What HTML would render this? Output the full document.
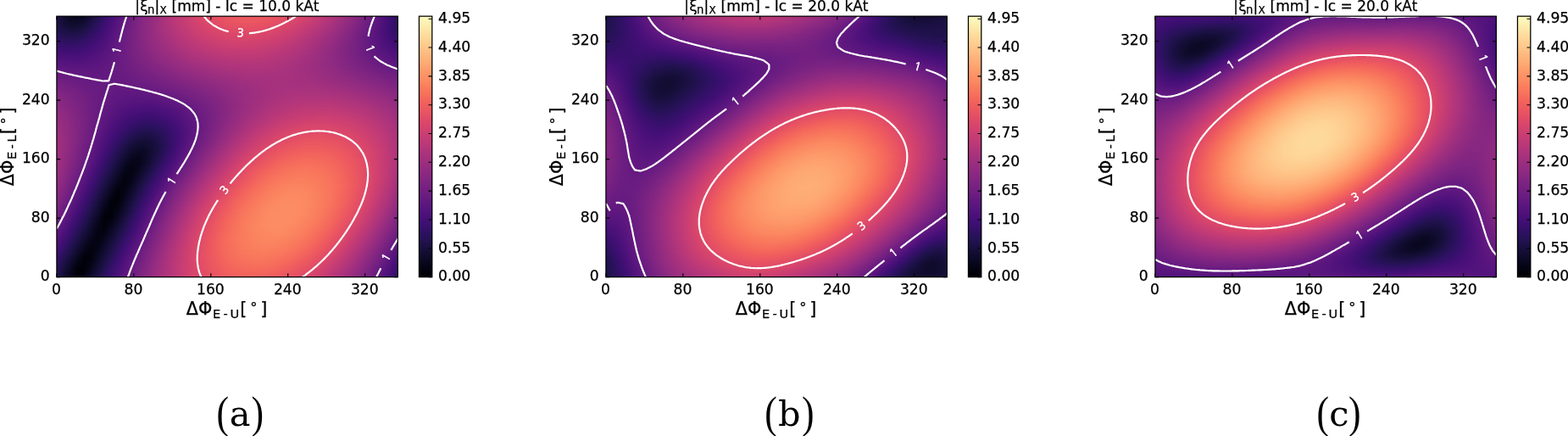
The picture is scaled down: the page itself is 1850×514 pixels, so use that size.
<!DOCTYPE html>
<html lang="en"><head><meta charset="utf-8"><title>figure</title><style>
html,body{margin:0;padding:0;background:#fff}
body{width:1850px;height:514px;overflow:hidden;position:relative}
.panel{position:absolute;top:0;width:560px;height:514px}
.heat{position:absolute;overflow:hidden}
.heat i{display:block;height:2px}
.cb{position:absolute}
.ov{position:absolute;left:0;top:0;overflow:visible}
text{font-family:"DejaVu Sans","Liberation Sans",sans-serif;fill:#000}
.cl{font-family:NanumGothic,"Liberation Sans","DejaVu Sans",sans-serif;font-size:13.2px;fill:#fff;stroke:#fff;stroke-width:0.6px;text-anchor:middle}
.tk text{font-size:17.2px;stroke:#000;stroke-width:0.25px}
.tt{font-size:17.0px;stroke:#000;stroke-width:0.25px;white-space:pre}
.tt .sb{font-size:12.0px}
.tt .sn{font-size:13.2px}
.lb{font-size:20.8px;stroke:#000;stroke-width:0.25px}
.lb .sb{font-size:14.6px}
.lb .dg{font-size:16.5px}
.caps{position:absolute;left:0;top:0;overflow:visible}
.cp{font-family:"Liberation Serif","DejaVu Serif",serif;font-size:52px}
.cq{font-family:"DejaVu Serif","Liberation Serif",serif;font-size:41.5px}
</style></head><body>
<div class="panel" style="left:0.00px">
<div class="heat" style="left:67px;top:19px;width:402px;height:308px"><i style="background:linear-gradient(90deg,#20114b,#130d34,#0a0822,#07061c,#0b0924,#150e38,#221150,#331067,#440f76,#52137c,#621980,#701f81,#7c2382,#892881,#962c80,#a1307e,#ad347c,#b83779,#c23b75,#ca3e72,#d3436e,#d9466b,#df4a68,#e44f64,#e85362,#eb5760,#ec5860,#ed5a5f,#ee5b5e,#ee5b5e,#ed5a5f,#eb5760,#e95462,#e75263,#e34e65,#de4968,#d8456c,#d0416f,#c83e73,#bf3a77,#b5367a,#ab337c,#a02f7f,#942c80,#882781,#792282,#6d1d81,#5d177f,#4f127b,#3f0f72,#2d1161)"></i><i style="background:linear-gradient(90deg,#20114b,#130d34,#0b0924,#090720,#0d0a29,#180f3d,#241253,#341069,#451077,#54137d,#621980,#701f81,#7e2482,#8b2981,#962c80,#a1307e,#ad347c,#b83779,#c03a76,#ca3e72,#d2426f,#d9466b,#df4a68,#e34e65,#e75263,#e95462,#eb5760,#ec5860,#ed5a5f,#ec5860,#eb5760,#ea5661,#e85362,#e44f64,#e04c67,#db476a,#d5446d,#cf4070,#c53c74,#bd3977,#b3367a,#aa337d,#9e2f7f,#912b81,#862781,#782281,#6b1d81,#5d177f,#4e117b,#3d0f71,#2c115f)"></i><i style="background:linear-gradient(90deg,#20114b,#140e36,#0c0926,#0b0924,#100b2d,#1a1042,#271258,#36106b,#471078,#56147d,#641a80,#721f81,#7e2482,#8b2981,#962c80,#a1307e,#ad347c,#b73779,#c03a76,#c83e73,#d0416f,#d8456c,#de4968,#e24d66,#e55064,#e85362,#ea5661,#eb5760,#eb5760,#eb5760,#ea5661,#e85362,#e55064,#e34e65,#de4968,#d9466b,#d3436e,#cc3f71,#c43c75,#ba3878,#b2357b,#a6317d,#9b2e7f,#902a81,#832681,#762181,#6a1c81,#5c167f,#4c117a,#3d0f71,#2c115f)"></i><i style="background:linear-gradient(90deg,#20114b,#140e36,#0e0b2b,#0d0a29,#120d31,#1c1044,#29115a,#38106c,#491078,#57157e,#651a80,#721f81,#7e2482,#8b2981,#962c80,#a1307e,#ad347c,#b73779,#c03a76,#c83e73,#d0416f,#d6456c,#dc4869,#e04c67,#e44f64,#e75263,#e95462,#ea5661,#ea5661,#ea5661,#e95462,#e75263,#e44f64,#e04c67,#dc4869,#d6456c,#d0416f,#c83e73,#c03a76,#b83779,#ae347b,#a5317e,#992d80,#8e2a81,#812581,#752181,#681c81,#5a167e,#4c117a,#3b0f70,#2c115f)"></i><i style="background:linear-gradient(90deg,#20114b,#150e38,#100b2d,#100b2d,#140e36,#1e1149,#2c115f,#3b0f70,#4a1079,#59157e,#651a80,#732081,#802582,#8b2981,#962c80,#a1307e,#ad347c,#b73779,#bf3a77,#c73d73,#cf4070,#d5446d,#db476a,#df4a68,#e34e65,#e55064,#e75263,#e85362,#e85362,#e85362,#e75263,#e44f64,#e24d66,#df4a68,#d9466b,#d5446d,#cd4071,#c73d73,#bf3a77,#b73779,#ad347c,#a1307e,#982d80,#8c2981,#802582,#732081,#671b80,#59157e,#4a1079,#3b0f70,#2c115f)"></i><i style="background:linear-gradient(90deg,#21114e,#160f3b,#120d31,#120d31,#160f3b,#21114e,#2d1161,#3d0f71,#4c117a,#59157e,#671b80,#732081,#802582,#8b2981,#962c80,#a1307e,#ab337c,#b5367a,#bf3a77,#c73d73,#cd4071,#d3436e,#d9466b,#de4968,#e24d66,#e44f64,#e55064,#e75263,#e75263,#e75263,#e55064,#e34e65,#e04c67,#dc4869,#d8456c,#d2426f,#cc3f71,#c43c75,#bc3978,#b3367a,#aa337d,#a02f7f,#962c80,#8b2981,#7e2482,#721f81,#651a80,#59157e,#4a1079,#3b0f70,#2c115f)"></i><i style="background:linear-gradient(90deg,#21114e,#19103f,#140e36,#140e36,#19103f,#221150,#2f1163,#3f0f72,#4e117b,#5a167e,#671b80,#732081,#802582,#8b2981,#962c80,#a1307e,#ab337c,#b5367a,#bd3977,#c53c74,#cc3f71,#d2426f,#d8456c,#dc4869,#df4a68,#e24d66,#e44f64,#e44f64,#e55064,#e44f64,#e34e65,#e04c67,#de4968,#d9466b,#d5446d,#d0416f,#c83e73,#c23b75,#ba3878,#b2357b,#a8327d,#9e2f7f,#932b80,#892881,#7c2382,#721f81,#651a80,#57157e,#4a1079,#3b0f70,#2c115f)"></i><i style="background:linear-gradient(90deg,#221150,#1a1042,#160f3b,#160f3b,#1c1044,#251255,#331067,#400f74,#4e117b,#5c167f,#681c81,#752181,#802582,#8b2981,#962c80,#a1307e,#ab337c,#b3367a,#bc3978,#c43c75,#ca3e72,#d0416f,#d6456c,#db476a,#de4968,#e04c67,#e24d66,#e34e65,#e34e65,#e34e65,#e24d66,#df4a68,#dc4869,#d8456c,#d3436e,#cd4071,#c73d73,#bf3a77,#b83779,#ae347b,#a6317d,#9c2e7f,#912b81,#882781,#7b2382,#701f81,#641a80,#57157e,#491078,#3b0f70,#2d1161)"></i><i style="background:linear-gradient(90deg,#241253,#1d1147,#19103f,#19103f,#1e1149,#29115a,#341069,#420f75,#4f127b,#5c167f,#681c81,#752181,#802582,#8b2981,#962c80,#a02f7f,#aa337d,#b3367a,#bc3978,#c23b75,#ca3e72,#cf4070,#d5446d,#d9466b,#dc4869,#df4a68,#e04c67,#e24d66,#e24d66,#e04c67,#df4a68,#dc4869,#d9466b,#d5446d,#d0416f,#cc3f71,#c43c75,#bd3977,#b5367a,#ad347c,#a5317e,#9b2e7f,#902a81,#862781,#7b2382,#6e1e81,#621980,#56147d,#491078,#3b0f70,#2d1161)"></i><i style="background:linear-gradient(90deg,#251255,#1e1149,#1c1044,#1c1044,#21114e,#2a115c,#36106b,#440f76,#51127c,#5d177f,#6a1c81,#752181,#812581,#8b2981,#962c80,#a02f7f,#aa337d,#b2357b,#ba3878,#c03a76,#c83e73,#cd4071,#d3436e,#d6456c,#db476a,#dc4869,#df4a68,#df4a68,#df4a68,#df4a68,#dc4869,#db476a,#d8456c,#d3436e,#cf4070,#c83e73,#c23b75,#bc3978,#b3367a,#ab337c,#a1307e,#982d80,#8e2a81,#842681,#792282,#6e1e81,#621980,#56147d,#491078,#3d0f71,#2f1163)"></i><i style="background:linear-gradient(90deg,#271258,#21114e,#1e1149,#20114b,#241253,#2d1161,#390f6e,#451077,#52137c,#5f187f,#6a1c81,#762181,#812581,#8b2981,#962c80,#a02f7f,#a8327d,#b0357b,#b83779,#c03a76,#c73d73,#cc3f71,#d0416f,#d5446d,#d8456c,#db476a,#dc4869,#de4968,#de4968,#dc4869,#db476a,#d8456c,#d5446d,#d0416f,#cc3f71,#c73d73,#c03a76,#b83779,#b2357b,#aa337d,#a02f7f,#962c80,#8c2981,#832681,#782281,#6d1d81,#621980,#56147d,#4a1079,#3d0f71,#311165)"></i><i style="background:linear-gradient(90deg,#2a115c,#241253,#21114e,#221150,#271258,#311165,#3b0f70,#471078,#54137d,#5f187f,#6b1d81,#762181,#812581,#8b2981,#942c80,#9e2f7f,#a8327d,#b0357b,#b73779,#bf3a77,#c53c74,#ca3e72,#cf4070,#d3436e,#d6456c,#d9466b,#db476a,#db476a,#db476a,#db476a,#d8456c,#d6456c,#d2426f,#cf4070,#ca3e72,#c43c75,#bd3977,#b73779,#ae347b,#a6317d,#9e2f7f,#942c80,#8b2981,#812581,#782281,#6d1d81,#601880,#56147d,#4a1079,#3f0f72,#331067)"></i><i style="background:linear-gradient(90deg,#2c115f,#251255,#241253,#251255,#2a115c,#331067,#3d0f71,#491078,#56147d,#601880,#6b1d81,#762181,#812581,#8b2981,#942c80,#9e2f7f,#a6317d,#ae347b,#b5367a,#bd3977,#c43c75,#c83e73,#cd4071,#d2426f,#d5446d,#d6456c,#d8456c,#d9466b,#d9466b,#d8456c,#d6456c,#d3436e,#d0416f,#cc3f71,#c73d73,#c23b75,#bc3978,#b5367a,#ad347c,#a5317e,#9c2e7f,#932b80,#8b2981,#802582,#762181,#6b1d81,#601880,#56147d,#4a1079,#3f0f72,#341069)"></i><i style="background:linear-gradient(90deg,#2f1163,#29115a,#271258,#29115a,#2d1161,#36106b,#400f74,#4a1079,#56147d,#601880,#6b1d81,#762181,#812581,#8b2981,#942c80,#9c2e7f,#a5317e,#ad347c,#b5367a,#bc3978,#c03a76,#c73d73,#cc3f71,#cf4070,#d2426f,#d5446d,#d6456c,#d6456c,#d6456c,#d5446d,#d3436e,#d2426f,#cd4071,#ca3e72,#c53c74,#bf3a77,#ba3878,#b2357b,#ab337c,#a3307e,#9b2e7f,#932b80,#892881,#802582,#762181,#6b1d81,#601880,#56147d,#4c117a,#400f74,#36106b)"></i><i style="background:linear-gradient(90deg,#311165,#2c115f,#2a115c,#2c115f,#311165,#38106c,#420f75,#4c117a,#57157e,#621980,#6d1d81,#762181,#802582,#892881,#932b80,#9b2e7f,#a5317e,#ab337c,#b3367a,#ba3878,#bf3a77,#c53c74,#c83e73,#cd4071,#d0416f,#d2426f,#d3436e,#d5446d,#d5446d,#d3436e,#d2426f,#cf4070,#cc3f71,#c73d73,#c23b75,#bd3977,#b73779,#b0357b,#aa337d,#a1307e,#992d80,#912b81,#882781,#7e2482,#752181,#6b1d81,#601880,#57157e,#4c117a,#420f75,#38106c)"></i><i style="background:linear-gradient(90deg,#341069,#2f1163,#2d1161,#2f1163,#341069,#3b0f70,#440f76,#4e117b,#59157e,#621980,#6d1d81,#762181,#802582,#892881,#932b80,#9b2e7f,#a3307e,#aa337d,#b2357b,#b83779,#bd3977,#c23b75,#c73d73,#ca3e72,#cd4071,#d0416f,#d2426f,#d2426f,#d2426f,#d0416f,#cf4070,#cd4071,#ca3e72,#c53c74,#c03a76,#bc3978,#b5367a,#ae347b,#a8327d,#a02f7f,#982d80,#902a81,#882781,#7e2482,#752181,#6b1d81,#601880,#57157e,#4e117b,#440f76,#3b0f70)"></i><i style="background:linear-gradient(90deg,#36106b,#331067,#311165,#331067,#36106b,#3f0f72,#471078,#4f127b,#59157e,#641a80,#6d1d81,#762181,#802582,#892881,#912b81,#992d80,#a1307e,#a8327d,#b0357b,#b5367a,#bc3978,#c03a76,#c53c74,#c83e73,#cc3f71,#cd4071,#cf4070,#d0416f,#cf4070,#cf4070,#cd4071,#ca3e72,#c73d73,#c43c75,#bf3a77,#b83779,#b3367a,#ad347c,#a6317d,#9e2f7f,#962c80,#8e2a81,#862781,#7e2482,#752181,#6b1d81,#621980,#59157e,#4f127b,#451077,#3d0f71)"></i><i style="background:linear-gradient(90deg,#390f6e,#36106b,#341069,#36106b,#390f6e,#400f74,#491078,#51127c,#5a167e,#641a80,#6d1d81,#762181,#802582,#882781,#912b81,#992d80,#a02f7f,#a8327d,#ae347b,#b3367a,#ba3878,#bf3a77,#c23b75,#c73d73,#c83e73,#cc3f71,#cd4071,#cd4071,#cd4071,#cc3f71,#ca3e72,#c83e73,#c53c74,#c03a76,#bc3978,#b73779,#b2357b,#ab337c,#a5317e,#9c2e7f,#962c80,#8e2a81,#862781,#7c2382,#752181,#6b1d81,#621980,#59157e,#4f127b,#471078,#400f74)"></i><i style="background:linear-gradient(90deg,#3d0f71,#390f6e,#38106c,#390f6e,#3d0f71,#440f76,#4a1079,#52137c,#5c167f,#641a80,#6d1d81,#762181,#802582,#882781,#902a81,#982d80,#9e2f7f,#a6317d,#ad347c,#b2357b,#b73779,#bc3978,#c03a76,#c43c75,#c73d73,#c83e73,#ca3e72,#ca3e72,#ca3e72,#ca3e72,#c83e73,#c53c74,#c23b75,#bf3a77,#ba3878,#b5367a,#b0357b,#aa337d,#a3307e,#9c2e7f,#942c80,#8c2981,#842681,#7c2382,#752181,#6b1d81,#621980,#5a167e,#51127c,#491078,#420f75)"></i><i style="background:linear-gradient(90deg,#400f74,#3d0f71,#3b0f70,#3d0f71,#400f74,#451077,#4c117a,#54137d,#5c167f,#651a80,#6d1d81,#762181,#7e2482,#862781,#8e2a81,#962c80,#9c2e7f,#a5317e,#aa337d,#b0357b,#b5367a,#ba3878,#bf3a77,#c23b75,#c43c75,#c73d73,#c73d73,#c83e73,#c83e73,#c73d73,#c53c74,#c43c75,#c03a76,#bd3977,#b83779,#b3367a,#ae347b,#a8327d,#a1307e,#9b2e7f,#942c80,#8c2981,#842681,#7c2382,#752181,#6b1d81,#641a80,#5c167f,#52137c,#4c117a,#451077)"></i><i style="background:linear-gradient(90deg,#440f76,#400f74,#3f0f72,#3f0f72,#420f75,#471078,#4e117b,#56147d,#5d177f,#651a80,#6d1d81,#762181,#7e2482,#862781,#8e2a81,#942c80,#9b2e7f,#a3307e,#a8327d,#ae347b,#b3367a,#b83779,#bc3978,#bf3a77,#c23b75,#c43c75,#c53c74,#c53c74,#c53c74,#c53c74,#c43c75,#c03a76,#bf3a77,#ba3878,#b73779,#b2357b,#ad347c,#a6317d,#a02f7f,#992d80,#932b80,#8c2981,#842681,#7c2382,#752181,#6d1d81,#651a80,#5c167f,#56147d,#4e117b,#471078)"></i><i style="background:linear-gradient(90deg,#451077,#420f75,#420f75,#420f75,#451077,#4a1079,#4f127b,#57157e,#5d177f,#651a80,#6d1d81,#762181,#7c2382,#842681,#8c2981,#932b80,#9b2e7f,#a02f7f,#a6317d,#ab337c,#b2357b,#b5367a,#ba3878,#bd3977,#bf3a77,#c23b75,#c23b75,#c43c75,#c43c75,#c23b75,#c03a76,#bf3a77,#bc3978,#b83779,#b5367a,#b0357b,#ab337c,#a5317e,#a02f7f,#992d80,#932b80,#8b2981,#842681,#7c2382,#752181,#6d1d81,#651a80,#5d177f,#57157e,#51127c,#4a1079)"></i><i style="background:linear-gradient(90deg,#491078,#451077,#451077,#451077,#491078,#4c117a,#52137c,#59157e,#5f187f,#671b80,#6d1d81,#752181,#7c2382,#842681,#8b2981,#912b81,#992d80,#9e2f7f,#a5317e,#aa337d,#ae347b,#b3367a,#b73779,#ba3878,#bd3977,#bf3a77,#c03a76,#c03a76,#c03a76,#c03a76,#bf3a77,#bd3977,#ba3878,#b73779,#b3367a,#ae347b,#aa337d,#a5317e,#9e2f7f,#982d80,#912b81,#8b2981,#842681,#7c2382,#752181,#6e1e81,#671b80,#5f187f,#59157e,#52137c,#4e117b)"></i><i style="background:linear-gradient(90deg,#4c117a,#491078,#471078,#491078,#4a1079,#4f127b,#54137d,#59157e,#5f187f,#671b80,#6d1d81,#752181,#7c2382,#832681,#892881,#912b81,#962c80,#9c2e7f,#a3307e,#a8327d,#ad347c,#b0357b,#b5367a,#b83779,#ba3878,#bc3978,#bd3977,#bf3a77,#bf3a77,#bd3977,#bd3977,#ba3878,#b83779,#b5367a,#b2357b,#ad347c,#a8327d,#a3307e,#9e2f7f,#982d80,#912b81,#8b2981,#842681,#7c2382,#762181,#6e1e81,#681c81,#601880,#5a167e,#54137d,#4f127b)"></i><i style="background:linear-gradient(90deg,#4f127b,#4c117a,#4a1079,#4c117a,#4e117b,#51127c,#56147d,#5a167e,#601880,#671b80,#6d1d81,#752181,#7b2382,#812581,#892881,#902a81,#942c80,#9b2e7f,#a02f7f,#a6317d,#aa337d,#ae347b,#b2357b,#b5367a,#b83779,#ba3878,#bc3978,#bc3978,#bc3978,#bc3978,#ba3878,#b83779,#b73779,#b3367a,#b0357b,#ab337c,#a6317d,#a1307e,#9c2e7f,#982d80,#912b81,#8b2981,#842681,#7e2482,#762181,#701f81,#6a1c81,#641a80,#5d177f,#57157e,#52137c)"></i><i style="background:linear-gradient(90deg,#52137c,#4f127b,#4e117b,#4e117b,#4f127b,#52137c,#57157e,#5c167f,#601880,#671b80,#6d1d81,#732081,#7b2382,#812581,#882781,#8e2a81,#932b80,#992d80,#9e2f7f,#a3307e,#a8327d,#ab337c,#b0357b,#b3367a,#b5367a,#b73779,#b83779,#ba3878,#ba3878,#ba3878,#b83779,#b73779,#b5367a,#b2357b,#ae347b,#aa337d,#a6317d,#a1307e,#9c2e7f,#962c80,#912b81,#8b2981,#842681,#7e2482,#782281,#721f81,#6b1d81,#651a80,#5f187f,#5a167e,#56147d)"></i><i style="background:linear-gradient(90deg,#54137d,#52137c,#51127c,#51127c,#52137c,#54137d,#59157e,#5c167f,#621980,#671b80,#6d1d81,#732081,#792282,#802582,#862781,#8c2981,#912b81,#982d80,#9c2e7f,#a1307e,#a6317d,#aa337d,#ad347c,#b0357b,#b3367a,#b5367a,#b73779,#b73779,#b73779,#b73779,#b73779,#b5367a,#b2357b,#b0357b,#ad347c,#aa337d,#a5317e,#a02f7f,#9b2e7f,#962c80,#912b81,#8b2981,#842681,#802582,#792282,#732081,#6d1d81,#671b80,#601880,#5c167f,#57157e)"></i><i style="background:linear-gradient(90deg,#57157e,#56147d,#54137d,#52137c,#54137d,#56147d,#59157e,#5d177f,#621980,#671b80,#6d1d81,#732081,#782281,#7e2482,#842681,#8b2981,#902a81,#942c80,#992d80,#9e2f7f,#a3307e,#a8327d,#ab337c,#ae347b,#b0357b,#b2357b,#b3367a,#b5367a,#b5367a,#b5367a,#b3367a,#b3367a,#b0357b,#ae347b,#ab337c,#a8327d,#a5317e,#a02f7f,#9b2e7f,#962c80,#912b81,#8b2981,#862781,#802582,#792282,#752181,#6e1e81,#681c81,#641a80,#5f187f,#5a167e)"></i><i style="background:linear-gradient(90deg,#5a167e,#57157e,#56147d,#56147d,#56147d,#59157e,#5a167e,#5f187f,#621980,#671b80,#6d1d81,#721f81,#782281,#7c2382,#832681,#882781,#8e2a81,#932b80,#982d80,#9c2e7f,#a1307e,#a5317e,#a8327d,#ab337c,#ae347b,#b0357b,#b2357b,#b2357b,#b3367a,#b3367a,#b2357b,#b2357b,#ae347b,#ad347c,#aa337d,#a8327d,#a3307e,#a02f7f,#9b2e7f,#962c80,#912b81,#8c2981,#862781,#812581,#7b2382,#762181,#701f81,#6b1d81,#651a80,#601880,#5d177f)"></i><i style="background:linear-gradient(90deg,#5d177f,#5a167e,#59157e,#59157e,#59157e,#5a167e,#5c167f,#5f187f,#641a80,#671b80,#6d1d81,#721f81,#762181,#7c2382,#812581,#862781,#8c2981,#912b81,#962c80,#9b2e7f,#9e2f7f,#a3307e,#a6317d,#aa337d,#ab337c,#ad347c,#ae347b,#b0357b,#b0357b,#b0357b,#b0357b,#b0357b,#ae347b,#ab337c,#aa337d,#a6317d,#a3307e,#a02f7f,#9b2e7f,#962c80,#912b81,#8c2981,#882781,#832681,#7c2382,#782281,#721f81,#6d1d81,#681c81,#641a80,#601880)"></i><i style="background:linear-gradient(90deg,#5f187f,#5d177f,#5c167f,#5a167e,#5a167e,#5c167f,#5d177f,#601880,#641a80,#671b80,#6b1d81,#701f81,#752181,#7b2382,#802582,#842681,#892881,#8e2a81,#932b80,#982d80,#9c2e7f,#a02f7f,#a3307e,#a6317d,#aa337d,#ab337c,#ad347c,#ae347b,#ae347b,#ae347b,#ae347b,#ae347b,#ad347c,#ab337c,#a8327d,#a6317d,#a3307e,#9e2f7f,#9b2e7f,#962c80,#932b80,#8e2a81,#892881,#832681,#7e2482,#792282,#752181,#701f81,#6a1c81,#671b80,#621980)"></i><i style="background:linear-gradient(90deg,#621980,#5f187f,#5d177f,#5c167f,#5c167f,#5d177f,#5f187f,#601880,#641a80,#671b80,#6b1d81,#701f81,#752181,#792282,#7e2482,#832681,#882781,#8c2981,#912b81,#962c80,#992d80,#9e2f7f,#a1307e,#a5317e,#a6317d,#aa337d,#ab337c,#ab337c,#ad347c,#ad347c,#ad347c,#ad347c,#ab337c,#aa337d,#a8327d,#a5317e,#a1307e,#9e2f7f,#9b2e7f,#982d80,#932b80,#8e2a81,#892881,#842681,#802582,#7b2382,#762181,#721f81,#6d1d81,#681c81,#651a80)"></i><i style="background:linear-gradient(90deg,#651a80,#621980,#601880,#5f187f,#5d177f,#5f187f,#5f187f,#621980,#641a80,#671b80,#6b1d81,#6e1e81,#732081,#782281,#7c2382,#812581,#862781,#8b2981,#902a81,#932b80,#982d80,#9b2e7f,#9e2f7f,#a1307e,#a5317e,#a6317d,#a8327d,#aa337d,#ab337c,#ab337c,#ab337c,#ab337c,#aa337d,#a8327d,#a6317d,#a5317e,#a1307e,#a02f7f,#9b2e7f,#982d80,#942c80,#902a81,#8b2981,#862781,#812581,#7c2382,#782281,#732081,#701f81,#6b1d81,#681c81)"></i><i style="background:linear-gradient(90deg,#671b80,#651a80,#621980,#601880,#601880,#601880,#601880,#621980,#641a80,#671b80,#6a1c81,#6e1e81,#721f81,#762181,#7b2382,#802582,#842681,#882781,#8c2981,#912b81,#942c80,#992d80,#9c2e7f,#a02f7f,#a1307e,#a5317e,#a6317d,#a8327d,#aa337d,#aa337d,#aa337d,#aa337d,#aa337d,#a8327d,#a6317d,#a5317e,#a1307e,#a02f7f,#9c2e7f,#992d80,#942c80,#912b81,#8c2981,#882781,#842681,#802582,#7b2382,#762181,#721f81,#6e1e81,#6a1c81)"></i><i style="background:linear-gradient(90deg,#6a1c81,#671b80,#651a80,#621980,#621980,#601880,#621980,#621980,#641a80,#671b80,#6a1c81,#6d1d81,#701f81,#752181,#792282,#7c2382,#812581,#862781,#8b2981,#8e2a81,#932b80,#962c80,#992d80,#9c2e7f,#a02f7f,#a1307e,#a5317e,#a6317d,#a8327d,#a8327d,#a8327d,#a8327d,#a8327d,#a8327d,#a6317d,#a5317e,#a1307e,#a02f7f,#9c2e7f,#992d80,#962c80,#932b80,#8e2a81,#892881,#862781,#812581,#7c2382,#782281,#752181,#701f81,#6d1d81)"></i><i style="background:linear-gradient(90deg,#6d1d81,#6a1c81,#671b80,#651a80,#641a80,#621980,#621980,#641a80,#651a80,#671b80,#681c81,#6b1d81,#701f81,#732081,#762181,#7b2382,#802582,#842681,#882781,#8c2981,#902a81,#942c80,#982d80,#9b2e7f,#9e2f7f,#a02f7f,#a1307e,#a5317e,#a6317d,#a6317d,#a8327d,#a8327d,#a8327d,#a6317d,#a6317d,#a5317e,#a3307e,#a02f7f,#9e2f7f,#9b2e7f,#982d80,#932b80,#902a81,#8c2981,#882781,#832681,#802582,#7b2382,#762181,#732081,#701f81)"></i><i style="background:linear-gradient(90deg,#6e1e81,#6b1d81,#681c81,#671b80,#651a80,#641a80,#641a80,#641a80,#651a80,#671b80,#681c81,#6b1d81,#6e1e81,#721f81,#752181,#792282,#7c2382,#812581,#862781,#892881,#8e2a81,#912b81,#942c80,#982d80,#9b2e7f,#9e2f7f,#a02f7f,#a3307e,#a5317e,#a5317e,#a6317d,#a6317d,#a6317d,#a6317d,#a6317d,#a5317e,#a3307e,#a1307e,#9e2f7f,#9b2e7f,#982d80,#942c80,#912b81,#8e2a81,#892881,#862781,#812581,#7e2482,#792282,#762181,#721f81)"></i><i style="background:linear-gradient(90deg,#721f81,#6e1e81,#6b1d81,#681c81,#671b80,#651a80,#641a80,#641a80,#651a80,#651a80,#671b80,#6a1c81,#6d1d81,#701f81,#732081,#782281,#7b2382,#802582,#832681,#882781,#8b2981,#902a81,#932b80,#962c80,#992d80,#9c2e7f,#9e2f7f,#a1307e,#a3307e,#a5317e,#a5317e,#a6317d,#a6317d,#a6317d,#a5317e,#a5317e,#a3307e,#a1307e,#a02f7f,#9c2e7f,#992d80,#962c80,#932b80,#902a81,#8c2981,#882781,#842681,#802582,#7c2382,#782281,#752181)"></i><i style="background:linear-gradient(90deg,#732081,#701f81,#6d1d81,#6a1c81,#681c81,#671b80,#651a80,#641a80,#651a80,#651a80,#671b80,#681c81,#6b1d81,#6e1e81,#721f81,#752181,#792282,#7c2382,#812581,#842681,#892881,#8c2981,#902a81,#942c80,#982d80,#992d80,#9c2e7f,#a02f7f,#a1307e,#a3307e,#a5317e,#a5317e,#a6317d,#a6317d,#a6317d,#a5317e,#a3307e,#a3307e,#a02f7f,#9e2f7f,#9b2e7f,#982d80,#942c80,#912b81,#8e2a81,#8b2981,#862781,#832681,#7e2482,#7b2382,#762181)"></i><i style="background:linear-gradient(90deg,#762181,#721f81,#6e1e81,#6b1d81,#6a1c81,#671b80,#651a80,#651a80,#641a80,#651a80,#651a80,#671b80,#6a1c81,#6d1d81,#701f81,#732081,#762181,#7b2382,#7e2482,#832681,#862781,#8b2981,#8e2a81,#912b81,#942c80,#982d80,#9b2e7f,#9e2f7f,#a02f7f,#a1307e,#a3307e,#a5317e,#a5317e,#a6317d,#a6317d,#a5317e,#a5317e,#a3307e,#a1307e,#a02f7f,#9c2e7f,#9b2e7f,#982d80,#942c80,#902a81,#8c2981,#892881,#842681,#812581,#7c2382,#792282)"></i><i style="background:linear-gradient(90deg,#782281,#752181,#701f81,#6d1d81,#6a1c81,#681c81,#671b80,#651a80,#641a80,#641a80,#651a80,#671b80,#681c81,#6a1c81,#6d1d81,#701f81,#752181,#782281,#7c2382,#802582,#842681,#882781,#8c2981,#902a81,#932b80,#962c80,#992d80,#9c2e7f,#9e2f7f,#a1307e,#a3307e,#a5317e,#a5317e,#a6317d,#a6317d,#a6317d,#a5317e,#a5317e,#a3307e,#a1307e,#9e2f7f,#9c2e7f,#992d80,#962c80,#932b80,#902a81,#8b2981,#882781,#832681,#802582,#7b2382)"></i><i style="background:linear-gradient(90deg,#792282,#762181,#721f81,#6e1e81,#6b1d81,#681c81,#671b80,#651a80,#641a80,#641a80,#641a80,#651a80,#671b80,#681c81,#6b1d81,#6e1e81,#721f81,#762181,#792282,#7e2482,#812581,#862781,#892881,#8e2a81,#912b81,#942c80,#982d80,#9b2e7f,#9e2f7f,#a02f7f,#a3307e,#a5317e,#a5317e,#a6317d,#a6317d,#a6317d,#a6317d,#a6317d,#a5317e,#a3307e,#a1307e,#9e2f7f,#9b2e7f,#982d80,#942c80,#912b81,#8e2a81,#892881,#862781,#812581,#7e2482)"></i><i style="background:linear-gradient(90deg,#7c2382,#782281,#752181,#701f81,#6d1d81,#6a1c81,#671b80,#651a80,#641a80,#621980,#621980,#641a80,#651a80,#671b80,#6a1c81,#6b1d81,#701f81,#732081,#782281,#7b2382,#802582,#832681,#882781,#8b2981,#902a81,#932b80,#962c80,#992d80,#9c2e7f,#a02f7f,#a1307e,#a5317e,#a5317e,#a6317d,#a8327d,#a8327d,#a8327d,#a6317d,#a6317d,#a5317e,#a3307e,#a02f7f,#9e2f7f,#9b2e7f,#982d80,#942c80,#902a81,#8c2981,#882781,#842681,#802582)"></i><i style="background:linear-gradient(90deg,#7e2482,#792282,#762181,#721f81,#6e1e81,#6a1c81,#681c81,#651a80,#641a80,#621980,#621980,#621980,#641a80,#651a80,#671b80,#6a1c81,#6d1d81,#701f81,#752181,#792282,#7c2382,#812581,#862781,#892881,#8e2a81,#912b81,#962c80,#992d80,#9c2e7f,#a02f7f,#a1307e,#a5317e,#a6317d,#a6317d,#a8327d,#a8327d,#a8327d,#a8327d,#a8327d,#a6317d,#a5317e,#a3307e,#a02f7f,#9c2e7f,#992d80,#962c80,#932b80,#8e2a81,#8b2981,#862781,#832681)"></i><i style="background:linear-gradient(90deg,#802582,#7b2382,#782281,#732081,#6e1e81,#6b1d81,#681c81,#651a80,#621980,#601880,#601880,#601880,#601880,#621980,#651a80,#671b80,#6b1d81,#6e1e81,#721f81,#762181,#7b2382,#802582,#832681,#882781,#8c2981,#902a81,#942c80,#982d80,#9b2e7f,#9e2f7f,#a1307e,#a5317e,#a6317d,#a8327d,#aa337d,#aa337d,#aa337d,#aa337d,#aa337d,#a8327d,#a6317d,#a5317e,#a3307e,#a02f7f,#9c2e7f,#992d80,#942c80,#912b81,#8c2981,#892881,#842681)"></i><i style="background:linear-gradient(90deg,#832681,#7e2482,#792282,#752181,#701f81,#6b1d81,#681c81,#651a80,#621980,#601880,#5f187f,#5f187f,#5f187f,#601880,#621980,#651a80,#681c81,#6b1d81,#701f81,#752181,#782281,#7c2382,#812581,#862781,#8b2981,#902a81,#932b80,#982d80,#9b2e7f,#9e2f7f,#a1307e,#a5317e,#a6317d,#a8327d,#aa337d,#ab337c,#ab337c,#ab337c,#ab337c,#aa337d,#aa337d,#a6317d,#a5317e,#a1307e,#9e2f7f,#9b2e7f,#982d80,#932b80,#902a81,#8b2981,#862781)"></i><i style="background:linear-gradient(90deg,#842681,#802582,#7b2382,#752181,#721f81,#6d1d81,#681c81,#651a80,#621980,#5f187f,#5d177f,#5d177f,#5d177f,#5f187f,#601880,#621980,#651a80,#6a1c81,#6d1d81,#721f81,#762181,#7b2382,#802582,#842681,#892881,#8e2a81,#932b80,#962c80,#9b2e7f,#9e2f7f,#a1307e,#a5317e,#a8327d,#aa337d,#ab337c,#ad347c,#ad347c,#ad347c,#ad347c,#ad347c,#ab337c,#aa337d,#a6317d,#a5317e,#a1307e,#9e2f7f,#992d80,#962c80,#912b81,#8c2981,#882781)"></i><i style="background:linear-gradient(90deg,#862781,#812581,#7b2382,#762181,#721f81,#6d1d81,#681c81,#651a80,#601880,#5f187f,#5c167f,#5c167f,#5c167f,#5c167f,#5d177f,#601880,#641a80,#671b80,#6b1d81,#701f81,#752181,#792282,#7e2482,#832681,#882781,#8c2981,#912b81,#962c80,#9b2e7f,#9e2f7f,#a1307e,#a5317e,#a8327d,#ab337c,#ad347c,#ae347b,#ae347b,#ae347b,#ae347b,#ae347b,#ad347c,#ab337c,#aa337d,#a6317d,#a3307e,#a02f7f,#9c2e7f,#982d80,#942c80,#902a81,#8b2981)"></i><i style="background:linear-gradient(90deg,#882781,#832681,#7c2382,#782281,#732081,#6d1d81,#681c81,#641a80,#601880,#5d177f,#5c167f,#5a167e,#59157e,#5a167e,#5c167f,#5d177f,#601880,#651a80,#681c81,#6d1d81,#721f81,#782281,#7c2382,#812581,#882781,#8c2981,#912b81,#962c80,#9b2e7f,#9e2f7f,#a3307e,#a6317d,#aa337d,#ab337c,#ae347b,#b0357b,#b0357b,#b2357b,#b2357b,#b0357b,#b0357b,#ae347b,#ab337c,#aa337d,#a6317d,#a3307e,#9e2f7f,#9b2e7f,#962c80,#912b81,#8c2981)"></i><i style="background:linear-gradient(90deg,#892881,#842681,#7e2482,#792282,#732081,#6e1e81,#681c81,#641a80,#601880,#5c167f,#5a167e,#59157e,#57157e,#57157e,#59157e,#5c167f,#5d177f,#621980,#671b80,#6b1d81,#701f81,#762181,#7b2382,#802582,#862781,#8b2981,#912b81,#962c80,#9b2e7f,#9e2f7f,#a3307e,#a6317d,#aa337d,#ad347c,#ae347b,#b2357b,#b2357b,#b3367a,#b3367a,#b3367a,#b2357b,#b0357b,#ae347b,#ab337c,#aa337d,#a5317e,#a1307e,#9c2e7f,#982d80,#932b80,#8e2a81)"></i><i style="background:linear-gradient(90deg,#8b2981,#862781,#802582,#792282,#732081,#6e1e81,#681c81,#641a80,#5f187f,#5c167f,#59157e,#56147d,#56147d,#56147d,#56147d,#59157e,#5c167f,#5f187f,#641a80,#681c81,#6e1e81,#732081,#792282,#802582,#842681,#8b2981,#902a81,#962c80,#9b2e7f,#a02f7f,#a3307e,#a8327d,#ab337c,#ae347b,#b0357b,#b3367a,#b5367a,#b5367a,#b5367a,#b5367a,#b5367a,#b3367a,#b0357b,#ae347b,#ab337c,#a8327d,#a3307e,#a02f7f,#9b2e7f,#962c80,#902a81)"></i><i style="background:linear-gradient(90deg,#8c2981,#862781,#812581,#7b2382,#752181,#6e1e81,#681c81,#641a80,#5f187f,#5a167e,#57157e,#54137d,#52137c,#52137c,#54137d,#56147d,#59157e,#5d177f,#621980,#671b80,#6d1d81,#721f81,#782281,#7e2482,#842681,#8b2981,#902a81,#962c80,#9b2e7f,#a02f7f,#a5317e,#a8327d,#ad347c,#b0357b,#b2357b,#b5367a,#b73779,#b73779,#b83779,#b83779,#b73779,#b5367a,#b3367a,#b0357b,#ae347b,#aa337d,#a6317d,#a1307e,#9c2e7f,#982d80,#912b81)"></i><i style="background:linear-gradient(90deg,#8e2a81,#882781,#812581,#7b2382,#752181,#6e1e81,#681c81,#621980,#5d177f,#59157e,#56147d,#52137c,#51127c,#51127c,#51127c,#52137c,#57157e,#5a167e,#5f187f,#651a80,#6a1c81,#701f81,#762181,#7c2382,#832681,#892881,#902a81,#962c80,#9b2e7f,#a02f7f,#a5317e,#aa337d,#ae347b,#b2357b,#b5367a,#b73779,#b83779,#ba3878,#ba3878,#ba3878,#ba3878,#b83779,#b73779,#b3367a,#b0357b,#ad347c,#a8327d,#a3307e,#9e2f7f,#992d80,#942c80)"></i><i style="background:linear-gradient(90deg,#902a81,#892881,#832681,#7c2382,#752181,#6e1e81,#681c81,#621980,#5c167f,#57157e,#54137d,#51127c,#4e117b,#4e117b,#4e117b,#51127c,#54137d,#59157e,#5d177f,#621980,#681c81,#6e1e81,#762181,#7c2382,#832681,#892881,#902a81,#962c80,#9c2e7f,#a1307e,#a6317d,#ab337c,#b0357b,#b3367a,#b73779,#b83779,#ba3878,#bc3978,#bc3978,#bc3978,#bc3978,#ba3878,#b83779,#b5367a,#b3367a,#ae347b,#ab337c,#a6317d,#a1307e,#9b2e7f,#962c80)"></i><i style="background:linear-gradient(90deg,#912b81,#8b2981,#842681,#7c2382,#762181,#6e1e81,#681c81,#621980,#5c167f,#56147d,#51127c,#4e117b,#4c117a,#4a1079,#4c117a,#4e117b,#51127c,#56147d,#5a167e,#601880,#671b80,#6e1e81,#752181,#7b2382,#832681,#892881,#902a81,#962c80,#9c2e7f,#a3307e,#a8327d,#ad347c,#b0357b,#b5367a,#b83779,#ba3878,#bd3977,#bf3a77,#bf3a77,#bf3a77,#bf3a77,#bd3977,#bc3978,#b83779,#b5367a,#b2357b,#ad347c,#a8327d,#a3307e,#9c2e7f,#982d80)"></i><i style="background:linear-gradient(90deg,#932b80,#8c2981,#842681,#7e2482,#762181,#6e1e81,#681c81,#601880,#5a167e,#54137d,#4f127b,#4c117a,#491078,#491078,#491078,#4a1079,#4e117b,#52137c,#59157e,#5f187f,#651a80,#6d1d81,#732081,#7b2382,#832681,#892881,#902a81,#982d80,#9c2e7f,#a3307e,#aa337d,#ae347b,#b3367a,#b73779,#ba3878,#bd3977,#bf3a77,#c03a76,#c03a76,#c03a76,#c03a76,#bf3a77,#bd3977,#ba3878,#b83779,#b3367a,#ae347b,#aa337d,#a5317e,#a02f7f,#992d80)"></i><i style="background:linear-gradient(90deg,#942c80,#8c2981,#862781,#7e2482,#762181,#6e1e81,#681c81,#601880,#5a167e,#54137d,#4e117b,#491078,#471078,#451077,#451077,#491078,#4c117a,#51127c,#57157e,#5d177f,#641a80,#6b1d81,#732081,#7b2382,#812581,#892881,#912b81,#982d80,#9e2f7f,#a5317e,#aa337d,#b0357b,#b5367a,#b83779,#bc3978,#bf3a77,#c23b75,#c23b75,#c43c75,#c43c75,#c43c75,#c23b75,#c03a76,#bd3977,#ba3878,#b73779,#b2357b,#ad347c,#a6317d,#a1307e,#9b2e7f)"></i><i style="background:linear-gradient(90deg,#962c80,#8e2a81,#862781,#7e2482,#762181,#6e1e81,#671b80,#5f187f,#59157e,#52137c,#4c117a,#471078,#440f76,#420f75,#420f75,#451077,#491078,#4e117b,#54137d,#5c167f,#621980,#6a1c81,#721f81,#792282,#812581,#892881,#912b81,#982d80,#a02f7f,#a6317d,#ab337c,#b2357b,#b73779,#ba3878,#bf3a77,#c23b75,#c43c75,#c53c74,#c53c74,#c73d73,#c53c74,#c43c75,#c23b75,#bf3a77,#bc3978,#b83779,#b3367a,#ae347b,#a8327d,#a3307e,#9c2e7f)"></i><i style="background:linear-gradient(90deg,#962c80,#902a81,#882781,#802582,#782281,#6e1e81,#671b80,#5f187f,#57157e,#51127c,#4a1079,#451077,#400f74,#3f0f72,#400f74,#420f75,#471078,#4c117a,#52137c,#5a167e,#621980,#6a1c81,#721f81,#792282,#812581,#892881,#912b81,#992d80,#a02f7f,#a8327d,#ad347c,#b3367a,#b83779,#bd3977,#c03a76,#c43c75,#c53c74,#c73d73,#c83e73,#c83e73,#c83e73,#c73d73,#c53c74,#c23b75,#bf3a77,#ba3878,#b5367a,#b0357b,#ab337c,#a5317e,#9c2e7f)"></i><i style="background:linear-gradient(90deg,#982d80,#902a81,#882781,#802582,#782281,#6e1e81,#671b80,#5d177f,#56147d,#4f127b,#471078,#420f75,#3f0f72,#3d0f71,#3d0f71,#3f0f72,#440f76,#4a1079,#51127c,#59157e,#601880,#681c81,#721f81,#792282,#832681,#8b2981,#932b80,#9b2e7f,#a1307e,#a8327d,#ae347b,#b5367a,#ba3878,#bf3a77,#c23b75,#c53c74,#c83e73,#ca3e72,#cc3f71,#cc3f71,#ca3e72,#c83e73,#c73d73,#c43c75,#c03a76,#bd3977,#b83779,#b2357b,#ad347c,#a6317d,#9e2f7f)"></i><i style="background:linear-gradient(90deg,#992d80,#912b81,#892881,#802582,#782281,#6e1e81,#651a80,#5d177f,#56147d,#4e117b,#451077,#400f74,#3b0f70,#390f6e,#390f6e,#3d0f71,#400f74,#471078,#4f127b,#57157e,#5f187f,#681c81,#721f81,#792282,#832681,#8b2981,#932b80,#9b2e7f,#a3307e,#aa337d,#b2357b,#b73779,#bd3977,#c03a76,#c53c74,#c83e73,#ca3e72,#cc3f71,#cd4071,#cd4071,#cd4071,#cc3f71,#ca3e72,#c73d73,#c43c75,#bf3a77,#ba3878,#b3367a,#ae347b,#a8327d,#a02f7f)"></i><i style="background:linear-gradient(90deg,#9b2e7f,#912b81,#892881,#812581,#782281,#6e1e81,#651a80,#5c167f,#54137d,#4a1079,#440f76,#3d0f71,#38106c,#36106b,#36106b,#390f6e,#3f0f72,#451077,#4e117b,#56147d,#5f187f,#681c81,#701f81,#792282,#832681,#8c2981,#942c80,#9c2e7f,#a5317e,#ad347c,#b3367a,#b83779,#bf3a77,#c43c75,#c73d73,#ca3e72,#cd4071,#cf4070,#d0416f,#d0416f,#cf4070,#cd4071,#cc3f71,#c83e73,#c53c74,#c03a76,#bc3978,#b73779,#b0357b,#a8327d,#a1307e)"></i><i style="background:linear-gradient(90deg,#9b2e7f,#932b80,#892881,#812581,#782281,#6e1e81,#651a80,#5c167f,#52137c,#491078,#400f74,#390f6e,#36106b,#331067,#331067,#36106b,#3b0f70,#440f76,#4c117a,#54137d,#5d177f,#671b80,#701f81,#7b2382,#832681,#8c2981,#962c80,#9e2f7f,#a6317d,#ae347b,#b5367a,#bc3978,#c03a76,#c53c74,#ca3e72,#cd4071,#cf4070,#d2426f,#d2426f,#d2426f,#d2426f,#d0416f,#cd4071,#cc3f71,#c73d73,#c23b75,#bd3977,#b83779,#b2357b,#aa337d,#a3307e)"></i><i style="background:linear-gradient(90deg,#9c2e7f,#932b80,#8b2981,#812581,#782281,#6e1e81,#641a80,#5a167e,#51127c,#471078,#3f0f72,#38106c,#331067,#2f1163,#2f1163,#331067,#390f6e,#400f74,#4a1079,#54137d,#5d177f,#671b80,#721f81,#7b2382,#842681,#8e2a81,#982d80,#a02f7f,#a8327d,#b0357b,#b73779,#bd3977,#c43c75,#c83e73,#cc3f71,#cf4070,#d2426f,#d3436e,#d5446d,#d5446d,#d3436e,#d2426f,#d0416f,#cd4071,#ca3e72,#c53c74,#bf3a77,#ba3878,#b3367a,#ab337c,#a3307e)"></i><i style="background:linear-gradient(90deg,#9c2e7f,#942c80,#8b2981,#812581,#782281,#6d1d81,#641a80,#59157e,#4f127b,#451077,#3d0f71,#341069,#2f1163,#2c115f,#2d1161,#311165,#36106b,#3f0f72,#491078,#52137c,#5d177f,#671b80,#721f81,#7b2382,#862781,#902a81,#982d80,#a1307e,#aa337d,#b2357b,#b83779,#bf3a77,#c53c74,#ca3e72,#cf4070,#d2426f,#d5446d,#d6456c,#d6456c,#d6456c,#d6456c,#d5446d,#d2426f,#cf4070,#cc3f71,#c73d73,#c03a76,#bc3978,#b3367a,#ad347c,#a5317e)"></i><i style="background:linear-gradient(90deg,#9e2f7f,#942c80,#8b2981,#812581,#782281,#6d1d81,#621980,#59157e,#4e117b,#440f76,#390f6e,#311165,#2c115f,#2a115c,#2a115c,#2d1161,#341069,#3d0f71,#471078,#52137c,#5c167f,#671b80,#721f81,#7c2382,#862781,#902a81,#992d80,#a3307e,#ab337c,#b3367a,#bc3978,#c23b75,#c73d73,#cd4071,#d0416f,#d5446d,#d6456c,#d8456c,#d9466b,#d9466b,#d8456c,#d6456c,#d5446d,#d2426f,#cd4071,#c83e73,#c43c75,#bd3977,#b5367a,#ae347b,#a6317d)"></i><i style="background:linear-gradient(90deg,#9e2f7f,#962c80,#8b2981,#812581,#782281,#6d1d81,#621980,#57157e,#4c117a,#420f75,#38106c,#2f1163,#29115a,#271258,#271258,#2c115f,#331067,#3b0f70,#471078,#51127c,#5c167f,#671b80,#721f81,#7c2382,#882781,#912b81,#9b2e7f,#a5317e,#ad347c,#b73779,#bd3977,#c43c75,#ca3e72,#cf4070,#d3436e,#d6456c,#d9466b,#db476a,#db476a,#db476a,#db476a,#d9466b,#d6456c,#d3436e,#cf4070,#ca3e72,#c53c74,#bf3a77,#b73779,#ae347b,#a6317d)"></i><i style="background:linear-gradient(90deg,#a02f7f,#962c80,#8c2981,#812581,#762181,#6b1d81,#601880,#56147d,#4a1079,#3f0f72,#341069,#2c115f,#251255,#241253,#241253,#29115a,#311165,#3b0f70,#451077,#51127c,#5c167f,#681c81,#732081,#7e2482,#892881,#932b80,#9c2e7f,#a6317d,#b0357b,#b83779,#c03a76,#c73d73,#cc3f71,#d2426f,#d5446d,#d9466b,#db476a,#dc4869,#de4968,#de4968,#dc4869,#db476a,#d8456c,#d5446d,#d0416f,#cc3f71,#c73d73,#c03a76,#b83779,#b0357b,#a8327d)"></i><i style="background:linear-gradient(90deg,#a02f7f,#962c80,#8c2981,#812581,#762181,#6b1d81,#601880,#54137d,#491078,#3d0f71,#331067,#29115a,#241253,#21114e,#221150,#271258,#2f1163,#390f6e,#451077,#51127c,#5d177f,#681c81,#732081,#802582,#892881,#942c80,#9e2f7f,#a8327d,#b2357b,#ba3878,#c23b75,#c83e73,#cf4070,#d3436e,#d8456c,#db476a,#de4968,#df4a68,#df4a68,#df4a68,#df4a68,#dc4869,#db476a,#d6456c,#d3436e,#cd4071,#c83e73,#c03a76,#ba3878,#b2357b,#a8327d)"></i><i style="background:linear-gradient(90deg,#a1307e,#962c80,#8c2981,#812581,#762181,#6b1d81,#5f187f,#54137d,#471078,#3b0f70,#2f1163,#271258,#21114e,#1e1149,#20114b,#251255,#2d1161,#38106c,#451077,#51127c,#5d177f,#681c81,#752181,#802582,#8b2981,#962c80,#a1307e,#ab337c,#b3367a,#bd3977,#c43c75,#cc3f71,#d2426f,#d6456c,#db476a,#de4968,#df4a68,#e04c67,#e24d66,#e24d66,#e04c67,#df4a68,#dc4869,#d9466b,#d5446d,#cf4070,#ca3e72,#c23b75,#bc3978,#b2357b,#aa337d)"></i><i style="background:linear-gradient(90deg,#a1307e,#982d80,#8c2981,#812581,#762181,#6a1c81,#5f187f,#52137c,#451077,#390f6e,#2d1161,#241253,#1e1149,#1c1044,#1e1149,#221150,#2c115f,#38106c,#440f76,#51127c,#5d177f,#6a1c81,#762181,#812581,#8c2981,#982d80,#a3307e,#ad347c,#b73779,#bf3a77,#c73d73,#cd4071,#d3436e,#d8456c,#dc4869,#df4a68,#e24d66,#e34e65,#e34e65,#e34e65,#e24d66,#e04c67,#de4968,#db476a,#d6456c,#d0416f,#ca3e72,#c43c75,#bc3978,#b3367a,#aa337d)"></i><i style="background:linear-gradient(90deg,#a1307e,#982d80,#8c2981,#812581,#752181,#6a1c81,#5d177f,#51127c,#440f76,#36106b,#2a115c,#21114e,#1c1044,#19103f,#1c1044,#21114e,#2c115f,#38106c,#451077,#52137c,#5f187f,#6b1d81,#762181,#832681,#8e2a81,#992d80,#a5317e,#ae347b,#b83779,#c03a76,#c83e73,#d0416f,#d6456c,#db476a,#df4a68,#e24d66,#e34e65,#e44f64,#e55064,#e55064,#e44f64,#e24d66,#df4a68,#dc4869,#d8456c,#d2426f,#cc3f71,#c53c74,#bd3977,#b5367a,#ab337c)"></i><i style="background:linear-gradient(90deg,#a3307e,#982d80,#8c2981,#812581,#752181,#681c81,#5c167f,#4f127b,#420f75,#341069,#29115a,#1e1149,#19103f,#180f3d,#1a1042,#20114b,#2a115c,#38106c,#451077,#52137c,#5f187f,#6b1d81,#782281,#842681,#912b81,#9c2e7f,#a6317d,#b2357b,#bc3978,#c43c75,#cc3f71,#d2426f,#d8456c,#dc4869,#e04c67,#e34e65,#e55064,#e75263,#e75263,#e75263,#e55064,#e44f64,#e24d66,#de4968,#d9466b,#d3436e,#cd4071,#c73d73,#bf3a77,#b5367a,#ab337c)"></i><i style="background:linear-gradient(90deg,#a3307e,#982d80,#8c2981,#802582,#752181,#681c81,#5a167e,#4e117b,#400f74,#331067,#251255,#1d1147,#160f3b,#150e38,#180f3d,#20114b,#2a115c,#38106c,#451077,#52137c,#601880,#6d1d81,#792282,#862781,#932b80,#9e2f7f,#aa337d,#b3367a,#bd3977,#c53c74,#cd4071,#d5446d,#db476a,#df4a68,#e34e65,#e55064,#e75263,#e85362,#e95462,#e85362,#e75263,#e55064,#e34e65,#df4a68,#db476a,#d5446d,#cf4070,#c73d73,#bf3a77,#b73779,#ad347c)"></i><i style="background:linear-gradient(90deg,#a3307e,#982d80,#8c2981,#802582,#732081,#671b80,#5a167e,#4c117a,#3f0f72,#2f1163,#241253,#1a1042,#140e36,#130d34,#160f3b,#1e1149,#2a115c,#38106c,#451077,#54137d,#621980,#6e1e81,#7b2382,#882781,#942c80,#a02f7f,#ab337c,#b5367a,#bf3a77,#c83e73,#d0416f,#d6456c,#dc4869,#e24d66,#e44f64,#e75263,#e95462,#ea5661,#ea5661,#ea5661,#e95462,#e75263,#e44f64,#e04c67,#dc4869,#d6456c,#d0416f,#c83e73,#c03a76,#b73779,#ad347c)"></i><i style="background:linear-gradient(90deg,#a3307e,#982d80,#8c2981,#802582,#732081,#671b80,#59157e,#4a1079,#3d0f71,#2d1161,#21114e,#180f3d,#130d34,#120d31,#150e38,#1e1149,#2a115c,#38106c,#471078,#56147d,#621980,#701f81,#7c2382,#892881,#962c80,#a1307e,#ad347c,#b83779,#c23b75,#ca3e72,#d2426f,#d9466b,#df4a68,#e34e65,#e75263,#e95462,#ea5661,#eb5760,#eb5760,#eb5760,#ea5661,#e85362,#e55064,#e24d66,#de4968,#d8456c,#d2426f,#ca3e72,#c03a76,#b73779,#ad347c)"></i><i style="background:linear-gradient(90deg,#a3307e,#982d80,#8c2981,#802582,#721f81,#651a80,#57157e,#491078,#390f6e,#2c115f,#20114b,#150e38,#110c2f,#110c2f,#150e38,#1d1147,#2a115c,#38106c,#471078,#56147d,#641a80,#721f81,#7e2482,#8c2981,#982d80,#a5317e,#b0357b,#ba3878,#c43c75,#cd4071,#d5446d,#db476a,#e04c67,#e55064,#e85362,#ea5661,#ec5860,#ed5a5f,#ed5a5f,#ec5860,#eb5760,#e95462,#e75263,#e34e65,#df4a68,#d9466b,#d2426f,#ca3e72,#c23b75,#b83779,#ad347c)"></i><i style="background:linear-gradient(90deg,#a3307e,#982d80,#8b2981,#7e2482,#721f81,#641a80,#56147d,#471078,#38106c,#29115a,#1d1147,#140e36,#0e0b2b,#0e0b2b,#140e36,#1d1147,#2a115c,#390f6e,#491078,#57157e,#651a80,#732081,#812581,#8e2a81,#9b2e7f,#a6317d,#b2357b,#bd3977,#c73d73,#d0416f,#d8456c,#de4968,#e34e65,#e75263,#ea5661,#ec5860,#ed5a5f,#ee5b5e,#ee5b5e,#ed5a5f,#ec5860,#ea5661,#e85362,#e44f64,#e04c67,#db476a,#d3436e,#cc3f71,#c23b75,#b83779,#ae347b)"></i><i style="background:linear-gradient(90deg,#a3307e,#982d80,#8b2981,#7e2482,#701f81,#641a80,#56147d,#451077,#36106b,#271258,#1a1042,#120d31,#0d0a29,#0d0a29,#140e36,#1e1149,#2a115c,#3b0f70,#4a1079,#59157e,#671b80,#752181,#832681,#902a81,#9c2e7f,#aa337d,#b5367a,#bf3a77,#c83e73,#d2426f,#d9466b,#e04c67,#e44f64,#e95462,#eb5760,#ed5a5f,#ef5d5e,#ef5d5e,#ef5d5e,#ef5d5e,#ed5a5f,#ec5860,#e95462,#e55064,#e04c67,#db476a,#d5446d,#cc3f71,#c43c75,#b83779,#ae347b)"></i><i style="background:linear-gradient(90deg,#a3307e,#982d80,#8b2981,#7c2382,#701f81,#621980,#54137d,#440f76,#341069,#251255,#19103f,#100b2d,#0b0924,#0c0926,#140e36,#1e1149,#2c115f,#3b0f70,#4c117a,#5a167e,#6a1c81,#782281,#842681,#932b80,#a02f7f,#ab337c,#b73779,#c23b75,#cc3f71,#d5446d,#dc4869,#e24d66,#e75263,#ea5661,#ed5a5f,#ef5d5e,#f05f5e,#f05f5e,#f05f5e,#f05f5e,#ee5b5e,#ed5a5f,#ea5661,#e75263,#e24d66,#dc4869,#d5446d,#cd4071,#c43c75,#ba3878,#ae347b)"></i><i style="background:linear-gradient(90deg,#a3307e,#982d80,#892881,#7c2382,#6e1e81,#601880,#52137c,#420f75,#331067,#221150,#160f3b,#0e0b2b,#0a0822,#0c0926,#140e36,#1e1149,#2d1161,#3d0f71,#4e117b,#5d177f,#6b1d81,#792282,#882781,#942c80,#a1307e,#ae347b,#ba3878,#c43c75,#cf4070,#d6456c,#de4968,#e44f64,#e85362,#ec5860,#ee5b5e,#f05f5e,#f1605d,#f2625d,#f2625d,#f1605d,#f05f5e,#ee5b5e,#eb5760,#e85362,#e34e65,#de4968,#d6456c,#cd4071,#c43c75,#ba3878,#ae347b)"></i><i style="background:linear-gradient(90deg,#a3307e,#962c80,#892881,#7b2382,#6e1e81,#5f187f,#51127c,#400f74,#2f1163,#21114e,#150e38,#0c0926,#08071e,#0c0926,#140e36,#20114b,#2f1163,#3f0f72,#4f127b,#5f187f,#6d1d81,#7b2382,#892881,#962c80,#a3307e,#b0357b,#bc3978,#c73d73,#d0416f,#d9466b,#e04c67,#e55064,#ea5661,#ed5a5f,#ef5d5e,#f1605d,#f2625d,#f2645c,#f2645c,#f2625d,#f1605d,#ef5d5e,#ec5860,#e95462,#e44f64,#de4968,#d6456c,#cf4070,#c53c74,#ba3878,#ae347b)"></i><i style="background:linear-gradient(90deg,#a3307e,#962c80,#892881,#7b2382,#6d1d81,#5d177f,#4f127b,#3f0f72,#2d1161,#1e1149,#130d34,#0a0822,#07061c,#0b0924,#150e38,#21114e,#311165,#420f75,#51127c,#601880,#6e1e81,#7e2482,#8b2981,#992d80,#a6317d,#b3367a,#bf3a77,#c83e73,#d3436e,#db476a,#e24d66,#e85362,#eb5760,#ee5b5e,#f1605d,#f2645c,#f3655c,#f3655c,#f3655c,#f2645c,#f2625d,#ef5d5e,#ed5a5f,#e95462,#e44f64,#df4a68,#d8456c,#cf4070,#c53c74,#ba3878,#ae347b)"></i><i style="background:linear-gradient(90deg,#a3307e,#962c80,#882781,#792282,#6b1d81,#5d177f,#4e117b,#3d0f71,#2c115f,#1d1147,#120d31,#090720,#06051a,#0c0926,#150e38,#221150,#331067,#440f76,#54137d,#621980,#721f81,#802582,#8e2a81,#9b2e7f,#aa337d,#b5367a,#c03a76,#cc3f71,#d5446d,#de4968,#e44f64,#e95462,#ed5a5f,#f05f5e,#f2625d,#f3655c,#f4675c,#f4675c,#f4675c,#f3655c,#f2645c,#f05f5e,#ed5a5f,#ea5661,#e55064,#df4a68,#d8456c,#cf4070,#c53c74,#ba3878,#ae347b)"></i><i style="background:linear-gradient(90deg,#a3307e,#942c80,#882781,#792282,#6a1c81,#5c167f,#4c117a,#3b0f70,#2a115c,#1c1044,#100b2d,#07061c,#06051a,#0c0926,#160f3b,#241253,#341069,#451077,#56147d,#651a80,#732081,#832681,#902a81,#9e2f7f,#ab337c,#b83779,#c43c75,#cf4070,#d8456c,#df4a68,#e55064,#ea5661,#ee5b5e,#f1605d,#f3655c,#f4675c,#f4695c,#f56b5c,#f4695c,#f4675c,#f3655c,#f1605d,#ee5b5e,#eb5760,#e75263,#e04c67,#d8456c,#d0416f,#c53c74,#ba3878,#ae347b)"></i><i style="background:linear-gradient(90deg,#a3307e,#942c80,#862781,#782281,#6a1c81,#5a167e,#4a1079,#390f6e,#271258,#19103f,#0e0b2b,#06051a,#06051a,#0d0a29,#180f3d,#251255,#36106b,#471078,#57157e,#671b80,#762181,#842681,#932b80,#a02f7f,#ae347b,#ba3878,#c53c74,#d0416f,#d9466b,#e24d66,#e85362,#ec5860,#f05f5e,#f2645c,#f4675c,#f4695c,#f56b5c,#f66c5c,#f56b5c,#f4695c,#f3655c,#f2625d,#ef5d5e,#eb5760,#e75263,#e04c67,#d9466b,#d0416f,#c53c74,#ba3878,#ae347b)"></i><i style="background:linear-gradient(90deg,#a1307e,#942c80,#862781,#762181,#681c81,#59157e,#491078,#36106b,#251255,#180f3d,#0c0926,#060518,#06051a,#0d0a29,#19103f,#271258,#390f6e,#4a1079,#5a167e,#6a1c81,#782281,#882781,#942c80,#a3307e,#b0357b,#bd3977,#c83e73,#d3436e,#dc4869,#e34e65,#e95462,#ed5a5f,#f1605d,#f3655c,#f4695c,#f66c5c,#f66c5c,#f66e5c,#f66c5c,#f56b5c,#f4675c,#f2645c,#f05f5e,#ec5860,#e85362,#e24d66,#d9466b,#d0416f,#c53c74,#ba3878,#ae347b)"></i><i style="background:linear-gradient(90deg,#a1307e,#932b80,#842681,#762181,#671b80,#57157e,#471078,#341069,#241253,#160f3b,#0b0924,#050416,#06051a,#0e0b2b,#1a1042,#2a115c,#3b0f70,#4c117a,#5c167f,#6b1d81,#7b2382,#892881,#982d80,#a6317d,#b3367a,#bf3a77,#cc3f71,#d5446d,#de4968,#e55064,#eb5760,#ef5d5e,#f2625d,#f4675c,#f56b5c,#f66e5c,#f7705c,#f7705c,#f66e5c,#f66c5c,#f4695c,#f3655c,#f05f5e,#ed5a5f,#e85362,#e24d66,#d9466b,#d0416f,#c53c74,#ba3878,#ad347c)"></i><i style="background:linear-gradient(90deg,#a1307e,#932b80,#842681,#752181,#651a80,#56147d,#451077,#331067,#221150,#140e36,#090720,#040414,#07061c,#110c2f,#1d1147,#2c115f,#3f0f72,#4f127b,#5f187f,#6e1e81,#7c2382,#8c2981,#9b2e7f,#a8327d,#b5367a,#c23b75,#cd4071,#d8456c,#e04c67,#e75263,#ec5860,#f05f5e,#f3655c,#f4695c,#f66c5c,#f7705c,#f7725c,#f7725c,#f7705c,#f66e5c,#f56b5c,#f3655c,#f1605d,#ed5a5f,#e95462,#e24d66,#db476a,#d0416f,#c53c74,#ba3878,#ad347c)"></i><i style="background:linear-gradient(90deg,#a02f7f,#912b81,#832681,#732081,#641a80,#54137d,#420f75,#311165,#20114b,#130d34,#08071e,#030312,#07061c,#120d31,#1e1149,#2f1163,#400f74,#51127c,#621980,#701f81,#802582,#8e2a81,#9c2e7f,#ab337c,#b83779,#c43c75,#d0416f,#d9466b,#e24d66,#e95462,#ed5a5f,#f1605d,#f4675c,#f66c5c,#f7705c,#f7725c,#f8745c,#f8745c,#f7725c,#f7705c,#f66c5c,#f4675c,#f1605d,#ee5b5e,#e95462,#e34e65,#db476a,#d0416f,#c53c74,#ba3878,#ad347c)"></i><i style="background:linear-gradient(90deg,#a02f7f,#912b81,#812581,#721f81,#621980,#52137c,#400f74,#2f1163,#1e1149,#110c2f,#07061c,#030312,#08071e,#130d34,#21114e,#311165,#440f76,#54137d,#641a80,#732081,#832681,#912b81,#a02f7f,#ad347c,#ba3878,#c73d73,#d2426f,#dc4869,#e44f64,#ea5661,#ef5d5e,#f2645c,#f4695c,#f66e5c,#f7725c,#f8745c,#f8765c,#f8765c,#f8745c,#f7705c,#f66c5c,#f4675c,#f2625d,#ee5b5e,#e95462,#e34e65,#db476a,#d0416f,#c53c74,#ba3878,#ab337c)"></i><i style="background:linear-gradient(90deg,#9e2f7f,#902a81,#802582,#701f81,#601880,#51127c,#3f0f72,#2c115f,#1d1147,#100b2d,#060518,#030312,#090720,#150e38,#221150,#341069,#451077,#57157e,#671b80,#762181,#842681,#932b80,#a1307e,#b0357b,#bd3977,#ca3e72,#d5446d,#de4968,#e55064,#eb5760,#f05f5e,#f3655c,#f56b5c,#f7705c,#f8745c,#f8765c,#f9785d,#f8765c,#f8765c,#f7725c,#f66e5c,#f4695c,#f2625d,#ee5b5e,#e95462,#e34e65,#db476a,#d0416f,#c53c74,#b83779,#ab337c)"></i><i style="background:linear-gradient(90deg,#9e2f7f,#8e2a81,#802582,#701f81,#5f187f,#4f127b,#3d0f71,#2a115c,#1a1042,#0e0b2b,#050416,#030312,#0b0924,#160f3b,#251255,#36106b,#491078,#59157e,#681c81,#782281,#882781,#962c80,#a5317e,#b2357b,#c03a76,#cc3f71,#d6456c,#e04c67,#e75263,#ed5a5f,#f1605d,#f4675c,#f66c5c,#f7725c,#f8765c,#f9785d,#f9795d,#f9785d,#f8765c,#f8745c,#f66e5c,#f56b5c,#f2645c,#ef5d5e,#ea5661,#e34e65,#db476a,#d0416f,#c53c74,#b83779,#ab337c)"></i><i style="background:linear-gradient(90deg,#9c2e7f,#8e2a81,#7e2482,#6e1e81,#5d177f,#4e117b,#3b0f70,#29115a,#19103f,#0c0926,#040414,#040414,#0c0926,#19103f,#271258,#390f6e,#4a1079,#5c167f,#6b1d81,#7b2382,#892881,#992d80,#a8327d,#b5367a,#c23b75,#cf4070,#d9466b,#e24d66,#e95462,#ee5b5e,#f2645c,#f4695c,#f7705c,#f8745c,#f9785d,#f9795d,#f9795d,#f9795d,#f9785d,#f8745c,#f7705c,#f56b5c,#f2645c,#ef5d5e,#ea5661,#e34e65,#db476a,#d0416f,#c53c74,#b83779,#aa337d)"></i><i style="background:linear-gradient(90deg,#9b2e7f,#8c2981,#7c2382,#6d1d81,#5c167f,#4a1079,#38106c,#251255,#160f3b,#0b0924,#030312,#050416,#0d0a29,#1a1042,#2a115c,#3b0f70,#4e117b,#5d177f,#6e1e81,#7e2482,#8c2981,#9b2e7f,#aa337d,#b83779,#c53c74,#d0416f,#db476a,#e34e65,#ea5661,#ef5d5e,#f3655c,#f66c5c,#f7725c,#f8765c,#f9795d,#f97b5d,#f97b5d,#f97b5d,#f9795d,#f8765c,#f7725c,#f56b5c,#f3655c,#ef5d5e,#ea5661,#e34e65,#db476a,#d0416f,#c43c75,#b73779,#aa337d)"></i><i style="background:linear-gradient(90deg,#9b2e7f,#8b2981,#7b2382,#6b1d81,#5a167e,#491078,#36106b,#241253,#150e38,#090720,#03030f,#060518,#100b2d,#1d1147,#2c115f,#3f0f72,#51127c,#601880,#701f81,#802582,#902a81,#9e2f7f,#ad347c,#ba3878,#c73d73,#d3436e,#dc4869,#e55064,#eb5760,#f1605d,#f4675c,#f66e5c,#f8745c,#f9785d,#f97b5d,#fa7d5e,#fa7d5e,#fa7d5e,#f9795d,#f9785d,#f7725c,#f66c5c,#f3655c,#ef5d5e,#ea5661,#e34e65,#db476a,#d0416f,#c43c75,#b73779,#a8327d)"></i><i style="background:linear-gradient(90deg,#992d80,#892881,#792282,#6a1c81,#59157e,#471078,#341069,#221150,#140e36,#08071e,#03030f,#06051a,#110c2f,#1e1149,#2f1163,#420f75,#52137c,#641a80,#732081,#832681,#912b81,#a1307e,#ae347b,#bd3977,#ca3e72,#d5446d,#df4a68,#e75263,#ed5a5f,#f2625d,#f4695c,#f7705c,#f8765c,#f9795d,#fa7d5e,#fa7f5e,#fa7f5e,#fa7d5e,#f97b5d,#f9785d,#f7725c,#f66c5c,#f3655c,#ef5d5e,#ea5661,#e34e65,#db476a,#cf4070,#c43c75,#b5367a,#a6317d)"></i><i style="background:linear-gradient(90deg,#982d80,#882781,#782281,#681c81,#57157e,#451077,#331067,#20114b,#120d31,#07061c,#02020d,#07061c,#130d34,#21114e,#311165,#440f76,#56147d,#651a80,#762181,#842681,#942c80,#a3307e,#b2357b,#bf3a77,#cc3f71,#d6456c,#e04c67,#e85362,#ee5b5e,#f2645c,#f56b5c,#f7725c,#f9785d,#f97b5d,#fa7f5e,#fa7f5e,#fa7f5e,#fa7f5e,#f97b5d,#f9785d,#f8745c,#f66c5c,#f3655c,#f05f5e,#ea5661,#e34e65,#d9466b,#cf4070,#c23b75,#b5367a,#a6317d)"></i><i style="background:linear-gradient(90deg,#962c80,#882781,#762181,#671b80,#56147d,#440f76,#2f1163,#1e1149,#110c2f,#060518,#02020d,#08071e,#140e36,#221150,#341069,#471078,#59157e,#681c81,#782281,#882781,#982d80,#a6317d,#b3367a,#c23b75,#cf4070,#d9466b,#e34e65,#ea5661,#ef5d5e,#f3655c,#f66c5c,#f8745c,#f9795d,#fa7d5e,#fa7f5e,#fa815f,#fa815f,#fa7f5e,#fa7d5e,#f9795d,#f8745c,#f66e5c,#f3655c,#f05f5e,#ea5661,#e34e65,#d9466b,#cf4070,#c23b75,#b3367a,#a5317e)"></i><i style="background:linear-gradient(90deg,#962c80,#862781,#752181,#641a80,#52137c,#400f74,#2d1161,#1d1147,#0e0b2b,#050416,#03030f,#0a0822,#160f3b,#251255,#38106c,#491078,#5a167e,#6b1d81,#7b2382,#8b2981,#992d80,#a8327d,#b73779,#c43c75,#d0416f,#db476a,#e44f64,#eb5760,#f05f5e,#f4675c,#f66e5c,#f8765c,#f97b5d,#fa7f5e,#fa815f,#fb835f,#fb835f,#fa815f,#fa7d5e,#f9795d,#f8745c,#f66e5c,#f4675c,#f05f5e,#ea5661,#e34e65,#d9466b,#cd4071,#c03a76,#b3367a,#a3307e)"></i><i style="background:linear-gradient(90deg,#942c80,#842681,#732081,#621980,#51127c,#3f0f72,#2c115f,#1a1042,#0d0a29,#030312,#03030f,#0b0924,#180f3d,#271258,#390f6e,#4c117a,#5d177f,#6d1d81,#7c2382,#8c2981,#9c2e7f,#ab337c,#ba3878,#c73d73,#d2426f,#de4968,#e55064,#ec5860,#f2625d,#f4695c,#f7705c,#f9785d,#fa7d5e,#fa815f,#fb835f,#fb835f,#fb835f,#fa815f,#fa7f5e,#f97b5d,#f8765c,#f66e5c,#f4675c,#f05f5e,#ea5661,#e24d66,#d8456c,#cd4071,#c03a76,#b2357b,#a3307e)"></i><i style="background:linear-gradient(90deg,#932b80,#832681,#721f81,#601880,#4f127b,#3d0f71,#29115a,#19103f,#0b0924,#03030f,#030312,#0c0926,#19103f,#2a115c,#3d0f71,#4f127b,#5f187f,#701f81,#802582,#902a81,#9e2f7f,#ad347c,#bc3978,#c83e73,#d5446d,#df4a68,#e85362,#ed5a5f,#f2645c,#f56b5c,#f7725c,#f9795d,#fa7d5e,#fa815f,#fb8560,#fb8560,#fb8560,#fb835f,#fa7f5e,#f97b5d,#f8765c,#f66e5c,#f4675c,#ef5d5e,#ea5661,#e24d66,#d8456c,#cc3f71,#bf3a77,#b0357b,#a1307e)"></i><i style="background:linear-gradient(90deg,#912b81,#812581,#701f81,#5f187f,#4e117b,#390f6e,#271258,#160f3b,#0a0822,#02020d,#040414,#0d0a29,#1c1044,#2c115f,#3f0f72,#51127c,#621980,#721f81,#832681,#912b81,#a1307e,#b0357b,#bd3977,#cc3f71,#d6456c,#e04c67,#e95462,#ef5d5e,#f3655c,#f66e5c,#f8745c,#f97b5d,#fa7f5e,#fb835f,#fb8560,#fb8761,#fb8560,#fb835f,#fa7f5e,#f97b5d,#f8765c,#f66e5c,#f3655c,#ef5d5e,#e95462,#e24d66,#d8456c,#cc3f71,#bd3977,#ae347b,#a02f7f)"></i><i style="background:linear-gradient(90deg,#902a81,#802582,#6e1e81,#5d177f,#4c117a,#38106c,#251255,#150e38,#08071e,#020109,#050416,#100b2d,#1d1147,#2f1163,#420f75,#54137d,#641a80,#752181,#842681,#942c80,#a3307e,#b2357b,#c03a76,#cd4071,#d9466b,#e34e65,#ea5661,#f05f5e,#f4675c,#f7705c,#f8765c,#fa7d5e,#fa815f,#fb8560,#fb8761,#fb8761,#fb8761,#fb8560,#fa815f,#f97b5d,#f8765c,#f66e5c,#f3655c,#ef5d5e,#e95462,#e04c67,#d6456c,#ca3e72,#bd3977,#ae347b,#9e2f7f)"></i><i style="background:linear-gradient(90deg,#8e2a81,#7e2482,#6d1d81,#5c167f,#491078,#36106b,#221150,#140e36,#07061c,#020109,#060518,#110c2f,#20114b,#311165,#440f76,#56147d,#671b80,#762181,#882781,#962c80,#a6317d,#b5367a,#c23b75,#cf4070,#db476a,#e44f64,#eb5760,#f1605d,#f4695c,#f7705c,#f9785d,#fa7d5e,#fb835f,#fb8560,#fb8761,#fc8961,#fb8761,#fb8560,#fa815f,#f97b5d,#f8765c,#f66e5c,#f3655c,#ef5d5e,#e95462,#e04c67,#d5446d,#c83e73,#bc3978,#ad347c,#9c2e7f)"></i><i style="background:linear-gradient(90deg,#8c2981,#7b2382,#6b1d81,#5a167e,#471078,#341069,#21114e,#120d31,#060518,#020109,#06051a,#120d31,#21114e,#331067,#471078,#59157e,#681c81,#792282,#892881,#992d80,#a8327d,#b73779,#c53c74,#d2426f,#dc4869,#e55064,#ec5860,#f2625d,#f56b5c,#f7725c,#f9795d,#fa7f5e,#fb835f,#fb8761,#fc8961,#fc8961,#fb8761,#fb8560,#fa815f,#f97b5d,#f8765c,#f66e5c,#f3655c,#ee5b5e,#e85362,#df4a68,#d5446d,#c83e73,#ba3878,#ab337c,#9b2e7f)"></i><i style="background:linear-gradient(90deg,#8b2981,#792282,#681c81,#57157e,#451077,#311165,#20114b,#110c2f,#050416,#020109,#07061c,#140e36,#221150,#36106b,#491078,#5a167e,#6b1d81,#7b2382,#8c2981,#9b2e7f,#ab337c,#ba3878,#c73d73,#d3436e,#de4968,#e75263,#ed5a5f,#f2645c,#f66c5c,#f8745c,#f97b5d,#fa815f,#fb8560,#fb8761,#fc8961,#fc8961,#fc8961,#fb8560,#fa815f,#f97b5d,#f8765c,#f66e5c,#f3655c,#ee5b5e,#e85362,#df4a68,#d3436e,#c73d73,#b83779,#aa337d,#992d80)"></i><i style="background:linear-gradient(90deg,#892881,#782281,#671b80,#56147d,#440f76,#2f1163,#1d1147,#0e0b2b,#030312,#020109,#08071e,#150e38,#251255,#38106c,#4a1079,#5d177f,#6d1d81,#7e2482,#8e2a81,#9e2f7f,#ad347c,#bc3978,#c83e73,#d5446d,#e04c67,#e85362,#ef5d5e,#f3655c,#f66e5c,#f8765c,#fa7d5e,#fa815f,#fb8761,#fc8961,#fc8a62,#fc8a62,#fc8961,#fb8560,#fa815f,#f97b5d,#f8765c,#f66c5c,#f2645c,#ee5b5e,#e75263,#de4968,#d2426f,#c53c74,#b73779,#a8327d,#982d80)"></i><i style="background:linear-gradient(90deg,#882781,#762181,#651a80,#54137d,#400f74,#2d1161,#1c1044,#0d0a29,#03030f,#020109,#090720,#160f3b,#271258,#3b0f70,#4e117b,#5f187f,#701f81,#802582,#902a81,#a02f7f,#ae347b,#bd3977,#cc3f71,#d8456c,#e24d66,#e95462,#f05f5e,#f4675c,#f7705c,#f9785d,#fa7d5e,#fb835f,#fb8761,#fc8961,#fc8a62,#fc8a62,#fc8961,#fb8761,#fa815f,#f97b5d,#f8765c,#f66c5c,#f2645c,#ed5a5f,#e75263,#dc4869,#d2426f,#c43c75,#b5367a,#a6317d,#962c80)"></i><i style="background:linear-gradient(90deg,#862781,#752181,#641a80,#52137c,#3f0f72,#2a115c,#19103f,#0b0924,#02020b,#020109,#0b0924,#19103f,#29115a,#3d0f71,#4f127b,#601880,#721f81,#832681,#932b80,#a1307e,#b2357b,#c03a76,#cd4071,#d9466b,#e34e65,#eb5760,#f1605d,#f4695c,#f7725c,#f9795d,#fa7f5e,#fb8560,#fc8961,#fc8a62,#fc8a62,#fc8a62,#fc8961,#fb8761,#fa815f,#f97b5d,#f8745c,#f66c5c,#f2645c,#ed5a5f,#e55064,#dc4869,#d0416f,#c23b75,#b3367a,#a5317e,#942c80)"></i><i style="background:linear-gradient(90deg,#832681,#732081,#621980,#4f127b,#3d0f71,#29115a,#180f3d,#0a0822,#020109,#02020b,#0c0926,#1a1042,#2c115f,#3f0f72,#52137c,#641a80,#732081,#842681,#942c80,#a5317e,#b3367a,#c23b75,#cf4070,#db476a,#e44f64,#ec5860,#f2625d,#f56b5c,#f7725c,#f9795d,#fa815f,#fb8560,#fc8961,#fc8a62,#fc8c63,#fc8a62,#fc8961,#fb8761,#fa815f,#f97b5d,#f8745c,#f56b5c,#f2625d,#ec5860,#e44f64,#db476a,#cf4070,#c03a76,#b2357b,#a3307e,#932b80)"></i><i style="background:linear-gradient(90deg,#812581,#701f81,#5f187f,#4e117b,#390f6e,#271258,#160f3b,#090720,#020109,#03030f,#0d0a29,#1c1044,#2d1161,#420f75,#54137d,#651a80,#762181,#862781,#962c80,#a6317d,#b5367a,#c43c75,#d0416f,#dc4869,#e55064,#ed5a5f,#f2625d,#f66c5c,#f8745c,#f97b5d,#fa815f,#fb8761,#fc8961,#fc8c63,#fc8c63,#fc8c63,#fc8961,#fb8761,#fa815f,#f97b5d,#f8745c,#f56b5c,#f2625d,#eb5760,#e44f64,#d9466b,#cd4071,#c03a76,#b0357b,#a1307e,#912b81)"></i><i style="background:linear-gradient(90deg,#802582,#6e1e81,#5d177f,#4c117a,#38106c,#241253,#140e36,#07061c,#020109,#030312,#100b2d,#1d1147,#2f1163,#440f76,#56147d,#671b80,#782281,#892881,#992d80,#a8327d,#b83779,#c53c74,#d3436e,#de4968,#e75263,#ee5b5e,#f2645c,#f66c5c,#f8765c,#fa7d5e,#fb835f,#fb8761,#fc8a62,#fc8c63,#fc8c63,#fc8c63,#fc8961,#fb8761,#fa815f,#f97b5d,#f7725c,#f56b5c,#f1605d,#eb5760,#e34e65,#d8456c,#cc3f71,#bf3a77,#ae347b,#a02f7f,#8e2a81)"></i><i style="background:linear-gradient(90deg,#7e2482,#6d1d81,#5c167f,#491078,#36106b,#221150,#130d34,#06051a,#020109,#040414,#110c2f,#20114b,#331067,#451077,#59157e,#6a1c81,#792282,#8b2981,#9b2e7f,#ab337c,#ba3878,#c83e73,#d5446d,#df4a68,#e85362,#ee5b5e,#f3655c,#f66e5c,#f9785d,#fa7d5e,#fb835f,#fc8961,#fc8a62,#fc8c63,#fc8c63,#fc8c63,#fc8961,#fb8560,#fa815f,#f9795d,#f7725c,#f4695c,#f05f5e,#ea5661,#e24d66,#d6456c,#ca3e72,#bc3978,#ad347c,#9c2e7f,#8c2981)"></i><i style="background:linear-gradient(90deg,#7b2382,#6b1d81,#59157e,#471078,#331067,#21114e,#120d31,#050416,#020109,#060518,#120d31,#21114e,#341069,#471078,#5a167e,#6b1d81,#7c2382,#8c2981,#9c2e7f,#ad347c,#bc3978,#ca3e72,#d6456c,#e04c67,#e95462,#ef5d5e,#f4675c,#f7705c,#f9785d,#fa7f5e,#fb8560,#fc8961,#fc8a62,#fc8c63,#fc8c63,#fc8c63,#fc8961,#fb8560,#fa7f5e,#f9795d,#f7705c,#f4675c,#f05f5e,#e95462,#e04c67,#d5446d,#c83e73,#ba3878,#ab337c,#9b2e7f,#8b2981)"></i><i style="background:linear-gradient(90deg,#792282,#681c81,#57157e,#451077,#311165,#1e1149,#100b2d,#040414,#020109,#06051a,#130d34,#221150,#36106b,#4a1079,#5c167f,#6d1d81,#7e2482,#8e2a81,#9e2f7f,#ae347b,#bd3977,#cc3f71,#d8456c,#e24d66,#ea5661,#f05f5e,#f4695c,#f7725c,#f9795d,#fa7f5e,#fb8560,#fc8961,#fc8c63,#fc8c63,#fc8c63,#fc8c63,#fc8961,#fb8560,#fa7f5e,#f9785d,#f7705c,#f4675c,#ef5d5e,#e85362,#df4a68,#d5446d,#c73d73,#b83779,#aa337d,#992d80,#892881)"></i><i style="background:linear-gradient(90deg,#782281,#671b80,#56147d,#420f75,#2f1163,#1d1147,#0e0b2b,#030312,#020109,#08071e,#150e38,#251255,#38106c,#4c117a,#5d177f,#6e1e81,#802582,#912b81,#a1307e,#b0357b,#bf3a77,#cd4071,#d9466b,#e34e65,#eb5760,#f1605d,#f4695c,#f7725c,#f9795d,#fa815f,#fb8560,#fc8961,#fc8c63,#fc8c63,#fc8c63,#fc8c63,#fc8961,#fb8560,#fa7f5e,#f9785d,#f66e5c,#f3655c,#ee5b5e,#e85362,#de4968,#d2426f,#c53c74,#b73779,#a8327d,#982d80,#862781)"></i><i style="background:linear-gradient(90deg,#752181,#651a80,#52137c,#400f74,#2c115f,#1c1044,#0d0a29,#02020d,#020109,#090720,#160f3b,#271258,#3b0f70,#4e117b,#601880,#721f81,#812581,#932b80,#a3307e,#b2357b,#c03a76,#cf4070,#db476a,#e44f64,#ec5860,#f2625d,#f56b5c,#f8745c,#f97b5d,#fa815f,#fb8761,#fc8a62,#fc8c63,#fc8c63,#fc8c63,#fc8a62,#fc8961,#fb835f,#fa7d5e,#f8765c,#f66e5c,#f2645c,#ed5a5f,#e75263,#dc4869,#d0416f,#c43c75,#b5367a,#a5317e,#942c80,#842681)"></i><i style="background:linear-gradient(90deg,#732081,#621980,#51127c,#3f0f72,#2a115c,#19103f,#0c0926,#02020b,#020109,#0b0924,#180f3d,#29115a,#3d0f71,#4f127b,#621980,#732081,#842681,#942c80,#a5317e,#b3367a,#c23b75,#d0416f,#dc4869,#e55064,#ec5860,#f2625d,#f66c5c,#f8745c,#f97b5d,#fa815f,#fb8761,#fc8a62,#fc8c63,#fc8c63,#fc8c63,#fc8a62,#fb8761,#fb835f,#fa7d5e,#f8765c,#f66c5c,#f2645c,#ed5a5f,#e55064,#db476a,#cf4070,#c23b75,#b3367a,#a3307e,#932b80,#832681)"></i><i style="background:linear-gradient(90deg,#721f81,#601880,#4f127b,#3b0f70,#29115a,#180f3d,#0a0822,#020109,#02020d,#0c0926,#1a1042,#2c115f,#3f0f72,#52137c,#641a80,#752181,#862781,#962c80,#a6317d,#b5367a,#c43c75,#d2426f,#de4968,#e75263,#ed5a5f,#f2645c,#f66c5c,#f8765c,#fa7d5e,#fb835f,#fb8761,#fc8a62,#fc8c63,#fc8c63,#fc8c63,#fc8a62,#fb8761,#fb835f,#f97b5d,#f8745c,#f56b5c,#f2625d,#ec5860,#e44f64,#d9466b,#cd4071,#c03a76,#b0357b,#a1307e,#912b81,#802582)"></i><i style="background:linear-gradient(90deg,#6e1e81,#5d177f,#4c117a,#390f6e,#251255,#160f3b,#090720,#020109,#030312,#0d0a29,#1c1044,#2d1161,#420f75,#54137d,#651a80,#762181,#882781,#982d80,#a8327d,#b83779,#c53c74,#d3436e,#de4968,#e85362,#ee5b5e,#f3655c,#f66e5c,#f8765c,#fa7d5e,#fb835f,#fb8761,#fc8a62,#fc8c63,#fc8c63,#fc8c63,#fc8a62,#fb8761,#fa815f,#f97b5d,#f7725c,#f56b5c,#f1605d,#eb5760,#e34e65,#d8456c,#cc3f71,#bd3977,#ae347b,#9e2f7f,#8e2a81,#7e2482)"></i><i style="background:linear-gradient(90deg,#6d1d81,#5c167f,#4a1079,#36106b,#241253,#140e36,#08071e,#020109,#040414,#100b2d,#1e1149,#2f1163,#440f76,#56147d,#671b80,#782281,#892881,#992d80,#aa337d,#b83779,#c73d73,#d5446d,#df4a68,#e85362,#ef5d5e,#f3655c,#f66e5c,#f9785d,#fa7d5e,#fb835f,#fb8761,#fc8a62,#fc8c63,#fc8c63,#fc8c63,#fc8961,#fb8560,#fa7f5e,#f9795d,#f7725c,#f4695c,#f05f5e,#ea5661,#e24d66,#d6456c,#ca3e72,#bc3978,#ad347c,#9c2e7f,#8c2981,#7c2382)"></i><i style="background:linear-gradient(90deg,#6a1c81,#59157e,#471078,#341069,#221150,#130d34,#07061c,#020109,#060518,#110c2f,#20114b,#331067,#451077,#57157e,#6a1c81,#7b2382,#8b2981,#9b2e7f,#ab337c,#ba3878,#c83e73,#d5446d,#e04c67,#e95462,#ef5d5e,#f4675c,#f7705c,#f9785d,#fa7f5e,#fb835f,#fc8961,#fc8a62,#fc8c63,#fc8c63,#fc8a62,#fc8961,#fb8560,#fa7f5e,#f9785d,#f7705c,#f4675c,#ef5d5e,#e95462,#e04c67,#d5446d,#c83e73,#ba3878,#aa337d,#9b2e7f,#8b2981,#792282)"></i><i style="background:linear-gradient(90deg,#681c81,#57157e,#451077,#331067,#20114b,#120d31,#06051a,#020109,#06051a,#130d34,#21114e,#341069,#471078,#5a167e,#6b1d81,#7c2382,#8c2981,#9c2e7f,#ad347c,#bc3978,#ca3e72,#d6456c,#e24d66,#ea5661,#f05f5e,#f4675c,#f7705c,#f9785d,#fa7f5e,#fb8560,#fc8961,#fc8a62,#fc8c63,#fc8c63,#fc8a62,#fb8761,#fb835f,#fa7d5e,#f9785d,#f66e5c,#f3655c,#ee5b5e,#e85362,#de4968,#d3436e,#c53c74,#b73779,#a8327d,#982d80,#882781,#782281)"></i><i style="background:linear-gradient(90deg,#651a80,#56147d,#420f75,#2f1163,#1e1149,#110c2f,#060518,#02020b,#08071e,#140e36,#241253,#36106b,#4a1079,#5c167f,#6d1d81,#7e2482,#8e2a81,#9e2f7f,#ae347b,#bd3977,#cc3f71,#d8456c,#e24d66,#ea5661,#f05f5e,#f4695c,#f7725c,#f9795d,#fa7f5e,#fb8560,#fc8961,#fc8a62,#fc8a62,#fc8a62,#fc8961,#fb8761,#fb835f,#fa7d5e,#f8765c,#f66c5c,#f2645c,#ed5a5f,#e75263,#dc4869,#d0416f,#c43c75,#b5367a,#a6317d,#962c80,#862781,#752181)"></i><i style="background:linear-gradient(90deg,#641a80,#52137c,#400f74,#2d1161,#1d1147,#0e0b2b,#050416,#02020d,#0a0822,#160f3b,#251255,#38106c,#4c117a,#5d177f,#6e1e81,#802582,#902a81,#a02f7f,#b0357b,#bf3a77,#cd4071,#d9466b,#e34e65,#eb5760,#f1605d,#f4695c,#f7725c,#f9795d,#fa7f5e,#fb8560,#fb8761,#fc8a62,#fc8a62,#fc8a62,#fc8961,#fb8560,#fa815f,#f97b5d,#f8745c,#f56b5c,#f2625d,#ec5860,#e44f64,#db476a,#cf4070,#c23b75,#b3367a,#a3307e,#932b80,#832681,#732081)"></i><i style="background:linear-gradient(90deg,#601880,#51127c,#3d0f71,#2a115c,#1a1042,#0d0a29,#040414,#030312,#0b0924,#180f3d,#271258,#3b0f70,#4e117b,#5f187f,#701f81,#812581,#912b81,#a1307e,#b2357b,#c03a76,#cd4071,#d9466b,#e44f64,#eb5760,#f1605d,#f4695c,#f7725c,#f9795d,#fa7f5e,#fb8560,#fb8761,#fc8961,#fc8a62,#fc8a62,#fb8761,#fb8560,#fa7f5e,#f9795d,#f7725c,#f4695c,#f1605d,#eb5760,#e34e65,#d9466b,#cd4071,#bf3a77,#b0357b,#a1307e,#912b81,#812581,#701f81)"></i><i style="background:linear-gradient(90deg,#5f187f,#4e117b,#3b0f70,#29115a,#19103f,#0c0926,#030312,#040414,#0c0926,#1a1042,#2a115c,#3d0f71,#4f127b,#601880,#721f81,#832681,#932b80,#a3307e,#b3367a,#c23b75,#cf4070,#db476a,#e44f64,#ec5860,#f2625d,#f56b5c,#f7725c,#f9795d,#fa7f5e,#fb8560,#fb8761,#fc8961,#fc8961,#fc8961,#fb8761,#fb835f,#fa7f5e,#f9785d,#f7705c,#f4675c,#f05f5e,#ea5661,#e24d66,#d8456c,#cc3f71,#bd3977,#ae347b,#9e2f7f,#8e2a81,#7e2482,#6e1e81)"></i><i style="background:linear-gradient(90deg,#5c167f,#4a1079,#38106c,#251255,#160f3b,#0b0924,#030312,#050416,#0e0b2b,#1c1044,#2c115f,#3f0f72,#52137c,#641a80,#752181,#842681,#942c80,#a5317e,#b5367a,#c43c75,#d0416f,#dc4869,#e55064,#ec5860,#f2625d,#f56b5c,#f7725c,#f9795d,#fa7f5e,#fb835f,#fb8761,#fc8961,#fc8961,#fc8961,#fb8560,#fa815f,#fa7d5e,#f8765c,#f66e5c,#f3655c,#ef5d5e,#e95462,#e04c67,#d5446d,#c83e73,#bc3978,#ab337c,#9c2e7f,#8c2981,#7c2382,#6b1d81)"></i><i style="background:linear-gradient(90deg,#5a167e,#491078,#36106b,#241253,#150e38,#090720,#030312,#060518,#100b2d,#1d1147,#2f1163,#420f75,#54137d,#651a80,#762181,#862781,#962c80,#a6317d,#b5367a,#c43c75,#d2426f,#dc4869,#e55064,#ed5a5f,#f2625d,#f56b5c,#f8745c,#f9795d,#fa7f5e,#fb835f,#fb8761,#fb8761,#fc8961,#fb8761,#fb8560,#fa815f,#f97b5d,#f8745c,#f66c5c,#f2645c,#ee5b5e,#e85362,#df4a68,#d3436e,#c73d73,#b83779,#aa337d,#992d80,#892881,#792282,#6a1c81)"></i><i style="background:linear-gradient(90deg,#57157e,#451077,#331067,#21114e,#130d34,#08071e,#03030f,#07061c,#120d31,#20114b,#311165,#440f76,#56147d,#671b80,#782281,#882781,#982d80,#a8327d,#b73779,#c53c74,#d2426f,#de4968,#e75263,#ed5a5f,#f2645c,#f56b5c,#f8745c,#f9795d,#fa7f5e,#fb835f,#fb8560,#fb8761,#fb8761,#fb8560,#fb835f,#fa7f5e,#f9795d,#f7725c,#f56b5c,#f2625d,#ed5a5f,#e55064,#dc4869,#d2426f,#c43c75,#b73779,#a8327d,#982d80,#882781,#782281,#671b80)"></i><i style="background:linear-gradient(90deg,#56147d,#440f76,#311165,#20114b,#120d31,#07061c,#03030f,#08071e,#130d34,#21114e,#331067,#451077,#57157e,#681c81,#792282,#892881,#992d80,#aa337d,#b83779,#c73d73,#d3436e,#de4968,#e75263,#ed5a5f,#f2645c,#f66c5c,#f8745c,#f9795d,#fa7f5e,#fb835f,#fb8560,#fb8761,#fb8560,#fb8560,#fa815f,#fa7d5e,#f9785d,#f7705c,#f4695c,#f1605d,#eb5760,#e44f64,#db476a,#cf4070,#c23b75,#b3367a,#a5317e,#942c80,#842681,#752181,#641a80)"></i><i style="background:linear-gradient(90deg,#52137c,#400f74,#2d1161,#1d1147,#100b2d,#06051a,#030312,#090720,#150e38,#241253,#36106b,#491078,#5a167e,#6a1c81,#7b2382,#8b2981,#9b2e7f,#ab337c,#ba3878,#c73d73,#d3436e,#df4a68,#e75263,#ed5a5f,#f2645c,#f66c5c,#f8745c,#f9795d,#fa7d5e,#fa815f,#fb8560,#fb8560,#fb8560,#fb835f,#fa7f5e,#f97b5d,#f8765c,#f66e5c,#f4675c,#f05f5e,#ea5661,#e34e65,#d9466b,#cd4071,#c03a76,#b2357b,#a3307e,#932b80,#832681,#721f81,#621980)"></i><i style="background:linear-gradient(90deg,#4f127b,#3f0f72,#2c115f,#1c1044,#0e0b2b,#050416,#030312,#0b0924,#160f3b,#251255,#38106c,#4a1079,#5c167f,#6b1d81,#7c2382,#8c2981,#9c2e7f,#ab337c,#ba3878,#c83e73,#d5446d,#df4a68,#e85362,#ee5b5e,#f2645c,#f66c5c,#f8745c,#f9795d,#fa7d5e,#fa815f,#fb835f,#fb8560,#fb835f,#fa815f,#fa7f5e,#f9795d,#f8745c,#f66c5c,#f3655c,#ef5d5e,#e95462,#e04c67,#d6456c,#ca3e72,#bd3977,#ae347b,#a02f7f,#902a81,#802582,#701f81,#5f187f)"></i><i style="background:linear-gradient(90deg,#4e117b,#3b0f70,#29115a,#19103f,#0c0926,#040414,#040414,#0c0926,#180f3d,#271258,#390f6e,#4c117a,#5d177f,#6e1e81,#7e2482,#8e2a81,#9e2f7f,#ad347c,#bc3978,#c83e73,#d5446d,#df4a68,#e85362,#ee5b5e,#f2645c,#f66c5c,#f7725c,#f9795d,#fa7d5e,#fa815f,#fb835f,#fb835f,#fb835f,#fa7f5e,#fa7d5e,#f9785d,#f7725c,#f56b5c,#f2645c,#ed5a5f,#e85362,#df4a68,#d5446d,#c83e73,#bc3978,#ad347c,#9e2f7f,#8e2a81,#7e2482,#6d1d81,#5d177f)"></i><i style="background:linear-gradient(90deg,#4a1079,#38106c,#251255,#160f3b,#0b0924,#030312,#050416,#0d0a29,#1a1042,#2a115c,#3d0f71,#4f127b,#5f187f,#701f81,#802582,#902a81,#a02f7f,#ae347b,#bd3977,#ca3e72,#d6456c,#e04c67,#e85362,#ee5b5e,#f2645c,#f66c5c,#f7725c,#f9785d,#fa7d5e,#fa7f5e,#fa815f,#fa815f,#fa815f,#fa7f5e,#f97b5d,#f8765c,#f7705c,#f4695c,#f1605d,#ec5860,#e55064,#de4968,#d2426f,#c73d73,#b83779,#aa337d,#9b2e7f,#8b2981,#7b2382,#6b1d81,#5a167e)"></i><i style="background:linear-gradient(90deg,#491078,#36106b,#241253,#150e38,#090720,#03030f,#060518,#0e0b2b,#1c1044,#2c115f,#3f0f72,#51127c,#601880,#721f81,#812581,#912b81,#a02f7f,#ae347b,#bd3977,#ca3e72,#d6456c,#e04c67,#e85362,#ee5b5e,#f2645c,#f56b5c,#f7725c,#f9785d,#f97b5d,#fa7f5e,#fa7f5e,#fa815f,#fa7f5e,#fa7d5e,#f9795d,#f8745c,#f66e5c,#f4675c,#f05f5e,#eb5760,#e44f64,#db476a,#d0416f,#c43c75,#b73779,#a8327d,#992d80,#892881,#792282,#681c81,#57157e)"></i><i style="background:linear-gradient(90deg,#451077,#331067,#21114e,#130d34,#07061c,#02020d,#06051a,#110c2f,#1e1149,#2d1161,#400f74,#52137c,#641a80,#732081,#832681,#932b80,#a1307e,#b0357b,#bf3a77,#cc3f71,#d6456c,#e04c67,#e85362,#ee5b5e,#f2645c,#f56b5c,#f7725c,#f9785d,#f97b5d,#fa7d5e,#fa7f5e,#fa7f5e,#fa7d5e,#f97b5d,#f9785d,#f7725c,#f66c5c,#f3655c,#ef5d5e,#ea5661,#e34e65,#d9466b,#cf4070,#c23b75,#b3367a,#a5317e,#962c80,#862781,#762181,#671b80,#56147d)"></i><i style="background:linear-gradient(90deg,#420f75,#2f1163,#1e1149,#110c2f,#06051a,#02020b,#07061c,#120d31,#20114b,#311165,#440f76,#54137d,#651a80,#752181,#842681,#942c80,#a3307e,#b2357b,#bf3a77,#cc3f71,#d8456c,#e04c67,#e85362,#ee5b5e,#f2645c,#f56b5c,#f7705c,#f8765c,#f9795d,#f97b5d,#fa7d5e,#fa7d5e,#f97b5d,#f9795d,#f8765c,#f7705c,#f4695c,#f2625d,#ee5b5e,#e85362,#e04c67,#d6456c,#cc3f71,#bf3a77,#b2357b,#a3307e,#932b80,#842681,#732081,#641a80,#52137c)"></i><i style="background:linear-gradient(90deg,#400f74,#2d1161,#1d1147,#100b2d,#050416,#02020b,#08071e,#130d34,#21114e,#331067,#451077,#56147d,#671b80,#762181,#862781,#942c80,#a5317e,#b2357b,#c03a76,#cc3f71,#d8456c,#e04c67,#e95462,#ee5b5e,#f2645c,#f56b5c,#f7705c,#f8765c,#f9795d,#f97b5d,#f97b5d,#f97b5d,#f9795d,#f9785d,#f8745c,#f66e5c,#f4675c,#f1605d,#ec5860,#e75263,#df4a68,#d5446d,#ca3e72,#bd3977,#ae347b,#a02f7f,#912b81,#812581,#721f81,#601880,#51127c)"></i><i style="background:linear-gradient(90deg,#3d0f71,#2a115c,#1a1042,#0d0a29,#030312,#02020b,#090720,#150e38,#241253,#341069,#471078,#59157e,#681c81,#782281,#882781,#962c80,#a5317e,#b3367a,#c03a76,#cd4071,#d8456c,#e24d66,#e85362,#ee5b5e,#f2625d,#f4695c,#f7705c,#f8745c,#f9785d,#f9795d,#f97b5d,#f9795d,#f9785d,#f8765c,#f7705c,#f56b5c,#f3655c,#f05f5e,#eb5760,#e44f64,#dc4869,#d2426f,#c73d73,#ba3878,#ad347c,#9e2f7f,#8e2a81,#802582,#6e1e81,#5f187f,#4e117b)"></i><i style="background:linear-gradient(90deg,#3b0f70,#29115a,#180f3d,#0b0924,#02020d,#02020b,#0a0822,#160f3b,#251255,#38106c,#491078,#5a167e,#6a1c81,#792282,#892881,#982d80,#a6317d,#b3367a,#c03a76,#cd4071,#d8456c,#e24d66,#e85362,#ee5b5e,#f2625d,#f4695c,#f66e5c,#f8745c,#f8765c,#f9785d,#f9795d,#f9785d,#f8765c,#f8745c,#f66e5c,#f4695c,#f2645c,#ee5b5e,#e95462,#e34e65,#db476a,#d0416f,#c53c74,#b83779,#aa337d,#9b2e7f,#8c2981,#7c2382,#6d1d81,#5c167f,#4c117a)"></i><i style="background:linear-gradient(90deg,#38106c,#251255,#160f3b,#090720,#020109,#02020d,#0b0924,#180f3d,#271258,#390f6e,#4c117a,#5c167f,#6b1d81,#7b2382,#892881,#992d80,#a6317d,#b5367a,#c23b75,#cd4071,#d8456c,#e24d66,#e85362,#ed5a5f,#f2625d,#f4695c,#f66e5c,#f7725c,#f8765c,#f9785d,#f9785d,#f8765c,#f8745c,#f7705c,#f66c5c,#f4675c,#f1605d,#ed5a5f,#e85362,#e04c67,#d8456c,#cd4071,#c23b75,#b5367a,#a8327d,#992d80,#892881,#7b2382,#6a1c81,#5a167e,#491078)"></i><i style="background:linear-gradient(90deg,#36106b,#221150,#140e36,#08071e,#020109,#02020d,#0c0926,#19103f,#29115a,#3b0f70,#4e117b,#5d177f,#6d1d81,#7c2382,#8b2981,#992d80,#a8327d,#b5367a,#c23b75,#cd4071,#d8456c,#e24d66,#e85362,#ed5a5f,#f1605d,#f4675c,#f66c5c,#f7705c,#f8745c,#f8765c,#f8765c,#f8745c,#f7725c,#f66e5c,#f56b5c,#f3655c,#f05f5e,#eb5760,#e75263,#df4a68,#d6456c,#cc3f71,#c03a76,#b3367a,#a5317e,#962c80,#882781,#782281,#681c81,#57157e,#471078)"></i><i style="background:linear-gradient(90deg,#331067,#21114e,#120d31,#06051a,#020109,#030312,#0d0a29,#1c1044,#2c115f,#3d0f71,#4f127b,#5f187f,#6e1e81,#7e2482,#8c2981,#9b2e7f,#a8327d,#b73779,#c23b75,#cf4070,#d8456c,#e04c67,#e85362,#ed5a5f,#f1605d,#f4675c,#f56b5c,#f7705c,#f7725c,#f8745c,#f8745c,#f7725c,#f7705c,#f66c5c,#f4675c,#f2625d,#ee5b5e,#ea5661,#e44f64,#dc4869,#d3436e,#c83e73,#bd3977,#b0357b,#a3307e,#942c80,#862781,#762181,#651a80,#56147d,#440f76)"></i><i style="background:linear-gradient(90deg,#311165,#1e1149,#110c2f,#050416,#020109,#040414,#100b2d,#1d1147,#2d1161,#400f74,#51127c,#601880,#701f81,#7e2482,#8e2a81,#9c2e7f,#aa337d,#b73779,#c43c75,#cf4070,#d8456c,#e04c67,#e85362,#ec5860,#f1605d,#f3655c,#f56b5c,#f66e5c,#f7705c,#f7725c,#f7725c,#f7705c,#f66e5c,#f56b5c,#f3655c,#f1605d,#ed5a5f,#e95462,#e34e65,#db476a,#d2426f,#c73d73,#bc3978,#ae347b,#a02f7f,#912b81,#832681,#732081,#641a80,#52137c,#420f75)"></i><i style="background:linear-gradient(90deg,#2d1161,#1d1147,#0e0b2b,#030312,#020109,#050416,#110c2f,#1e1149,#2f1163,#420f75,#52137c,#621980,#721f81,#802582,#8e2a81,#9c2e7f,#aa337d,#b73779,#c43c75,#cf4070,#d8456c,#e04c67,#e75263,#ec5860,#f05f5e,#f2645c,#f4695c,#f66c5c,#f66e5c,#f7705c,#f7705c,#f66e5c,#f66c5c,#f4695c,#f2645c,#ef5d5e,#ec5860,#e75263,#e04c67,#d8456c,#cf4070,#c43c75,#b83779,#ab337c,#9e2f7f,#902a81,#812581,#721f81,#621980,#51127c,#3f0f72)"></i><i style="background:linear-gradient(90deg,#2c115f,#1c1044,#0d0a29,#02020d,#020109,#06051a,#120d31,#20114b,#311165,#440f76,#54137d,#641a80,#732081,#812581,#902a81,#9e2f7f,#ab337c,#b83779,#c43c75,#cf4070,#d8456c,#e04c67,#e75263,#ec5860,#f05f5e,#f2645c,#f4675c,#f56b5c,#f66c5c,#f66e5c,#f66e5c,#f66c5c,#f4695c,#f3655c,#f1605d,#ee5b5e,#ea5661,#e55064,#de4968,#d6456c,#cd4071,#c23b75,#b73779,#aa337d,#9b2e7f,#8e2a81,#7e2482,#6e1e81,#5f187f,#4f127b,#3d0f71)"></i><i style="background:linear-gradient(90deg,#2a115c,#19103f,#0c0926,#020109,#020109,#07061c,#140e36,#221150,#341069,#451077,#56147d,#651a80,#752181,#832681,#912b81,#9e2f7f,#ab337c,#b83779,#c43c75,#cf4070,#d8456c,#e04c67,#e75263,#eb5760,#ef5d5e,#f2625d,#f4675c,#f4695c,#f56b5c,#f66c5c,#f66c5c,#f56b5c,#f4675c,#f2645c,#f05f5e,#ed5a5f,#e95462,#e34e65,#dc4869,#d3436e,#ca3e72,#bf3a77,#b3367a,#a6317d,#992d80,#8b2981,#7c2382,#6d1d81,#5d177f,#4c117a,#3b0f70)"></i><i style="background:linear-gradient(90deg,#271258,#180f3d,#0a0822,#020109,#020109,#08071e,#150e38,#241253,#36106b,#471078,#57157e,#671b80,#752181,#842681,#912b81,#a02f7f,#ab337c,#b83779,#c43c75,#cf4070,#d8456c,#df4a68,#e55064,#eb5760,#ee5b5e,#f1605d,#f3655c,#f4675c,#f4695c,#f56b5c,#f4695c,#f4675c,#f3655c,#f1605d,#ef5d5e,#eb5760,#e75263,#e24d66,#d9466b,#d2426f,#c83e73,#bd3977,#b2357b,#a5317e,#982d80,#892881,#792282,#6b1d81,#5c167f,#4a1079,#38106c)"></i><i style="background:linear-gradient(90deg,#251255,#160f3b,#090720,#020109,#020109,#0a0822,#160f3b,#251255,#38106c,#491078,#59157e,#681c81,#762181,#842681,#932b80,#a02f7f,#ad347c,#b83779,#c43c75,#cd4071,#d6456c,#df4a68,#e55064,#ea5661,#ee5b5e,#f1605d,#f2645c,#f3655c,#f4675c,#f4695c,#f4675c,#f3655c,#f2625d,#f05f5e,#ed5a5f,#ea5661,#e55064,#df4a68,#d8456c,#cf4070,#c53c74,#ba3878,#ae347b,#a1307e,#942c80,#862781,#782281,#681c81,#59157e,#491078,#36106b)"></i><i style="background:linear-gradient(90deg,#241253,#150e38,#090720,#020109,#02020d,#0c0926,#19103f,#271258,#390f6e,#4a1079,#5a167e,#6a1c81,#782281,#862781,#932b80,#a02f7f,#ad347c,#b83779,#c43c75,#cd4071,#d6456c,#de4968,#e44f64,#e95462,#ed5a5f,#f05f5e,#f2625d,#f2645c,#f3655c,#f3655c,#f3655c,#f2645c,#f1605d,#ef5d5e,#ec5860,#e85362,#e34e65,#dc4869,#d5446d,#cd4071,#c23b75,#b83779,#ad347c,#a02f7f,#932b80,#842681,#762181,#671b80,#57157e,#471078,#341069)"></i><i style="background:linear-gradient(90deg,#221150,#140e36,#08071e,#020109,#030312,#0d0a29,#1a1042,#2a115c,#3b0f70,#4c117a,#5c167f,#6b1d81,#792282,#862781,#942c80,#a1307e,#ad347c,#b83779,#c43c75,#cd4071,#d6456c,#de4968,#e44f64,#e95462,#ec5860,#ef5d5e,#f1605d,#f2625d,#f2645c,#f2645c,#f2645c,#f1605d,#f05f5e,#ed5a5f,#ea5661,#e75263,#e04c67,#db476a,#d3436e,#ca3e72,#c03a76,#b5367a,#aa337d,#9c2e7f,#902a81,#832681,#752181,#651a80,#56147d,#451077,#331067)"></i><i style="background:linear-gradient(90deg,#21114e,#140e36,#08071e,#02020d,#060518,#100b2d,#1c1044,#2c115f,#3d0f71,#4e117b,#5d177f,#6b1d81,#792282,#882781,#942c80,#a1307e,#ad347c,#b83779,#c43c75,#cd4071,#d5446d,#dc4869,#e34e65,#e85362,#eb5760,#ee5b5e,#f05f5e,#f1605d,#f2625d,#f2625d,#f1605d,#f05f5e,#ee5b5e,#ec5860,#e95462,#e44f64,#df4a68,#d8456c,#d0416f,#c83e73,#bd3977,#b3367a,#a8327d,#9b2e7f,#8e2a81,#802582,#721f81,#641a80,#54137d,#440f76,#311165)"></i></div>
<div class="cb" style="left:494.4px;top:19.1px;width:15.4px;height:307.5px;background:linear-gradient(180deg,#fcfdbf,#fcf6b8,#fceeb0,#fde7a9,#fddea0,#fed799,#fecf92,#fec88c,#febf84,#feb77e,#feb078,#fea973,#fe9f6d,#fd9869,#fc9065,#fc8961,#fa7f5e,#f9785d,#f7705c,#f4675c,#f1605d,#ed5a5f,#e95462,#e34e65,#de4968,#d8456c,#d2426f,#ca3e72,#c43c75,#bd3977,#b73779,#ae347b,#a8327d,#a1307e,#992d80,#932b80,#8c2981,#862781,#7e2482,#782281,#721f81,#6b1d81,#641a80,#5d177f,#57157e,#51127c,#491078,#420f75,#3b0f70,#331067,#2c115f,#251255,#20114b,#19103f,#140e36,#100b2d,#0b0924,#06051a,#030312,#020109,#000004)"></div>
<svg class="ov" width="560" height="514" viewBox="0 0 560 514"><clipPath id="c0"><rect x="66.90" y="19.15" width="402.45" height="307.45"/></clipPath><g clip-path="url(#c0)" fill="none" stroke="#fff" stroke-width="2.20" stroke-linecap="butt" stroke-linejoin="round"><path d="M444.2 326.6L444.8 325.3L445.4 324.0L446.1 322.7L446.7 321.4L447.4 320.1L448.0 318.8L448.7 317.5L449.3 316.2"/><path d="M461.3 294.9L462.1 293.7L462.8 292.5L463.5 291.3L464.2 290.1L464.9 288.9L465.7 287.7L466.4 286.5L467.1 285.3L467.8 284.1L468.5 283.0L469.1 281.8L469.4 281.4"/><path d="M66.9 269.6L67.6 268.4L68.3 267.1L69.0 265.8L69.8 264.5L70.4 263.2L71.1 261.9L71.8 260.6L72.5 259.3L73.1 258.0L73.7 256.8L74.3 255.6L75.0 254.4L75.6 253.2L76.2 251.9L76.9 250.6L77.5 249.3L78.1 248.0L78.7 246.7L79.3 245.4L79.9 244.1L80.4 242.9L80.9 241.8L81.5 240.5L82.1 239.3L82.7 238.0L83.3 236.7L83.9 235.4L84.5 234.1L85.0 232.8L85.6 231.5L86.1 230.2L86.7 228.9L87.2 227.6L87.7 226.3L88.3 225.0L88.9 223.7L89.5 222.4L90.0 221.1L90.5 219.8L91.1 218.5L91.6 217.2L92.1 215.9L92.6 214.6L93.1 213.3L93.6 212.0L94.0 210.9L94.5 209.7L95.0 208.4L95.5 207.2L96.0 205.9L96.5 204.6L97.0 203.3L97.6 202.0L98.0 200.7L98.5 199.4L99.0 198.1L99.5 196.8L99.9 195.4L100.4 194.1L100.9 192.7L101.3 191.5L101.7 190.2L102.2 188.9L102.7 187.6L103.1 186.3L103.6 185.0L104.1 183.5L104.5 182.1L105.0 180.7L105.4 179.3L105.9 177.8L106.3 176.4L106.8 175.0L107.2 173.7L107.6 172.3L108.0 171.0L108.3 169.8L108.8 168.4L109.2 167.0L109.6 165.5L110.1 164.1L110.5 162.7L110.9 161.3L111.3 159.8L111.7 158.4L112.1 157.0L112.5 155.6L112.9 154.2L113.2 152.7L113.6 151.3L114.0 149.9L114.3 148.6L114.6 147.4L115.1 146.1L115.5 144.7L115.9 143.3L116.3 141.8L116.7 140.4L117.1 139.0L117.5 137.6L117.8 136.2L118.2 134.7L118.6 133.3L119.0 131.9L119.4 130.5L119.8 129.1L120.2 127.6L120.6 126.2L121.0 124.8L121.4 123.4L121.7 122.1L122.1 120.8L122.5 119.5L123.0 118.2L123.4 116.7L123.8 115.3L124.3 113.9L124.7 112.5L125.1 111.1L125.6 109.6L126.0 108.2L126.5 106.8L127.0 105.4L127.4 103.9L127.9 102.5L128.1 101.2L128.7 100.2L130.1 99.9L131.5 99.5L132.8 99.2L134.2 98.9L135.6 98.8L137.1 99.0L138.5 99.3L140.0 99.5L141.4 99.8L142.9 100.1L144.4 100.4L145.8 100.7L147.3 101.0L148.8 101.3L150.2 101.6L151.5 101.9L152.9 102.2L154.3 102.5L155.6 102.7L157.0 103.0L158.5 103.4L160.0 103.7L161.4 104.0L162.9 104.3L164.2 104.6L165.6 104.9L166.9 105.3L168.3 105.6L169.7 105.9L171.0 106.2L172.4 106.6L173.8 106.9L175.1 107.3L176.5 107.6L177.9 108.0L179.2 108.3L180.6 108.7L181.9 109.1L183.3 109.4L184.7 109.8L186.0 110.2L187.4 110.6L188.8 111.0L190.1 111.4L191.5 111.9L192.9 112.3L194.3 112.8L195.7 113.2L197.0 113.7L198.3 114.2L199.7 114.7L201.1 115.2L202.4 115.7L203.8 116.2L205.1 116.8L206.5 117.4L207.9 118.0L209.1 118.5L210.1 119.0L211.4 119.7L212.7 120.4L214.0 121.1L215.3 121.7L216.5 122.4L217.7 123.1L218.8 123.9L220.0 124.8L221.1 125.7L222.3 126.5L223.4 127.4L224.5 128.3L225.4 129.3L226.4 130.4L227.3 131.6L228.3 132.7L229.2 133.8L229.9 135.0L230.6 136.3L231.2 137.4L231.7 138.6L232.2 140.0L232.5 141.4L232.9 142.8L233.3 144.2L233.4 145.6L233.5 147.1L233.6 148.5L233.6 149.9L233.5 151.3L233.3 152.7L233.2 154.2L233.0 155.6L232.7 157.0L232.4 158.4L232.1 159.8L231.7 161.3L231.3 162.7L230.9 164.1L230.6 165.1L230.1 166.4L229.6 167.7L229.1 169.0L228.6 170.3L228.0 171.6L227.4 172.9L226.8 174.2L226.2 175.5L225.5 176.8L224.9 178.1L224.2 179.4L223.6 180.7L222.8 182.0L222.1 183.3L221.4 184.6L220.6 185.9L219.9 187.1L219.2 188.3L218.5 189.5L217.8 190.7L217.2 191.8L216.5 192.8L215.7 194.0L215.0 195.2L214.3 196.3L213.5 197.5L212.7 198.7L212.0 199.9L211.2 201.1L210.4 202.4L209.6 203.6L208.8 204.8L208.6 205.2"/><path d="M195.6 226.0L194.9 227.2L194.2 228.5L193.5 229.8L192.7 231.1L192.0 232.4L191.4 233.6L190.7 234.9L190.1 236.1L189.5 237.3L188.9 238.4L188.2 239.7L187.6 241.1L186.9 242.4L186.3 243.7L185.7 245.0L185.1 246.3L184.5 247.6L183.9 248.9L183.3 250.3L182.7 251.6L182.1 252.8L181.5 254.1L180.9 255.4L180.3 256.7L179.8 258.0L179.2 259.3L178.6 260.6L178.1 261.9L177.5 263.2L177.0 264.5L176.4 265.9L175.9 267.2L175.3 268.4L174.7 269.7L174.2 271.0L173.6 272.3L173.0 273.6L172.4 274.9L171.9 276.2L171.3 277.5L170.8 278.8L170.2 280.1L169.7 281.3L169.2 282.5L168.7 283.7L168.1 284.9L167.5 286.2L167.0 287.5L166.4 288.8L165.8 290.1L165.2 291.4L164.7 292.7L164.1 294.0L163.5 295.3L163.0 296.7L162.4 298.0L161.8 299.3L161.2 300.5L160.7 301.8L160.1 303.2L159.5 304.5L159.0 305.8L158.4 307.1L157.9 308.4L157.4 309.7L156.8 311.0L156.4 312.2L155.9 313.4L155.4 314.6L154.9 315.8L154.4 317.0L153.9 318.3L153.4 319.7L152.9 321.0L152.5 322.3L152.0 323.6L151.5 324.9L151.1 326.2L150.9 326.6"/><path d="M469.4 81.5L468.0 81.0L466.6 80.5L465.3 80.0L463.9 79.5L462.5 79.0L461.2 78.4L459.8 77.8L458.4 77.3L457.0 76.7L455.7 76.1L454.4 75.3L453.1 74.6L451.9 73.9L450.6 73.2L449.3 72.5L448.1 71.7L447.0 70.9L445.9 70.0L444.7 69.0L443.6 68.1L442.4 67.1L441.6 66.3"/><path d="M434.7 42.8L434.8 41.4L435.0 40.0L435.2 39.0L435.6 37.6L435.9 36.2L436.2 34.8L436.6 33.4L437.1 31.9L437.5 30.5L438.0 29.1L438.4 27.8L438.9 26.5L439.4 25.2L439.9 23.9L440.4 22.6L440.9 21.3L441.5 20.0L441.8 19.1"/><path d="M149.2 19.1L148.9 20.3L148.5 21.6L148.0 23.0L147.6 24.4L147.1 25.8L146.7 27.2L146.3 28.6L145.9 30.0L145.5 31.5L145.1 32.9L144.7 34.3L144.3 35.7L143.9 37.2L143.6 38.6L143.2 40.0L142.9 41.4L142.5 42.8L142.2 44.2L141.9 45.2L141.5 46.6L141.2 48.0L140.8 49.5"/><path d="M135.0 73.2L134.6 74.6L134.2 76.0L133.8 77.4L133.4 78.8L133.0 80.3L132.6 81.7L132.1 83.1L131.7 84.5L131.3 85.9L130.8 87.3L130.4 88.6L130.0 89.9L129.5 91.2L129.1 92.6L128.7 93.9L128.3 95.3L126.8 95.3L125.4 95.4L123.9 95.4L122.4 95.5L121.0 95.4L119.5 95.2L118.1 94.9L116.6 94.6L115.1 94.4L113.7 94.1L112.2 93.8L110.8 93.5L109.3 93.3L107.8 93.0L106.4 92.6L105.0 92.3L103.6 92.0L102.3 91.8L101.0 91.6L99.5 91.3L98.1 91.0L96.6 90.7L95.2 90.4L93.7 90.1L92.2 89.8L90.8 89.5L89.3 89.2L87.9 88.9L86.5 88.6L85.1 88.2L83.7 87.9L82.4 87.6L81.0 87.3L79.8 87.0L78.5 86.7L77.1 86.3L75.6 86.0L74.2 85.6L72.8 85.2L71.4 84.9L70.1 84.5L68.7 84.1L67.4 83.7L66.9 83.6"/><path d="M356.9 326.6L358.0 325.8L359.1 325.1L360.2 324.3L361.3 323.4L362.5 322.5L363.6 321.7L364.7 320.8L365.9 319.9L367.0 319.0L368.2 318.1L369.3 317.1L370.4 316.2L371.6 315.2L372.7 314.2L373.9 313.3L374.9 312.3L376.0 311.3L377.1 310.3L378.2 309.3L379.2 308.3L380.3 307.3L381.3 306.3L382.2 305.4L383.2 304.4L384.2 303.3L385.2 302.3L386.2 301.2L387.2 300.2L388.1 299.2L389.1 298.1L390.0 297.1L390.9 296.0L391.9 295.0L392.8 293.9L393.7 292.8L394.6 291.8L395.4 290.8L396.2 289.8L397.1 288.6L398.0 287.5L398.9 286.4L399.8 285.3L400.6 284.2L401.4 283.1L402.2 282.0L403.1 280.8L403.9 279.7L404.7 278.5L405.6 277.3L406.4 276.1L407.3 274.9L408.0 273.9L408.7 272.7L409.5 271.6L410.2 270.4L411.0 269.3L411.7 268.1L412.5 266.9L413.2 265.7L414.0 264.5L414.6 263.5L415.3 262.3L416.0 261.0L416.8 259.7L417.5 258.4L418.2 257.1L418.9 255.8L419.6 254.5L420.3 253.2L421.0 252.0L421.6 250.7L422.2 249.6L422.7 248.4L423.3 247.1L423.9 245.8L424.5 244.5L425.1 243.2L425.7 241.9L426.2 240.6L426.8 239.3L427.3 238.0L427.8 236.7L428.3 235.4L428.7 234.1L429.2 232.8L429.6 231.4L430.1 230.0L430.5 228.5L430.9 227.1L431.3 225.7L431.6 224.3L432.0 222.9L432.3 221.4L432.6 220.0L432.9 218.6L433.1 217.2L433.3 215.7L433.5 214.3L433.7 212.9L433.8 211.5L433.9 210.1L434.0 208.6L434.1 207.2L434.1 205.8L434.1 204.4L434.0 203.0L434.0 201.5L433.8 200.1L433.7 198.7L433.5 197.3L433.3 195.9L433.0 194.4L432.7 193.0L432.4 191.6L432.0 190.2L431.5 188.7L431.1 187.3L430.6 185.9L430.0 184.6L429.4 183.3L428.8 182.0L428.2 180.7L427.4 179.5L426.6 178.3L425.8 177.1L425.0 175.9L424.1 174.7L423.2 173.6L422.2 172.4L421.3 171.3L420.2 170.3L419.1 169.3L418.1 168.4L417.0 167.5L415.9 166.6L414.8 165.7L413.9 165.1L412.6 164.3L411.3 163.5L410.1 162.8L408.8 162.0L407.5 161.3L406.3 160.8L405.1 160.2L403.8 159.7L402.5 159.1L401.1 158.6L399.8 158.2L398.4 157.8L397.0 157.3L395.7 156.9L394.3 156.5L392.9 156.2L391.4 156.0L389.9 155.7L388.5 155.4L387.0 155.1L385.5 155.0L384.0 154.8L382.5 154.7L381.1 154.5L379.7 154.5L378.2 154.5L376.8 154.4L375.3 154.4L373.9 154.4L372.5 154.5L371.1 154.6L369.7 154.6L368.3 154.7L367.0 154.8L365.6 155.0L364.1 155.2L362.6 155.4L361.2 155.6L359.7 155.8L358.3 156.1L356.8 156.4L355.3 156.8L353.9 157.1L352.5 157.4L351.1 157.8L349.8 158.2L348.4 158.6L347.0 159.0L345.8 159.4L344.6 159.8L343.3 160.3L342.0 160.8L340.6 161.3L339.3 161.8L337.9 162.4L336.6 163.0L335.2 163.6L333.8 164.2L332.5 164.8L331.2 165.5L329.9 166.2L328.7 166.8L327.4 167.5L326.1 168.1L324.9 168.8L323.7 169.6L322.5 170.3L321.3 171.0L320.1 171.7L318.9 172.5L317.7 173.3L316.5 174.1L315.2 174.9L314.0 175.7L312.9 176.6L311.7 177.4L310.5 178.3L309.3 179.2L308.1 180.1L307.0 181.0L306.0 181.7L304.9 182.6L303.9 183.5L302.8 184.4L301.7 185.3L300.6 186.2L299.5 187.1L298.5 188.1L297.4 189.1L296.2 190.1L295.1 191.1L294.1 192.1L293.0 193.1L292.0 194.0L291.0 195.0L290.0 196.0L289.0 197.0L288.0 198.1L286.9 199.1L285.9 200.2L284.9 201.2L284.0 202.2L283.0 203.3L282.0 204.3L281.1 205.4L280.1 206.4L279.2 207.4L278.4 208.3L277.4 209.4L276.5 210.5L275.5 211.6L274.6 212.7L273.7 213.8L272.8 214.9L271.8 216.0L271.5 216.4"/><path d="M257.2 235.8L256.4 236.9L255.7 238.0L254.9 239.2L254.2 240.4L253.4 241.6L252.7 242.8L252.0 244.0L251.3 245.2L250.6 246.4L249.9 247.6L249.2 248.9L248.5 250.2L247.8 251.5L247.1 252.8L246.5 254.1L245.9 255.3L245.3 256.5L244.7 257.8L244.1 258.9L243.6 260.2L243.0 261.5L242.4 262.8L241.9 264.1L241.3 265.4L240.8 266.7L240.3 268.0L239.8 269.3L239.4 270.6L238.9 271.9L238.5 273.2L238.0 274.5L237.6 275.9L237.1 277.3L236.7 278.7L236.3 280.2L236.0 281.6L235.6 283.0L235.3 284.4L234.9 285.9L234.7 287.3L234.4 288.7L234.1 290.1L233.9 291.5L233.7 293.0L233.5 294.4L233.3 295.8L233.1 297.2L233.0 298.7L232.9 300.1L232.8 301.5L232.8 302.9L232.8 304.3L232.7 305.8L232.8 307.2L232.9 308.6L233.0 310.0L233.1 311.4L233.4 312.9L233.6 314.3L233.8 315.7L234.1 317.1L234.5 318.5L234.9 320.0L235.3 321.4L235.8 322.7L236.4 324.0L236.9 325.3L237.4 326.6"/><path d="M240.6 19.1L241.5 20.2L242.4 21.3L243.3 22.4L244.3 23.5L245.1 24.4L246.2 25.3L247.3 26.2L248.5 27.1L249.6 28.0L250.7 28.9L251.6 29.6L252.8 30.3L254.1 31.0L255.4 31.7L256.6 32.4L257.9 33.1L259.2 33.7L260.5 34.2L261.9 34.8L263.1 35.2L264.3 35.7L265.6 36.1L267.0 36.5L268.4 36.9L269.7 37.2"/><path d="M293.9 39.2L295.4 39.1L296.9 38.9L298.3 38.8L299.8 38.6L301.3 38.4L302.7 38.1L304.2 37.9L305.6 37.7L307.0 37.3L308.4 37.0L309.7 36.7L311.1 36.4L312.5 36.0L313.8 35.6L315.2 35.2L316.5 34.8L317.9 34.4L319.3 33.9L320.6 33.4L322.0 32.9L323.4 32.4L324.7 31.8L326.1 31.3L327.4 30.7L328.7 30.2L330.0 29.6L331.2 29.0L332.5 28.4L333.8 27.8L335.1 27.1L336.3 26.5L337.6 25.8L338.9 25.2L340.1 24.5L341.2 23.9L342.4 23.2L343.7 22.5L344.9 21.7L346.2 21.0L347.3 20.3L348.4 19.6L349.1 19.1"/></g><g clip-path="url(#c0)"><text x="138.3" y="63.3" transform="rotate(-76.2 138.3 59.4)" class="cl">1</text><text x="203.1" y="217.6" transform="rotate(-57.6 203.1 213.7)" class="cl">1</text><text x="436.0" y="61.3" transform="rotate(69.0 436.0 57.4)" class="cl">1</text><text x="456.2" y="307.7" transform="rotate(-60.2 456.2 303.8)" class="cl">1</text><text x="265.3" y="228.2" transform="rotate(-52.9 265.3 224.3)" class="cl">3</text><text x="283.7" y="43.2" transform="rotate(2.9 283.7 39.3)" class="cl">3</text></g><path d="M66.90 326.60v-4.3M66.90 19.15v4.3M66.90 326.60h4.3M469.35 326.60h-4.3M157.85 326.60v-4.3M157.85 19.15v4.3M66.90 257.12h4.3M469.35 257.12h-4.3M248.80 326.60v-4.3M248.80 19.15v4.3M66.90 187.64h4.3M469.35 187.64h-4.3M339.75 326.60v-4.3M339.75 19.15v4.3M66.90 118.16h4.3M469.35 118.16h-4.3M430.70 326.60v-4.3M430.70 19.15v4.3M66.90 48.68h4.3M469.35 48.68h-4.3M509.80 326.60h-4.3M509.80 292.78h-4.3M509.80 258.96h-4.3M509.80 225.14h-4.3M509.80 191.32h-4.3M509.80 157.50h-4.3M509.80 123.68h-4.3M509.80 89.86h-4.3M509.80 56.04h-4.3M509.80 22.22h-4.3" stroke="#000" stroke-width="1.10" fill="none"/><rect x="66.90" y="19.15" width="402.45" height="307.45" fill="none" stroke="#000" stroke-width="1.25"/><rect x="494.45" y="19.15" width="15.35" height="307.45" fill="none" stroke="#000" stroke-width="1.25"/><g class="tk"><text x="66.50" y="346.95" text-anchor="middle">0</text><text x="58.70" y="331.25" text-anchor="end">0</text><text x="157.45" y="346.95" text-anchor="middle">80</text><text x="58.70" y="261.77" text-anchor="end">80</text><text x="248.40" y="346.95" text-anchor="middle">160</text><text x="58.70" y="192.29" text-anchor="end">160</text><text x="339.35" y="346.95" text-anchor="middle">240</text><text x="58.70" y="122.81" text-anchor="end">240</text><text x="430.30" y="346.95" text-anchor="middle">320</text><text x="58.70" y="53.33" text-anchor="end">320</text><text x="517.00" y="331.35">0.00</text><text x="517.00" y="297.53">0.55</text><text x="517.00" y="263.71">1.10</text><text x="517.00" y="229.89">1.65</text><text x="517.00" y="196.07">2.20</text><text x="517.00" y="162.25">2.75</text><text x="517.00" y="128.43">3.30</text><text x="517.00" y="94.61">3.85</text><text x="517.00" y="60.79">4.40</text><text x="517.00" y="26.97">4.95</text></g><text class="tt"><tspan x="159.30" y="12.80">|</tspan><tspan x="165.20" y="12.80">ξ</tspan><tspan class="sn" x="173.90" y="15.80">n</tspan><tspan x="182.60" y="12.80">|</tspan><tspan class="sb" x="188.40" y="15.80">X</tspan><tspan x="197.10" y="12.80"> [mm] - Ic = 10.0 kAt</tspan></text><text class="lb" transform="translate(219.70 371.10)"><tspan x="0.00" y="0">Δ</tspan><tspan x="14.40" y="0">Φ</tspan><tspan class="sb" x="31.25" y="3.50">E</tspan><tspan class="sb" x="43.70" y="3.50">-</tspan><tspan class="sb" x="51.90" y="3.50">U</tspan><tspan x="63.60" y="0">[</tspan><tspan class="dg" x="75.50" y="-3.10">°</tspan><tspan x="87.50" y="0">]</tspan></text><text class="lb" transform="translate(15.90 219.30) rotate(-90)"><tspan x="0.00" y="0">Δ</tspan><tspan x="14.40" y="0">Φ</tspan><tspan class="sb" x="31.25" y="3.50">E</tspan><tspan class="sb" x="43.70" y="3.50">-</tspan><tspan class="sb" x="51.90" y="3.50">L</tspan><tspan x="61.00" y="0">[</tspan><tspan class="dg" x="72.90" y="-3.10">°</tspan><tspan x="84.90" y="0">]</tspan></text></svg>
</div>
<div class="panel" style="left:648.10px">
<div class="heat" style="left:67px;top:19px;width:402px;height:308px"><i style="background:linear-gradient(90deg,#1e1149,#251255,#2f1163,#3b0f70,#471078,#56147d,#621980,#6d1d81,#792282,#832681,#8c2981,#942c80,#9b2e7f,#a1307e,#a6317d,#ab337c,#b0357b,#b5367a,#b83779,#bc3978,#bd3977,#bf3a77,#bf3a77,#bf3a77,#bc3978,#ba3878,#b5367a,#b0357b,#ab337c,#a6317d,#a1307e,#9b2e7f,#942c80,#8c2981,#842681,#7b2382,#701f81,#651a80,#59157e,#4c117a,#3d0f71,#311165,#251255,#1d1147,#180f3d,#150e38,#140e36,#140e36,#150e38,#180f3d,#1a1042)"></i><i style="background:linear-gradient(90deg,#1e1149,#251255,#2d1161,#390f6e,#471078,#54137d,#601880,#6b1d81,#762181,#812581,#892881,#912b81,#982d80,#9e2f7f,#a3307e,#a8327d,#ad347c,#b0357b,#b5367a,#b83779,#ba3878,#bc3978,#bc3978,#ba3878,#b83779,#b5367a,#b2357b,#ad347c,#a8327d,#a3307e,#9c2e7f,#962c80,#902a81,#892881,#802582,#762181,#6d1d81,#621980,#56147d,#491078,#3b0f70,#2f1163,#241253,#1d1147,#180f3d,#160f3b,#150e38,#150e38,#160f3b,#180f3d,#1a1042)"></i><i style="background:linear-gradient(90deg,#1e1149,#251255,#2d1161,#390f6e,#451077,#52137c,#5f187f,#6a1c81,#752181,#7e2482,#862781,#8e2a81,#942c80,#9b2e7f,#a02f7f,#a5317e,#aa337d,#ad347c,#b0357b,#b3367a,#b5367a,#b73779,#b73779,#b73779,#b3367a,#b0357b,#ad347c,#a8327d,#a5317e,#9e2f7f,#992d80,#932b80,#8c2981,#842681,#7c2382,#732081,#6a1c81,#5f187f,#52137c,#451077,#390f6e,#2d1161,#241253,#1d1147,#19103f,#160f3b,#160f3b,#160f3b,#180f3d,#19103f,#1c1044)"></i><i style="background:linear-gradient(90deg,#20114b,#251255,#2d1161,#38106c,#451077,#51127c,#5d177f,#681c81,#721f81,#7b2382,#842681,#8b2981,#912b81,#982d80,#9c2e7f,#a1307e,#a6317d,#aa337d,#ad347c,#b0357b,#b2357b,#b2357b,#b3367a,#b2357b,#b0357b,#ad347c,#aa337d,#a5317e,#a02f7f,#9b2e7f,#962c80,#902a81,#892881,#812581,#792282,#701f81,#671b80,#5c167f,#51127c,#440f76,#38106c,#2c115f,#241253,#1d1147,#1a1042,#180f3d,#180f3d,#180f3d,#19103f,#1a1042,#1c1044)"></i><i style="background:linear-gradient(90deg,#20114b,#251255,#2d1161,#38106c,#440f76,#4f127b,#5a167e,#651a80,#701f81,#792282,#812581,#882781,#8e2a81,#942c80,#992d80,#9e2f7f,#a1307e,#a6317d,#a8327d,#ab337c,#ad347c,#ae347b,#ae347b,#ad347c,#ab337c,#a8327d,#a5317e,#a1307e,#9c2e7f,#982d80,#912b81,#8c2981,#862781,#7e2482,#762181,#6d1d81,#641a80,#59157e,#4e117b,#420f75,#36106b,#2c115f,#241253,#1e1149,#1c1044,#19103f,#19103f,#19103f,#19103f,#1a1042,#1d1147)"></i><i style="background:linear-gradient(90deg,#20114b,#251255,#2d1161,#38106c,#420f75,#4e117b,#59157e,#641a80,#6d1d81,#762181,#7e2482,#862781,#8b2981,#912b81,#962c80,#992d80,#9e2f7f,#a1307e,#a5317e,#a8327d,#aa337d,#aa337d,#aa337d,#aa337d,#a8327d,#a5317e,#a1307e,#9c2e7f,#992d80,#942c80,#8e2a81,#892881,#832681,#7b2382,#732081,#6a1c81,#601880,#57157e,#4c117a,#400f74,#36106b,#2c115f,#241253,#20114b,#1d1147,#1a1042,#1a1042,#1a1042,#1a1042,#1c1044,#1d1147)"></i><i style="background:linear-gradient(90deg,#21114e,#251255,#2d1161,#38106c,#420f75,#4e117b,#57157e,#621980,#6b1d81,#732081,#7b2382,#812581,#882781,#8e2a81,#912b81,#962c80,#9b2e7f,#9e2f7f,#a02f7f,#a3307e,#a5317e,#a6317d,#a6317d,#a5317e,#a3307e,#a02f7f,#9c2e7f,#992d80,#942c80,#902a81,#8b2981,#862781,#802582,#782281,#701f81,#681c81,#5f187f,#56147d,#4a1079,#400f74,#36106b,#2c115f,#251255,#21114e,#1e1149,#1c1044,#1c1044,#1c1044,#1c1044,#1c1044,#1e1149)"></i><i style="background:linear-gradient(90deg,#21114e,#271258,#2d1161,#36106b,#400f74,#4c117a,#56147d,#5f187f,#681c81,#701f81,#782281,#7e2482,#842681,#892881,#8e2a81,#932b80,#962c80,#992d80,#9c2e7f,#9e2f7f,#a02f7f,#a1307e,#a1307e,#a02f7f,#9e2f7f,#9c2e7f,#992d80,#962c80,#912b81,#8c2981,#882781,#832681,#7c2382,#752181,#6e1e81,#651a80,#5d177f,#54137d,#491078,#3f0f72,#36106b,#2d1161,#271258,#221150,#20114b,#1e1149,#1d1147,#1d1147,#1d1147,#1d1147,#1e1149)"></i><i style="background:linear-gradient(90deg,#221150,#271258,#2d1161,#36106b,#400f74,#4a1079,#54137d,#5d177f,#671b80,#6e1e81,#752181,#7b2382,#812581,#862781,#8b2981,#8e2a81,#932b80,#962c80,#982d80,#9b2e7f,#9c2e7f,#9c2e7f,#9c2e7f,#9c2e7f,#9b2e7f,#992d80,#962c80,#932b80,#8e2a81,#892881,#842681,#802582,#792282,#732081,#6b1d81,#641a80,#5a167e,#52137c,#491078,#3f0f72,#36106b,#2f1163,#29115a,#241253,#21114e,#20114b,#1e1149,#1e1149,#1d1147,#1e1149,#20114b)"></i><i style="background:linear-gradient(90deg,#221150,#271258,#2d1161,#36106b,#400f74,#491078,#52137c,#5c167f,#641a80,#6b1d81,#721f81,#782281,#7c2382,#832681,#862781,#8b2981,#8e2a81,#912b81,#942c80,#962c80,#982d80,#992d80,#992d80,#982d80,#962c80,#942c80,#932b80,#902a81,#8b2981,#882781,#832681,#7c2382,#762181,#701f81,#6a1c81,#621980,#5a167e,#51127c,#491078,#400f74,#38106c,#311165,#2a115c,#271258,#241253,#21114e,#20114b,#20114b,#1e1149,#20114b,#21114e)"></i><i style="background:linear-gradient(90deg,#241253,#29115a,#2f1163,#36106b,#3f0f72,#491078,#51127c,#59157e,#601880,#681c81,#6e1e81,#752181,#792282,#7e2482,#832681,#862781,#8b2981,#8e2a81,#902a81,#932b80,#932b80,#942c80,#942c80,#942c80,#932b80,#912b81,#8e2a81,#8b2981,#882781,#842681,#802582,#7b2382,#752181,#6e1e81,#681c81,#601880,#59157e,#51127c,#491078,#400f74,#390f6e,#331067,#2d1161,#29115a,#251255,#241253,#21114e,#21114e,#20114b,#20114b,#21114e)"></i><i style="background:linear-gradient(90deg,#251255,#29115a,#2f1163,#36106b,#3f0f72,#471078,#4f127b,#57157e,#5d177f,#651a80,#6b1d81,#701f81,#762181,#7b2382,#7e2482,#832681,#862781,#892881,#8c2981,#8e2a81,#902a81,#902a81,#902a81,#902a81,#902a81,#8e2a81,#8b2981,#882781,#842681,#812581,#7c2382,#782281,#732081,#6d1d81,#671b80,#5f187f,#57157e,#51127c,#491078,#420f75,#3b0f70,#341069,#2f1163,#2c115f,#29115a,#251255,#241253,#221150,#21114e,#21114e,#221150)"></i><i style="background:linear-gradient(90deg,#251255,#2a115c,#2f1163,#36106b,#3f0f72,#451077,#4e117b,#54137d,#5c167f,#621980,#671b80,#6d1d81,#721f81,#762181,#7b2382,#7e2482,#812581,#842681,#882781,#892881,#8b2981,#8c2981,#8c2981,#8c2981,#8b2981,#892881,#882781,#862781,#832681,#802582,#7b2382,#762181,#721f81,#6b1d81,#651a80,#5f187f,#57157e,#51127c,#4a1079,#440f76,#3d0f71,#38106c,#331067,#2f1163,#2c115f,#29115a,#251255,#241253,#221150,#221150,#241253)"></i><i style="background:linear-gradient(90deg,#271258,#2c115f,#311165,#36106b,#3d0f71,#451077,#4c117a,#52137c,#59157e,#5d177f,#641a80,#681c81,#6d1d81,#721f81,#762181,#7b2382,#7e2482,#812581,#832681,#862781,#882781,#882781,#882781,#882781,#882781,#862781,#842681,#832681,#802582,#7c2382,#792282,#752181,#701f81,#6a1c81,#641a80,#5d177f,#57157e,#51127c,#4a1079,#451077,#400f74,#3b0f70,#36106b,#331067,#2d1161,#2a115c,#29115a,#251255,#241253,#241253,#251255)"></i><i style="background:linear-gradient(90deg,#29115a,#2c115f,#311165,#38106c,#3d0f71,#440f76,#4a1079,#4f127b,#56147d,#5a167e,#5f187f,#651a80,#6a1c81,#6e1e81,#721f81,#762181,#792282,#7c2382,#802582,#812581,#832681,#842681,#842681,#842681,#842681,#832681,#812581,#802582,#7e2482,#7b2382,#762181,#732081,#6e1e81,#6a1c81,#641a80,#5d177f,#57157e,#52137c,#4c117a,#471078,#420f75,#3d0f71,#390f6e,#341069,#311165,#2d1161,#2a115c,#29115a,#271258,#251255,#271258)"></i><i style="background:linear-gradient(90deg,#2a115c,#2d1161,#331067,#38106c,#3d0f71,#420f75,#491078,#4e117b,#52137c,#57157e,#5c167f,#601880,#651a80,#6a1c81,#6e1e81,#721f81,#762181,#792282,#7b2382,#7e2482,#802582,#802582,#802582,#812581,#802582,#802582,#7e2482,#7c2382,#7b2382,#782281,#752181,#721f81,#6d1d81,#681c81,#641a80,#5d177f,#59157e,#54137d,#4e117b,#491078,#451077,#400f74,#3d0f71,#38106c,#341069,#311165,#2d1161,#2a115c,#29115a,#271258,#29115a)"></i><i style="background:linear-gradient(90deg,#2c115f,#2f1163,#331067,#38106c,#3d0f71,#420f75,#451077,#4a1079,#4f127b,#54137d,#59157e,#5c167f,#601880,#651a80,#6a1c81,#6e1e81,#721f81,#752181,#782281,#792282,#7b2382,#7c2382,#7c2382,#7c2382,#7c2382,#7c2382,#7c2382,#7b2382,#792282,#762181,#752181,#701f81,#6d1d81,#681c81,#641a80,#5f187f,#5a167e,#56147d,#51127c,#4c117a,#471078,#440f76,#400f74,#3b0f70,#38106c,#341069,#2f1163,#2d1161,#2a115c,#2a115c,#2a115c)"></i><i style="background:linear-gradient(90deg,#2d1161,#311165,#341069,#38106c,#3d0f71,#400f74,#440f76,#491078,#4c117a,#4f127b,#54137d,#59157e,#5d177f,#601880,#651a80,#6a1c81,#6d1d81,#701f81,#732081,#762181,#782281,#782281,#792282,#792282,#792282,#792282,#792282,#782281,#782281,#752181,#732081,#701f81,#6d1d81,#681c81,#641a80,#5f187f,#5a167e,#57157e,#52137c,#4f127b,#4a1079,#471078,#440f76,#3f0f72,#3b0f70,#38106c,#331067,#2f1163,#2d1161,#2c115f,#2c115f)"></i><i style="background:linear-gradient(90deg,#2f1163,#311165,#341069,#38106c,#3b0f70,#3f0f72,#420f75,#451077,#491078,#4c117a,#4f127b,#54137d,#59157e,#5d177f,#601880,#651a80,#6a1c81,#6d1d81,#701f81,#721f81,#732081,#752181,#762181,#762181,#762181,#762181,#762181,#762181,#752181,#752181,#721f81,#701f81,#6d1d81,#681c81,#651a80,#601880,#5c167f,#59157e,#56147d,#51127c,#4e117b,#4a1079,#471078,#440f76,#3f0f72,#3b0f70,#36106b,#331067,#311165,#2f1163,#2f1163)"></i><i style="background:linear-gradient(90deg,#311165,#331067,#36106b,#38106c,#3b0f70,#3f0f72,#400f74,#440f76,#451077,#491078,#4c117a,#4f127b,#54137d,#59157e,#5d177f,#601880,#651a80,#681c81,#6b1d81,#6e1e81,#701f81,#721f81,#721f81,#732081,#732081,#752181,#752181,#752181,#752181,#732081,#721f81,#6e1e81,#6d1d81,#6a1c81,#651a80,#621980,#5f187f,#5a167e,#57157e,#54137d,#51127c,#4e117b,#4a1079,#471078,#420f75,#3f0f72,#390f6e,#36106b,#331067,#311165,#311165)"></i><i style="background:linear-gradient(90deg,#341069,#341069,#36106b,#390f6e,#3b0f70,#3d0f71,#3f0f72,#400f74,#420f75,#451077,#471078,#4c117a,#4f127b,#54137d,#59157e,#5d177f,#601880,#651a80,#681c81,#6a1c81,#6d1d81,#6e1e81,#6e1e81,#701f81,#721f81,#721f81,#732081,#732081,#732081,#721f81,#721f81,#701f81,#6d1d81,#6a1c81,#671b80,#641a80,#601880,#5d177f,#5a167e,#57157e,#54137d,#51127c,#4e117b,#4a1079,#471078,#420f75,#3d0f71,#390f6e,#36106b,#341069,#341069)"></i><i style="background:linear-gradient(90deg,#36106b,#36106b,#38106c,#390f6e,#3b0f70,#3b0f70,#3d0f71,#3d0f71,#3f0f72,#400f74,#440f76,#471078,#4a1079,#4f127b,#54137d,#59157e,#5d177f,#601880,#641a80,#671b80,#6a1c81,#6b1d81,#6d1d81,#6d1d81,#6e1e81,#701f81,#721f81,#721f81,#721f81,#721f81,#721f81,#701f81,#6e1e81,#6b1d81,#681c81,#651a80,#641a80,#601880,#5d177f,#5a167e,#59157e,#56147d,#52137c,#4e117b,#4a1079,#451077,#420f75,#3d0f71,#390f6e,#38106c,#36106b)"></i><i style="background:linear-gradient(90deg,#38106c,#38106c,#390f6e,#390f6e,#390f6e,#3b0f70,#3b0f70,#3b0f70,#3b0f70,#3d0f71,#3f0f72,#420f75,#451077,#4a1079,#4f127b,#54137d,#59157e,#5d177f,#601880,#641a80,#651a80,#681c81,#6a1c81,#6b1d81,#6d1d81,#6e1e81,#701f81,#701f81,#721f81,#721f81,#721f81,#701f81,#6e1e81,#6d1d81,#6a1c81,#681c81,#651a80,#641a80,#601880,#5d177f,#5c167f,#59157e,#56147d,#52137c,#4e117b,#4a1079,#451077,#400f74,#3d0f71,#3b0f70,#390f6e)"></i><i style="background:linear-gradient(90deg,#3b0f70,#390f6e,#390f6e,#390f6e,#390f6e,#390f6e,#38106c,#38106c,#38106c,#390f6e,#3b0f70,#3d0f71,#420f75,#471078,#4c117a,#51127c,#56147d,#5a167e,#5d177f,#601880,#641a80,#651a80,#671b80,#681c81,#6a1c81,#6d1d81,#6e1e81,#701f81,#701f81,#721f81,#721f81,#721f81,#701f81,#6e1e81,#6d1d81,#6a1c81,#681c81,#651a80,#641a80,#621980,#5f187f,#5c167f,#59157e,#56147d,#52137c,#4e117b,#491078,#451077,#400f74,#3f0f72,#3b0f70)"></i><i style="background:linear-gradient(90deg,#3d0f71,#3b0f70,#3b0f70,#390f6e,#390f6e,#38106c,#36106b,#36106b,#341069,#341069,#36106b,#390f6e,#3d0f71,#420f75,#471078,#4c117a,#52137c,#56147d,#5a167e,#5d177f,#601880,#621980,#651a80,#671b80,#681c81,#6b1d81,#6d1d81,#6e1e81,#701f81,#721f81,#721f81,#721f81,#721f81,#701f81,#6e1e81,#6d1d81,#6b1d81,#681c81,#671b80,#651a80,#621980,#601880,#5d177f,#59157e,#56147d,#51127c,#4e117b,#491078,#451077,#420f75,#3f0f72)"></i><i style="background:linear-gradient(90deg,#400f74,#3d0f71,#3b0f70,#390f6e,#38106c,#36106b,#341069,#331067,#311165,#311165,#331067,#341069,#38106c,#3d0f71,#440f76,#491078,#4e117b,#52137c,#57157e,#5a167e,#5d177f,#601880,#621980,#651a80,#671b80,#6a1c81,#6d1d81,#6e1e81,#701f81,#721f81,#732081,#732081,#732081,#732081,#721f81,#701f81,#6e1e81,#6d1d81,#6a1c81,#681c81,#671b80,#641a80,#601880,#5d177f,#59157e,#56147d,#51127c,#4c117a,#491078,#451077,#420f75)"></i><i style="background:linear-gradient(90deg,#420f75,#400f74,#3d0f71,#3b0f70,#38106c,#36106b,#331067,#2f1163,#2d1161,#2d1161,#2d1161,#2f1163,#341069,#390f6e,#3f0f72,#451077,#4a1079,#4f127b,#54137d,#57157e,#5a167e,#5d177f,#601880,#641a80,#671b80,#681c81,#6b1d81,#6e1e81,#721f81,#732081,#752181,#752181,#752181,#752181,#752181,#732081,#721f81,#701f81,#6e1e81,#6b1d81,#6a1c81,#671b80,#641a80,#601880,#5d177f,#59157e,#56147d,#51127c,#4c117a,#491078,#451077)"></i><i style="background:linear-gradient(90deg,#451077,#420f75,#3f0f72,#3b0f70,#38106c,#341069,#311165,#2d1161,#2a115c,#29115a,#2a115c,#2c115f,#2f1163,#341069,#3b0f70,#420f75,#471078,#4c117a,#51127c,#56147d,#59157e,#5c167f,#5f187f,#621980,#651a80,#681c81,#6b1d81,#6e1e81,#721f81,#752181,#762181,#782281,#782281,#782281,#762181,#762181,#752181,#732081,#721f81,#701f81,#6d1d81,#6b1d81,#681c81,#651a80,#601880,#5d177f,#59157e,#54137d,#51127c,#4c117a,#491078)"></i><i style="background:linear-gradient(90deg,#471078,#440f76,#3f0f72,#3b0f70,#36106b,#331067,#2d1161,#2a115c,#271258,#251255,#251255,#29115a,#2c115f,#311165,#38106c,#3f0f72,#440f76,#4a1079,#4f127b,#52137c,#57157e,#5a167e,#5d177f,#601880,#651a80,#681c81,#6b1d81,#701f81,#732081,#752181,#782281,#792282,#792282,#7b2382,#792282,#792282,#782281,#762181,#752181,#732081,#721f81,#6e1e81,#6b1d81,#681c81,#651a80,#601880,#5d177f,#59157e,#54137d,#4f127b,#4c117a)"></i><i style="background:linear-gradient(90deg,#4a1079,#451077,#400f74,#3b0f70,#36106b,#311165,#2c115f,#29115a,#241253,#221150,#221150,#241253,#29115a,#2d1161,#341069,#3b0f70,#400f74,#471078,#4c117a,#51127c,#56147d,#59157e,#5c167f,#601880,#641a80,#681c81,#6d1d81,#701f81,#732081,#762181,#792282,#7b2382,#7c2382,#7c2382,#7c2382,#7c2382,#7b2382,#7b2382,#792282,#782281,#752181,#732081,#701f81,#6d1d81,#6a1c81,#651a80,#601880,#5c167f,#57157e,#52137c,#4e117b)"></i><i style="background:linear-gradient(90deg,#4c117a,#471078,#420f75,#3b0f70,#36106b,#2f1163,#2a115c,#251255,#221150,#20114b,#20114b,#21114e,#251255,#2a115c,#311165,#38106c,#3f0f72,#440f76,#4a1079,#4f127b,#54137d,#57157e,#5c167f,#601880,#641a80,#681c81,#6d1d81,#721f81,#752181,#792282,#7b2382,#7e2482,#802582,#802582,#812581,#802582,#802582,#7e2482,#7c2382,#7b2382,#792282,#762181,#732081,#701f81,#6d1d81,#6a1c81,#651a80,#601880,#5c167f,#56147d,#51127c)"></i><i style="background:linear-gradient(90deg,#4f127b,#491078,#420f75,#3b0f70,#36106b,#2f1163,#29115a,#221150,#20114b,#1d1147,#1d1147,#1e1149,#221150,#271258,#2d1161,#341069,#3b0f70,#420f75,#491078,#4e117b,#52137c,#57157e,#5c167f,#601880,#651a80,#6a1c81,#6e1e81,#732081,#762181,#7b2382,#7e2482,#812581,#832681,#832681,#842681,#842681,#832681,#812581,#812581,#7e2482,#7c2382,#7b2382,#782281,#752181,#721f81,#6d1d81,#681c81,#641a80,#5f187f,#5a167e,#54137d)"></i><i style="background:linear-gradient(90deg,#51127c,#4a1079,#440f76,#3d0f71,#341069,#2d1161,#271258,#21114e,#1d1147,#1a1042,#1a1042,#1d1147,#20114b,#251255,#2c115f,#331067,#390f6e,#400f74,#471078,#4c117a,#51127c,#56147d,#5c167f,#601880,#651a80,#6a1c81,#701f81,#752181,#792282,#7c2382,#812581,#832681,#862781,#862781,#882781,#882781,#882781,#862781,#842681,#832681,#812581,#7e2482,#7b2382,#782281,#752181,#721f81,#6d1d81,#681c81,#621980,#5d177f,#57157e)"></i><i style="background:linear-gradient(90deg,#54137d,#4c117a,#451077,#3d0f71,#341069,#2c115f,#251255,#20114b,#1c1044,#19103f,#19103f,#1a1042,#1e1149,#241253,#2a115c,#311165,#38106c,#3f0f72,#451077,#4a1079,#51127c,#56147d,#5c167f,#601880,#671b80,#6b1d81,#721f81,#762181,#7b2382,#802582,#832681,#862781,#892881,#8b2981,#8b2981,#8b2981,#8b2981,#892881,#892881,#882781,#842681,#832681,#802582,#7c2382,#792282,#752181,#701f81,#6b1d81,#671b80,#601880,#5a167e)"></i><i style="background:linear-gradient(90deg,#56147d,#4f127b,#451077,#3d0f71,#341069,#2c115f,#241253,#1d1147,#19103f,#160f3b,#160f3b,#19103f,#1d1147,#221150,#29115a,#2f1163,#36106b,#3d0f71,#440f76,#4a1079,#51127c,#56147d,#5c167f,#621980,#681c81,#6d1d81,#732081,#782281,#7e2482,#832681,#862781,#892881,#8c2981,#8e2a81,#902a81,#902a81,#902a81,#8e2a81,#8c2981,#8b2981,#892881,#862781,#832681,#802582,#7c2382,#792282,#752181,#6e1e81,#6a1c81,#641a80,#5d177f)"></i><i style="background:linear-gradient(90deg,#59157e,#51127c,#471078,#3d0f71,#341069,#2a115c,#221150,#1c1044,#180f3d,#150e38,#150e38,#180f3d,#1c1044,#21114e,#271258,#2d1161,#36106b,#3d0f71,#440f76,#4a1079,#51127c,#56147d,#5c167f,#621980,#6a1c81,#6e1e81,#752181,#7b2382,#802582,#842681,#892881,#8c2981,#902a81,#912b81,#932b80,#932b80,#932b80,#932b80,#912b81,#902a81,#8c2981,#8b2981,#882781,#842681,#812581,#7c2382,#782281,#732081,#6d1d81,#671b80,#5f187f)"></i><i style="background:linear-gradient(90deg,#5a167e,#52137c,#491078,#3f0f72,#331067,#29115a,#21114e,#1a1042,#150e38,#140e36,#140e36,#160f3b,#1c1044,#21114e,#271258,#2d1161,#341069,#3b0f70,#420f75,#4a1079,#51127c,#57157e,#5d177f,#641a80,#6b1d81,#721f81,#782281,#7e2482,#832681,#882781,#8c2981,#902a81,#932b80,#942c80,#962c80,#982d80,#982d80,#962c80,#942c80,#932b80,#912b81,#8e2a81,#8b2981,#882781,#842681,#802582,#7b2382,#762181,#701f81,#6a1c81,#621980)"></i><i style="background:linear-gradient(90deg,#5d177f,#54137d,#4a1079,#3f0f72,#331067,#29115a,#20114b,#19103f,#140e36,#130d34,#140e36,#160f3b,#1c1044,#20114b,#271258,#2d1161,#341069,#3b0f70,#420f75,#4a1079,#51127c,#57157e,#5f187f,#671b80,#6d1d81,#732081,#7b2382,#802582,#862781,#8b2981,#902a81,#942c80,#962c80,#992d80,#9b2e7f,#9b2e7f,#9b2e7f,#9b2e7f,#992d80,#982d80,#942c80,#932b80,#902a81,#8c2981,#882781,#842681,#802582,#792282,#732081,#6d1d81,#651a80)"></i><i style="background:linear-gradient(90deg,#5f187f,#56147d,#4a1079,#3f0f72,#331067,#29115a,#1e1149,#180f3d,#140e36,#120d31,#130d34,#160f3b,#1c1044,#21114e,#271258,#2d1161,#341069,#3b0f70,#420f75,#4a1079,#52137c,#59157e,#601880,#681c81,#6e1e81,#762181,#7c2382,#832681,#892881,#8e2a81,#932b80,#982d80,#9b2e7f,#9c2e7f,#9e2f7f,#a02f7f,#a02f7f,#9e2f7f,#9e2f7f,#9b2e7f,#992d80,#962c80,#932b80,#902a81,#8c2981,#882781,#832681,#7c2382,#762181,#6e1e81,#671b80)"></i><i style="background:linear-gradient(90deg,#601880,#57157e,#4c117a,#400f74,#331067,#271258,#1e1149,#160f3b,#130d34,#120d31,#130d34,#160f3b,#1c1044,#21114e,#271258,#2d1161,#341069,#3b0f70,#440f76,#4a1079,#52137c,#5a167e,#621980,#6a1c81,#721f81,#792282,#802582,#862781,#8c2981,#932b80,#982d80,#9b2e7f,#9e2f7f,#a1307e,#a3307e,#a3307e,#a3307e,#a3307e,#a1307e,#a02f7f,#9e2f7f,#9b2e7f,#982d80,#932b80,#902a81,#8b2981,#862781,#802582,#792282,#721f81,#6a1c81)"></i><i style="background:linear-gradient(90deg,#641a80,#59157e,#4e117b,#400f74,#341069,#271258,#1d1147,#160f3b,#130d34,#120d31,#140e36,#180f3d,#1c1044,#21114e,#271258,#2d1161,#341069,#3d0f71,#440f76,#4c117a,#54137d,#5c167f,#651a80,#6d1d81,#752181,#7c2382,#832681,#8b2981,#902a81,#962c80,#9b2e7f,#9e2f7f,#a3307e,#a5317e,#a6317d,#a8327d,#a8327d,#a8327d,#a6317d,#a5317e,#a1307e,#9e2f7f,#9b2e7f,#982d80,#932b80,#8e2a81,#892881,#832681,#7c2382,#752181,#6b1d81)"></i><i style="background:linear-gradient(90deg,#651a80,#5a167e,#4f127b,#420f75,#341069,#271258,#1d1147,#160f3b,#130d34,#120d31,#140e36,#180f3d,#1d1147,#221150,#29115a,#2f1163,#36106b,#3d0f71,#451077,#4e117b,#56147d,#5f187f,#671b80,#6e1e81,#782281,#802582,#882781,#8e2a81,#942c80,#992d80,#9e2f7f,#a3307e,#a6317d,#aa337d,#ab337c,#ab337c,#ad347c,#ab337c,#aa337d,#a8327d,#a6317d,#a3307e,#9e2f7f,#9b2e7f,#962c80,#912b81,#8c2981,#862781,#802582,#762181,#6e1e81)"></i><i style="background:linear-gradient(90deg,#671b80,#5c167f,#4f127b,#420f75,#341069,#271258,#1d1147,#160f3b,#130d34,#120d31,#150e38,#19103f,#1e1149,#241253,#2a115c,#311165,#38106c,#3f0f72,#471078,#4f127b,#57157e,#601880,#6a1c81,#721f81,#7b2382,#832681,#8b2981,#912b81,#982d80,#9e2f7f,#a3307e,#a6317d,#aa337d,#ad347c,#ae347b,#b0357b,#b0357b,#b0357b,#ae347b,#ad347c,#aa337d,#a6317d,#a3307e,#9e2f7f,#992d80,#942c80,#902a81,#892881,#812581,#792282,#701f81)"></i><i style="background:linear-gradient(90deg,#681c81,#5d177f,#51127c,#440f76,#341069,#271258,#1d1147,#160f3b,#130d34,#130d34,#150e38,#1a1042,#20114b,#251255,#2c115f,#331067,#390f6e,#400f74,#491078,#51127c,#5a167e,#641a80,#6b1d81,#752181,#7e2482,#862781,#8e2a81,#942c80,#9b2e7f,#a1307e,#a6317d,#ab337c,#ae347b,#b2357b,#b3367a,#b5367a,#b5367a,#b3367a,#b3367a,#b0357b,#ad347c,#aa337d,#a6317d,#a1307e,#9c2e7f,#982d80,#932b80,#8b2981,#842681,#7c2382,#721f81)"></i><i style="background:linear-gradient(90deg,#6b1d81,#5f187f,#52137c,#440f76,#36106b,#29115a,#1e1149,#160f3b,#140e36,#140e36,#160f3b,#1c1044,#21114e,#271258,#2d1161,#341069,#3b0f70,#420f75,#4a1079,#52137c,#5c167f,#651a80,#6e1e81,#782281,#812581,#892881,#912b81,#992d80,#a02f7f,#a5317e,#ab337c,#ae347b,#b2357b,#b5367a,#b73779,#b83779,#b83779,#b83779,#b73779,#b5367a,#b2357b,#ae347b,#aa337d,#a5317e,#a02f7f,#9b2e7f,#942c80,#8e2a81,#862781,#7e2482,#752181)"></i><i style="background:linear-gradient(90deg,#6d1d81,#601880,#54137d,#451077,#36106b,#29115a,#1e1149,#180f3d,#140e36,#150e38,#180f3d,#1d1147,#221150,#29115a,#2f1163,#36106b,#3d0f71,#440f76,#4c117a,#56147d,#5f187f,#681c81,#721f81,#7b2382,#842681,#8e2a81,#962c80,#9c2e7f,#a3307e,#aa337d,#ae347b,#b3367a,#b73779,#ba3878,#bc3978,#bd3977,#bd3977,#bd3977,#bc3978,#b83779,#b5367a,#b2357b,#ad347c,#a8327d,#a3307e,#9e2f7f,#982d80,#912b81,#892881,#802582,#762181)"></i><i style="background:linear-gradient(90deg,#6e1e81,#621980,#56147d,#471078,#38106c,#2a115c,#20114b,#180f3d,#150e38,#160f3b,#1a1042,#1e1149,#241253,#2a115c,#311165,#38106c,#3f0f72,#471078,#4f127b,#57157e,#621980,#6b1d81,#752181,#802582,#892881,#912b81,#992d80,#a1307e,#a8327d,#ad347c,#b3367a,#b73779,#bc3978,#bd3977,#c03a76,#c03a76,#c03a76,#c03a76,#bf3a77,#bd3977,#ba3878,#b5367a,#b0357b,#ab337c,#a6317d,#a1307e,#9b2e7f,#932b80,#8b2981,#832681,#782281)"></i><i style="background:linear-gradient(90deg,#701f81,#641a80,#56147d,#491078,#390f6e,#2a115c,#20114b,#19103f,#160f3b,#180f3d,#1c1044,#20114b,#251255,#2c115f,#331067,#390f6e,#400f74,#491078,#51127c,#5a167e,#641a80,#6e1e81,#792282,#832681,#8c2981,#962c80,#9e2f7f,#a5317e,#ab337c,#b2357b,#b73779,#bc3978,#bf3a77,#c23b75,#c43c75,#c53c74,#c53c74,#c53c74,#c43c75,#c03a76,#bd3977,#b83779,#b3367a,#ae347b,#aa337d,#a3307e,#9c2e7f,#962c80,#8e2a81,#842681,#792282)"></i><i style="background:linear-gradient(90deg,#721f81,#651a80,#57157e,#491078,#3b0f70,#2c115f,#21114e,#1a1042,#180f3d,#19103f,#1d1147,#221150,#29115a,#2f1163,#341069,#3b0f70,#440f76,#4c117a,#54137d,#5d177f,#671b80,#721f81,#7c2382,#862781,#902a81,#992d80,#a1307e,#aa337d,#b0357b,#b73779,#bc3978,#bf3a77,#c43c75,#c53c74,#c83e73,#c83e73,#ca3e72,#c83e73,#c73d73,#c43c75,#c03a76,#bc3978,#b73779,#b2357b,#ad347c,#a6317d,#a02f7f,#982d80,#902a81,#862781,#7b2382)"></i><i style="background:linear-gradient(90deg,#732081,#671b80,#59157e,#4a1079,#3b0f70,#2d1161,#221150,#1c1044,#1a1042,#1a1042,#1e1149,#241253,#2a115c,#311165,#38106c,#3f0f72,#451077,#4e117b,#57157e,#601880,#6a1c81,#752181,#802582,#8b2981,#942c80,#9e2f7f,#a6317d,#ae347b,#b5367a,#ba3878,#bf3a77,#c43c75,#c73d73,#ca3e72,#cc3f71,#cd4071,#cd4071,#cc3f71,#ca3e72,#c83e73,#c43c75,#bf3a77,#ba3878,#b5367a,#ae347b,#a8327d,#a1307e,#992d80,#912b81,#882781,#7c2382)"></i><i style="background:linear-gradient(90deg,#752181,#671b80,#5a167e,#4c117a,#3d0f71,#2f1163,#241253,#1e1149,#1c1044,#1d1147,#21114e,#251255,#2c115f,#331067,#390f6e,#400f74,#491078,#51127c,#5a167e,#641a80,#6e1e81,#792282,#832681,#8e2a81,#982d80,#a1307e,#aa337d,#b2357b,#b83779,#bf3a77,#c43c75,#c73d73,#cc3f71,#cd4071,#d0416f,#d0416f,#d0416f,#d0416f,#cf4070,#cc3f71,#c73d73,#c43c75,#bd3977,#b83779,#b2357b,#ab337c,#a3307e,#9c2e7f,#932b80,#892881,#7e2482)"></i><i style="background:linear-gradient(90deg,#752181,#681c81,#5c167f,#4e117b,#3f0f72,#311165,#251255,#20114b,#1d1147,#1e1149,#221150,#29115a,#2f1163,#36106b,#3d0f71,#440f76,#4c117a,#54137d,#5d177f,#671b80,#721f81,#7c2382,#882781,#932b80,#9c2e7f,#a6317d,#ae347b,#b73779,#bd3977,#c23b75,#c73d73,#cc3f71,#cf4070,#d2426f,#d3436e,#d5446d,#d5446d,#d3436e,#d2426f,#cf4070,#ca3e72,#c53c74,#c03a76,#ba3878,#b3367a,#ad347c,#a6317d,#9e2f7f,#942c80,#8b2981,#802582)"></i><i style="background:linear-gradient(90deg,#762181,#6a1c81,#5c167f,#4f127b,#400f74,#331067,#29115a,#21114e,#20114b,#21114e,#241253,#2a115c,#311165,#38106c,#3f0f72,#471078,#4e117b,#57157e,#601880,#6a1c81,#752181,#802582,#8b2981,#962c80,#a1307e,#aa337d,#b3367a,#ba3878,#c03a76,#c73d73,#cc3f71,#d0416f,#d3436e,#d5446d,#d8456c,#d8456c,#d8456c,#d6456c,#d5446d,#d2426f,#cd4071,#c83e73,#c43c75,#bd3977,#b73779,#b0357b,#a8327d,#a02f7f,#962c80,#8c2981,#812581)"></i><i style="background:linear-gradient(90deg,#782281,#6b1d81,#5d177f,#4f127b,#420f75,#341069,#2a115c,#241253,#21114e,#221150,#271258,#2c115f,#331067,#390f6e,#420f75,#491078,#51127c,#5a167e,#641a80,#6e1e81,#792282,#842681,#902a81,#9b2e7f,#a5317e,#ae347b,#b73779,#bf3a77,#c53c74,#ca3e72,#d0416f,#d3436e,#d6456c,#d9466b,#db476a,#dc4869,#dc4869,#db476a,#d8456c,#d5446d,#d0416f,#cc3f71,#c73d73,#c03a76,#b83779,#b2357b,#aa337d,#a1307e,#982d80,#8e2a81,#832681)"></i><i style="background:linear-gradient(90deg,#792282,#6d1d81,#5f187f,#51127c,#440f76,#36106b,#2c115f,#251255,#221150,#241253,#29115a,#2f1163,#36106b,#3d0f71,#440f76,#4c117a,#54137d,#5d177f,#671b80,#721f81,#7c2382,#882781,#932b80,#9e2f7f,#aa337d,#b3367a,#bc3978,#c23b75,#c83e73,#cf4070,#d3436e,#d8456c,#db476a,#dc4869,#df4a68,#df4a68,#df4a68,#de4968,#db476a,#d8456c,#d3436e,#cf4070,#c83e73,#c23b75,#bc3978,#b3367a,#ab337c,#a3307e,#992d80,#902a81,#842681)"></i><i style="background:linear-gradient(90deg,#7b2382,#6d1d81,#601880,#52137c,#451077,#38106c,#2d1161,#271258,#251255,#271258,#2a115c,#311165,#38106c,#3f0f72,#471078,#4f127b,#57157e,#601880,#6a1c81,#752181,#802582,#8c2981,#982d80,#a3307e,#ad347c,#b73779,#bf3a77,#c73d73,#cd4071,#d3436e,#d8456c,#db476a,#de4968,#e04c67,#e24d66,#e24d66,#e24d66,#e04c67,#de4968,#db476a,#d6456c,#d2426f,#cc3f71,#c53c74,#bd3977,#b73779,#ae347b,#a5317e,#9b2e7f,#912b81,#862781)"></i><i style="background:linear-gradient(90deg,#7b2382,#6e1e81,#621980,#54137d,#471078,#390f6e,#311165,#2a115c,#271258,#29115a,#2d1161,#331067,#390f6e,#420f75,#491078,#51127c,#5a167e,#641a80,#6e1e81,#792282,#842681,#902a81,#9c2e7f,#a6317d,#b2357b,#bc3978,#c43c75,#ca3e72,#d2426f,#d6456c,#db476a,#df4a68,#e24d66,#e34e65,#e44f64,#e55064,#e44f64,#e34e65,#e04c67,#de4968,#d9466b,#d5446d,#cf4070,#c73d73,#c03a76,#b83779,#b0357b,#a6317d,#9c2e7f,#912b81,#862781)"></i><i style="background:linear-gradient(90deg,#7c2382,#701f81,#621980,#56147d,#491078,#3b0f70,#331067,#2c115f,#2a115c,#2c115f,#2f1163,#36106b,#3d0f71,#440f76,#4c117a,#54137d,#5d177f,#671b80,#721f81,#7c2382,#892881,#942c80,#a02f7f,#ab337c,#b5367a,#bf3a77,#c73d73,#cf4070,#d5446d,#db476a,#df4a68,#e24d66,#e44f64,#e75263,#e85362,#e85362,#e75263,#e55064,#e34e65,#e04c67,#dc4869,#d6456c,#d0416f,#ca3e72,#c23b75,#ba3878,#b2357b,#a8327d,#9e2f7f,#932b80,#882781)"></i><i style="background:linear-gradient(90deg,#7e2482,#701f81,#641a80,#57157e,#4a1079,#3f0f72,#341069,#2d1161,#2c115f,#2d1161,#311165,#38106c,#3f0f72,#471078,#4f127b,#57157e,#601880,#6a1c81,#752181,#812581,#8c2981,#982d80,#a5317e,#b0357b,#ba3878,#c43c75,#cc3f71,#d2426f,#d9466b,#de4968,#e24d66,#e44f64,#e75263,#e95462,#ea5661,#ea5661,#ea5661,#e85362,#e55064,#e34e65,#df4a68,#d9466b,#d3436e,#cc3f71,#c43c75,#bc3978,#b3367a,#aa337d,#a02f7f,#942c80,#892881)"></i><i style="background:linear-gradient(90deg,#7e2482,#721f81,#651a80,#57157e,#4c117a,#400f74,#36106b,#311165,#2f1163,#2f1163,#341069,#390f6e,#400f74,#491078,#51127c,#5a167e,#641a80,#6e1e81,#792282,#842681,#912b81,#9c2e7f,#a8327d,#b3367a,#bd3977,#c73d73,#cf4070,#d6456c,#dc4869,#e04c67,#e44f64,#e85362,#ea5661,#eb5760,#ec5860,#ec5860,#ec5860,#ea5661,#e85362,#e44f64,#e04c67,#db476a,#d5446d,#cd4071,#c73d73,#bd3977,#b5367a,#ab337c,#a1307e,#962c80,#892881)"></i><i style="background:linear-gradient(90deg,#802582,#732081,#651a80,#59157e,#4c117a,#420f75,#38106c,#331067,#311165,#331067,#36106b,#3d0f71,#440f76,#4c117a,#54137d,#5d177f,#671b80,#721f81,#7c2382,#892881,#942c80,#a1307e,#ad347c,#b83779,#c23b75,#cc3f71,#d3436e,#d9466b,#df4a68,#e44f64,#e85362,#ea5661,#ec5860,#ed5a5f,#ee5b5e,#ee5b5e,#ee5b5e,#ec5860,#ea5661,#e75263,#e34e65,#de4968,#d6456c,#d0416f,#c83e73,#bf3a77,#b73779,#ad347c,#a1307e,#962c80,#8b2981)"></i><i style="background:linear-gradient(90deg,#802582,#732081,#671b80,#5a167e,#4e117b,#440f76,#3b0f70,#341069,#331067,#341069,#38106c,#3f0f72,#451077,#4e117b,#57157e,#601880,#6a1c81,#752181,#812581,#8c2981,#992d80,#a5317e,#b0357b,#bc3978,#c73d73,#cf4070,#d6456c,#de4968,#e34e65,#e75263,#ea5661,#ed5a5f,#ee5b5e,#f05f5e,#f05f5e,#f05f5e,#ef5d5e,#ee5b5e,#ec5860,#e95462,#e44f64,#df4a68,#d9466b,#d2426f,#ca3e72,#c03a76,#b83779,#ae347b,#a3307e,#982d80,#8c2981)"></i><i style="background:linear-gradient(90deg,#812581,#752181,#681c81,#5c167f,#4f127b,#451077,#3d0f71,#38106c,#36106b,#36106b,#3b0f70,#400f74,#491078,#51127c,#5a167e,#641a80,#6e1e81,#792282,#842681,#912b81,#9c2e7f,#aa337d,#b5367a,#c03a76,#ca3e72,#d3436e,#db476a,#e04c67,#e55064,#ea5661,#ec5860,#ef5d5e,#f1605d,#f2625d,#f2625d,#f2625d,#f1605d,#f05f5e,#ed5a5f,#ea5661,#e75263,#e24d66,#db476a,#d3436e,#cc3f71,#c43c75,#ba3878,#ae347b,#a5317e,#992d80,#8c2981)"></i><i style="background:linear-gradient(90deg,#832681,#752181,#681c81,#5c167f,#51127c,#471078,#3f0f72,#390f6e,#38106c,#390f6e,#3d0f71,#440f76,#4c117a,#54137d,#5d177f,#671b80,#721f81,#7c2382,#892881,#942c80,#a1307e,#ad347c,#ba3878,#c43c75,#cd4071,#d6456c,#de4968,#e44f64,#e85362,#ec5860,#ef5d5e,#f1605d,#f2645c,#f3655c,#f3655c,#f3655c,#f2645c,#f1605d,#ef5d5e,#ec5860,#e85362,#e34e65,#dc4869,#d5446d,#cd4071,#c53c74,#bc3978,#b0357b,#a6317d,#992d80,#8e2a81)"></i><i style="background:linear-gradient(90deg,#832681,#762181,#6a1c81,#5d177f,#52137c,#491078,#400f74,#3b0f70,#390f6e,#3b0f70,#400f74,#451077,#4e117b,#57157e,#601880,#6a1c81,#752181,#812581,#8c2981,#992d80,#a6317d,#b2357b,#bd3977,#c83e73,#d2426f,#d9466b,#e04c67,#e75263,#eb5760,#ee5b5e,#f1605d,#f2645c,#f4675c,#f4695c,#f4695c,#f4695c,#f4675c,#f2645c,#f1605d,#ed5a5f,#ea5661,#e44f64,#df4a68,#d8456c,#cf4070,#c73d73,#bc3978,#b2357b,#a6317d,#9b2e7f,#8e2a81)"></i><i style="background:linear-gradient(90deg,#842681,#762181,#6a1c81,#5f187f,#52137c,#491078,#420f75,#3d0f71,#3b0f70,#3d0f71,#420f75,#491078,#51127c,#59157e,#641a80,#6d1d81,#782281,#842681,#912b81,#9c2e7f,#aa337d,#b73779,#c23b75,#cc3f71,#d5446d,#de4968,#e44f64,#e95462,#ed5a5f,#f05f5e,#f2645c,#f4675c,#f56b5c,#f66c5c,#f66c5c,#f66c5c,#f56b5c,#f4675c,#f2625d,#ef5d5e,#eb5760,#e75263,#e04c67,#d9466b,#d0416f,#c83e73,#bd3977,#b3367a,#a8327d,#9c2e7f,#902a81)"></i><i style="background:linear-gradient(90deg,#842681,#782281,#6b1d81,#5f187f,#54137d,#4a1079,#440f76,#3f0f72,#3f0f72,#400f74,#451077,#4c117a,#54137d,#5c167f,#671b80,#701f81,#7c2382,#882781,#942c80,#a1307e,#ae347b,#ba3878,#c53c74,#d0416f,#d9466b,#e04c67,#e75263,#eb5760,#ef5d5e,#f2645c,#f4675c,#f56b5c,#f66e5c,#f7705c,#f7705c,#f66e5c,#f66c5c,#f4695c,#f3655c,#f05f5e,#ec5860,#e85362,#e24d66,#db476a,#d2426f,#c83e73,#bf3a77,#b5367a,#a8327d,#9c2e7f,#902a81)"></i><i style="background:linear-gradient(90deg,#842681,#782281,#6b1d81,#601880,#56147d,#4c117a,#451077,#400f74,#400f74,#420f75,#471078,#4e117b,#56147d,#5f187f,#6a1c81,#752181,#802582,#8c2981,#992d80,#a5317e,#b2357b,#bd3977,#c83e73,#d3436e,#dc4869,#e34e65,#e95462,#ee5b5e,#f1605d,#f4675c,#f56b5c,#f66e5c,#f7725c,#f8745c,#f8745c,#f7725c,#f7705c,#f66c5c,#f4675c,#f2625d,#ee5b5e,#e95462,#e34e65,#dc4869,#d3436e,#ca3e72,#c03a76,#b5367a,#aa337d,#9e2f7f,#912b81)"></i><i style="background:linear-gradient(90deg,#862781,#792282,#6d1d81,#601880,#56147d,#4e117b,#471078,#420f75,#420f75,#440f76,#4a1079,#51127c,#59157e,#621980,#6d1d81,#782281,#832681,#902a81,#9c2e7f,#aa337d,#b73779,#c23b75,#cd4071,#d6456c,#df4a68,#e75263,#ec5860,#f05f5e,#f3655c,#f56b5c,#f66e5c,#f7725c,#f8765c,#f9785d,#f9785d,#f8765c,#f7725c,#f66e5c,#f4695c,#f2645c,#ef5d5e,#ea5661,#e44f64,#de4968,#d5446d,#cc3f71,#c23b75,#b73779,#ab337c,#9e2f7f,#912b81)"></i><i style="background:linear-gradient(90deg,#862781,#792282,#6d1d81,#621980,#57157e,#4e117b,#491078,#440f76,#440f76,#471078,#4c117a,#52137c,#5c167f,#651a80,#701f81,#7b2382,#882781,#942c80,#a1307e,#ad347c,#ba3878,#c53c74,#d0416f,#db476a,#e34e65,#e95462,#ee5b5e,#f2625d,#f4695c,#f66e5c,#f7725c,#f8765c,#f9795d,#f9795d,#f9795d,#f9785d,#f8765c,#f7725c,#f66c5c,#f3655c,#f05f5e,#eb5760,#e55064,#df4a68,#d6456c,#cd4071,#c23b75,#b83779,#ab337c,#a02f7f,#932b80)"></i><i style="background:linear-gradient(90deg,#862781,#792282,#6d1d81,#621980,#57157e,#4f127b,#491078,#451077,#451077,#491078,#4f127b,#56147d,#5f187f,#681c81,#732081,#7e2482,#8b2981,#982d80,#a5317e,#b2357b,#bd3977,#ca3e72,#d5446d,#de4968,#e55064,#eb5760,#f05f5e,#f3655c,#f66c5c,#f7725c,#f8765c,#f9795d,#f97b5d,#fa7d5e,#fa7d5e,#f97b5d,#f9785d,#f8745c,#f66e5c,#f4675c,#f1605d,#ec5860,#e75263,#e04c67,#d8456c,#cf4070,#c43c75,#b83779,#ad347c,#a02f7f,#932b80)"></i><i style="background:linear-gradient(90deg,#882781,#7b2382,#6e1e81,#621980,#59157e,#51127c,#4a1079,#471078,#491078,#4c117a,#51127c,#59157e,#621980,#6b1d81,#762181,#832681,#902a81,#9b2e7f,#a8327d,#b5367a,#c23b75,#cd4071,#d8456c,#e04c67,#e85362,#ed5a5f,#f2625d,#f4695c,#f7705c,#f8765c,#f9795d,#fa7d5e,#fa7f5e,#fa815f,#fa7f5e,#fa7d5e,#f97b5d,#f8765c,#f7705c,#f4695c,#f2625d,#ed5a5f,#e85362,#e24d66,#d9466b,#cf4070,#c53c74,#ba3878,#ad347c,#a02f7f,#932b80)"></i><i style="background:linear-gradient(90deg,#882781,#7b2382,#6e1e81,#641a80,#59157e,#51127c,#4c117a,#4a1079,#4a1079,#4e117b,#54137d,#5c167f,#651a80,#6e1e81,#792282,#862781,#932b80,#a02f7f,#ad347c,#ba3878,#c53c74,#d0416f,#db476a,#e34e65,#ea5661,#ef5d5e,#f3655c,#f66c5c,#f8745c,#f9795d,#fa7d5e,#fa815f,#fb835f,#fb835f,#fb835f,#fa815f,#fa7d5e,#f9785d,#f7725c,#f56b5c,#f2645c,#ee5b5e,#e95462,#e34e65,#db476a,#d0416f,#c53c74,#ba3878,#ae347b,#a1307e,#932b80)"></i><i style="background:linear-gradient(90deg,#882781,#7b2382,#6e1e81,#641a80,#5a167e,#52137c,#4e117b,#4c117a,#4c117a,#51127c,#56147d,#5f187f,#681c81,#721f81,#7e2482,#892881,#962c80,#a3307e,#b0357b,#bd3977,#c83e73,#d5446d,#de4968,#e75263,#ec5860,#f1605d,#f4695c,#f7705c,#f9785d,#fa7d5e,#fa815f,#fb835f,#fb8560,#fb8761,#fb8560,#fb835f,#fa7f5e,#f9795d,#f8745c,#f66c5c,#f3655c,#ef5d5e,#ea5661,#e34e65,#db476a,#d2426f,#c73d73,#bc3978,#ae347b,#a1307e,#942c80)"></i><i style="background:linear-gradient(90deg,#882781,#7b2382,#701f81,#641a80,#5a167e,#54137d,#4f127b,#4e117b,#4e117b,#52137c,#59157e,#601880,#6b1d81,#762181,#812581,#8e2a81,#9b2e7f,#a8327d,#b5367a,#c03a76,#cd4071,#d8456c,#e04c67,#e95462,#ee5b5e,#f2645c,#f66c5c,#f8745c,#f9795d,#fa7f5e,#fb835f,#fb8761,#fc8961,#fc8961,#fc8961,#fb8560,#fa815f,#fa7d5e,#f8765c,#f66e5c,#f4675c,#f05f5e,#eb5760,#e44f64,#dc4869,#d2426f,#c73d73,#bc3978,#ae347b,#a1307e,#942c80)"></i><i style="background:linear-gradient(90deg,#892881,#7b2382,#701f81,#651a80,#5c167f,#54137d,#4f127b,#4f127b,#51127c,#54137d,#5c167f,#641a80,#6e1e81,#792282,#842681,#912b81,#9e2f7f,#ab337c,#b83779,#c53c74,#d0416f,#db476a,#e44f64,#eb5760,#f05f5e,#f4675c,#f7705c,#f9785d,#fa7d5e,#fb835f,#fb8761,#fc8a62,#fc8a62,#fc8a62,#fc8a62,#fb8761,#fb835f,#fa7f5e,#f9785d,#f7705c,#f4695c,#f1605d,#ec5860,#e55064,#dc4869,#d3436e,#c83e73,#bc3978,#ae347b,#a1307e,#942c80)"></i><i style="background:linear-gradient(90deg,#892881,#7c2382,#701f81,#651a80,#5c167f,#56147d,#51127c,#51127c,#52137c,#57157e,#5d177f,#671b80,#721f81,#7c2382,#882781,#942c80,#a1307e,#ae347b,#bc3978,#c83e73,#d3436e,#de4968,#e75263,#ed5a5f,#f2625d,#f56b5c,#f8745c,#f97b5d,#fa815f,#fb8761,#fc8a62,#fc8c63,#fc8e64,#fc8e64,#fc8c63,#fc8a62,#fb8560,#fa815f,#f9795d,#f7725c,#f56b5c,#f2625d,#ec5860,#e55064,#de4968,#d3436e,#c83e73,#bc3978,#b0357b,#a1307e,#942c80)"></i><i style="background:linear-gradient(90deg,#892881,#7c2382,#701f81,#651a80,#5d177f,#56147d,#52137c,#52137c,#54137d,#59157e,#601880,#6a1c81,#752181,#802582,#8c2981,#992d80,#a6317d,#b3367a,#bf3a77,#cc3f71,#d6456c,#e04c67,#e95462,#ef5d5e,#f3655c,#f66e5c,#f9785d,#fa7d5e,#fb8560,#fc8961,#fc8c63,#fc9065,#fc9065,#fc9065,#fc8e64,#fc8c63,#fb8761,#fb835f,#f97b5d,#f8745c,#f66c5c,#f2625d,#ed5a5f,#e75263,#de4968,#d5446d,#c83e73,#bd3977,#b0357b,#a1307e,#942c80)"></i><i style="background:linear-gradient(90deg,#892881,#7c2382,#701f81,#651a80,#5d177f,#57157e,#54137d,#54137d,#56147d,#5c167f,#641a80,#6d1d81,#782281,#832681,#902a81,#9c2e7f,#aa337d,#b73779,#c43c75,#cf4070,#d9466b,#e34e65,#eb5760,#f1605d,#f4695c,#f7725c,#f9795d,#fa815f,#fb8761,#fc8c63,#fc9065,#fd9266,#fd9266,#fd9266,#fc9065,#fc8e64,#fc8961,#fb835f,#fa7d5e,#f8765c,#f66c5c,#f2645c,#ed5a5f,#e75263,#df4a68,#d5446d,#c83e73,#bd3977,#b0357b,#a3307e,#942c80)"></i><i style="background:linear-gradient(90deg,#892881,#7c2382,#701f81,#671b80,#5d177f,#59157e,#56147d,#56147d,#59157e,#5f187f,#671b80,#701f81,#7b2382,#862781,#932b80,#a02f7f,#ad347c,#ba3878,#c73d73,#d2426f,#dc4869,#e55064,#ed5a5f,#f2645c,#f66c5c,#f8765c,#fa7d5e,#fb8560,#fc8a62,#fc8e64,#fd9266,#fd9467,#fd9668,#fd9467,#fd9266,#fc9065,#fc8a62,#fb8560,#fa7f5e,#f9785d,#f66e5c,#f3655c,#ee5b5e,#e85362,#df4a68,#d5446d,#ca3e72,#bd3977,#b0357b,#a1307e,#942c80)"></i><i style="background:linear-gradient(90deg,#892881,#7c2382,#701f81,#671b80,#5f187f,#59157e,#56147d,#57157e,#5a167e,#601880,#681c81,#732081,#7e2482,#892881,#962c80,#a3307e,#b0357b,#bd3977,#ca3e72,#d5446d,#df4a68,#e85362,#ee5b5e,#f3655c,#f7705c,#f9795d,#fa815f,#fb8761,#fc8c63,#fd9266,#fd9467,#fd9668,#fd9869,#fd9668,#fd9467,#fd9266,#fc8c63,#fb8761,#fa7f5e,#f9785d,#f66e5c,#f3655c,#ee5b5e,#e85362,#df4a68,#d5446d,#ca3e72,#bd3977,#b0357b,#a1307e,#942c80)"></i><i style="background:linear-gradient(90deg,#882781,#7c2382,#701f81,#671b80,#5f187f,#5a167e,#57157e,#59157e,#5c167f,#641a80,#6b1d81,#762181,#812581,#8e2a81,#992d80,#a6317d,#b3367a,#c03a76,#cd4071,#d8456c,#e24d66,#ea5661,#f05f5e,#f4695c,#f7725c,#f97b5d,#fb835f,#fc8a62,#fc9065,#fd9467,#fd9869,#fd9a6a,#fd9a6a,#fd9869,#fd9668,#fd9266,#fc8e64,#fc8961,#fa815f,#f9795d,#f7705c,#f4675c,#ef5d5e,#e85362,#e04c67,#d5446d,#ca3e72,#bd3977,#ae347b,#a1307e,#942c80)"></i><i style="background:linear-gradient(90deg,#882781,#7c2382,#701f81,#671b80,#5f187f,#5a167e,#59157e,#5a167e,#5f187f,#651a80,#6e1e81,#792282,#842681,#912b81,#9e2f7f,#ab337c,#b83779,#c43c75,#d0416f,#db476a,#e44f64,#ec5860,#f2625d,#f66c5c,#f8765c,#fa7f5e,#fb8761,#fc8c63,#fd9266,#fd9869,#fd9a6a,#fd9b6b,#fd9b6b,#fd9a6a,#fd9869,#fd9467,#fc9065,#fc8961,#fb835f,#f9795d,#f7705c,#f4675c,#ef5d5e,#e95462,#e04c67,#d5446d,#ca3e72,#bd3977,#ae347b,#a1307e,#942c80)"></i><i style="background:linear-gradient(90deg,#882781,#7b2382,#701f81,#671b80,#601880,#5c167f,#5a167e,#5c167f,#601880,#681c81,#721f81,#7c2382,#882781,#942c80,#a1307e,#ae347b,#bc3978,#c73d73,#d3436e,#de4968,#e75263,#ee5b5e,#f3655c,#f7705c,#f9795d,#fa815f,#fc8961,#fc9065,#fd9668,#fd9a6a,#fd9b6b,#fe9d6c,#fe9d6c,#fd9b6b,#fd9a6a,#fd9668,#fc9065,#fc8a62,#fb835f,#f97b5d,#f7725c,#f4675c,#ef5d5e,#e95462,#e04c67,#d5446d,#c83e73,#bc3978,#ae347b,#a1307e,#932b80)"></i><i style="background:linear-gradient(90deg,#882781,#7b2382,#701f81,#681c81,#601880,#5d177f,#5c167f,#5d177f,#641a80,#6a1c81,#752181,#7e2482,#8b2981,#982d80,#a5317e,#b2357b,#bf3a77,#ca3e72,#d6456c,#e04c67,#e95462,#ef5d5e,#f4695c,#f7725c,#f97b5d,#fb8560,#fc8c63,#fd9266,#fd9869,#fd9b6b,#fe9d6c,#fe9f6d,#fe9f6d,#fe9d6c,#fd9b6b,#fd9869,#fd9266,#fc8c63,#fb8560,#f97b5d,#f7725c,#f4675c,#ef5d5e,#e95462,#e04c67,#d5446d,#c83e73,#bc3978,#ae347b,#a02f7f,#932b80)"></i><i style="background:linear-gradient(90deg,#862781,#7b2382,#701f81,#681c81,#621980,#5d177f,#5d177f,#601880,#651a80,#6d1d81,#762181,#812581,#8e2a81,#9b2e7f,#a8327d,#b5367a,#c23b75,#cd4071,#d9466b,#e34e65,#eb5760,#f1605d,#f56b5c,#f8765c,#fa7f5e,#fb8761,#fc8e64,#fd9668,#fd9a6a,#fe9d6c,#fe9f6d,#fea16e,#fea16e,#fe9f6d,#fd9b6b,#fd9869,#fd9266,#fc8c63,#fb8560,#f97b5d,#f7725c,#f4695c,#ef5d5e,#e95462,#df4a68,#d5446d,#c83e73,#bc3978,#ad347c,#a02f7f,#932b80)"></i><i style="background:linear-gradient(90deg,#862781,#7b2382,#701f81,#681c81,#621980,#5f187f,#5f187f,#621980,#681c81,#701f81,#792282,#842681,#912b81,#9e2f7f,#ab337c,#b83779,#c53c74,#d0416f,#dc4869,#e55064,#ec5860,#f2645c,#f66e5c,#f9785d,#fa815f,#fc8a62,#fd9266,#fd9869,#fd9b6b,#fe9f6d,#fea16e,#fea36f,#fea16e,#fea16e,#fe9d6c,#fd9a6a,#fd9467,#fc8c63,#fb8560,#fa7d5e,#f7725c,#f4695c,#ef5d5e,#e85362,#df4a68,#d3436e,#c73d73,#ba3878,#ad347c,#9e2f7f,#912b81)"></i><i style="background:linear-gradient(90deg,#862781,#7b2382,#701f81,#681c81,#621980,#601880,#601880,#641a80,#6a1c81,#721f81,#7c2382,#882781,#942c80,#a1307e,#ae347b,#bc3978,#c73d73,#d3436e,#de4968,#e75263,#ee5b5e,#f3655c,#f7705c,#f97b5d,#fb8560,#fc8c63,#fd9467,#fd9a6a,#fe9d6c,#fea16e,#fea36f,#fea36f,#fea36f,#fea16e,#fe9f6d,#fd9a6a,#fd9467,#fc8e64,#fb8761,#fa7d5e,#f7725c,#f4695c,#ef5d5e,#e85362,#df4a68,#d3436e,#c73d73,#ba3878,#ab337c,#9e2f7f,#912b81)"></i><i style="background:linear-gradient(90deg,#842681,#792282,#701f81,#681c81,#641a80,#601880,#621980,#651a80,#6b1d81,#752181,#7e2482,#8b2981,#982d80,#a5317e,#b2357b,#bf3a77,#ca3e72,#d6456c,#e04c67,#e95462,#f05f5e,#f4695c,#f8745c,#fa7d5e,#fb8761,#fc8e64,#fd9668,#fd9b6b,#fe9f6d,#fea36f,#fea571,#fea571,#fea571,#fea36f,#fe9f6d,#fd9b6b,#fd9668,#fc8e64,#fb8761,#fa7d5e,#f7725c,#f4675c,#ef5d5e,#e85362,#de4968,#d3436e,#c53c74,#b83779,#ab337c,#9c2e7f,#902a81)"></i><i style="background:linear-gradient(90deg,#842681,#792282,#701f81,#681c81,#641a80,#621980,#641a80,#681c81,#6e1e81,#782281,#812581,#8e2a81,#992d80,#a6317d,#b3367a,#c03a76,#cd4071,#d9466b,#e34e65,#eb5760,#f1605d,#f66c5c,#f8765c,#fa815f,#fc8961,#fc9065,#fd9869,#fe9d6c,#fea16e,#fea571,#fea772,#fea772,#fea571,#fea36f,#fe9f6d,#fd9b6b,#fd9668,#fc8e64,#fb8761,#fa7d5e,#f7725c,#f4675c,#ef5d5e,#e85362,#de4968,#d2426f,#c53c74,#b73779,#aa337d,#9c2e7f,#902a81)"></i><i style="background:linear-gradient(90deg,#832681,#792282,#701f81,#681c81,#651a80,#641a80,#651a80,#6a1c81,#701f81,#792282,#842681,#902a81,#9c2e7f,#aa337d,#b73779,#c43c75,#d0416f,#db476a,#e55064,#ec5860,#f2645c,#f66e5c,#f9795d,#fb835f,#fc8a62,#fd9467,#fd9a6a,#fe9f6d,#fea36f,#fea772,#fea772,#fea973,#fea772,#fea571,#fea16e,#fd9b6b,#fd9668,#fc8e64,#fb8761,#fa7d5e,#f7725c,#f4675c,#ee5b5e,#e75263,#dc4869,#d2426f,#c43c75,#b73779,#a8327d,#9b2e7f,#8e2a81)"></i><i style="background:linear-gradient(90deg,#832681,#782281,#701f81,#6a1c81,#651a80,#651a80,#671b80,#6b1d81,#732081,#7c2382,#862781,#932b80,#a02f7f,#ad347c,#ba3878,#c73d73,#d3436e,#de4968,#e75263,#ee5b5e,#f3655c,#f7705c,#f97b5d,#fb8560,#fc8e64,#fd9668,#fd9b6b,#fea16e,#fea571,#fea772,#fea973,#fea973,#fea772,#fea571,#fea16e,#fd9b6b,#fd9668,#fc8e64,#fb8761,#fa7d5e,#f7725c,#f4675c,#ee5b5e,#e75263,#dc4869,#d0416f,#c43c75,#b5367a,#a8327d,#992d80,#8c2981)"></i><i style="background:linear-gradient(90deg,#812581,#782281,#6e1e81,#6a1c81,#651a80,#651a80,#681c81,#6d1d81,#752181,#7e2482,#892881,#962c80,#a1307e,#ae347b,#bd3977,#c83e73,#d5446d,#e04c67,#e95462,#f05f5e,#f4695c,#f8745c,#fa7d5e,#fb8761,#fc9065,#fd9869,#fe9d6c,#fea36f,#fea772,#fea973,#feaa74,#feaa74,#fea973,#fea571,#fea16e,#fe9d6c,#fd9668,#fc8e64,#fb8761,#f97b5d,#f7725c,#f3655c,#ed5a5f,#e55064,#db476a,#cf4070,#c23b75,#b3367a,#a6317d,#992d80,#8c2981)"></i><i style="background:linear-gradient(90deg,#812581,#762181,#6e1e81,#6a1c81,#671b80,#671b80,#6a1c81,#701f81,#782281,#812581,#8c2981,#982d80,#a5317e,#b2357b,#bf3a77,#cc3f71,#d8456c,#e24d66,#ea5661,#f1605d,#f56b5c,#f8765c,#fa815f,#fc8961,#fd9266,#fd9a6a,#fe9f6d,#fea36f,#fea772,#feaa74,#feaa74,#feaa74,#fea973,#fea772,#fea16e,#fe9d6c,#fd9668,#fc8e64,#fb8560,#f97b5d,#f7705c,#f3655c,#ed5a5f,#e44f64,#db476a,#cd4071,#c03a76,#b3367a,#a5317e,#982d80,#8b2981)"></i><i style="background:linear-gradient(90deg,#802582,#762181,#6e1e81,#6a1c81,#671b80,#681c81,#6b1d81,#721f81,#792282,#832681,#8e2a81,#9b2e7f,#a8327d,#b5367a,#c23b75,#cf4070,#d9466b,#e44f64,#ec5860,#f2625d,#f66e5c,#f9785d,#fb835f,#fc8a62,#fd9467,#fd9a6a,#fea16e,#fea571,#fea973,#feaa74,#feac76,#feaa74,#fea973,#fea772,#fea36f,#fe9d6c,#fd9668,#fc8e64,#fb8560,#f97b5d,#f7705c,#f2645c,#ec5860,#e44f64,#d9466b,#cd4071,#bf3a77,#b2357b,#a3307e,#962c80,#892881)"></i><i style="background:linear-gradient(90deg,#7e2482,#752181,#6e1e81,#6a1c81,#681c81,#681c81,#6d1d81,#732081,#7b2382,#862781,#912b81,#9c2e7f,#aa337d,#b73779,#c43c75,#d0416f,#dc4869,#e55064,#ed5a5f,#f3655c,#f7705c,#f97b5d,#fb8560,#fc8c63,#fd9668,#fd9b6b,#fea16e,#fea772,#fea973,#feaa74,#feac76,#feac76,#feaa74,#fea772,#fea36f,#fd9b6b,#fd9668,#fc8c63,#fb835f,#f9795d,#f66e5c,#f2625d,#eb5760,#e34e65,#d8456c,#cc3f71,#bd3977,#b0357b,#a1307e,#942c80,#892881)"></i><i style="background:linear-gradient(90deg,#7e2482,#752181,#6d1d81,#6a1c81,#681c81,#6a1c81,#6e1e81,#752181,#7e2482,#882781,#932b80,#a02f7f,#ad347c,#ba3878,#c73d73,#d3436e,#de4968,#e85362,#ef5d5e,#f4675c,#f7725c,#fa7d5e,#fb8761,#fc8e64,#fd9668,#fe9d6c,#fea36f,#fea772,#feaa74,#feac76,#feac76,#feac76,#feaa74,#fea772,#fea16e,#fd9b6b,#fd9467,#fc8c63,#fb835f,#f9785d,#f66c5c,#f2625d,#eb5760,#e24d66,#d6456c,#ca3e72,#bc3978,#ae347b,#a1307e,#932b80,#882781)"></i><i style="background:linear-gradient(90deg,#7c2382,#732081,#6d1d81,#6a1c81,#681c81,#6b1d81,#701f81,#762181,#802582,#892881,#962c80,#a1307e,#ae347b,#bc3978,#c83e73,#d5446d,#e04c67,#e95462,#f05f5e,#f4695c,#f8745c,#fa7f5e,#fc8961,#fc9065,#fd9869,#fe9f6d,#fea36f,#fea973,#feaa74,#feac76,#feac76,#feac76,#feaa74,#fea772,#fea16e,#fd9b6b,#fd9467,#fc8c63,#fa815f,#f9785d,#f56b5c,#f1605d,#ea5661,#e04c67,#d5446d,#c83e73,#bc3978,#ad347c,#a02f7f,#912b81,#862781)"></i><i style="background:linear-gradient(90deg,#7b2382,#732081,#6d1d81,#6a1c81,#6a1c81,#6b1d81,#721f81,#782281,#812581,#8c2981,#982d80,#a5317e,#b0357b,#bd3977,#ca3e72,#d6456c,#e24d66,#ea5661,#f1605d,#f66c5c,#f8765c,#fa815f,#fc8a62,#fd9266,#fd9a6a,#fe9f6d,#fea571,#fea973,#feaa74,#feac76,#feae77,#feac76,#feaa74,#fea772,#fea16e,#fd9b6b,#fd9467,#fc8a62,#fa815f,#f8765c,#f56b5c,#f05f5e,#e95462,#df4a68,#d3436e,#c73d73,#ba3878,#ab337c,#9e2f7f,#912b81,#842681)"></i><i style="background:linear-gradient(90deg,#792282,#721f81,#6b1d81,#6a1c81,#6a1c81,#6d1d81,#721f81,#792282,#832681,#8e2a81,#992d80,#a6317d,#b3367a,#c03a76,#cd4071,#d8456c,#e34e65,#eb5760,#f2625d,#f66e5c,#f9795d,#fb835f,#fc8c63,#fd9467,#fd9b6b,#fea16e,#fea571,#fea973,#feac76,#feac76,#feae77,#feac76,#feaa74,#fea772,#fea16e,#fd9a6a,#fd9266,#fc8961,#fa7f5e,#f8745c,#f4695c,#ef5d5e,#e85362,#de4968,#d2426f,#c53c74,#b83779,#aa337d,#9c2e7f,#902a81,#832681)"></i><i style="background:linear-gradient(90deg,#782281,#701f81,#6b1d81,#6a1c81,#6a1c81,#6d1d81,#732081,#7b2382,#842681,#902a81,#9b2e7f,#a8327d,#b5367a,#c23b75,#cf4070,#db476a,#e44f64,#ed5a5f,#f2645c,#f7705c,#f9795d,#fb8560,#fc8c63,#fd9668,#fd9b6b,#fea16e,#fea772,#feaa74,#feac76,#feae77,#feae77,#feac76,#feaa74,#fea571,#fe9f6d,#fd9a6a,#fc9065,#fc8961,#fa7d5e,#f7725c,#f4675c,#ee5b5e,#e75263,#dc4869,#d0416f,#c43c75,#b73779,#a8327d,#9b2e7f,#8e2a81,#812581)"></i><i style="background:linear-gradient(90deg,#782281,#701f81,#6b1d81,#681c81,#6a1c81,#6e1e81,#752181,#7c2382,#882781,#912b81,#9e2f7f,#aa337d,#b73779,#c43c75,#d0416f,#dc4869,#e55064,#ee5b5e,#f3655c,#f7725c,#f97b5d,#fb8761,#fc8e64,#fd9668,#fe9d6c,#fea16e,#fea772,#feaa74,#feac76,#feae77,#feae77,#feac76,#fea973,#fea571,#fe9f6d,#fd9869,#fc9065,#fb8761,#f97b5d,#f7705c,#f3655c,#ed5a5f,#e55064,#db476a,#cf4070,#c23b75,#b3367a,#a6317d,#992d80,#8c2981,#802582)"></i><i style="background:linear-gradient(90deg,#762181,#6e1e81,#6a1c81,#681c81,#6a1c81,#6e1e81,#762181,#7e2482,#892881,#942c80,#a02f7f,#ab337c,#b83779,#c53c74,#d2426f,#de4968,#e75263,#ef5d5e,#f4675c,#f8745c,#fa7d5e,#fb8761,#fc9065,#fd9869,#fe9d6c,#fea36f,#fea772,#feaa74,#feac76,#feae77,#feac76,#feac76,#fea973,#fea571,#fe9d6c,#fd9668,#fc8e64,#fb8560,#f9795d,#f66e5c,#f2625d,#ec5860,#e34e65,#d9466b,#cd4071,#c03a76,#b2357b,#a5317e,#982d80,#8b2981,#7e2482)"></i><i style="background:linear-gradient(90deg,#752181,#6d1d81,#6a1c81,#681c81,#6b1d81,#701f81,#782281,#802582,#8b2981,#962c80,#a1307e,#ae347b,#ba3878,#c73d73,#d3436e,#df4a68,#e95462,#f05f5e,#f4695c,#f8765c,#fa7f5e,#fc8961,#fc9065,#fd9869,#fe9d6c,#fea36f,#fea772,#feaa74,#feac76,#feac76,#feac76,#feaa74,#fea973,#fea36f,#fe9d6c,#fd9668,#fc8c63,#fb835f,#f9785d,#f66c5c,#f1605d,#ea5661,#e24d66,#d8456c,#cc3f71,#bf3a77,#b0357b,#a3307e,#942c80,#892881,#7c2382)"></i><i style="background:linear-gradient(90deg,#732081,#6d1d81,#681c81,#681c81,#6b1d81,#701f81,#782281,#812581,#8c2981,#982d80,#a3307e,#b0357b,#bc3978,#c83e73,#d5446d,#e04c67,#e95462,#f1605d,#f56b5c,#f8765c,#fa815f,#fc8a62,#fd9266,#fd9a6a,#fe9f6d,#fea36f,#fea772,#feaa74,#feac76,#feac76,#feac76,#feaa74,#fea772,#fea16e,#fd9b6b,#fd9467,#fc8a62,#fa815f,#f8765c,#f56b5c,#f05f5e,#e95462,#e04c67,#d5446d,#c83e73,#bc3978,#ae347b,#a1307e,#932b80,#862781,#7b2382)"></i><i style="background:linear-gradient(90deg,#721f81,#6b1d81,#681c81,#681c81,#6b1d81,#721f81,#792282,#832681,#8c2981,#992d80,#a5317e,#b2357b,#bd3977,#ca3e72,#d6456c,#e24d66,#ea5661,#f1605d,#f66c5c,#f9785d,#fa815f,#fc8a62,#fd9266,#fd9a6a,#fe9f6d,#fea36f,#fea772,#feaa74,#feac76,#feac76,#feac76,#fea973,#fea571,#fea16e,#fd9a6a,#fd9266,#fc8961,#fa7f5e,#f8745c,#f4675c,#ef5d5e,#e85362,#df4a68,#d3436e,#c73d73,#ba3878,#ad347c,#9e2f7f,#912b81,#842681,#792282)"></i><i style="background:linear-gradient(90deg,#701f81,#6a1c81,#671b80,#681c81,#6b1d81,#721f81,#792282,#832681,#8e2a81,#992d80,#a6317d,#b3367a,#bf3a77,#cc3f71,#d8456c,#e34e65,#eb5760,#f2625d,#f66e5c,#f9795d,#fb835f,#fc8c63,#fd9467,#fd9a6a,#fe9f6d,#fea36f,#fea772,#feaa74,#feaa74,#feac76,#feaa74,#fea973,#fea571,#fe9f6d,#fd9869,#fc9065,#fb8761,#f97b5d,#f7705c,#f3655c,#ed5a5f,#e55064,#dc4869,#d2426f,#c53c74,#b83779,#ab337c,#9c2e7f,#902a81,#832681,#782281)"></i><i style="background:linear-gradient(90deg,#6e1e81,#681c81,#671b80,#671b80,#6b1d81,#721f81,#7b2382,#842681,#902a81,#9b2e7f,#a8327d,#b3367a,#c03a76,#cd4071,#d9466b,#e44f64,#ec5860,#f2645c,#f66e5c,#f9795d,#fb8560,#fc8c63,#fd9467,#fd9a6a,#fe9f6d,#fea36f,#fea772,#fea973,#feaa74,#feaa74,#feaa74,#fea772,#fea36f,#fe9d6c,#fd9668,#fc8e64,#fb8560,#f9795d,#f66e5c,#f2645c,#ec5860,#e44f64,#db476a,#cf4070,#c43c75,#b73779,#a8327d,#9b2e7f,#8e2a81,#812581,#762181)"></i><i style="background:linear-gradient(90deg,#6d1d81,#681c81,#651a80,#671b80,#6b1d81,#732081,#7b2382,#862781,#912b81,#9c2e7f,#aa337d,#b5367a,#c23b75,#cf4070,#db476a,#e44f64,#ed5a5f,#f3655c,#f7705c,#f97b5d,#fb8560,#fc8c63,#fd9467,#fd9a6a,#fe9f6d,#fea36f,#fea772,#fea973,#feaa74,#feaa74,#fea973,#fea772,#fea16e,#fd9b6b,#fd9467,#fc8c63,#fb835f,#f9785d,#f66c5c,#f1605d,#eb5760,#e34e65,#d8456c,#cd4071,#c03a76,#b3367a,#a6317d,#992d80,#8b2981,#802582,#752181)"></i><i style="background:linear-gradient(90deg,#6b1d81,#671b80,#651a80,#671b80,#6b1d81,#732081,#7c2382,#862781,#912b81,#9e2f7f,#aa337d,#b73779,#c43c75,#d0416f,#db476a,#e55064,#ed5a5f,#f3655c,#f7725c,#f97b5d,#fb8560,#fc8e64,#fd9467,#fd9b6b,#fe9f6d,#fea36f,#fea772,#fea973,#fea973,#fea973,#fea772,#fea571,#fe9f6d,#fd9a6a,#fd9266,#fc8a62,#fa7f5e,#f8745c,#f4695c,#f05f5e,#e95462,#e04c67,#d6456c,#ca3e72,#bf3a77,#b2357b,#a3307e,#962c80,#892881,#7c2382,#732081)"></i><i style="background:linear-gradient(90deg,#6a1c81,#651a80,#641a80,#651a80,#6b1d81,#732081,#7c2382,#882781,#932b80,#9e2f7f,#ab337c,#b83779,#c53c74,#d0416f,#dc4869,#e75263,#ee5b5e,#f4675c,#f7725c,#fa7d5e,#fb8761,#fc8e64,#fd9467,#fd9b6b,#fe9f6d,#fea36f,#fea571,#fea772,#fea973,#fea973,#fea772,#fea36f,#fe9d6c,#fd9869,#fc9065,#fb8761,#fa7d5e,#f7725c,#f4675c,#ee5b5e,#e85362,#df4a68,#d3436e,#c83e73,#bc3978,#ae347b,#a1307e,#942c80,#882781,#7b2382,#721f81)"></i><i style="background:linear-gradient(90deg,#681c81,#641a80,#621980,#651a80,#6b1d81,#732081,#7c2382,#882781,#932b80,#a02f7f,#ad347c,#b83779,#c53c74,#d2426f,#de4968,#e75263,#ef5d5e,#f4675c,#f7725c,#fa7d5e,#fb8761,#fc8e64,#fd9467,#fd9a6a,#fe9f6d,#fea36f,#fea571,#fea772,#fea772,#fea772,#fea571,#fea16e,#fd9b6b,#fd9668,#fc8e64,#fb8560,#f97b5d,#f7705c,#f2645c,#ed5a5f,#e55064,#dc4869,#d2426f,#c53c74,#ba3878,#ad347c,#9e2f7f,#912b81,#842681,#792282,#6e1e81)"></i><i style="background:linear-gradient(90deg,#671b80,#621980,#621980,#651a80,#6b1d81,#732081,#7e2482,#892881,#942c80,#a02f7f,#ad347c,#ba3878,#c73d73,#d3436e,#de4968,#e85362,#ef5d5e,#f4695c,#f8745c,#fa7d5e,#fb8761,#fc8e64,#fd9467,#fd9a6a,#fe9f6d,#fea16e,#fea571,#fea571,#fea772,#fea571,#fea36f,#fe9f6d,#fd9a6a,#fd9467,#fc8c63,#fb835f,#f9785d,#f66c5c,#f2625d,#eb5760,#e34e65,#d9466b,#cf4070,#c43c75,#b73779,#aa337d,#9c2e7f,#902a81,#832681,#762181,#6d1d81)"></i><i style="background:linear-gradient(90deg,#641a80,#601880,#601880,#641a80,#6b1d81,#732081,#7e2482,#892881,#942c80,#a1307e,#ae347b,#bc3978,#c73d73,#d3436e,#df4a68,#e85362,#ef5d5e,#f4695c,#f8745c,#fa7d5e,#fb8761,#fc8e64,#fd9467,#fd9a6a,#fe9d6c,#fea16e,#fea36f,#fea571,#fea571,#fea36f,#fea16e,#fe9d6c,#fd9869,#fd9266,#fc8961,#fa7f5e,#f8745c,#f4695c,#f05f5e,#e95462,#e24d66,#d8456c,#cd4071,#c03a76,#b3367a,#a6317d,#992d80,#8c2981,#802582,#752181,#6b1d81)"></i><i style="background:linear-gradient(90deg,#621980,#5f187f,#5f187f,#641a80,#6a1c81,#732081,#7e2482,#892881,#962c80,#a1307e,#ae347b,#bc3978,#c83e73,#d5446d,#df4a68,#e95462,#f05f5e,#f4695c,#f8745c,#fa7d5e,#fb8761,#fc8e64,#fd9467,#fd9a6a,#fe9d6c,#fea16e,#fea36f,#fea36f,#fea36f,#fea16e,#fe9f6d,#fd9b6b,#fd9668,#fc8e64,#fb8761,#fa7d5e,#f7725c,#f4675c,#ee5b5e,#e85362,#df4a68,#d5446d,#ca3e72,#bd3977,#b2357b,#a5317e,#962c80,#892881,#7c2382,#721f81,#681c81)"></i><i style="background:linear-gradient(90deg,#601880,#5d177f,#5f187f,#621980,#6a1c81,#732081,#7e2482,#892881,#962c80,#a3307e,#b0357b,#bd3977,#c83e73,#d5446d,#e04c67,#e95462,#f05f5e,#f4695c,#f8745c,#fa7d5e,#fb8761,#fc8e64,#fd9467,#fd9869,#fd9b6b,#fe9f6d,#fea16e,#fea16e,#fea16e,#fea16e,#fe9d6c,#fd9a6a,#fd9467,#fc8c63,#fb835f,#f9795d,#f66e5c,#f2645c,#ed5a5f,#e55064,#dc4869,#d2426f,#c73d73,#bc3978,#ae347b,#a1307e,#942c80,#862781,#7b2382,#6e1e81,#671b80)"></i><i style="background:linear-gradient(90deg,#5f187f,#5c167f,#5d177f,#621980,#6a1c81,#732081,#7e2482,#8b2981,#962c80,#a3307e,#b0357b,#bd3977,#ca3e72,#d6456c,#e04c67,#e95462,#f05f5e,#f4695c,#f8745c,#fa7d5e,#fb8761,#fc8c63,#fd9266,#fd9869,#fd9b6b,#fe9d6c,#fe9f6d,#fea16e,#fe9f6d,#fe9f6d,#fd9b6b,#fd9668,#fc9065,#fc8961,#fa815f,#f8765c,#f66c5c,#f1605d,#eb5760,#e34e65,#db476a,#d0416f,#c43c75,#b83779,#ab337c,#9e2f7f,#912b81,#842681,#782281,#6d1d81,#641a80)"></i><i style="background:linear-gradient(90deg,#5c167f,#5a167e,#5c167f,#621980,#6a1c81,#732081,#7e2482,#8b2981,#962c80,#a3307e,#b0357b,#bd3977,#ca3e72,#d6456c,#e04c67,#ea5661,#f05f5e,#f4695c,#f8745c,#fa7d5e,#fb8560,#fc8c63,#fd9266,#fd9668,#fd9a6a,#fe9d6c,#fe9f6d,#fe9f6d,#fe9d6c,#fd9b6b,#fd9a6a,#fd9467,#fc8e64,#fb8761,#fa7d5e,#f8745c,#f4695c,#f05f5e,#e95462,#e24d66,#d8456c,#cd4071,#c23b75,#b5367a,#a8327d,#9b2e7f,#8e2a81,#812581,#752181,#6a1c81,#621980)"></i><i style="background:linear-gradient(90deg,#5a167e,#59157e,#5c167f,#601880,#6a1c81,#732081,#7e2482,#8b2981,#982d80,#a5317e,#b2357b,#bd3977,#ca3e72,#d6456c,#e24d66,#ea5661,#f05f5e,#f4695c,#f8745c,#fa7d5e,#fb8560,#fc8c63,#fc9065,#fd9668,#fd9a6a,#fd9b6b,#fe9d6c,#fe9d6c,#fd9b6b,#fd9a6a,#fd9668,#fd9266,#fc8a62,#fb835f,#f9795d,#f7705c,#f3655c,#ee5b5e,#e75263,#df4a68,#d5446d,#ca3e72,#bf3a77,#b2357b,#a5317e,#982d80,#8b2981,#7e2482,#721f81,#671b80,#5f187f)"></i><i style="background:linear-gradient(90deg,#59157e,#57157e,#5a167e,#601880,#681c81,#732081,#7e2482,#8b2981,#982d80,#a5317e,#b2357b,#bf3a77,#cc3f71,#d6456c,#e24d66,#ea5661,#f05f5e,#f4695c,#f8745c,#f97b5d,#fb8560,#fc8a62,#fc9065,#fd9467,#fd9869,#fd9a6a,#fd9b6b,#fd9b6b,#fd9a6a,#fd9869,#fd9467,#fc8e64,#fc8961,#fa7f5e,#f8765c,#f66c5c,#f2625d,#ec5860,#e55064,#dc4869,#d2426f,#c73d73,#bc3978,#ae347b,#a1307e,#942c80,#882781,#792282,#6e1e81,#641a80,#5c167f)"></i><i style="background:linear-gradient(90deg,#56147d,#56147d,#59157e,#5f187f,#681c81,#732081,#7e2482,#8b2981,#982d80,#a5317e,#b2357b,#bf3a77,#cc3f71,#d6456c,#e24d66,#ea5661,#f05f5e,#f4695c,#f7725c,#f97b5d,#fb835f,#fc8961,#fc8e64,#fd9467,#fd9668,#fd9869,#fd9a6a,#fd9a6a,#fd9869,#fd9668,#fd9266,#fc8c63,#fb8560,#fa7d5e,#f8745c,#f4695c,#f05f5e,#ea5661,#e34e65,#d9466b,#cf4070,#c43c75,#b83779,#ab337c,#9e2f7f,#912b81,#832681,#762181,#6b1d81,#601880,#59157e)"></i><i style="background:linear-gradient(90deg,#54137d,#54137d,#57157e,#5f187f,#681c81,#732081,#7e2482,#8b2981,#982d80,#a5317e,#b2357b,#bf3a77,#cc3f71,#d6456c,#e24d66,#ea5661,#f05f5e,#f4695c,#f7725c,#f97b5d,#fa815f,#fc8961,#fc8e64,#fd9266,#fd9467,#fd9668,#fd9869,#fd9869,#fd9668,#fd9266,#fc8e64,#fc8961,#fa815f,#f9795d,#f7705c,#f3655c,#ef5d5e,#e85362,#e04c67,#d6456c,#cc3f71,#c03a76,#b5367a,#a8327d,#9b2e7f,#8c2981,#802582,#732081,#671b80,#5d177f,#57157e)"></i><i style="background:linear-gradient(90deg,#51127c,#52137c,#57157e,#5d177f,#671b80,#732081,#7e2482,#8b2981,#982d80,#a5317e,#b2357b,#bf3a77,#cc3f71,#d6456c,#e24d66,#e95462,#f05f5e,#f4675c,#f7725c,#f9795d,#fa815f,#fb8761,#fc8c63,#fc9065,#fd9266,#fd9467,#fd9668,#fd9668,#fd9467,#fc9065,#fc8a62,#fb8560,#fa7d5e,#f8765c,#f66c5c,#f2625d,#ed5a5f,#e55064,#de4968,#d3436e,#c83e73,#bd3977,#b2357b,#a5317e,#962c80,#892881,#7b2382,#6e1e81,#641a80,#5a167e,#54137d)"></i><i style="background:linear-gradient(90deg,#4f127b,#51127c,#56147d,#5d177f,#671b80,#721f81,#7e2482,#8b2981,#982d80,#a5317e,#b2357b,#bf3a77,#cc3f71,#d6456c,#e24d66,#e95462,#ef5d5e,#f4675c,#f7705c,#f9785d,#fa7f5e,#fb8560,#fc8a62,#fc8e64,#fc9065,#fd9266,#fd9467,#fd9266,#fc9065,#fc8c63,#fc8961,#fb835f,#f97b5d,#f7725c,#f4695c,#f1605d,#eb5760,#e34e65,#db476a,#d0416f,#c53c74,#ba3878,#ad347c,#a02f7f,#932b80,#842681,#782281,#6b1d81,#601880,#57157e,#51127c)"></i><i style="background:linear-gradient(90deg,#4c117a,#4e117b,#54137d,#5c167f,#671b80,#721f81,#7e2482,#8b2981,#982d80,#a5317e,#b2357b,#bf3a77,#cc3f71,#d6456c,#e04c67,#e95462,#ef5d5e,#f4675c,#f66e5c,#f9785d,#fa7d5e,#fb8560,#fc8961,#fc8c63,#fc8e64,#fc9065,#fc9065,#fc9065,#fc8e64,#fc8a62,#fb8560,#fa7f5e,#f9785d,#f66e5c,#f3655c,#ef5d5e,#e95462,#e24d66,#d8456c,#cd4071,#c23b75,#b73779,#aa337d,#9c2e7f,#902a81,#812581,#732081,#671b80,#5c167f,#52137c,#4e117b)"></i><i style="background:linear-gradient(90deg,#491078,#4c117a,#52137c,#5c167f,#671b80,#721f81,#7e2482,#8b2981,#982d80,#a5317e,#b2357b,#bf3a77,#cc3f71,#d6456c,#e04c67,#e95462,#ef5d5e,#f3655c,#f66e5c,#f8765c,#fa7d5e,#fb835f,#fb8761,#fc8a62,#fc8c63,#fc8e64,#fc8e64,#fc8e64,#fc8a62,#fb8761,#fa815f,#f97b5d,#f8745c,#f56b5c,#f2625d,#ed5a5f,#e75263,#df4a68,#d5446d,#ca3e72,#bf3a77,#b3367a,#a6317d,#992d80,#8b2981,#7c2382,#701f81,#641a80,#59157e,#4f127b,#4a1079)"></i><i style="background:linear-gradient(90deg,#471078,#4a1079,#51127c,#5a167e,#651a80,#721f81,#7e2482,#8b2981,#982d80,#a5317e,#b2357b,#bf3a77,#ca3e72,#d6456c,#e04c67,#e85362,#ee5b5e,#f2645c,#f66c5c,#f8745c,#f97b5d,#fa815f,#fb8560,#fc8961,#fc8a62,#fc8c63,#fc8c63,#fc8a62,#fc8961,#fb835f,#fa7f5e,#f9785d,#f7705c,#f4675c,#f05f5e,#ea5661,#e44f64,#db476a,#d2426f,#c73d73,#bc3978,#ae347b,#a1307e,#942c80,#862781,#792282,#6b1d81,#5f187f,#54137d,#4c117a,#471078)"></i><i style="background:linear-gradient(90deg,#440f76,#491078,#51127c,#5a167e,#651a80,#721f81,#7c2382,#892881,#982d80,#a5317e,#b2357b,#bd3977,#ca3e72,#d5446d,#df4a68,#e85362,#ed5a5f,#f2645c,#f56b5c,#f7725c,#f9795d,#fa7f5e,#fb835f,#fb8761,#fc8961,#fc8961,#fc8961,#fc8961,#fb8560,#fa815f,#f97b5d,#f8745c,#f66c5c,#f2645c,#ee5b5e,#e85362,#e24d66,#d8456c,#cf4070,#c43c75,#b83779,#ab337c,#9e2f7f,#902a81,#832681,#752181,#671b80,#5a167e,#4f127b,#471078,#440f76)"></i><i style="background:linear-gradient(90deg,#420f75,#471078,#4f127b,#59157e,#651a80,#701f81,#7c2382,#892881,#962c80,#a3307e,#b0357b,#bd3977,#ca3e72,#d5446d,#df4a68,#e75263,#ed5a5f,#f2625d,#f4695c,#f7705c,#f9785d,#fa7d5e,#fa815f,#fb8560,#fb8761,#fb8761,#fb8761,#fb8560,#fa815f,#fa7d5e,#f9785d,#f7705c,#f4695c,#f1605d,#ec5860,#e55064,#de4968,#d5446d,#cc3f71,#c03a76,#b5367a,#a8327d,#9b2e7f,#8c2981,#7e2482,#701f81,#621980,#56147d,#4c117a,#440f76,#400f74)"></i><i style="background:linear-gradient(90deg,#3f0f72,#451077,#4e117b,#59157e,#641a80,#701f81,#7c2382,#892881,#962c80,#a3307e,#b0357b,#bd3977,#c83e73,#d5446d,#de4968,#e55064,#ec5860,#f1605d,#f4695c,#f66e5c,#f8765c,#f9795d,#fa7f5e,#fa815f,#fb835f,#fb8560,#fb835f,#fa815f,#fa7d5e,#f9795d,#f8745c,#f66c5c,#f3655c,#ef5d5e,#ea5661,#e34e65,#db476a,#d2426f,#c83e73,#bd3977,#b0357b,#a3307e,#962c80,#882781,#792282,#6b1d81,#5d177f,#51127c,#471078,#3f0f72,#3d0f71)"></i><i style="background:linear-gradient(90deg,#3b0f70,#440f76,#4c117a,#57157e,#641a80,#701f81,#7c2382,#892881,#962c80,#a3307e,#b0357b,#bd3977,#c83e73,#d3436e,#de4968,#e55064,#eb5760,#f05f5e,#f4675c,#f66c5c,#f8745c,#f9785d,#f97b5d,#fa7f5e,#fa815f,#fa815f,#fa815f,#fa7d5e,#f97b5d,#f8765c,#f7705c,#f4695c,#f2625d,#ed5a5f,#e85362,#e04c67,#d8456c,#cf4070,#c43c75,#b83779,#ad347c,#a02f7f,#912b81,#832681,#752181,#671b80,#59157e,#4c117a,#420f75,#3b0f70,#390f6e)"></i><i style="background:linear-gradient(90deg,#390f6e,#400f74,#4c117a,#57157e,#621980,#6e1e81,#7c2382,#892881,#962c80,#a3307e,#b0357b,#bc3978,#c83e73,#d2426f,#dc4869,#e44f64,#ea5661,#ef5d5e,#f2645c,#f56b5c,#f7705c,#f8765c,#f9795d,#f97b5d,#fa7d5e,#fa7d5e,#fa7d5e,#f97b5d,#f9785d,#f7725c,#f66c5c,#f3655c,#ef5d5e,#eb5760,#e44f64,#de4968,#d5446d,#cc3f71,#c03a76,#b5367a,#a8327d,#9b2e7f,#8e2a81,#802582,#701f81,#621980,#54137d,#471078,#3d0f71,#36106b,#36106b)"></i><i style="background:linear-gradient(90deg,#36106b,#3f0f72,#4a1079,#56147d,#621980,#6e1e81,#7b2382,#882781,#942c80,#a1307e,#ae347b,#bc3978,#c73d73,#d2426f,#db476a,#e34e65,#e95462,#ee5b5e,#f2625d,#f4695c,#f66e5c,#f8745c,#f9785d,#f9795d,#f97b5d,#f97b5d,#f9795d,#f9785d,#f8745c,#f66e5c,#f4675c,#f2625d,#ed5a5f,#e85362,#e24d66,#db476a,#d2426f,#c83e73,#bd3977,#b2357b,#a5317e,#982d80,#892881,#7b2382,#6b1d81,#5d177f,#4f127b,#420f75,#38106c,#331067,#331067)"></i><i style="background:linear-gradient(90deg,#341069,#3d0f71,#491078,#56147d,#621980,#6e1e81,#7b2382,#882781,#942c80,#a1307e,#ae347b,#ba3878,#c53c74,#d0416f,#d9466b,#e24d66,#e85362,#ed5a5f,#f1605d,#f4675c,#f66c5c,#f7705c,#f8745c,#f9785d,#f9785d,#f9785d,#f8765c,#f8745c,#f7705c,#f56b5c,#f2645c,#ef5d5e,#eb5760,#e55064,#df4a68,#d6456c,#cf4070,#c43c75,#b83779,#ad347c,#a02f7f,#932b80,#842681,#762181,#671b80,#59157e,#4a1079,#3d0f71,#331067,#2f1163,#2f1163)"></i><i style="background:linear-gradient(90deg,#311165,#3b0f70,#471078,#54137d,#601880,#6d1d81,#7b2382,#882781,#942c80,#a1307e,#ad347c,#ba3878,#c53c74,#cf4070,#d9466b,#e04c67,#e75263,#ec5860,#f05f5e,#f3655c,#f56b5c,#f66e5c,#f7725c,#f8745c,#f8745c,#f8745c,#f7725c,#f7705c,#f56b5c,#f4675c,#f1605d,#ed5a5f,#e95462,#e34e65,#dc4869,#d3436e,#ca3e72,#c03a76,#b5367a,#aa337d,#9c2e7f,#8e2a81,#802582,#721f81,#621980,#54137d,#451077,#38106c,#2f1163,#2a115c,#2c115f)"></i><i style="background:linear-gradient(90deg,#2f1163,#390f6e,#451077,#52137c,#601880,#6d1d81,#792282,#862781,#942c80,#a02f7f,#ad347c,#b83779,#c43c75,#cf4070,#d8456c,#df4a68,#e55064,#eb5760,#ef5d5e,#f2625d,#f4675c,#f56b5c,#f66e5c,#f7705c,#f7725c,#f7705c,#f66e5c,#f66c5c,#f4675c,#f2625d,#ef5d5e,#eb5760,#e55064,#e04c67,#d8456c,#d0416f,#c73d73,#bc3978,#b2357b,#a5317e,#982d80,#892881,#7b2382,#6d1d81,#5d177f,#4f127b,#400f74,#331067,#2a115c,#271258,#29115a)"></i><i style="background:linear-gradient(90deg,#2d1161,#38106c,#451077,#52137c,#5f187f,#6d1d81,#792282,#862781,#932b80,#a02f7f,#ab337c,#b83779,#c23b75,#cd4071,#d6456c,#de4968,#e44f64,#ea5661,#ed5a5f,#f1605d,#f3655c,#f4695c,#f66c5c,#f66e5c,#f66e5c,#f66c5c,#f56b5c,#f4695c,#f2645c,#f05f5e,#ec5860,#e85362,#e34e65,#dc4869,#d5446d,#cd4071,#c43c75,#b83779,#ad347c,#a02f7f,#932b80,#862781,#762181,#681c81,#59157e,#4a1079,#3b0f70,#2d1161,#251255,#221150,#251255)"></i><i style="background:linear-gradient(90deg,#2a115c,#36106b,#440f76,#51127c,#5f187f,#6b1d81,#782281,#862781,#932b80,#a02f7f,#ab337c,#b73779,#c23b75,#cc3f71,#d5446d,#dc4869,#e34e65,#e85362,#ec5860,#ef5d5e,#f2625d,#f3655c,#f4695c,#f56b5c,#f56b5c,#f4695c,#f4675c,#f2645c,#f1605d,#ee5b5e,#ea5661,#e55064,#e04c67,#d9466b,#d2426f,#c83e73,#bf3a77,#b5367a,#aa337d,#9c2e7f,#902a81,#812581,#721f81,#641a80,#54137d,#440f76,#36106b,#29115a,#221150,#20114b,#241253)"></i><i style="background:linear-gradient(90deg,#29115a,#341069,#420f75,#4f127b,#5d177f,#6b1d81,#782281,#842681,#912b81,#9e2f7f,#aa337d,#b5367a,#c03a76,#ca3e72,#d3436e,#db476a,#e24d66,#e75263,#eb5760,#ee5b5e,#f1605d,#f2645c,#f3655c,#f4675c,#f4675c,#f3655c,#f2645c,#f1605d,#ee5b5e,#eb5760,#e85362,#e34e65,#dc4869,#d6456c,#cd4071,#c53c74,#bc3978,#b0357b,#a5317e,#982d80,#8b2981,#7c2382,#6d1d81,#5f187f,#4f127b,#3f0f72,#311165,#251255,#1e1149,#1d1147,#21114e)"></i><i style="background:linear-gradient(90deg,#271258,#331067,#400f74,#4f127b,#5c167f,#6a1c81,#782281,#842681,#912b81,#9c2e7f,#aa337d,#b5367a,#bf3a77,#c83e73,#d0416f,#d9466b,#df4a68,#e44f64,#e95462,#ec5860,#ef5d5e,#f1605d,#f2645c,#f2645c,#f2645c,#f2625d,#f1605d,#ef5d5e,#ec5860,#e95462,#e44f64,#df4a68,#d9466b,#d2426f,#ca3e72,#c03a76,#b73779,#ad347c,#a02f7f,#932b80,#862781,#782281,#681c81,#5a167e,#4a1079,#390f6e,#2c115f,#21114e,#1c1044,#1a1042,#20114b)"></i><i style="background:linear-gradient(90deg,#251255,#311165,#400f74,#4e117b,#5c167f,#6a1c81,#762181,#832681,#902a81,#9c2e7f,#a8327d,#b3367a,#bd3977,#c73d73,#cf4070,#d6456c,#de4968,#e34e65,#e85362,#eb5760,#ed5a5f,#ef5d5e,#f1605d,#f1605d,#f1605d,#f05f5e,#ef5d5e,#ec5860,#ea5661,#e55064,#e24d66,#dc4869,#d5446d,#cf4070,#c73d73,#bd3977,#b3367a,#a8327d,#9c2e7f,#902a81,#812581,#732081,#641a80,#56147d,#451077,#36106b,#271258,#1d1147,#19103f,#19103f,#1d1147)"></i><i style="background:linear-gradient(90deg,#241253,#2f1163,#3f0f72,#4c117a,#5a167e,#681c81,#752181,#832681,#902a81,#9b2e7f,#a6317d,#b2357b,#bc3978,#c53c74,#cd4071,#d5446d,#db476a,#e04c67,#e55064,#e95462,#ec5860,#ee5b5e,#ef5d5e,#ef5d5e,#ef5d5e,#ee5b5e,#ec5860,#ea5661,#e75263,#e34e65,#de4968,#d8456c,#d2426f,#ca3e72,#c23b75,#b83779,#ae347b,#a3307e,#982d80,#8b2981,#7c2382,#6e1e81,#5f187f,#4f127b,#400f74,#311165,#241253,#1a1042,#160f3b,#160f3b,#1c1044)"></i><i style="background:linear-gradient(90deg,#221150,#2f1163,#3d0f71,#4c117a,#59157e,#671b80,#752181,#812581,#8e2a81,#9b2e7f,#a6317d,#b0357b,#ba3878,#c43c75,#cc3f71,#d3436e,#d9466b,#df4a68,#e34e65,#e85362,#ea5661,#ec5860,#ed5a5f,#ed5a5f,#ed5a5f,#ec5860,#ea5661,#e85362,#e44f64,#df4a68,#db476a,#d5446d,#cf4070,#c73d73,#bf3a77,#b5367a,#ab337c,#a02f7f,#932b80,#862781,#782281,#6a1c81,#5a167e,#4a1079,#3b0f70,#2c115f,#20114b,#180f3d,#140e36,#150e38,#1a1042)"></i><i style="background:linear-gradient(90deg,#21114e,#2d1161,#3b0f70,#4a1079,#59157e,#671b80,#732081,#812581,#8e2a81,#992d80,#a5317e,#ae347b,#b83779,#c23b75,#ca3e72,#d0416f,#d6456c,#dc4869,#e24d66,#e55064,#e85362,#ea5661,#eb5760,#eb5760,#eb5760,#ea5661,#e85362,#e44f64,#e04c67,#dc4869,#d6456c,#d0416f,#ca3e72,#c23b75,#ba3878,#b0357b,#a6317d,#9b2e7f,#8e2a81,#812581,#732081,#651a80,#56147d,#471078,#36106b,#271258,#1d1147,#150e38,#120d31,#140e36,#19103f)"></i><i style="background:linear-gradient(90deg,#20114b,#2c115f,#390f6e,#491078,#57157e,#651a80,#732081,#802582,#8c2981,#982d80,#a3307e,#ad347c,#b73779,#bf3a77,#c73d73,#cf4070,#d5446d,#db476a,#df4a68,#e34e65,#e55064,#e85362,#e95462,#e95462,#e95462,#e75263,#e44f64,#e24d66,#de4968,#d8456c,#d3436e,#cd4071,#c73d73,#bf3a77,#b73779,#ad347c,#a3307e,#962c80,#8b2981,#7c2382,#6e1e81,#601880,#51127c,#420f75,#311165,#241253,#1a1042,#130d34,#110c2f,#130d34,#180f3d)"></i><i style="background:linear-gradient(90deg,#20114b,#2a115c,#390f6e,#471078,#56147d,#641a80,#721f81,#7e2482,#8b2981,#982d80,#a1307e,#ab337c,#b5367a,#bd3977,#c53c74,#cc3f71,#d2426f,#d8456c,#dc4869,#e04c67,#e34e65,#e55064,#e75263,#e75263,#e55064,#e44f64,#e24d66,#de4968,#d9466b,#d5446d,#cf4070,#c83e73,#c23b75,#ba3878,#b2357b,#a8327d,#9e2f7f,#932b80,#862781,#782281,#6a1c81,#5c167f,#4c117a,#3d0f71,#2d1161,#21114e,#180f3d,#120d31,#100b2d,#120d31,#180f3d)"></i><i style="background:linear-gradient(90deg,#1e1149,#2a115c,#38106c,#471078,#56147d,#621980,#701f81,#7e2482,#892881,#962c80,#a02f7f,#aa337d,#b3367a,#bc3978,#c23b75,#ca3e72,#d0416f,#d5446d,#db476a,#de4968,#e04c67,#e34e65,#e44f64,#e44f64,#e34e65,#e04c67,#de4968,#db476a,#d6456c,#d0416f,#cc3f71,#c53c74,#bd3977,#b73779,#ae347b,#a5317e,#992d80,#8e2a81,#812581,#732081,#651a80,#57157e,#471078,#38106c,#29115a,#1e1149,#150e38,#110c2f,#100b2d,#120d31,#180f3d)"></i><i style="background:linear-gradient(90deg,#1e1149,#29115a,#36106b,#451077,#54137d,#621980,#6e1e81,#7c2382,#892881,#942c80,#9e2f7f,#a8327d,#b2357b,#ba3878,#c03a76,#c73d73,#cd4071,#d3436e,#d8456c,#db476a,#de4968,#e04c67,#e24d66,#e24d66,#e04c67,#de4968,#db476a,#d6456c,#d2426f,#cd4071,#c73d73,#c03a76,#ba3878,#b2357b,#aa337d,#a02f7f,#962c80,#892881,#7c2382,#6e1e81,#601880,#52137c,#440f76,#341069,#251255,#1c1044,#140e36,#100b2d,#0e0b2b,#120d31,#160f3b)"></i><i style="background:linear-gradient(90deg,#1e1149,#29115a,#36106b,#440f76,#52137c,#601880,#6e1e81,#7b2382,#882781,#932b80,#9c2e7f,#a6317d,#ae347b,#b73779,#bd3977,#c53c74,#ca3e72,#d0416f,#d5446d,#d8456c,#db476a,#de4968,#de4968,#de4968,#dc4869,#db476a,#d6456c,#d3436e,#cd4071,#c83e73,#c23b75,#bd3977,#b5367a,#ae347b,#a6317d,#9c2e7f,#912b81,#862781,#782281,#6b1d81,#5c167f,#4e117b,#3f0f72,#2f1163,#221150,#19103f,#130d34,#100b2d,#0e0b2b,#120d31,#160f3b)"></i><i style="background:linear-gradient(90deg,#1d1147,#271258,#341069,#420f75,#51127c,#5f187f,#6d1d81,#792282,#862781,#912b81,#9b2e7f,#a5317e,#ad347c,#b5367a,#bc3978,#c23b75,#c73d73,#cd4071,#d2426f,#d5446d,#d8456c,#db476a,#db476a,#db476a,#d9466b,#d6456c,#d3436e,#cf4070,#ca3e72,#c53c74,#bf3a77,#b83779,#b2357b,#aa337d,#a1307e,#982d80,#8c2981,#812581,#752181,#671b80,#59157e,#491078,#390f6e,#2c115f,#20114b,#180f3d,#120d31,#100b2d,#100b2d,#120d31,#160f3b)"></i><i style="background:linear-gradient(90deg,#1d1147,#271258,#331067,#420f75,#4f127b,#5d177f,#6b1d81,#782281,#842681,#902a81,#992d80,#a3307e,#ab337c,#b2357b,#b83779,#bf3a77,#c53c74,#ca3e72,#cf4070,#d2426f,#d5446d,#d6456c,#d8456c,#d8456c,#d5446d,#d3436e,#cf4070,#ca3e72,#c53c74,#c03a76,#ba3878,#b5367a,#ad347c,#a6317d,#9c2e7f,#932b80,#892881,#7c2382,#701f81,#621980,#54137d,#451077,#36106b,#29115a,#1e1149,#160f3b,#120d31,#100b2d,#100b2d,#120d31,#160f3b)"></i><i style="background:linear-gradient(90deg,#1d1147,#271258,#331067,#400f74,#4f127b,#5c167f,#6a1c81,#762181,#832681,#8e2a81,#982d80,#a1307e,#a8327d,#b0357b,#b73779,#bc3978,#c23b75,#c73d73,#cc3f71,#cf4070,#d2426f,#d3436e,#d3436e,#d3436e,#d2426f,#cf4070,#cc3f71,#c73d73,#c23b75,#bc3978,#b73779,#b0357b,#aa337d,#a1307e,#992d80,#902a81,#842681,#792282,#6b1d81,#5f187f,#4f127b,#400f74,#331067,#251255,#1c1044,#150e38,#120d31,#100b2d,#110c2f,#130d34,#180f3d)"></i><i style="background:linear-gradient(90deg,#1d1147,#251255,#311165,#3f0f72,#4e117b,#5a167e,#681c81,#752181,#812581,#8c2981,#962c80,#9e2f7f,#a6317d,#ad347c,#b3367a,#ba3878,#bf3a77,#c43c75,#c83e73,#cc3f71,#cf4070,#d0416f,#d0416f,#d0416f,#cd4071,#cc3f71,#c73d73,#c23b75,#bd3977,#b83779,#b2357b,#ab337c,#a5317e,#9e2f7f,#942c80,#8b2981,#812581,#752181,#681c81,#5a167e,#4c117a,#3d0f71,#2f1163,#221150,#1a1042,#140e36,#120d31,#110c2f,#110c2f,#140e36,#180f3d)"></i><i style="background:linear-gradient(90deg,#1d1147,#251255,#311165,#3f0f72,#4c117a,#5a167e,#671b80,#732081,#802582,#892881,#932b80,#9c2e7f,#a3307e,#ab337c,#b0357b,#b73779,#bc3978,#c03a76,#c53c74,#c83e73,#ca3e72,#cc3f71,#cd4071,#cc3f71,#ca3e72,#c73d73,#c43c75,#bf3a77,#ba3878,#b3367a,#ae347b,#a8327d,#a1307e,#992d80,#912b81,#882781,#7c2382,#701f81,#641a80,#57157e,#491078,#390f6e,#2c115f,#21114e,#19103f,#140e36,#120d31,#120d31,#120d31,#140e36,#180f3d)"></i></div>
<div class="cb" style="left:494.4px;top:19.1px;width:15.4px;height:307.5px;background:linear-gradient(180deg,#fcfdbf,#fcf6b8,#fceeb0,#fde7a9,#fddea0,#fed799,#fecf92,#fec88c,#febf84,#feb77e,#feb078,#fea973,#fe9f6d,#fd9869,#fc9065,#fc8961,#fa7f5e,#f9785d,#f7705c,#f4675c,#f1605d,#ed5a5f,#e95462,#e34e65,#de4968,#d8456c,#d2426f,#ca3e72,#c43c75,#bd3977,#b73779,#ae347b,#a8327d,#a1307e,#992d80,#932b80,#8c2981,#862781,#7e2482,#782281,#721f81,#6b1d81,#641a80,#5d177f,#57157e,#51127c,#491078,#420f75,#3b0f70,#331067,#2c115f,#251255,#20114b,#19103f,#140e36,#100b2d,#0b0924,#06051a,#030312,#020109,#000004)"></div>
<svg class="ov" width="560" height="514" viewBox="0 0 560 514"><clipPath id="c1"><rect x="66.90" y="19.15" width="402.45" height="307.45"/></clipPath><g clip-path="url(#c1)" fill="none" stroke="#fff" stroke-width="2.20" stroke-linecap="butt" stroke-linejoin="round"><path d="M371.7 326.6L372.8 325.7L373.9 324.8L374.9 323.9L376.0 322.9L377.1 322.0L378.2 321.1L379.2 320.2L380.3 319.4L381.4 318.5L382.4 317.6L383.5 316.8L384.5 315.9L385.6 315.0L386.8 314.1L387.8 313.2L388.9 312.4L390.0 311.5L391.0 310.7L392.1 309.8L393.2 309.0L394.3 308.1L395.4 307.2"/><path d="M414.4 292.3L415.6 291.3L416.7 290.4L417.9 289.5L419.0 288.7L420.1 287.8L421.2 286.9L422.3 286.0L423.5 285.2L424.6 284.3L425.7 283.4L426.9 282.6L428.0 281.7L429.2 280.8L430.3 280.0L431.5 279.1L432.6 278.3L433.7 277.5L434.9 276.6L436.0 275.8L437.1 275.0L438.3 274.2L439.4 273.4L440.5 272.5L441.7 271.7L442.9 270.9L444.0 270.1L445.2 269.3L446.3 268.5L447.4 267.6L448.5 266.8L449.7 266.0L450.9 265.2L452.2 264.3L453.3 263.5L454.5 262.6L455.7 261.6L456.9 260.8L458.1 260.0L459.3 259.1L460.4 258.3L461.5 257.4L462.5 256.6L463.7 255.8L464.8 255.0L465.9 254.2L467.0 253.4L468.0 252.5L469.0 251.6L469.4 251.3"/><path d="M78.7 239.4L80.1 238.9L81.5 238.9L83.0 239.2L84.4 239.5L85.9 239.8L87.4 240.1L88.1 241.3L88.9 242.4L89.6 243.7L90.3 245.0L91.0 246.3L91.6 247.6L92.2 248.9L92.7 250.2L93.2 251.5L93.7 252.8L94.2 254.0L94.5 255.5L94.9 256.9L95.2 258.4L95.5 259.8L95.8 261.2L96.1 262.6L96.5 264.1L96.7 265.5L97.0 266.9L97.3 268.3L97.6 269.8L97.9 271.2L98.2 272.6L98.5 274.0L98.8 275.4L99.0 276.9L99.3 278.3L99.6 279.7L99.9 281.1L100.2 282.5L100.5 284.0L100.8 285.3L101.1 286.7L101.4 288.2L101.7 289.6L102.0 291.1L102.4 292.5L102.7 293.9L103.0 295.3L103.4 296.8L103.8 298.2L104.2 299.6L104.6 301.0L105.0 302.4L105.4 303.9L105.8 305.3L106.3 306.6L106.7 307.9L107.1 309.2L107.6 310.5L108.0 311.7L108.5 313.0L108.9 314.4L109.4 315.7L109.9 317.0L110.4 318.3L110.9 319.7L111.5 321.0L112.0 322.3L112.6 323.6L113.2 324.9L113.8 326.2L114.0 326.6"/><path d="M469.4 94.0L468.3 93.2L467.2 92.4L466.1 91.6L464.9 90.9L463.7 90.1L462.5 89.4L461.3 88.8L460.0 88.2L458.7 87.5L457.5 86.9L456.1 86.3L454.8 85.8L453.4 85.2L452.1 84.7L450.7 84.2L449.3 83.7L448.0 83.2L446.6 82.7L445.2 82.3L444.3 82.0"/><path d="M420.7 75.5L419.3 75.2L418.0 74.8L416.6 74.5L415.2 74.2L413.8 73.8L412.3 73.5L410.9 73.2L409.4 72.9L408.0 72.6L406.5 72.3L405.1 72.0L403.6 71.7L402.2 71.4L401.1 71.2L399.7 71.0L398.2 70.7L396.8 70.4L395.3 70.1L393.8 69.8L392.4 69.6L390.9 69.3L389.4 69.1L388.0 68.8L386.5 68.6L385.1 68.4L383.6 68.1L382.1 67.9L380.7 67.7L379.2 67.4L377.8 67.2L376.3 67.0L374.8 66.7L373.4 66.5L371.9 66.3L370.5 66.0L369.2 65.8L367.9 65.5L366.5 65.3L365.1 65.0L363.6 64.6L362.2 64.3L360.7 64.0L359.3 63.7L357.9 63.3L356.6 63.0L355.2 62.6L353.8 62.2L352.5 61.8L351.1 61.4L349.7 61.0L348.3 60.4L347.0 59.7L345.7 58.9L344.5 58.1L343.3 57.3L342.0 56.5L340.8 55.6L340.3 54.3L339.7 53.0L339.4 51.7L339.0 50.4L339.4 49.0L339.9 47.7L340.2 46.5L340.6 45.2L341.4 44.0L342.2 42.8L343.1 41.6L343.9 40.4L344.8 39.3L345.9 38.2L346.9 37.2L347.7 36.2L348.6 35.1L349.6 34.1L350.6 33.1L351.7 32.2L352.7 31.2L353.7 30.2L354.6 29.2L355.7 28.3L356.7 27.3L357.8 26.3L358.8 25.3L359.9 24.4L360.9 23.4L362.0 22.5L363.1 21.5L364.2 20.5L365.4 19.5L365.7 19.1"/><path d="M116.5 19.1L117.2 20.4L117.9 21.6L118.6 22.8L119.3 24.0L120.1 25.2L120.9 26.4L121.7 27.5L122.5 28.5L123.3 29.6L124.3 30.6L125.3 31.7L126.3 32.7L127.2 33.7L128.2 34.8L129.1 35.4L130.3 36.3L131.5 37.2L132.7 38.1L133.9 39.0L135.1 39.9L136.2 40.4L137.5 41.1L138.8 41.8L140.2 42.5L141.5 43.2L142.8 43.8L144.2 44.3L145.5 44.8L146.9 45.4L148.3 45.9L149.7 46.4L151.0 46.8L152.4 47.2L153.8 47.7L155.1 48.1L156.5 48.5L157.8 48.9L159.2 49.3L160.6 49.7L161.9 50.0L163.3 50.4L164.7 50.8L166.1 51.1L167.4 51.5L168.8 51.9L170.1 52.2L171.5 52.6L172.9 52.9L174.2 53.3L175.6 53.6L176.9 53.9L178.3 54.3L179.7 54.6L181.0 54.9L182.4 55.3L183.6 55.5L184.9 55.9L186.3 56.2L187.8 56.6L189.2 57.0L190.6 57.3L192.0 57.7L193.3 58.0L194.7 58.3L196.0 58.6L197.5 59.0L198.9 59.3L200.4 59.6L201.9 60.0L203.3 60.3L204.7 60.6L206.1 60.8L207.5 61.2L208.8 61.5L210.1 61.8L211.6 62.1L213.1 62.4L214.5 62.7L216.0 63.0L217.5 63.3L218.9 63.6L220.4 63.8L221.8 64.1L223.3 64.4L224.8 64.7L226.2 64.9L227.7 65.2L229.1 65.4L230.6 65.7L232.1 65.9L233.5 66.2L235.0 66.5L236.5 66.8L237.9 67.1L239.2 67.4L240.6 67.8L242.0 68.1L243.3 68.4L244.7 68.7L246.1 69.1L247.4 69.5L248.8 69.9L250.2 70.3L251.5 70.7L252.7 71.1L253.9 71.9L255.1 72.8L256.3 73.7L257.5 74.6L258.5 75.5L259.4 76.5L259.4 77.9L259.4 79.3L259.4 80.7L259.1 82.1L258.4 83.2L257.7 84.4L257.0 85.6L256.3 86.9L255.4 88.0L254.4 89.1L253.4 90.2L252.4 91.4L251.4 92.4L250.4 93.4L249.3 94.5L248.3 95.6L247.2 96.6L246.1 97.6L245.0 98.6L243.9 99.6L242.9 100.6L241.9 101.5L240.9 102.5L239.8 103.4L238.8 104.3L237.8 105.2L236.7 106.1L235.7 107.1L234.7 108.1L233.6 109.0L232.5 109.9L231.3 110.9L230.3 111.8L229.3 112.7L228.2 113.6"/><path d="M209.1 128.3L208.0 129.2L206.8 130.0L205.7 130.9L204.5 131.7L203.3 132.6L202.3 133.3L201.2 134.1L200.1 135.0L198.9 135.8L197.7 136.7L196.5 137.6L195.4 138.4L194.2 139.3L193.1 140.2L191.9 141.0L190.8 141.9L189.7 142.8L188.5 143.6L187.4 144.5L186.3 145.4L185.1 146.3L184.0 147.2L182.9 148.1L181.9 148.9L180.9 149.7L179.7 150.6L178.6 151.5L177.5 152.4L176.4 153.3L175.4 154.1L174.4 154.9L173.3 155.8L172.2 156.7L171.1 157.6L170.0 158.5L168.9 159.4L167.9 160.1L166.8 161.0L165.7 161.9L164.6 162.8L163.5 163.7L162.4 164.6L161.4 165.4L160.2 166.3L159.1 167.2L157.9 168.2L156.7 169.1L155.6 170.0L154.5 170.9L153.3 171.8L152.2 172.7L151.0 173.6L149.9 174.5L148.8 175.5L148.0 176.1L146.8 177.0L145.6 177.9L144.5 178.9L143.3 179.8L142.2 180.7L141.2 181.5L140.0 182.4L138.9 183.2L137.8 184.1L136.6 185.0L135.5 185.9L134.3 186.8L133.1 187.7L132.0 188.5L130.8 189.4L129.6 190.2L128.4 191.1L127.5 191.7L126.3 192.5L125.1 193.3L123.9 194.1L122.7 194.9L121.5 195.7L120.4 196.2L119.2 196.8L118.0 197.5L116.7 198.1L115.5 198.8L114.2 199.4L112.8 199.9L111.5 200.3L110.1 200.8L108.7 201.2L107.8 201.5L106.8 201.4L105.4 201.1L103.9 200.9L102.5 200.6L101.0 200.4L100.2 199.1L99.3 197.9L98.5 196.7L97.8 195.5L97.3 194.2L96.7 192.9L96.1 191.5L95.7 190.2L95.3 188.7L94.8 187.3L94.4 185.9L94.1 184.5L93.9 183.1L93.6 181.6L93.4 180.2L93.1 178.8L92.9 177.4L92.7 176.0L92.4 174.5L92.2 173.1L92.0 171.7L91.7 170.3L91.5 168.8L91.2 167.4L90.9 166.0L90.7 164.6L90.3 163.2L90.0 161.7L89.7 160.3L89.4 158.9L89.0 157.5L88.7 156.1L88.3 154.6L87.9 153.2L87.5 151.8L87.1 150.4L86.8 149.0L86.4 147.5L86.0 146.1L85.5 144.7L85.1 143.3L84.7 141.8L84.2 140.4L83.8 139.0L83.3 137.7L82.9 136.4L82.5 135.1L82.0 133.8L81.5 132.4L81.0 131.1L80.5 129.7L80.2 128.6L79.7 127.3L79.2 126.0L78.8 124.7L78.3 123.4L77.8 122.1L77.3 120.8L76.8 119.5L76.3 118.2L75.7 116.9L75.1 115.6L74.6 114.3L74.0 112.9L73.5 111.9L72.9 110.7L72.2 109.4L71.6 108.2L70.9 106.9L70.1 105.7L69.4 104.5L68.6 103.3L67.9 102.2L67.1 101.2L66.9 100.9"/><path d="M243.3 316.2L244.7 316.2L246.2 316.2L247.6 316.2L249.1 316.1L250.6 316.1L252.0 316.0L253.5 315.9L255.0 315.8L256.4 315.6L257.9 315.5L259.4 315.3L260.8 315.1L262.3 314.9L263.7 314.7L265.2 314.4L266.7 314.1L268.1 313.8L269.6 313.6L271.0 313.3L272.4 313.0L273.8 312.6L275.2 312.3L276.5 312.0L277.9 311.7L279.2 311.3L280.5 311.0L281.9 310.6L283.3 310.2L284.7 309.9L286.1 309.5L287.5 309.1L288.8 308.7L290.2 308.3L291.5 307.8L292.9 307.4L294.3 307.0L295.7 306.5L297.1 306.1L298.4 305.6L299.7 305.2L301.1 304.7L302.5 304.2L303.8 303.7L305.2 303.3L306.5 302.8L307.8 302.3L309.2 301.7L310.5 301.2L311.8 300.7L312.9 300.3L314.3 299.7L315.6 299.1L317.0 298.5L318.4 298.0L319.7 297.4L321.0 296.8L322.4 296.2L323.7 295.5L324.9 295.0L326.1 294.4L327.4 293.7L328.7 293.1L329.9 292.4L331.2 291.8L332.5 291.1L333.6 290.5L334.7 289.9L336.0 289.2L337.2 288.5L338.5 287.8L339.7 287.1L340.9 286.3L342.1 285.6L343.3 284.9L344.5 284.2L345.8 283.4L347.0 282.6L348.2 281.8L349.4 281.0L350.6 280.2L351.8 279.4L353.0 278.7L354.2 277.8L355.4 277.0L356.6 276.2L357.8 275.3"/><path d="M376.8 260.1L377.9 259.2L379.0 258.2L380.0 257.3L381.0 256.3L382.1 255.3L383.2 254.3L384.2 253.3L385.2 252.4L386.2 251.4L387.2 250.5L388.2 249.5L389.2 248.4L390.2 247.4L391.2 246.4L392.2 245.3L393.2 244.3L394.2 243.2L395.0 242.4L395.9 241.3L396.9 240.2L397.9 239.1L398.8 238.0L399.7 236.9L400.6 235.9L401.4 234.8L402.2 233.8L403.0 232.8L403.9 231.6L404.8 230.4L405.7 229.2L406.5 228.0L407.3 226.9L408.0 225.8L408.7 224.7L409.4 223.5L410.2 222.4L410.9 221.1L411.6 219.8L412.4 218.5L413.1 217.2L413.7 215.9L414.4 214.6L415.0 213.4L415.5 212.3L416.0 211.1L416.6 209.8L417.1 208.5L417.7 207.2L418.1 205.9L418.6 204.6L419.0 203.3L419.5 202.0L419.9 200.6L420.2 199.2L420.6 197.7L421.0 196.3L421.3 194.9L421.5 193.4L421.8 192.0L422.0 190.6L422.1 189.2L422.2 187.8L422.3 186.4L422.3 185.0L422.3 183.5L422.2 182.1L422.2 180.7L422.0 179.3L421.8 177.9L421.6 176.6L421.4 175.5L421.0 174.1L420.7 172.6L420.3 171.2L419.8 169.8L419.3 168.5L418.8 167.2L418.2 165.9L417.6 164.6L416.9 163.3L416.2 162.0L415.5 160.7L414.8 159.5L413.9 158.2L413.1 157.0L412.2 155.8L411.4 154.6L410.5 153.5L409.5 152.4L408.6 151.3L407.6 150.2L406.6 149.1L405.6 148.1L404.6 147.1L403.5 146.2L402.5 145.2L401.5 144.2L400.4 143.3L399.2 142.5L398.0 141.6L396.8 140.7L395.7 139.9L394.5 139.0L393.5 138.4L392.2 137.7L390.9 137.0L389.6 136.3L388.3 135.5L387.1 134.9L385.9 134.3L384.7 133.8L383.4 133.2L382.0 132.7L380.7 132.2L379.3 131.7L377.9 131.3L376.6 130.9L375.2 130.5L373.9 130.0L372.4 129.7L371.0 129.4L369.5 129.1L368.1 128.8L367.0 128.6L365.6 128.4L364.1 128.2L362.6 128.0L361.2 127.8L359.7 127.7L358.3 127.6L356.8 127.5L355.3 127.4L353.9 127.3L352.4 127.3L351.0 127.3L349.5 127.3L348.0 127.3L346.6 127.3L345.1 127.4L343.6 127.5L342.2 127.6L340.7 127.7L339.3 127.8L337.8 128.0L336.3 128.1L334.9 128.3L333.4 128.5L332.1 128.7L330.7 128.9L329.3 129.1L327.9 129.3L326.6 129.5L325.1 129.8L323.7 130.1L322.2 130.4L320.7 130.6L319.3 130.9L317.9 131.3L316.6 131.6L315.2 131.9L313.8 132.2L312.5 132.5L311.1 132.9L309.7 133.3L308.4 133.7L307.0 134.0L305.6 134.4L304.3 134.8L302.9 135.3L301.5 135.7L300.2 136.1L298.8 136.6L297.5 137.1L296.1 137.5L294.8 138.0L293.4 138.5L292.1 139.0L291.1 139.4L289.7 139.9L288.4 140.5L287.0 141.1L285.6 141.6L284.3 142.2L283.0 142.8L281.6 143.4L280.3 144.0L279.1 144.6L277.9 145.1L276.7 145.8L275.4 146.4L274.1 147.1L272.8 147.7L271.5 148.4L270.4 149.0L269.2 149.7L268.0 150.3L266.8 151.0L265.5 151.7L264.3 152.4L263.1 153.2L261.8 153.9L260.6 154.6L259.4 155.3L258.3 156.1L257.1 156.8L255.8 157.7L254.5 158.5L253.3 159.3L252.1 160.1L251.1 160.8L249.9 161.6L248.6 162.5L247.4 163.3L246.2 164.2L245.0 165.1L243.9 165.9L242.7 166.8L241.6 167.6L240.4 168.5L239.2 169.4L238.1 170.3L237.0 171.1L235.9 172.0L234.7 173.0L233.6 173.9L232.4 174.9L231.3 175.8L230.3 176.7L229.2 177.6L228.1 178.5L227.0 179.5L225.9 180.4L224.9 181.3L223.8 182.3L222.7 183.3L221.6 184.3L220.5 185.2L219.5 186.2L218.4 187.2L217.3 188.3L216.3 189.2L215.3 190.2L214.3 191.1L213.3 192.2L212.2 193.2L211.2 194.2L210.1 195.3L209.1 196.3L208.1 197.4L207.1 198.4L206.2 199.5L205.2 200.5L204.2 201.5L203.3 202.6L202.4 203.6L201.5 204.7L200.6 205.7L199.7 206.7L198.8 207.9L198.0 209.0L197.1 210.1L196.2 211.2L195.4 212.4L194.5 213.6L193.7 214.8L192.8 216.0L192.0 217.2L191.2 218.4L190.4 219.6L189.7 220.9L189.0 222.0L188.3 223.2L187.5 224.6L186.8 225.9L186.1 227.2L185.5 228.5L184.9 229.8L184.2 231.1L183.6 232.4L183.0 233.7L182.5 235.0L182.0 236.3L181.5 237.6L181.0 239.0L180.5 240.4L180.0 241.8L179.5 243.2L179.2 244.6L178.8 246.1L178.4 247.5L178.1 248.9L177.8 250.3L177.6 251.8L177.3 253.2L177.2 254.6L177.0 256.0L176.9 257.4L176.8 258.9L176.8 260.3L176.8 261.7L176.8 263.1L176.8 264.5L176.9 266.0L177.1 267.4L177.2 268.8L177.5 270.2L177.8 271.6L178.1 273.1L178.4 274.5L178.8 275.8L179.3 277.1L179.7 278.4L180.2 279.7L180.8 281.0L181.4 282.3L182.0 283.6L182.7 284.9L183.4 286.0L184.2 287.3L185.1 288.5L185.9 289.7L186.8 290.9L187.8 292.0L188.7 293.1L189.7 294.2L190.5 295.0L191.5 295.9L192.6 296.9L193.7 297.8L194.7 298.7L195.8 299.6L196.7 300.4L197.7 301.1L198.9 301.9L200.1 302.7L201.3 303.5L202.5 304.2L203.8 305.0L205.1 305.8L206.3 306.4L207.6 307.1L208.9 307.7L210.1 308.3L211.5 308.9L212.8 309.5L214.2 310.0L215.5 310.6L216.7 311.1L217.9 311.5L219.2 311.9L220.6 312.3L222.0 312.8L223.3 313.2L224.8 313.6L226.2 313.9L227.7 314.2L229.1 314.5L230.6 314.9L232.1 315.1L233.5 315.3L235.0 315.5L236.5 315.7L237.9 315.9L239.4 316.0L240.8 316.0L242.3 316.1L243.3 316.2"/><path d="M67.1 240.1L71.7 248.6"/></g><g clip-path="url(#c1)"><text x="220.3" y="123.8" transform="rotate(-38.1 220.3 119.9)" class="cl">1</text><text x="434.3" y="82.9" transform="rotate(15.6 434.3 79.0)" class="cl">1</text><text x="406.5" y="302.4" transform="rotate(-38.3 406.5 298.5)" class="cl">1</text><text x="368.9" y="270.7" transform="rotate(-38.9 368.9 266.8)" class="cl">3</text></g><path d="M66.90 326.60v-4.3M66.90 19.15v4.3M66.90 326.60h4.3M469.35 326.60h-4.3M157.85 326.60v-4.3M157.85 19.15v4.3M66.90 257.12h4.3M469.35 257.12h-4.3M248.80 326.60v-4.3M248.80 19.15v4.3M66.90 187.64h4.3M469.35 187.64h-4.3M339.75 326.60v-4.3M339.75 19.15v4.3M66.90 118.16h4.3M469.35 118.16h-4.3M430.70 326.60v-4.3M430.70 19.15v4.3M66.90 48.68h4.3M469.35 48.68h-4.3M509.80 326.60h-4.3M509.80 292.78h-4.3M509.80 258.96h-4.3M509.80 225.14h-4.3M509.80 191.32h-4.3M509.80 157.50h-4.3M509.80 123.68h-4.3M509.80 89.86h-4.3M509.80 56.04h-4.3M509.80 22.22h-4.3" stroke="#000" stroke-width="1.10" fill="none"/><rect x="66.90" y="19.15" width="402.45" height="307.45" fill="none" stroke="#000" stroke-width="1.25"/><rect x="494.45" y="19.15" width="15.35" height="307.45" fill="none" stroke="#000" stroke-width="1.25"/><g class="tk"><text x="66.50" y="346.95" text-anchor="middle">0</text><text x="58.70" y="331.25" text-anchor="end">0</text><text x="157.45" y="346.95" text-anchor="middle">80</text><text x="58.70" y="261.77" text-anchor="end">80</text><text x="248.40" y="346.95" text-anchor="middle">160</text><text x="58.70" y="192.29" text-anchor="end">160</text><text x="339.35" y="346.95" text-anchor="middle">240</text><text x="58.70" y="122.81" text-anchor="end">240</text><text x="430.30" y="346.95" text-anchor="middle">320</text><text x="58.70" y="53.33" text-anchor="end">320</text><text x="517.00" y="331.35">0.00</text><text x="517.00" y="297.53">0.55</text><text x="517.00" y="263.71">1.10</text><text x="517.00" y="229.89">1.65</text><text x="517.00" y="196.07">2.20</text><text x="517.00" y="162.25">2.75</text><text x="517.00" y="128.43">3.30</text><text x="517.00" y="94.61">3.85</text><text x="517.00" y="60.79">4.40</text><text x="517.00" y="26.97">4.95</text></g><text class="tt"><tspan x="159.30" y="12.80">|</tspan><tspan x="165.20" y="12.80">ξ</tspan><tspan class="sn" x="173.90" y="15.80">n</tspan><tspan x="182.60" y="12.80">|</tspan><tspan class="sb" x="188.40" y="15.80">X</tspan><tspan x="197.10" y="12.80"> [mm] - Ic = 20.0 kAt</tspan></text><text class="lb" transform="translate(219.70 371.10)"><tspan x="0.00" y="0">Δ</tspan><tspan x="14.40" y="0">Φ</tspan><tspan class="sb" x="31.25" y="3.50">E</tspan><tspan class="sb" x="43.70" y="3.50">-</tspan><tspan class="sb" x="51.90" y="3.50">U</tspan><tspan x="63.60" y="0">[</tspan><tspan class="dg" x="75.50" y="-3.10">°</tspan><tspan x="87.50" y="0">]</tspan></text><text class="lb" transform="translate(15.90 219.30) rotate(-90)"><tspan x="0.00" y="0">Δ</tspan><tspan x="14.40" y="0">Φ</tspan><tspan class="sb" x="31.25" y="3.50">E</tspan><tspan class="sb" x="43.70" y="3.50">-</tspan><tspan class="sb" x="51.90" y="3.50">L</tspan><tspan x="61.00" y="0">[</tspan><tspan class="dg" x="72.90" y="-3.10">°</tspan><tspan x="84.90" y="0">]</tspan></text></svg>
</div>
<div class="panel" style="left:1296.25px">
<div class="heat" style="left:67px;top:19px;width:402px;height:308px"><i style="background:linear-gradient(90deg,#4a1079,#491078,#471078,#471078,#451077,#451077,#451077,#440f76,#440f76,#440f76,#420f75,#420f75,#420f75,#440f76,#440f76,#471078,#491078,#4e117b,#51127c,#56147d,#59157e,#5c167f,#5f187f,#621980,#641a80,#651a80,#651a80,#651a80,#651a80,#641a80,#641a80,#641a80,#621980,#621980,#621980,#641a80,#641a80,#651a80,#671b80,#671b80,#671b80,#671b80,#651a80,#641a80,#601880,#5d177f,#5a167e,#57157e,#54137d,#51127c,#4e117b)"></i><i style="background:linear-gradient(90deg,#491078,#471078,#451077,#440f76,#420f75,#420f75,#400f74,#400f74,#3f0f72,#3f0f72,#3d0f71,#3d0f71,#3d0f71,#3f0f72,#400f74,#440f76,#471078,#4c117a,#51127c,#56147d,#5a167e,#5d177f,#621980,#651a80,#671b80,#681c81,#6a1c81,#6a1c81,#6a1c81,#6a1c81,#681c81,#681c81,#681c81,#681c81,#681c81,#681c81,#6a1c81,#6b1d81,#6b1d81,#6b1d81,#6b1d81,#6a1c81,#681c81,#671b80,#641a80,#601880,#5c167f,#59157e,#54137d,#4f127b,#4c117a)"></i><i style="background:linear-gradient(90deg,#471078,#451077,#420f75,#400f74,#3f0f72,#3d0f71,#3b0f70,#3b0f70,#390f6e,#390f6e,#38106c,#38106c,#38106c,#390f6e,#3d0f71,#400f74,#451077,#4a1079,#51127c,#56147d,#5c167f,#601880,#641a80,#681c81,#6a1c81,#6d1d81,#6d1d81,#6e1e81,#6e1e81,#6e1e81,#6d1d81,#6d1d81,#6d1d81,#6d1d81,#6e1e81,#6e1e81,#701f81,#701f81,#701f81,#701f81,#701f81,#6e1e81,#6d1d81,#6a1c81,#671b80,#621980,#5d177f,#59157e,#54137d,#4f127b,#4c117a)"></i><i style="background:linear-gradient(90deg,#451077,#420f75,#3f0f72,#3d0f71,#3b0f70,#390f6e,#38106c,#36106b,#341069,#331067,#331067,#331067,#341069,#36106b,#390f6e,#3f0f72,#440f76,#4a1079,#51127c,#57157e,#5d177f,#621980,#671b80,#6b1d81,#6e1e81,#701f81,#721f81,#732081,#732081,#732081,#732081,#732081,#732081,#732081,#732081,#752181,#752181,#752181,#762181,#752181,#752181,#721f81,#701f81,#6d1d81,#681c81,#641a80,#5f187f,#5a167e,#54137d,#4f127b,#4a1079)"></i><i style="background:linear-gradient(90deg,#451077,#400f74,#3d0f71,#390f6e,#36106b,#341069,#331067,#311165,#2f1163,#2d1161,#2d1161,#2d1161,#2f1163,#331067,#38106c,#3d0f71,#440f76,#4a1079,#52137c,#59157e,#5f187f,#651a80,#6a1c81,#6e1e81,#721f81,#752181,#762181,#782281,#782281,#782281,#782281,#782281,#792282,#792282,#792282,#792282,#7b2382,#7b2382,#7b2382,#792282,#782281,#762181,#732081,#701f81,#6b1d81,#651a80,#601880,#5a167e,#54137d,#4f127b,#491078)"></i><i style="background:linear-gradient(90deg,#440f76,#3f0f72,#390f6e,#36106b,#331067,#311165,#2d1161,#2c115f,#2a115c,#29115a,#29115a,#2a115c,#2c115f,#2f1163,#36106b,#3d0f71,#440f76,#4c117a,#54137d,#5a167e,#621980,#681c81,#6e1e81,#721f81,#762181,#792282,#7b2382,#7c2382,#7c2382,#7e2482,#7e2482,#7e2482,#7e2482,#7e2482,#802582,#802582,#802582,#802582,#802582,#7e2482,#7c2382,#7b2382,#762181,#732081,#6d1d81,#681c81,#621980,#5c167f,#54137d,#4e117b,#491078)"></i><i style="background:linear-gradient(90deg,#420f75,#3b0f70,#38106c,#331067,#2f1163,#2c115f,#2a115c,#271258,#251255,#251255,#251255,#251255,#29115a,#2d1161,#341069,#3b0f70,#440f76,#4e117b,#56147d,#5d177f,#651a80,#6b1d81,#721f81,#762181,#7b2382,#7e2482,#802582,#812581,#832681,#832681,#832681,#842681,#842681,#842681,#842681,#862781,#862781,#862781,#842681,#832681,#812581,#7e2482,#792282,#752181,#701f81,#6a1c81,#641a80,#5c167f,#56147d,#4e117b,#471078)"></i><i style="background:linear-gradient(90deg,#400f74,#390f6e,#341069,#2f1163,#2c115f,#29115a,#251255,#221150,#21114e,#21114e,#21114e,#221150,#271258,#2c115f,#341069,#3d0f71,#451077,#4f127b,#57157e,#601880,#681c81,#6e1e81,#752181,#7b2382,#7e2482,#832681,#842681,#862781,#882781,#882781,#892881,#892881,#892881,#8b2981,#8b2981,#8b2981,#8b2981,#8b2981,#892881,#882781,#862781,#812581,#7e2482,#782281,#721f81,#6b1d81,#641a80,#5d177f,#56147d,#4e117b,#471078)"></i><i style="background:linear-gradient(90deg,#3f0f72,#38106c,#331067,#2c115f,#29115a,#241253,#21114e,#20114b,#1e1149,#1d1147,#1e1149,#21114e,#251255,#2c115f,#341069,#3d0f71,#471078,#51127c,#5a167e,#641a80,#6b1d81,#732081,#792282,#802582,#832681,#882781,#892881,#8c2981,#8c2981,#8e2a81,#8e2a81,#902a81,#902a81,#902a81,#912b81,#912b81,#912b81,#902a81,#8e2a81,#8c2981,#892881,#862781,#812581,#7b2382,#752181,#6d1d81,#651a80,#5d177f,#56147d,#4e117b,#451077)"></i><i style="background:linear-gradient(90deg,#3f0f72,#36106b,#2f1163,#2a115c,#251255,#21114e,#1e1149,#1c1044,#1a1042,#1a1042,#1c1044,#1e1149,#241253,#2c115f,#341069,#3f0f72,#4a1079,#54137d,#5d177f,#671b80,#701f81,#782281,#7e2482,#842681,#882781,#8c2981,#902a81,#912b81,#932b80,#932b80,#942c80,#942c80,#962c80,#962c80,#962c80,#962c80,#962c80,#942c80,#932b80,#912b81,#8e2a81,#892881,#842681,#7e2482,#762181,#701f81,#671b80,#5f187f,#56147d,#4e117b,#451077)"></i><i style="background:linear-gradient(90deg,#3d0f71,#341069,#2d1161,#271258,#221150,#1e1149,#1a1042,#180f3d,#160f3b,#180f3d,#19103f,#1d1147,#221150,#2c115f,#36106b,#400f74,#4c117a,#57157e,#601880,#6b1d81,#732081,#7b2382,#832681,#892881,#8e2a81,#912b81,#942c80,#962c80,#982d80,#992d80,#9b2e7f,#9b2e7f,#9b2e7f,#9b2e7f,#9c2e7f,#9b2e7f,#9b2e7f,#992d80,#982d80,#962c80,#912b81,#8c2981,#882781,#812581,#792282,#721f81,#681c81,#601880,#57157e,#4e117b,#451077)"></i><i style="background:linear-gradient(90deg,#3b0f70,#331067,#2c115f,#241253,#20114b,#1a1042,#180f3d,#150e38,#140e36,#150e38,#180f3d,#1d1147,#241253,#2d1161,#38106c,#440f76,#4f127b,#5a167e,#651a80,#6e1e81,#782281,#802582,#882781,#8e2a81,#932b80,#962c80,#992d80,#9c2e7f,#9e2f7f,#a02f7f,#a02f7f,#a1307e,#a1307e,#a1307e,#a1307e,#a1307e,#a02f7f,#9e2f7f,#9c2e7f,#992d80,#962c80,#912b81,#8b2981,#832681,#7b2382,#732081,#6a1c81,#601880,#57157e,#4e117b,#440f76)"></i><i style="background:linear-gradient(90deg,#3b0f70,#311165,#29115a,#221150,#1d1147,#180f3d,#140e36,#130d34,#120d31,#130d34,#160f3b,#1d1147,#241253,#2f1163,#3b0f70,#471078,#52137c,#5f187f,#681c81,#732081,#7c2382,#842681,#8c2981,#932b80,#982d80,#9c2e7f,#a02f7f,#a1307e,#a3307e,#a5317e,#a6317d,#a6317d,#a6317d,#a6317d,#a6317d,#a6317d,#a6317d,#a3307e,#a1307e,#9e2f7f,#992d80,#942c80,#8e2a81,#862781,#7e2482,#752181,#6b1d81,#621980,#59157e,#4e117b,#440f76)"></i><i style="background:linear-gradient(90deg,#3b0f70,#311165,#271258,#20114b,#1a1042,#150e38,#120d31,#110c2f,#110c2f,#120d31,#160f3b,#1d1147,#251255,#311165,#3f0f72,#4a1079,#57157e,#621980,#6d1d81,#782281,#812581,#892881,#912b81,#982d80,#9c2e7f,#a1307e,#a5317e,#a8327d,#aa337d,#ab337c,#ab337c,#ad347c,#ad347c,#ad347c,#ad347c,#ab337c,#ab337c,#a8327d,#a6317d,#a1307e,#9c2e7f,#982d80,#912b81,#892881,#802582,#762181,#6d1d81,#641a80,#59157e,#4f127b,#440f76)"></i><i style="background:linear-gradient(90deg,#390f6e,#2f1163,#251255,#1e1149,#180f3d,#130d34,#100b2d,#0e0b2b,#0e0b2b,#120d31,#180f3d,#1e1149,#29115a,#341069,#420f75,#4f127b,#5a167e,#671b80,#721f81,#7c2382,#862781,#8e2a81,#962c80,#9c2e7f,#a3307e,#a6317d,#aa337d,#ad347c,#ae347b,#b0357b,#b2357b,#b2357b,#b2357b,#b2357b,#b2357b,#b2357b,#b0357b,#ad347c,#aa337d,#a6317d,#a1307e,#9b2e7f,#932b80,#8b2981,#832681,#792282,#6e1e81,#641a80,#5a167e,#4f127b,#440f76)"></i><i style="background:linear-gradient(90deg,#390f6e,#2f1163,#241253,#1d1147,#160f3b,#120d31,#0e0b2b,#0c0926,#0e0b2b,#120d31,#180f3d,#21114e,#2c115f,#38106c,#451077,#52137c,#5f187f,#6b1d81,#762181,#812581,#8b2981,#932b80,#9b2e7f,#a1307e,#a8327d,#ad347c,#b0357b,#b3367a,#b5367a,#b73779,#b73779,#b83779,#b83779,#b83779,#b73779,#b73779,#b5367a,#b2357b,#ae347b,#aa337d,#a5317e,#9e2f7f,#962c80,#8e2a81,#842681,#7b2382,#701f81,#651a80,#5a167e,#4f127b,#440f76)"></i><i style="background:linear-gradient(90deg,#390f6e,#2d1161,#241253,#1c1044,#140e36,#100b2d,#0c0926,#0c0926,#0e0b2b,#130d34,#1a1042,#241253,#2f1163,#3d0f71,#4a1079,#57157e,#641a80,#701f81,#7b2382,#862781,#902a81,#992d80,#a1307e,#a8327d,#ad347c,#b2357b,#b5367a,#b83779,#ba3878,#bc3978,#bd3977,#bd3977,#bd3977,#bd3977,#bc3978,#bc3978,#b83779,#b73779,#b2357b,#ae347b,#a8327d,#a1307e,#992d80,#912b81,#882781,#7c2382,#721f81,#671b80,#5c167f,#4f127b,#440f76)"></i><i style="background:linear-gradient(90deg,#390f6e,#2d1161,#221150,#1a1042,#130d34,#0e0b2b,#0b0924,#0b0924,#0e0b2b,#140e36,#1d1147,#271258,#341069,#420f75,#4f127b,#5c167f,#681c81,#752181,#802582,#8b2981,#942c80,#9e2f7f,#a6317d,#ad347c,#b3367a,#b73779,#bc3978,#bd3977,#c03a76,#c23b75,#c23b75,#c23b75,#c23b75,#c23b75,#c23b75,#c03a76,#bd3977,#ba3878,#b73779,#b2357b,#ab337c,#a5317e,#9c2e7f,#932b80,#892881,#7e2482,#732081,#681c81,#5c167f,#51127c,#440f76)"></i><i style="background:linear-gradient(90deg,#390f6e,#2d1161,#221150,#19103f,#130d34,#0d0a29,#0b0924,#0c0926,#100b2d,#160f3b,#20114b,#2a115c,#38106c,#451077,#54137d,#601880,#6d1d81,#792282,#842681,#902a81,#9b2e7f,#a3307e,#ab337c,#b2357b,#b83779,#bd3977,#c03a76,#c43c75,#c53c74,#c73d73,#c83e73,#c83e73,#c83e73,#c73d73,#c73d73,#c53c74,#c23b75,#bf3a77,#ba3878,#b5367a,#ae347b,#a8327d,#9e2f7f,#962c80,#8b2981,#802582,#752181,#6a1c81,#5d177f,#51127c,#451077)"></i><i style="background:linear-gradient(90deg,#390f6e,#2c115f,#21114e,#19103f,#120d31,#0d0a29,#0b0924,#0d0a29,#120d31,#19103f,#221150,#2f1163,#3d0f71,#4a1079,#59157e,#651a80,#721f81,#7e2482,#8b2981,#962c80,#a02f7f,#a8327d,#b0357b,#b83779,#bd3977,#c23b75,#c53c74,#c83e73,#cc3f71,#cc3f71,#cd4071,#cd4071,#cd4071,#cc3f71,#cc3f71,#c83e73,#c73d73,#c23b75,#bf3a77,#b83779,#b2357b,#aa337d,#a1307e,#982d80,#8e2a81,#832681,#762181,#6a1c81,#5f187f,#52137c,#451077)"></i><i style="background:linear-gradient(90deg,#390f6e,#2c115f,#21114e,#180f3d,#120d31,#0d0a29,#0c0926,#0e0b2b,#140e36,#1d1147,#271258,#341069,#420f75,#51127c,#5d177f,#6a1c81,#782281,#832681,#902a81,#9b2e7f,#a5317e,#ae347b,#b73779,#bd3977,#c43c75,#c73d73,#cc3f71,#cf4070,#d0416f,#d2426f,#d2426f,#d2426f,#d2426f,#d0416f,#cf4070,#cd4071,#ca3e72,#c73d73,#c23b75,#bc3978,#b5367a,#ad347c,#a5317e,#9b2e7f,#902a81,#842681,#782281,#6b1d81,#5f187f,#52137c,#451077)"></i><i style="background:linear-gradient(90deg,#390f6e,#2d1161,#21114e,#180f3d,#120d31,#0d0a29,#0d0a29,#110c2f,#180f3d,#20114b,#2c115f,#390f6e,#471078,#56147d,#621980,#701f81,#7c2382,#892881,#942c80,#a02f7f,#aa337d,#b3367a,#bc3978,#c23b75,#c83e73,#cd4071,#d0416f,#d3436e,#d5446d,#d6456c,#d6456c,#d6456c,#d6456c,#d5446d,#d3436e,#d2426f,#cf4070,#ca3e72,#c53c74,#bf3a77,#b83779,#b0357b,#a6317d,#9c2e7f,#912b81,#862781,#792282,#6d1d81,#601880,#54137d,#471078)"></i><i style="background:linear-gradient(90deg,#3b0f70,#2d1161,#21114e,#19103f,#120d31,#0e0b2b,#100b2d,#130d34,#1a1042,#241253,#311165,#3f0f72,#4e117b,#5a167e,#681c81,#752181,#812581,#8e2a81,#9b2e7f,#a5317e,#b0357b,#b83779,#c03a76,#c83e73,#cd4071,#d2426f,#d5446d,#d8456c,#d9466b,#db476a,#dc4869,#dc4869,#db476a,#d9466b,#d8456c,#d5446d,#d2426f,#cd4071,#c83e73,#c23b75,#bc3978,#b2357b,#aa337d,#9e2f7f,#932b80,#882781,#7b2382,#6e1e81,#621980,#54137d,#471078)"></i><i style="background:linear-gradient(90deg,#3b0f70,#2d1161,#221150,#19103f,#130d34,#110c2f,#120d31,#160f3b,#1e1149,#29115a,#36106b,#440f76,#52137c,#601880,#6d1d81,#7b2382,#882781,#942c80,#a02f7f,#ab337c,#b5367a,#bf3a77,#c73d73,#cd4071,#d2426f,#d6456c,#db476a,#de4968,#df4a68,#df4a68,#e04c67,#e04c67,#df4a68,#de4968,#dc4869,#d9466b,#d6456c,#d2426f,#cc3f71,#c53c74,#bd3977,#b5367a,#ab337c,#a1307e,#962c80,#892881,#7c2382,#701f81,#641a80,#56147d,#491078)"></i><i style="background:linear-gradient(90deg,#3d0f71,#2f1163,#221150,#1a1042,#140e36,#120d31,#140e36,#1a1042,#221150,#2d1161,#3b0f70,#4a1079,#57157e,#651a80,#732081,#802582,#8c2981,#992d80,#a5317e,#b0357b,#ba3878,#c43c75,#cc3f71,#d2426f,#d8456c,#dc4869,#df4a68,#e24d66,#e34e65,#e44f64,#e44f64,#e44f64,#e34e65,#e24d66,#df4a68,#dc4869,#d9466b,#d5446d,#cf4070,#c83e73,#c03a76,#b83779,#ad347c,#a3307e,#982d80,#8b2981,#7e2482,#721f81,#641a80,#57157e,#491078)"></i><i style="background:linear-gradient(90deg,#3d0f71,#2f1163,#241253,#1c1044,#160f3b,#140e36,#180f3d,#1d1147,#271258,#341069,#420f75,#4f127b,#5d177f,#6a1c81,#782281,#842681,#932b80,#9e2f7f,#ab337c,#b5367a,#c03a76,#c83e73,#d0416f,#d6456c,#dc4869,#e04c67,#e34e65,#e55064,#e75263,#e85362,#e85362,#e85362,#e75263,#e55064,#e34e65,#e04c67,#dc4869,#d8456c,#d2426f,#cc3f71,#c43c75,#ba3878,#b0357b,#a5317e,#992d80,#8c2981,#802582,#732081,#651a80,#59157e,#4a1079)"></i><i style="background:linear-gradient(90deg,#3f0f72,#311165,#251255,#1d1147,#180f3d,#180f3d,#1a1042,#21114e,#2c115f,#390f6e,#471078,#56147d,#621980,#701f81,#7e2482,#8b2981,#982d80,#a5317e,#b0357b,#bc3978,#c53c74,#cd4071,#d5446d,#dc4869,#e04c67,#e44f64,#e75263,#e95462,#ea5661,#eb5760,#eb5760,#ea5661,#e95462,#e85362,#e55064,#e34e65,#df4a68,#db476a,#d5446d,#cd4071,#c53c74,#bc3978,#b2357b,#a6317d,#9b2e7f,#8e2a81,#812581,#752181,#671b80,#59157e,#4c117a)"></i><i style="background:linear-gradient(90deg,#400f74,#331067,#271258,#1e1149,#1a1042,#1a1042,#1e1149,#251255,#311165,#3f0f72,#4c117a,#5a167e,#681c81,#752181,#832681,#902a81,#9c2e7f,#aa337d,#b5367a,#c03a76,#ca3e72,#d3436e,#db476a,#e04c67,#e44f64,#e85362,#ea5661,#ec5860,#ed5a5f,#ee5b5e,#ee5b5e,#ed5a5f,#ec5860,#eb5760,#e95462,#e55064,#e24d66,#de4968,#d6456c,#d0416f,#c83e73,#bf3a77,#b3367a,#a8327d,#9c2e7f,#902a81,#832681,#762181,#681c81,#5a167e,#4c117a)"></i><i style="background:linear-gradient(90deg,#420f75,#341069,#29115a,#21114e,#1d1147,#1d1147,#221150,#2c115f,#38106c,#440f76,#52137c,#601880,#6d1d81,#7b2382,#882781,#962c80,#a3307e,#ae347b,#bc3978,#c53c74,#cf4070,#d8456c,#df4a68,#e44f64,#e85362,#eb5760,#ee5b5e,#ef5d5e,#f05f5e,#f1605d,#f1605d,#f05f5e,#ef5d5e,#ed5a5f,#eb5760,#e85362,#e44f64,#df4a68,#d9466b,#d2426f,#ca3e72,#c03a76,#b73779,#ab337c,#9e2f7f,#912b81,#842681,#762181,#6a1c81,#5c167f,#4e117b)"></i><i style="background:linear-gradient(90deg,#440f76,#36106b,#2a115c,#221150,#20114b,#21114e,#271258,#311165,#3d0f71,#4a1079,#57157e,#651a80,#732081,#802582,#8e2a81,#9b2e7f,#a8327d,#b5367a,#c03a76,#cc3f71,#d5446d,#dc4869,#e34e65,#e85362,#ec5860,#ee5b5e,#f1605d,#f2625d,#f2645c,#f2645c,#f2645c,#f2645c,#f1605d,#ef5d5e,#ed5a5f,#ea5661,#e75263,#e24d66,#dc4869,#d5446d,#cc3f71,#c23b75,#b83779,#ad347c,#a02f7f,#932b80,#862781,#782281,#6b1d81,#5d177f,#4f127b)"></i><i style="background:linear-gradient(90deg,#451077,#38106c,#2d1161,#251255,#241253,#251255,#2c115f,#36106b,#420f75,#4f127b,#5d177f,#6a1c81,#782281,#862781,#932b80,#a1307e,#ae347b,#ba3878,#c53c74,#d0416f,#d9466b,#e04c67,#e75263,#eb5760,#ef5d5e,#f1605d,#f3655c,#f4675c,#f4695c,#f4695c,#f4695c,#f4675c,#f3655c,#f2625d,#ef5d5e,#ec5860,#e95462,#e44f64,#de4968,#d6456c,#cf4070,#c43c75,#ba3878,#ae347b,#a1307e,#942c80,#882781,#792282,#6b1d81,#5f187f,#51127c)"></i><i style="background:linear-gradient(90deg,#471078,#390f6e,#2f1163,#29115a,#271258,#2a115c,#311165,#3b0f70,#471078,#56147d,#621980,#701f81,#7e2482,#8b2981,#992d80,#a6317d,#b3367a,#bf3a77,#ca3e72,#d5446d,#de4968,#e44f64,#ea5661,#ee5b5e,#f2625d,#f3655c,#f4695c,#f66c5c,#f66e5c,#f66e5c,#f66e5c,#f66c5c,#f4695c,#f3655c,#f1605d,#ee5b5e,#eb5760,#e55064,#e04c67,#d9466b,#d0416f,#c73d73,#bc3978,#b0357b,#a3307e,#962c80,#892881,#7b2382,#6d1d81,#601880,#52137c)"></i><i style="background:linear-gradient(90deg,#491078,#3d0f71,#331067,#2c115f,#2a115c,#2d1161,#36106b,#400f74,#4e117b,#5a167e,#681c81,#752181,#832681,#912b81,#9e2f7f,#ab337c,#b83779,#c53c74,#d0416f,#d9466b,#e24d66,#e85362,#ed5a5f,#f1605d,#f4675c,#f56b5c,#f66e5c,#f7725c,#f7725c,#f8745c,#f7725c,#f7705c,#f66c5c,#f4695c,#f2645c,#f05f5e,#ec5860,#e85362,#e24d66,#db476a,#d2426f,#c83e73,#bd3977,#b2357b,#a5317e,#982d80,#892881,#7c2382,#6e1e81,#601880,#54137d)"></i><i style="background:linear-gradient(90deg,#4a1079,#3f0f72,#36106b,#2f1163,#2f1163,#331067,#3b0f70,#471078,#52137c,#5f187f,#6d1d81,#7b2382,#892881,#962c80,#a5317e,#b2357b,#bf3a77,#ca3e72,#d5446d,#de4968,#e55064,#eb5760,#f05f5e,#f3655c,#f56b5c,#f7705c,#f8745c,#f8765c,#f9785d,#f9785d,#f9785d,#f8745c,#f7725c,#f66c5c,#f4675c,#f2625d,#ee5b5e,#e95462,#e34e65,#dc4869,#d3436e,#ca3e72,#bf3a77,#b2357b,#a6317d,#992d80,#8b2981,#7e2482,#701f81,#621980,#56147d)"></i><i style="background:linear-gradient(90deg,#4c117a,#400f74,#38106c,#341069,#341069,#38106c,#400f74,#4c117a,#57157e,#651a80,#721f81,#802582,#8e2a81,#9c2e7f,#aa337d,#b73779,#c43c75,#cf4070,#d9466b,#e24d66,#e95462,#ee5b5e,#f2645c,#f56b5c,#f7705c,#f8765c,#f9795d,#f97b5d,#fa7d5e,#fa7d5e,#f97b5d,#f9795d,#f8765c,#f7705c,#f56b5c,#f3655c,#ef5d5e,#eb5760,#e55064,#de4968,#d5446d,#cc3f71,#c03a76,#b3367a,#a8327d,#992d80,#8c2981,#7e2482,#721f81,#641a80,#57157e)"></i><i style="background:linear-gradient(90deg,#4e117b,#440f76,#3b0f70,#38106c,#38106c,#3d0f71,#451077,#51127c,#5d177f,#6a1c81,#782281,#862781,#932b80,#a1307e,#ae347b,#bc3978,#c83e73,#d3436e,#de4968,#e55064,#ec5860,#f1605d,#f4695c,#f7705c,#f8765c,#f97b5d,#fa7d5e,#fa815f,#fa815f,#fa815f,#fa7f5e,#fa7d5e,#f9795d,#f8745c,#f66e5c,#f4675c,#f1605d,#ec5860,#e75263,#df4a68,#d6456c,#cd4071,#c23b75,#b5367a,#a8327d,#9b2e7f,#8e2a81,#802582,#732081,#651a80,#59157e)"></i><i style="background:linear-gradient(90deg,#51127c,#471078,#3f0f72,#3b0f70,#3d0f71,#420f75,#4a1079,#56147d,#621980,#6e1e81,#7c2382,#8b2981,#992d80,#a6317d,#b5367a,#c23b75,#cd4071,#d8456c,#e24d66,#e95462,#ef5d5e,#f3655c,#f66e5c,#f8765c,#f97b5d,#fa7f5e,#fb835f,#fb8560,#fb8761,#fb8560,#fb835f,#fa815f,#fa7d5e,#f9785d,#f7725c,#f56b5c,#f2625d,#ed5a5f,#e85362,#e04c67,#d8456c,#cd4071,#c23b75,#b73779,#aa337d,#9c2e7f,#902a81,#812581,#732081,#671b80,#5a167e)"></i><i style="background:linear-gradient(90deg,#52137c,#491078,#420f75,#400f74,#420f75,#471078,#51127c,#5a167e,#671b80,#752181,#812581,#902a81,#9e2f7f,#ab337c,#ba3878,#c73d73,#d2426f,#de4968,#e55064,#ec5860,#f2625d,#f56b5c,#f8745c,#f9795d,#fa7f5e,#fb8560,#fc8961,#fc8a62,#fc8a62,#fc8a62,#fc8961,#fb8560,#fa815f,#f97b5d,#f8745c,#f66c5c,#f3655c,#ef5d5e,#e95462,#e24d66,#d9466b,#cf4070,#c43c75,#b83779,#ab337c,#9e2f7f,#902a81,#832681,#752181,#681c81,#5c167f)"></i><i style="background:linear-gradient(90deg,#54137d,#4c117a,#451077,#440f76,#451077,#4c117a,#56147d,#601880,#6d1d81,#792282,#882781,#942c80,#a3307e,#b2357b,#bf3a77,#cc3f71,#d6456c,#e24d66,#e95462,#ef5d5e,#f4675c,#f7705c,#f9785d,#fa7f5e,#fb8560,#fc8961,#fc8c63,#fc8e64,#fc8e64,#fc8e64,#fc8c63,#fc8961,#fb835f,#fa7d5e,#f9785d,#f7705c,#f4675c,#f05f5e,#ea5661,#e34e65,#db476a,#d0416f,#c53c74,#b83779,#ab337c,#9e2f7f,#912b81,#832681,#762181,#6a1c81,#5d177f)"></i><i style="background:linear-gradient(90deg,#57157e,#4f127b,#491078,#491078,#4a1079,#51127c,#5a167e,#651a80,#721f81,#7e2482,#8c2981,#9b2e7f,#a8327d,#b73779,#c43c75,#d0416f,#db476a,#e55064,#ec5860,#f2625d,#f66c5c,#f8765c,#fa7d5e,#fb8560,#fc8a62,#fc8e64,#fd9266,#fd9266,#fd9266,#fd9266,#fc9065,#fc8c63,#fb8761,#fa815f,#f9795d,#f7725c,#f4695c,#f1605d,#eb5760,#e44f64,#dc4869,#d2426f,#c53c74,#ba3878,#ad347c,#a02f7f,#912b81,#842681,#782281,#6b1d81,#5f187f)"></i><i style="background:linear-gradient(90deg,#59157e,#51127c,#4c117a,#4c117a,#4f127b,#56147d,#5f187f,#6a1c81,#762181,#832681,#912b81,#a02f7f,#ad347c,#bc3978,#c83e73,#d5446d,#df4a68,#e85362,#ef5d5e,#f4675c,#f7705c,#f9795d,#fb835f,#fc8961,#fc8e64,#fd9266,#fd9668,#fd9869,#fd9869,#fd9668,#fd9467,#fc9065,#fc8a62,#fb8560,#fa7d5e,#f8745c,#f56b5c,#f2625d,#ec5860,#e55064,#dc4869,#d2426f,#c73d73,#ba3878,#ad347c,#a02f7f,#932b80,#862781,#792282,#6d1d81,#621980)"></i><i style="background:linear-gradient(90deg,#5a167e,#54137d,#51127c,#4f127b,#54137d,#5a167e,#641a80,#6e1e81,#7b2382,#892881,#962c80,#a5317e,#b3367a,#c03a76,#cd4071,#d9466b,#e34e65,#eb5760,#f2625d,#f66c5c,#f8765c,#fa7f5e,#fb8761,#fc8e64,#fd9467,#fd9869,#fd9a6a,#fd9b6b,#fd9b6b,#fd9a6a,#fd9668,#fd9266,#fc8c63,#fb8761,#fa7f5e,#f8765c,#f66c5c,#f2645c,#ed5a5f,#e75263,#de4968,#d3436e,#c83e73,#bc3978,#ae347b,#a1307e,#942c80,#862781,#792282,#6e1e81,#641a80)"></i><i style="background:linear-gradient(90deg,#5d177f,#57157e,#54137d,#54137d,#57157e,#5f187f,#681c81,#732081,#802582,#8e2a81,#9b2e7f,#aa337d,#b83779,#c53c74,#d2426f,#de4968,#e75263,#ee5b5e,#f4675c,#f7705c,#f97b5d,#fb8560,#fc8c63,#fd9266,#fd9869,#fd9b6b,#fe9d6c,#fe9f6d,#fe9f6d,#fe9d6c,#fd9a6a,#fd9668,#fc9065,#fc8961,#fa815f,#f9795d,#f7705c,#f3655c,#ee5b5e,#e75263,#df4a68,#d5446d,#c83e73,#bc3978,#ae347b,#a1307e,#942c80,#882781,#7b2382,#6e1e81,#651a80)"></i><i style="background:linear-gradient(90deg,#5f187f,#59157e,#57157e,#57157e,#5c167f,#641a80,#6d1d81,#782281,#842681,#932b80,#a02f7f,#ae347b,#bd3977,#ca3e72,#d6456c,#e24d66,#ea5661,#f1605d,#f56b5c,#f8765c,#fa7f5e,#fc8961,#fc9065,#fd9869,#fd9b6b,#fe9f6d,#fea16e,#fea36f,#fea36f,#fea16e,#fe9d6c,#fd9869,#fd9266,#fc8c63,#fb8560,#f97b5d,#f7725c,#f4675c,#ef5d5e,#e85362,#df4a68,#d5446d,#ca3e72,#bd3977,#b0357b,#a3307e,#942c80,#882781,#7c2382,#701f81,#671b80)"></i><i style="background:linear-gradient(90deg,#621980,#5c167f,#5a167e,#5c167f,#601880,#681c81,#721f81,#7c2382,#892881,#982d80,#a5317e,#b3367a,#c23b75,#cf4070,#db476a,#e55064,#ed5a5f,#f3655c,#f7705c,#f97b5d,#fb8560,#fc8e64,#fd9668,#fd9b6b,#fe9f6d,#fea36f,#fea571,#fea772,#fea571,#fea36f,#fea16e,#fd9b6b,#fd9668,#fc8e64,#fb8761,#fa7d5e,#f7725c,#f4695c,#ef5d5e,#e95462,#e04c67,#d6456c,#ca3e72,#bd3977,#b0357b,#a3307e,#962c80,#892881,#7c2382,#721f81,#681c81)"></i><i style="background:linear-gradient(90deg,#641a80,#5f187f,#5d177f,#5f187f,#651a80,#6d1d81,#762181,#812581,#8e2a81,#9c2e7f,#aa337d,#b83779,#c53c74,#d3436e,#df4a68,#e85362,#ef5d5e,#f4695c,#f8765c,#fa7f5e,#fc8961,#fd9266,#fd9a6a,#fe9f6d,#fea571,#fea772,#fea973,#feaa74,#fea973,#fea772,#fea36f,#fe9d6c,#fd9869,#fc9065,#fc8961,#fa7f5e,#f8745c,#f4695c,#f05f5e,#e95462,#e04c67,#d6456c,#ca3e72,#bd3977,#b0357b,#a3307e,#962c80,#892881,#7e2482,#732081,#6a1c81)"></i><i style="background:linear-gradient(90deg,#651a80,#621980,#601880,#641a80,#681c81,#701f81,#7b2382,#862781,#932b80,#a1307e,#ae347b,#bd3977,#ca3e72,#d6456c,#e24d66,#eb5760,#f2625d,#f66e5c,#f9795d,#fb8560,#fc8e64,#fd9668,#fe9d6c,#fea36f,#fea973,#feaa74,#feac76,#feac76,#feac76,#feaa74,#fea772,#fea16e,#fd9a6a,#fd9266,#fc8a62,#fa815f,#f8765c,#f56b5c,#f1605d,#ea5661,#e24d66,#d6456c,#cc3f71,#bf3a77,#b2357b,#a5317e,#982d80,#8b2981,#7e2482,#752181,#6b1d81)"></i><i style="background:linear-gradient(90deg,#681c81,#651a80,#641a80,#671b80,#6d1d81,#752181,#802582,#8b2981,#982d80,#a6317d,#b3367a,#c23b75,#cf4070,#db476a,#e55064,#ee5b5e,#f4675c,#f7725c,#fa7f5e,#fc8961,#fd9266,#fd9b6b,#fea16e,#fea772,#feac76,#feae77,#feb078,#feb078,#feb078,#feac76,#fea973,#fea36f,#fe9d6c,#fd9467,#fc8c63,#fb835f,#f9785d,#f66c5c,#f1605d,#ea5661,#e24d66,#d8456c,#cc3f71,#bf3a77,#b2357b,#a5317e,#982d80,#8b2981,#802582,#762181,#6d1d81)"></i><i style="background:linear-gradient(90deg,#6a1c81,#671b80,#681c81,#6b1d81,#721f81,#792282,#842681,#902a81,#9c2e7f,#aa337d,#b83779,#c53c74,#d3436e,#df4a68,#e95462,#f05f5e,#f56b5c,#f9785d,#fb835f,#fc8e64,#fd9668,#fe9f6d,#fea571,#feaa74,#feb078,#feb27a,#feb47b,#feb47b,#feb27a,#feb078,#feaa74,#fea571,#fe9f6d,#fd9668,#fc8e64,#fb835f,#f9795d,#f66c5c,#f2625d,#eb5760,#e24d66,#d8456c,#cc3f71,#bf3a77,#b2357b,#a5317e,#982d80,#8b2981,#802582,#762181,#6e1e81)"></i><i style="background:linear-gradient(90deg,#6d1d81,#6a1c81,#6b1d81,#6e1e81,#752181,#7e2482,#882781,#942c80,#a1307e,#ae347b,#bd3977,#ca3e72,#d6456c,#e24d66,#eb5760,#f2645c,#f7705c,#f97b5d,#fb8761,#fd9266,#fd9b6b,#fea36f,#feaa74,#feae77,#feb47b,#feb67c,#feb77e,#feb67c,#feb67c,#feb27a,#feac76,#fea772,#fea16e,#fd9869,#fc8e64,#fb8560,#f9795d,#f66e5c,#f2625d,#eb5760,#e34e65,#d8456c,#cc3f71,#bf3a77,#b2357b,#a5317e,#982d80,#8c2981,#812581,#782281,#701f81)"></i><i style="background:linear-gradient(90deg,#6e1e81,#6d1d81,#6e1e81,#721f81,#792282,#812581,#8c2981,#992d80,#a6317d,#b3367a,#c03a76,#cf4070,#db476a,#e55064,#ee5b5e,#f4675c,#f8745c,#fa815f,#fc8c63,#fd9668,#fe9f6d,#fea772,#feae77,#feb27a,#feb67c,#feb97f,#feb97f,#feb97f,#feb77e,#feb47b,#feb078,#fea973,#fea36f,#fd9a6a,#fc9065,#fb8761,#f97b5d,#f66e5c,#f2625d,#eb5760,#e34e65,#d8456c,#cc3f71,#bf3a77,#b2357b,#a5317e,#982d80,#8c2981,#812581,#792282,#721f81)"></i><i style="background:linear-gradient(90deg,#701f81,#701f81,#721f81,#762181,#7c2382,#862781,#912b81,#9c2e7f,#aa337d,#b83779,#c53c74,#d2426f,#df4a68,#e95462,#f05f5e,#f66c5c,#f9785d,#fb8560,#fc9065,#fd9a6a,#fea36f,#feaa74,#feb078,#feb67c,#feb97f,#febb81,#febd82,#febb81,#feb97f,#feb67c,#feb27a,#feaa74,#fea571,#fd9b6b,#fd9266,#fb8761,#f97b5d,#f7705c,#f2645c,#eb5760,#e34e65,#d8456c,#cc3f71,#bf3a77,#b2357b,#a5317e,#982d80,#8c2981,#832681,#792282,#732081)"></i><i style="background:linear-gradient(90deg,#732081,#721f81,#752181,#792282,#812581,#8b2981,#962c80,#a1307e,#ae347b,#bc3978,#ca3e72,#d6456c,#e24d66,#eb5760,#f2645c,#f7705c,#fa7d5e,#fc8961,#fd9467,#fe9d6c,#fea772,#feae77,#feb47b,#feb97f,#febd82,#febf84,#febf84,#febf84,#febb81,#feb77e,#feb47b,#feac76,#fea571,#fe9d6c,#fd9467,#fc8961,#fa7d5e,#f7705c,#f2645c,#ec5860,#e34e65,#d8456c,#cc3f71,#bf3a77,#b2357b,#a5317e,#982d80,#8c2981,#832681,#7b2382,#752181)"></i><i style="background:linear-gradient(90deg,#752181,#752181,#782281,#7c2382,#842681,#8e2a81,#992d80,#a6317d,#b3367a,#c03a76,#cd4071,#d9466b,#e55064,#ed5a5f,#f4675c,#f8745c,#fa815f,#fc8c63,#fd9869,#fea16e,#feaa74,#feb27a,#feb77e,#febd82,#febf84,#fec185,#fec185,#fec185,#febf84,#feb97f,#feb67c,#feae77,#fea772,#fe9d6c,#fd9467,#fc8961,#fa7d5e,#f7705c,#f2645c,#ec5860,#e34e65,#d8456c,#cc3f71,#bf3a77,#b2357b,#a5317e,#982d80,#8e2a81,#842681,#7c2382,#762181)"></i><i style="background:linear-gradient(90deg,#762181,#762181,#7b2382,#802582,#882781,#932b80,#9e2f7f,#aa337d,#b73779,#c43c75,#d2426f,#de4968,#e85362,#f05f5e,#f56b5c,#f9785d,#fb8560,#fc9065,#fd9b6b,#fea571,#feae77,#feb67c,#febb81,#febf84,#fec287,#fec488,#fec488,#fec287,#fec185,#febb81,#feb77e,#feb078,#fea973,#fe9f6d,#fd9668,#fc8a62,#fa7d5e,#f7705c,#f2645c,#ec5860,#e34e65,#d8456c,#cc3f71,#bf3a77,#b2357b,#a5317e,#982d80,#8e2a81,#842681,#7c2382,#782281)"></i><i style="background:linear-gradient(90deg,#782281,#792282,#7c2382,#832681,#8c2981,#962c80,#a1307e,#ae347b,#bc3978,#c83e73,#d5446d,#e04c67,#ea5661,#f2625d,#f66e5c,#fa7d5e,#fc8961,#fd9467,#fe9f6d,#fea973,#feb27a,#feb77e,#febd82,#fec287,#fec488,#fec68a,#fec68a,#fec488,#fec287,#febd82,#feb77e,#feb27a,#fea973,#fe9f6d,#fd9668,#fc8a62,#fa7f5e,#f7725c,#f2645c,#ec5860,#e34e65,#d8456c,#cc3f71,#bd3977,#b0357b,#a5317e,#982d80,#8e2a81,#842681,#7e2482,#792282)"></i><i style="background:linear-gradient(90deg,#7b2382,#7c2382,#802582,#882781,#902a81,#992d80,#a6317d,#b2357b,#bf3a77,#cc3f71,#d8456c,#e44f64,#ed5a5f,#f3655c,#f8745c,#fa815f,#fc8c63,#fd9869,#fea36f,#feac76,#feb47b,#febb81,#fec185,#fec488,#fec88c,#fec88c,#fec88c,#fec68a,#fec488,#febf84,#feb97f,#feb27a,#feaa74,#fea16e,#fd9668,#fc8a62,#fa7f5e,#f7725c,#f2645c,#ec5860,#e34e65,#d8456c,#ca3e72,#bd3977,#b0357b,#a3307e,#982d80,#8e2a81,#862781,#802582,#7b2382)"></i><i style="background:linear-gradient(90deg,#7c2382,#7e2482,#832681,#8b2981,#932b80,#9e2f7f,#aa337d,#b73779,#c43c75,#d0416f,#dc4869,#e75263,#ef5d5e,#f4695c,#f9785d,#fb8560,#fc9065,#fd9b6b,#fea772,#feb078,#feb77e,#febf84,#fec287,#fec68a,#feca8d,#feca8d,#feca8d,#fec88c,#fec488,#fec185,#febb81,#feb47b,#feaa74,#fea16e,#fd9869,#fc8a62,#fa7f5e,#f7725c,#f2645c,#eb5760,#e24d66,#d6456c,#ca3e72,#bd3977,#b0357b,#a3307e,#982d80,#8e2a81,#862781,#802582,#7c2382)"></i><i style="background:linear-gradient(90deg,#7e2482,#812581,#862781,#8e2a81,#962c80,#a1307e,#ad347c,#ba3878,#c73d73,#d3436e,#df4a68,#e95462,#f1605d,#f66c5c,#f97b5d,#fc8961,#fd9467,#fe9f6d,#feaa74,#feb27a,#febb81,#fec185,#fec68a,#feca8d,#fecc8f,#fecc8f,#fecc8f,#feca8d,#fec68a,#fec287,#febb81,#feb47b,#feac76,#fea36f,#fd9869,#fc8c63,#fa7f5e,#f7725c,#f2645c,#eb5760,#e24d66,#d6456c,#ca3e72,#bc3978,#ae347b,#a3307e,#982d80,#8e2a81,#862781,#812581,#7e2482)"></i><i style="background:linear-gradient(90deg,#802582,#832681,#892881,#902a81,#992d80,#a5317e,#b0357b,#bd3977,#ca3e72,#d6456c,#e24d66,#eb5760,#f2645c,#f7725c,#fa7f5e,#fc8c63,#fd9869,#fea36f,#feac76,#feb67c,#febd82,#fec287,#fec88c,#fecc8f,#fecd90,#fecd90,#fecd90,#fecc8f,#fec88c,#fec287,#febd82,#feb67c,#feac76,#fea36f,#fd9869,#fc8c63,#fa7f5e,#f7705c,#f2645c,#eb5760,#e24d66,#d5446d,#c83e73,#bc3978,#ae347b,#a1307e,#982d80,#8e2a81,#862781,#812581,#802582)"></i><i style="background:linear-gradient(90deg,#812581,#862781,#8b2981,#932b80,#9c2e7f,#a8327d,#b5367a,#c03a76,#cd4071,#d9466b,#e44f64,#ed5a5f,#f4675c,#f8765c,#fb835f,#fc8e64,#fd9b6b,#fea772,#feb078,#feb77e,#febf84,#fec68a,#feca8d,#fecd90,#fecf92,#fecf92,#fecf92,#fecc8f,#fec88c,#fec488,#febd82,#feb67c,#feac76,#fea36f,#fd9869,#fc8c63,#fa7f5e,#f7705c,#f2645c,#eb5760,#e04c67,#d5446d,#c83e73,#ba3878,#ad347c,#a1307e,#962c80,#8e2a81,#862781,#832681,#812581)"></i><i style="background:linear-gradient(90deg,#832681,#882781,#8e2a81,#962c80,#a02f7f,#ab337c,#b83779,#c53c74,#d0416f,#de4968,#e75263,#ef5d5e,#f56b5c,#f9785d,#fb8761,#fd9266,#fe9d6c,#fea973,#feb27a,#febb81,#fec287,#fec88c,#fecc8f,#fecf92,#fed194,#fed194,#fed194,#fecd90,#feca8d,#fec488,#febd82,#feb67c,#feac76,#fea36f,#fd9869,#fc8a62,#fa7d5e,#f7705c,#f2625d,#ea5661,#e04c67,#d3436e,#c73d73,#ba3878,#ad347c,#a1307e,#962c80,#8e2a81,#882781,#832681,#812581)"></i><i style="background:linear-gradient(90deg,#842681,#892881,#902a81,#992d80,#a3307e,#ae347b,#bc3978,#c83e73,#d5446d,#e04c67,#ea5661,#f1605d,#f66e5c,#f97b5d,#fc8961,#fd9668,#fea16e,#feac76,#feb67c,#febd82,#fec488,#feca8d,#fecf92,#fed194,#fed395,#fed395,#fed194,#fecf92,#feca8d,#fec488,#febf84,#feb67c,#feac76,#fea36f,#fd9869,#fc8a62,#fa7d5e,#f7705c,#f2625d,#ea5661,#df4a68,#d3436e,#c53c74,#b83779,#ab337c,#a02f7f,#962c80,#8e2a81,#882781,#842681,#832681)"></i><i style="background:linear-gradient(90deg,#862781,#8c2981,#932b80,#9c2e7f,#a6317d,#b2357b,#bf3a77,#cc3f71,#d8456c,#e34e65,#eb5760,#f2645c,#f7725c,#fa7f5e,#fc8c63,#fd9a6a,#fea571,#feae77,#feb77e,#fec185,#fec68a,#fecc8f,#fed194,#fed395,#fed597,#fed597,#fed395,#fecf92,#fecc8f,#fec68a,#febf84,#feb67c,#feac76,#fea36f,#fd9869,#fc8a62,#fa7d5e,#f66e5c,#f1605d,#e95462,#df4a68,#d2426f,#c53c74,#b73779,#ab337c,#a02f7f,#942c80,#8c2981,#882781,#842681,#842681)"></i><i style="background:linear-gradient(90deg,#882781,#8e2a81,#942c80,#9e2f7f,#aa337d,#b5367a,#c23b75,#cf4070,#db476a,#e44f64,#ed5a5f,#f4675c,#f8765c,#fb835f,#fc9065,#fd9b6b,#fea772,#feb27a,#febb81,#fec287,#fec88c,#fecd90,#fed194,#fed597,#fed597,#fed597,#fed395,#fecf92,#fecc8f,#fec68a,#febf84,#feb67c,#feac76,#fea36f,#fd9668,#fc8a62,#f97b5d,#f66e5c,#f1605d,#e85362,#de4968,#d0416f,#c43c75,#b73779,#aa337d,#9e2f7f,#942c80,#8c2981,#882781,#842681,#862781)"></i><i style="background:linear-gradient(90deg,#892881,#902a81,#982d80,#a1307e,#ad347c,#b83779,#c53c74,#d0416f,#dc4869,#e75263,#ef5d5e,#f56b5c,#f9785d,#fb8761,#fd9266,#fe9f6d,#feaa74,#feb47b,#febd82,#fec488,#feca8d,#fecf92,#fed395,#fed597,#fed799,#fed799,#fed597,#fed194,#fecc8f,#fec68a,#febf84,#feb67c,#feac76,#fea16e,#fd9668,#fc8961,#f97b5d,#f66c5c,#f05f5e,#e85362,#dc4869,#cf4070,#c23b75,#b5367a,#a8327d,#9c2e7f,#942c80,#8c2981,#882781,#862781,#862781)"></i><i style="background:linear-gradient(90deg,#8b2981,#912b81,#992d80,#a3307e,#ae347b,#bc3978,#c73d73,#d3436e,#df4a68,#e95462,#f1605d,#f66e5c,#f97b5d,#fc8961,#fd9668,#fea16e,#feac76,#feb67c,#febf84,#fec68a,#fecc8f,#fed194,#fed597,#fed799,#fed799,#fed799,#fed597,#fed194,#fecc8f,#fec68a,#febf84,#feb67c,#feac76,#fea16e,#fd9668,#fc8961,#f9795d,#f56b5c,#ef5d5e,#e75263,#db476a,#cf4070,#c03a76,#b3367a,#a6317d,#9c2e7f,#932b80,#8c2981,#882781,#862781,#882781)"></i><i style="background:linear-gradient(90deg,#8c2981,#932b80,#9c2e7f,#a6317d,#b2357b,#bd3977,#ca3e72,#d6456c,#e24d66,#eb5760,#f2645c,#f7705c,#fa7f5e,#fc8c63,#fd9869,#fea571,#feae77,#feb97f,#fec185,#fec88c,#fecd90,#fed395,#fed799,#fed89a,#fed89a,#fed799,#fed597,#fed194,#fecc8f,#fec68a,#febf84,#feb67c,#feac76,#fea16e,#fd9467,#fb8761,#f9785d,#f56b5c,#ee5b5e,#e55064,#d9466b,#cd4071,#bf3a77,#b2357b,#a6317d,#9b2e7f,#932b80,#8c2981,#882781,#882781,#892881)"></i><i style="background:linear-gradient(90deg,#8e2a81,#942c80,#9e2f7f,#a8327d,#b3367a,#c03a76,#cd4071,#d9466b,#e44f64,#ed5a5f,#f3655c,#f8745c,#fa815f,#fc8e64,#fd9b6b,#fea772,#feb27a,#febb81,#fec287,#feca8d,#fecf92,#fed597,#fed799,#fed89a,#fed89a,#fed89a,#fed597,#fed194,#fecc8f,#fec68a,#febf84,#feb67c,#feaa74,#fe9f6d,#fd9266,#fb8560,#f9785d,#f4695c,#ed5a5f,#e44f64,#d8456c,#cc3f71,#bd3977,#b0357b,#a5317e,#992d80,#912b81,#8b2981,#882781,#882781,#892881)"></i><i style="background:linear-gradient(90deg,#902a81,#962c80,#a02f7f,#ab337c,#b73779,#c23b75,#cf4070,#db476a,#e55064,#ee5b5e,#f4695c,#f9785d,#fb8560,#fd9266,#fe9d6c,#fea973,#feb47b,#febd82,#fec488,#fecc8f,#fed194,#fed597,#fed89a,#fed89a,#fdda9c,#fed89a,#fed597,#fed194,#fecc8f,#fec68a,#febd82,#feb47b,#feaa74,#fe9d6c,#fd9266,#fb835f,#f8765c,#f4675c,#ec5860,#e34e65,#d6456c,#ca3e72,#bc3978,#ae347b,#a3307e,#992d80,#912b81,#8b2981,#882781,#882781,#8b2981)"></i><i style="background:linear-gradient(90deg,#912b81,#982d80,#a1307e,#ad347c,#b83779,#c53c74,#d2426f,#de4968,#e85362,#f05f5e,#f66c5c,#f9795d,#fb8761,#fd9467,#fe9f6d,#feaa74,#feb67c,#febf84,#fec68a,#fecd90,#fed194,#fed799,#fed89a,#fdda9c,#fdda9c,#fed89a,#fed597,#fed194,#fecc8f,#fec488,#febd82,#feb47b,#fea973,#fe9d6c,#fc9065,#fb835f,#f8745c,#f3655c,#eb5760,#e24d66,#d5446d,#c73d73,#ba3878,#ad347c,#a1307e,#982d80,#902a81,#8b2981,#882781,#882781,#8b2981)"></i><i style="background:linear-gradient(90deg,#912b81,#992d80,#a3307e,#ae347b,#bc3978,#c73d73,#d3436e,#df4a68,#e95462,#f1605d,#f66e5c,#f97b5d,#fc8a62,#fd9668,#fea36f,#feac76,#feb77e,#fec185,#fec88c,#fecd90,#fed395,#fed799,#fed89a,#fdda9c,#fdda9c,#fed89a,#fed597,#fed194,#fecc8f,#fec488,#febb81,#feb27a,#fea772,#fd9b6b,#fc8e64,#fa815f,#f7725c,#f2645c,#ea5661,#df4a68,#d3436e,#c53c74,#b83779,#ab337c,#a02f7f,#962c80,#902a81,#8b2981,#882781,#892881,#8c2981)"></i><i style="background:linear-gradient(90deg,#932b80,#9b2e7f,#a5317e,#b0357b,#bd3977,#ca3e72,#d6456c,#e24d66,#eb5760,#f2645c,#f7705c,#fa7f5e,#fc8c63,#fd9a6a,#fea571,#feb078,#feb97f,#fec185,#fec88c,#fecf92,#fed395,#fed799,#fdda9c,#fdda9c,#fdda9c,#fed89a,#fed597,#fed194,#feca8d,#fec287,#febb81,#feb078,#fea772,#fd9a6a,#fc8c63,#fa7f5e,#f7705c,#f1605d,#e95462,#de4968,#d0416f,#c43c75,#b73779,#aa337d,#9e2f7f,#942c80,#8e2a81,#892881,#882781,#892881,#8c2981)"></i><i style="background:linear-gradient(90deg,#942c80,#9c2e7f,#a6317d,#b2357b,#bf3a77,#cc3f71,#d8456c,#e34e65,#ec5860,#f3655c,#f8745c,#fa815f,#fc8e64,#fd9b6b,#fea772,#feb27a,#febb81,#fec287,#feca8d,#fecf92,#fed597,#fed89a,#fdda9c,#fdda9c,#fdda9c,#fed89a,#fed597,#fecf92,#feca8d,#fec287,#feb97f,#feb078,#fea571,#fd9869,#fc8a62,#f97b5d,#f66c5c,#f05f5e,#e75263,#dc4869,#cf4070,#c23b75,#b3367a,#a8327d,#9c2e7f,#942c80,#8c2981,#892881,#882781,#892881,#8e2a81)"></i><i style="background:linear-gradient(90deg,#942c80,#9e2f7f,#a8327d,#b5367a,#c03a76,#cd4071,#d9466b,#e44f64,#ee5b5e,#f4675c,#f8765c,#fb835f,#fc9065,#fe9d6c,#fea973,#feb27a,#febb81,#fec488,#fecc8f,#fed194,#fed597,#fed89a,#fdda9c,#fdda9c,#fdda9c,#fed799,#fed395,#fecf92,#fec88c,#fec185,#feb77e,#feae77,#fea36f,#fd9668,#fc8961,#f9795d,#f56b5c,#ef5d5e,#e55064,#d9466b,#cd4071,#bf3a77,#b2357b,#a6317d,#9b2e7f,#932b80,#8c2981,#892881,#882781,#892881,#8e2a81)"></i><i style="background:linear-gradient(90deg,#962c80,#a02f7f,#aa337d,#b73779,#c23b75,#cf4070,#dc4869,#e75263,#ef5d5e,#f56b5c,#f9785d,#fb8560,#fd9266,#fe9f6d,#feaa74,#feb47b,#febd82,#fec488,#fecc8f,#fed194,#fed597,#fed89a,#fdda9c,#fdda9c,#fed89a,#fed799,#fed395,#fecd90,#fec88c,#febf84,#feb67c,#feac76,#fea16e,#fd9467,#fb8761,#f9785d,#f4695c,#ed5a5f,#e44f64,#d8456c,#ca3e72,#bd3977,#b0357b,#a3307e,#992d80,#912b81,#8b2981,#882781,#882781,#8b2981,#902a81)"></i><i style="background:linear-gradient(90deg,#982d80,#a02f7f,#ab337c,#b83779,#c43c75,#d0416f,#de4968,#e85362,#f05f5e,#f66c5c,#f9795d,#fc8961,#fd9467,#fea16e,#feac76,#feb67c,#febf84,#fec68a,#fecc8f,#fed194,#fed597,#fed89a,#fdda9c,#fdda9c,#fed89a,#fed799,#fed194,#fecd90,#fec68a,#febf84,#feb47b,#feaa74,#fe9d6c,#fd9266,#fb835f,#f8745c,#f3655c,#ec5860,#e24d66,#d5446d,#c83e73,#ba3878,#ad347c,#a1307e,#982d80,#902a81,#8b2981,#882781,#882781,#8b2981,#902a81)"></i><i style="background:linear-gradient(90deg,#982d80,#a1307e,#ad347c,#b83779,#c53c74,#d3436e,#df4a68,#e95462,#f1605d,#f66e5c,#f97b5d,#fc8a62,#fd9668,#fea36f,#feac76,#feb77e,#febf84,#fec68a,#fecd90,#fed194,#fed597,#fed89a,#fdda9c,#fed89a,#fed89a,#fed597,#fed194,#fecc8f,#fec488,#febd82,#feb27a,#fea973,#fd9b6b,#fc8e64,#fa815f,#f7725c,#f2645c,#ea5661,#df4a68,#d3436e,#c53c74,#b83779,#ab337c,#a02f7f,#962c80,#8e2a81,#892881,#882781,#882781,#8b2981,#912b81)"></i><i style="background:linear-gradient(90deg,#992d80,#a3307e,#ae347b,#ba3878,#c73d73,#d5446d,#e04c67,#ea5661,#f2625d,#f7705c,#fa7d5e,#fc8c63,#fd9869,#fea36f,#feae77,#feb77e,#fec185,#fec88c,#fecd90,#fed395,#fed597,#fed89a,#fed89a,#fed89a,#fed799,#fed395,#fecf92,#feca8d,#fec287,#febb81,#feb078,#fea571,#fd9a6a,#fc8c63,#fa7d5e,#f66e5c,#f1605d,#e85362,#de4968,#d0416f,#c23b75,#b5367a,#a8327d,#9e2f7f,#942c80,#8c2981,#882781,#862781,#882781,#8b2981,#912b81)"></i><i style="background:linear-gradient(90deg,#992d80,#a3307e,#ae347b,#bc3978,#c83e73,#d5446d,#e24d66,#eb5760,#f2645c,#f7725c,#fa7f5e,#fc8c63,#fd9a6a,#fea571,#feb078,#feb97f,#fec185,#fec88c,#fecd90,#fed194,#fed597,#fed799,#fed89a,#fed89a,#fed799,#fed395,#fecd90,#fec88c,#fec185,#feb77e,#feae77,#fea36f,#fd9668,#fc8961,#f97b5d,#f66c5c,#ef5d5e,#e55064,#db476a,#cd4071,#c03a76,#b2357b,#a6317d,#9b2e7f,#932b80,#8b2981,#882781,#862781,#882781,#8b2981,#912b81)"></i><i style="background:linear-gradient(90deg,#9b2e7f,#a5317e,#b0357b,#bd3977,#ca3e72,#d6456c,#e34e65,#ec5860,#f3655c,#f8745c,#fa815f,#fc8e64,#fd9b6b,#fea772,#feb078,#feb97f,#fec185,#fec88c,#fecd90,#fed194,#fed597,#fed799,#fed799,#fed799,#fed597,#fed194,#fecc8f,#fec68a,#febf84,#feb67c,#feac76,#fea16e,#fd9467,#fb8761,#f9785d,#f4695c,#ed5a5f,#e44f64,#d8456c,#ca3e72,#bd3977,#b0357b,#a3307e,#992d80,#902a81,#892881,#862781,#842681,#882781,#8b2981,#932b80)"></i><i style="background:linear-gradient(90deg,#9b2e7f,#a5317e,#b2357b,#bf3a77,#cc3f71,#d8456c,#e44f64,#ed5a5f,#f4675c,#f8765c,#fb835f,#fc9065,#fd9b6b,#fea772,#feb27a,#feb97f,#fec287,#fec88c,#fecd90,#fed194,#fed597,#fed799,#fed799,#fed597,#fed395,#fecf92,#feca8d,#fec488,#febd82,#feb47b,#fea973,#fe9d6c,#fc9065,#fb835f,#f8745c,#f3655c,#eb5760,#e24d66,#d5446d,#c73d73,#ba3878,#ad347c,#a1307e,#962c80,#8e2a81,#882781,#842681,#842681,#862781,#8b2981,#932b80)"></i><i style="background:linear-gradient(90deg,#9b2e7f,#a6317d,#b2357b,#bf3a77,#cd4071,#d9466b,#e44f64,#ee5b5e,#f4695c,#f8765c,#fb8560,#fd9266,#fe9d6c,#fea973,#feb27a,#febb81,#fec287,#fec88c,#fecd90,#fed194,#fed395,#fed597,#fed597,#fed597,#fed194,#fecd90,#fec88c,#fec287,#febb81,#feb27a,#fea772,#fd9b6b,#fc8e64,#fa7f5e,#f7705c,#f2625d,#e95462,#df4a68,#d2426f,#c43c75,#b73779,#aa337d,#9e2f7f,#942c80,#8c2981,#882781,#842681,#842681,#862781,#8b2981,#932b80)"></i><i style="background:linear-gradient(90deg,#9c2e7f,#a6317d,#b3367a,#c03a76,#cd4071,#db476a,#e55064,#ee5b5e,#f4695c,#f9785d,#fb8560,#fd9266,#fe9d6c,#fea973,#feb27a,#febb81,#fec287,#fec88c,#fecd90,#fed194,#fed395,#fed597,#fed597,#fed395,#fecf92,#fecc8f,#fec68a,#fec185,#feb77e,#feae77,#fea36f,#fd9869,#fc8a62,#f97b5d,#f66c5c,#f05f5e,#e75263,#dc4869,#cf4070,#c03a76,#b3367a,#a6317d,#9b2e7f,#912b81,#8b2981,#862781,#832681,#832681,#862781,#8b2981,#932b80)"></i><i style="background:linear-gradient(90deg,#9c2e7f,#a8327d,#b5367a,#c23b75,#cf4070,#db476a,#e75263,#ef5d5e,#f56b5c,#f9795d,#fb8761,#fd9467,#fe9f6d,#fea973,#feb27a,#febb81,#fec287,#fec88c,#fecc8f,#fecf92,#fed194,#fed395,#fed395,#fed194,#fecd90,#feca8d,#fec488,#febd82,#feb67c,#feac76,#fea16e,#fd9467,#fb8761,#f9785d,#f4695c,#ee5b5e,#e44f64,#d8456c,#cc3f71,#bd3977,#b0357b,#a3307e,#992d80,#902a81,#882781,#832681,#812581,#832681,#862781,#8b2981,#932b80)"></i><i style="background:linear-gradient(90deg,#9c2e7f,#a8327d,#b5367a,#c23b75,#cf4070,#dc4869,#e75263,#f05f5e,#f66c5c,#f9795d,#fb8761,#fd9467,#fe9f6d,#feaa74,#feb27a,#febb81,#fec185,#fec88c,#fecc8f,#fecf92,#fed194,#fed194,#fed194,#fecf92,#fecc8f,#fec88c,#fec287,#febb81,#feb27a,#fea973,#fe9d6c,#fc9065,#fb835f,#f8745c,#f3655c,#ec5860,#e24d66,#d5446d,#c73d73,#ba3878,#ad347c,#a02f7f,#962c80,#8c2981,#862781,#812581,#802582,#812581,#862781,#8b2981,#942c80)"></i><i style="background:linear-gradient(90deg,#9e2f7f,#aa337d,#b5367a,#c43c75,#d0416f,#dc4869,#e85362,#f05f5e,#f66c5c,#f97b5d,#fc8961,#fd9467,#fe9f6d,#feaa74,#feb27a,#febb81,#fec185,#fec68a,#feca8d,#fecd90,#fecf92,#fecf92,#fecf92,#fecd90,#feca8d,#fec68a,#febf84,#feb77e,#feb078,#fea571,#fd9a6a,#fc8c63,#fa7f5e,#f7705c,#f2625d,#e95462,#df4a68,#d2426f,#c43c75,#b73779,#aa337d,#9c2e7f,#932b80,#8b2981,#842681,#802582,#802582,#812581,#842681,#8b2981,#942c80)"></i><i style="background:linear-gradient(90deg,#9e2f7f,#aa337d,#b73779,#c43c75,#d2426f,#de4968,#e85362,#f1605d,#f66c5c,#f97b5d,#fc8961,#fd9467,#fe9f6d,#feaa74,#feb27a,#feb97f,#fec185,#fec68a,#feca8d,#fecc8f,#fecd90,#fecd90,#fecd90,#fecc8f,#fec88c,#fec287,#febd82,#feb67c,#feac76,#fea16e,#fd9668,#fc8961,#f97b5d,#f66c5c,#f05f5e,#e75263,#db476a,#cf4070,#c03a76,#b3367a,#a6317d,#992d80,#902a81,#882781,#812581,#7e2482,#7e2482,#802582,#842681,#8b2981,#942c80)"></i><i style="background:linear-gradient(90deg,#9e2f7f,#aa337d,#b73779,#c53c74,#d2426f,#de4968,#e95462,#f1605d,#f66e5c,#f97b5d,#fc8961,#fd9668,#fe9f6d,#feaa74,#feb27a,#feb97f,#fec185,#fec488,#fec88c,#fecc8f,#fecc8f,#fecc8f,#fecc8f,#feca8d,#fec68a,#fec185,#feb97f,#feb27a,#fea973,#fe9f6d,#fd9266,#fb8560,#f9785d,#f4695c,#ed5a5f,#e44f64,#d8456c,#ca3e72,#bd3977,#ae347b,#a1307e,#962c80,#8c2981,#862781,#802582,#7c2382,#7c2382,#802582,#842681,#8b2981,#942c80)"></i><i style="background:linear-gradient(90deg,#9e2f7f,#ab337c,#b83779,#c53c74,#d2426f,#df4a68,#e95462,#f1605d,#f66e5c,#f97b5d,#fc8961,#fd9668,#fe9f6d,#fea973,#feb27a,#feb97f,#febf84,#fec488,#fec68a,#feca8d,#feca8d,#feca8d,#feca8d,#fec68a,#fec287,#febd82,#feb77e,#feae77,#fea571,#fd9b6b,#fc8e64,#fa815f,#f8745c,#f3655c,#eb5760,#e04c67,#d5446d,#c73d73,#b83779,#ab337c,#9e2f7f,#932b80,#892881,#832681,#7e2482,#7b2382,#7b2382,#7e2482,#832681,#8b2981,#942c80)"></i><i style="background:linear-gradient(90deg,#9e2f7f,#ab337c,#b83779,#c53c74,#d3436e,#df4a68,#ea5661,#f2625d,#f66e5c,#fa7d5e,#fc8961,#fd9668,#fe9f6d,#fea973,#feb27a,#feb77e,#febd82,#fec287,#fec68a,#fec88c,#fec88c,#fec88c,#fec68a,#fec488,#fec185,#febb81,#feb47b,#feac76,#fea16e,#fd9869,#fc8a62,#fa7d5e,#f66e5c,#f1605d,#e95462,#de4968,#d0416f,#c23b75,#b5367a,#a8327d,#9b2e7f,#902a81,#882781,#802582,#7b2382,#792282,#792282,#7c2382,#832681,#8b2981,#942c80)"></i><i style="background:linear-gradient(90deg,#9e2f7f,#ab337c,#b83779,#c73d73,#d3436e,#df4a68,#ea5661,#f2625d,#f66e5c,#fa7d5e,#fc8961,#fd9668,#fe9f6d,#fea973,#feb078,#feb77e,#febd82,#fec185,#fec488,#fec68a,#fec68a,#fec68a,#fec488,#fec185,#febd82,#feb77e,#feb078,#fea973,#fe9d6c,#fd9266,#fb8761,#f9795d,#f56b5c,#ef5d5e,#e55064,#d9466b,#cd4071,#bf3a77,#b0357b,#a3307e,#982d80,#8c2981,#842681,#7c2382,#792282,#782281,#792282,#7c2382,#832681,#8b2981,#942c80)"></i><i style="background:linear-gradient(90deg,#9e2f7f,#ab337c,#b83779,#c73d73,#d3436e,#e04c67,#ea5661,#f2625d,#f7705c,#fa7d5e,#fc8961,#fd9467,#fe9f6d,#fea973,#feb078,#feb67c,#febb81,#febf84,#fec287,#fec488,#fec488,#fec488,#fec287,#febf84,#feb97f,#feb47b,#feac76,#fea571,#fd9a6a,#fc8e64,#fb835f,#f8745c,#f3655c,#ec5860,#e34e65,#d6456c,#c83e73,#ba3878,#ad347c,#a02f7f,#932b80,#892881,#812581,#7b2382,#762181,#762181,#782281,#7b2382,#812581,#8b2981,#942c80)"></i><i style="background:linear-gradient(90deg,#a02f7f,#ab337c,#ba3878,#c73d73,#d3436e,#e04c67,#ea5661,#f2625d,#f7705c,#fa7d5e,#fc8961,#fd9467,#fe9d6c,#fea772,#feae77,#feb47b,#feb97f,#febd82,#fec185,#fec287,#fec287,#fec185,#febf84,#febb81,#feb77e,#feb078,#fea973,#fea16e,#fd9668,#fc8a62,#fa7d5e,#f7705c,#f2625d,#ea5661,#df4a68,#d2426f,#c43c75,#b73779,#a8327d,#9b2e7f,#902a81,#862781,#7e2482,#782281,#752181,#732081,#762181,#7b2382,#812581,#892881,#942c80)"></i><i style="background:linear-gradient(90deg,#a02f7f,#ab337c,#ba3878,#c73d73,#d5446d,#e04c67,#ea5661,#f2625d,#f66e5c,#f97b5d,#fc8961,#fd9467,#fe9d6c,#fea571,#feac76,#feb47b,#feb77e,#febb81,#febf84,#febf84,#febf84,#febf84,#febb81,#feb77e,#feb47b,#feac76,#fea571,#fd9b6b,#fd9266,#fb8761,#f9795d,#f56b5c,#ef5d5e,#e75263,#db476a,#cd4071,#c03a76,#b2357b,#a5317e,#982d80,#8c2981,#832681,#7b2382,#752181,#721f81,#721f81,#752181,#792282,#802582,#892881,#942c80)"></i><i style="background:linear-gradient(90deg,#a02f7f,#ad347c,#ba3878,#c73d73,#d5446d,#e04c67,#ea5661,#f2625d,#f66e5c,#f97b5d,#fb8761,#fd9266,#fd9b6b,#fea571,#feac76,#feb27a,#feb67c,#feb97f,#febb81,#febd82,#febd82,#febb81,#feb97f,#feb67c,#feb078,#fea973,#fea16e,#fd9869,#fc8e64,#fa815f,#f8745c,#f4675c,#ed5a5f,#e34e65,#d8456c,#ca3e72,#bc3978,#ad347c,#a02f7f,#932b80,#882781,#7e2482,#782281,#732081,#701f81,#701f81,#732081,#782281,#802582,#892881,#942c80)"></i><i style="background:linear-gradient(90deg,#a02f7f,#ad347c,#ba3878,#c73d73,#d5446d,#e04c67,#ea5661,#f2625d,#f66e5c,#f97b5d,#fb8761,#fd9266,#fd9b6b,#fea36f,#feaa74,#feb078,#feb47b,#feb77e,#feb97f,#febb81,#feb97f,#feb97f,#feb67c,#feb27a,#feac76,#fea571,#fe9d6c,#fd9467,#fc8961,#fa7d5e,#f7705c,#f2625d,#ea5661,#df4a68,#d3436e,#c53c74,#b73779,#aa337d,#9b2e7f,#902a81,#842681,#7b2382,#752181,#701f81,#6d1d81,#6e1e81,#721f81,#782281,#802582,#892881,#942c80)"></i><i style="background:linear-gradient(90deg,#9e2f7f,#ad347c,#ba3878,#c73d73,#d5446d,#e04c67,#ea5661,#f2625d,#f66e5c,#f9795d,#fb8761,#fc9065,#fd9a6a,#fea16e,#fea973,#feae77,#feb27a,#feb67c,#feb77e,#feb77e,#feb77e,#feb67c,#feb27a,#feae77,#fea973,#fea16e,#fd9a6a,#fc9065,#fb8560,#f9785d,#f56b5c,#ef5d5e,#e75263,#dc4869,#cf4070,#c03a76,#b2357b,#a5317e,#982d80,#8b2981,#812581,#782281,#721f81,#6d1d81,#6b1d81,#6d1d81,#701f81,#762181,#7e2482,#882781,#932b80)"></i><i style="background:linear-gradient(90deg,#9e2f7f,#ad347c,#ba3878,#c73d73,#d5446d,#e04c67,#ea5661,#f1605d,#f66c5c,#f9795d,#fb8560,#fc8e64,#fd9869,#fe9f6d,#fea772,#feaa74,#feb078,#feb27a,#feb47b,#feb47b,#feb47b,#feb27a,#feae77,#feaa74,#fea571,#fe9d6c,#fd9467,#fc8a62,#fa7f5e,#f7725c,#f3655c,#ed5a5f,#e34e65,#d8456c,#ca3e72,#bc3978,#ae347b,#a02f7f,#932b80,#882781,#7c2382,#752181,#6e1e81,#6a1c81,#681c81,#6a1c81,#6e1e81,#752181,#7e2482,#882781,#932b80)"></i><i style="background:linear-gradient(90deg,#9e2f7f,#ab337c,#ba3878,#c73d73,#d5446d,#e04c67,#ea5661,#f1605d,#f66c5c,#f9785d,#fb835f,#fc8c63,#fd9668,#fe9d6c,#fea36f,#fea973,#feac76,#feb078,#feb27a,#feb27a,#feb078,#feae77,#feaa74,#fea772,#fea16e,#fd9a6a,#fc9065,#fb8761,#f9795d,#f66e5c,#f2625d,#ea5661,#e04c67,#d3436e,#c53c74,#b83779,#aa337d,#9b2e7f,#8e2a81,#832681,#792282,#701f81,#6b1d81,#671b80,#671b80,#681c81,#6d1d81,#732081,#7c2382,#882781,#932b80)"></i><i style="background:linear-gradient(90deg,#9e2f7f,#ab337c,#ba3878,#c73d73,#d5446d,#e04c67,#e95462,#f1605d,#f56b5c,#f9785d,#fa815f,#fc8c63,#fd9467,#fd9b6b,#fea16e,#fea772,#feaa74,#feac76,#feae77,#feae77,#feac76,#feaa74,#fea772,#fea36f,#fd9b6b,#fd9467,#fc8a62,#fa815f,#f8765c,#f4695c,#ef5d5e,#e75263,#dc4869,#cf4070,#c03a76,#b3367a,#a5317e,#982d80,#8b2981,#802582,#752181,#6d1d81,#671b80,#641a80,#641a80,#671b80,#6b1d81,#732081,#7b2382,#862781,#932b80)"></i><i style="background:linear-gradient(90deg,#9e2f7f,#ab337c,#ba3878,#c73d73,#d3436e,#df4a68,#e95462,#f05f5e,#f56b5c,#f8765c,#fa815f,#fc8a62,#fd9266,#fd9a6a,#fe9f6d,#fea36f,#fea772,#feaa74,#feaa74,#feaa74,#feaa74,#fea772,#fea36f,#fe9d6c,#fd9869,#fc9065,#fb8761,#f97b5d,#f7705c,#f2645c,#ec5860,#e34e65,#d8456c,#ca3e72,#bc3978,#ae347b,#a02f7f,#932b80,#862781,#7b2382,#721f81,#6a1c81,#641a80,#621980,#621980,#641a80,#6a1c81,#721f81,#7b2382,#862781,#912b81)"></i><i style="background:linear-gradient(90deg,#9e2f7f,#ab337c,#b83779,#c73d73,#d3436e,#df4a68,#e95462,#f05f5e,#f4695c,#f8745c,#fa7f5e,#fc8961,#fc9065,#fd9869,#fe9d6c,#fea16e,#fea571,#fea772,#fea772,#fea772,#fea772,#fea36f,#fe9f6d,#fd9a6a,#fd9467,#fc8a62,#fa815f,#f9785d,#f56b5c,#f05f5e,#e95462,#df4a68,#d3436e,#c53c74,#b83779,#aa337d,#9b2e7f,#8e2a81,#812581,#762181,#6d1d81,#671b80,#601880,#5f187f,#5f187f,#621980,#681c81,#701f81,#792282,#842681,#912b81)"></i><i style="background:linear-gradient(90deg,#9c2e7f,#ab337c,#b83779,#c73d73,#d3436e,#df4a68,#e85362,#ef5d5e,#f4675c,#f7725c,#fa7d5e,#fb8560,#fc8e64,#fd9467,#fd9a6a,#fe9d6c,#fea16e,#fea36f,#fea571,#fea36f,#fea36f,#fe9f6d,#fd9b6b,#fd9668,#fc8e64,#fb8761,#fa7d5e,#f7725c,#f3655c,#ed5a5f,#e55064,#db476a,#cf4070,#c03a76,#b3367a,#a5317e,#962c80,#892881,#7e2482,#732081,#6a1c81,#621980,#5d177f,#5c167f,#5c167f,#601880,#671b80,#6e1e81,#792282,#842681,#912b81)"></i><i style="background:linear-gradient(90deg,#9c2e7f,#aa337d,#b83779,#c53c74,#d2426f,#de4968,#e75263,#ee5b5e,#f4675c,#f7705c,#f97b5d,#fb835f,#fc8a62,#fd9266,#fd9869,#fd9b6b,#fe9d6c,#fe9f6d,#fea16e,#fe9f6d,#fe9d6c,#fd9b6b,#fd9668,#fc9065,#fc8a62,#fa815f,#f9785d,#f66c5c,#f2625d,#ea5661,#e24d66,#d6456c,#ca3e72,#bc3978,#ae347b,#a02f7f,#932b80,#862781,#792282,#6e1e81,#651a80,#5f187f,#5a167e,#59157e,#5a167e,#5d177f,#651a80,#6d1d81,#782281,#832681,#902a81)"></i><i style="background:linear-gradient(90deg,#9c2e7f,#aa337d,#b83779,#c53c74,#d2426f,#de4968,#e75263,#ee5b5e,#f3655c,#f66e5c,#f9785d,#fa815f,#fc8961,#fc8e64,#fd9467,#fd9869,#fd9b6b,#fd9b6b,#fe9d6c,#fd9b6b,#fd9a6a,#fd9869,#fd9266,#fc8c63,#fb8560,#f97b5d,#f7725c,#f4675c,#ef5d5e,#e75263,#de4968,#d2426f,#c53c74,#b73779,#aa337d,#9b2e7f,#8e2a81,#812581,#752181,#6b1d81,#621980,#5c167f,#57157e,#56147d,#57157e,#5c167f,#641a80,#6b1d81,#762181,#832681,#902a81)"></i><i style="background:linear-gradient(90deg,#9b2e7f,#aa337d,#b73779,#c43c75,#d0416f,#dc4869,#e55064,#ed5a5f,#f2645c,#f66c5c,#f8765c,#fa7f5e,#fb8560,#fc8c63,#fc9065,#fd9467,#fd9869,#fd9869,#fd9a6a,#fd9869,#fd9668,#fd9266,#fc8e64,#fb8761,#fa7f5e,#f9785d,#f66c5c,#f2625d,#ec5860,#e34e65,#d9466b,#cd4071,#c03a76,#b2357b,#a5317e,#962c80,#892881,#7c2382,#721f81,#671b80,#5f187f,#57157e,#54137d,#52137c,#54137d,#5a167e,#601880,#6b1d81,#762181,#812581,#902a81)"></i><i style="background:linear-gradient(90deg,#9b2e7f,#a8327d,#b73779,#c43c75,#d0416f,#db476a,#e44f64,#ec5860,#f2625d,#f56b5c,#f8745c,#f97b5d,#fb835f,#fc8961,#fc8c63,#fc9065,#fd9467,#fd9467,#fd9668,#fd9467,#fd9266,#fc8e64,#fc8961,#fb835f,#f97b5d,#f7725c,#f4675c,#ef5d5e,#e85362,#df4a68,#d5446d,#c83e73,#ba3878,#ad347c,#a02f7f,#912b81,#842681,#782281,#6d1d81,#621980,#5a167e,#54137d,#51127c,#4f127b,#52137c,#57157e,#5f187f,#6a1c81,#752181,#812581,#8e2a81)"></i><i style="background:linear-gradient(90deg,#992d80,#a8327d,#b5367a,#c43c75,#cf4070,#db476a,#e34e65,#eb5760,#f1605d,#f4695c,#f7725c,#f9795d,#fa7f5e,#fb8560,#fc8a62,#fc8c63,#fc9065,#fc9065,#fc9065,#fc9065,#fc8c63,#fc8961,#fb835f,#fa7d5e,#f8765c,#f66c5c,#f2625d,#ec5860,#e44f64,#db476a,#cf4070,#c43c75,#b5367a,#a8327d,#9b2e7f,#8c2981,#802582,#732081,#681c81,#5f187f,#57157e,#51127c,#4e117b,#4c117a,#4f127b,#56147d,#5d177f,#681c81,#732081,#802582,#8e2a81)"></i><i style="background:linear-gradient(90deg,#992d80,#a8327d,#b5367a,#c23b75,#cf4070,#d9466b,#e34e65,#ea5661,#ef5d5e,#f4675c,#f66e5c,#f8765c,#fa7d5e,#fa815f,#fb8761,#fc8961,#fc8c63,#fc8c63,#fc8c63,#fc8a62,#fc8961,#fb8560,#fa7f5e,#f9785d,#f7705c,#f4675c,#ef5d5e,#e95462,#e04c67,#d6456c,#ca3e72,#bd3977,#b0357b,#a3307e,#962c80,#882781,#7b2382,#701f81,#651a80,#5a167e,#52137c,#4c117a,#491078,#491078,#4e117b,#54137d,#5c167f,#671b80,#732081,#802582,#8c2981)"></i><i style="background:linear-gradient(90deg,#982d80,#a6317d,#b3367a,#c03a76,#cd4071,#d8456c,#e24d66,#e95462,#ee5b5e,#f2645c,#f66c5c,#f7725c,#f9795d,#fa7f5e,#fb835f,#fb8560,#fb8761,#fc8961,#fc8961,#fb8761,#fb835f,#fa7f5e,#f9795d,#f7725c,#f56b5c,#f2625d,#ec5860,#e55064,#dc4869,#d2426f,#c53c74,#b83779,#ab337c,#9e2f7f,#902a81,#832681,#762181,#6b1d81,#601880,#57157e,#4f127b,#491078,#451077,#471078,#4a1079,#51127c,#5a167e,#651a80,#721f81,#7e2482,#8c2981)"></i><i style="background:linear-gradient(90deg,#982d80,#a5317e,#b3367a,#c03a76,#cc3f71,#d6456c,#e04c67,#e85362,#ed5a5f,#f2625d,#f4695c,#f7705c,#f8765c,#f97b5d,#fa7f5e,#fa815f,#fb835f,#fb8560,#fb835f,#fa815f,#fa7f5e,#f9795d,#f8745c,#f66e5c,#f3655c,#ef5d5e,#e95462,#e24d66,#d8456c,#cd4071,#c03a76,#b3367a,#a6317d,#992d80,#8b2981,#7e2482,#732081,#671b80,#5c167f,#52137c,#4a1079,#451077,#420f75,#440f76,#471078,#4f127b,#59157e,#641a80,#701f81,#7c2382,#8b2981)"></i><i style="background:linear-gradient(90deg,#962c80,#a5317e,#b2357b,#bf3a77,#ca3e72,#d5446d,#de4968,#e55064,#ec5860,#f05f5e,#f3655c,#f66c5c,#f7725c,#f9785d,#f97b5d,#fa7d5e,#fa7f5e,#fa7f5e,#fa7f5e,#fa7d5e,#f9795d,#f8765c,#f7705c,#f4695c,#f1605d,#ec5860,#e55064,#de4968,#d3436e,#c73d73,#bc3978,#ae347b,#a1307e,#942c80,#862781,#792282,#6e1e81,#621980,#59157e,#4f127b,#471078,#400f74,#3f0f72,#400f74,#451077,#4e117b,#57157e,#621980,#6e1e81,#7c2382,#892881)"></i><i style="background:linear-gradient(90deg,#962c80,#a3307e,#b0357b,#bd3977,#c83e73,#d3436e,#dc4869,#e44f64,#ea5661,#ef5d5e,#f2645c,#f4695c,#f66e5c,#f7725c,#f8765c,#f9795d,#f97b5d,#f97b5d,#f9795d,#f9785d,#f8745c,#f7705c,#f56b5c,#f2645c,#ee5b5e,#e95462,#e24d66,#d8456c,#cd4071,#c23b75,#b5367a,#a8327d,#9b2e7f,#8e2a81,#812581,#752181,#6a1c81,#5f187f,#54137d,#4a1079,#420f75,#3d0f71,#3b0f70,#3d0f71,#420f75,#4a1079,#56147d,#601880,#6e1e81,#7b2382,#892881)"></i><i style="background:linear-gradient(90deg,#942c80,#a1307e,#b0357b,#bc3978,#c73d73,#d2426f,#db476a,#e34e65,#e95462,#ed5a5f,#f1605d,#f3655c,#f56b5c,#f66e5c,#f7725c,#f8745c,#f8765c,#f8765c,#f8765c,#f8745c,#f7705c,#f56b5c,#f3655c,#f05f5e,#eb5760,#e55064,#de4968,#d3436e,#c83e73,#bd3977,#b0357b,#a3307e,#962c80,#892881,#7c2382,#721f81,#651a80,#5a167e,#4f127b,#451077,#3f0f72,#390f6e,#38106c,#390f6e,#400f74,#491078,#54137d,#601880,#6d1d81,#7b2382,#882781)"></i><i style="background:linear-gradient(90deg,#932b80,#a1307e,#ae347b,#ba3878,#c53c74,#d0416f,#d9466b,#e04c67,#e75263,#eb5760,#ef5d5e,#f2625d,#f4675c,#f56b5c,#f66e5c,#f7705c,#f7725c,#f7725c,#f7705c,#f66e5c,#f56b5c,#f3655c,#f1605d,#ed5a5f,#e85362,#e04c67,#d8456c,#cf4070,#c43c75,#b73779,#ab337c,#9e2f7f,#912b81,#842681,#782281,#6d1d81,#601880,#56147d,#4a1079,#420f75,#390f6e,#341069,#341069,#36106b,#3d0f71,#471078,#52137c,#5f187f,#6b1d81,#792282,#882781)"></i><i style="background:linear-gradient(90deg,#932b80,#a02f7f,#ad347c,#b83779,#c43c75,#cf4070,#d6456c,#df4a68,#e44f64,#e95462,#ed5a5f,#f05f5e,#f2645c,#f4675c,#f56b5c,#f66c5c,#f66c5c,#f66c5c,#f56b5c,#f4695c,#f3655c,#f1605d,#ee5b5e,#ea5661,#e44f64,#dc4869,#d3436e,#c83e73,#bd3977,#b2357b,#a6317d,#992d80,#8c2981,#802582,#732081,#681c81,#5c167f,#51127c,#471078,#3d0f71,#36106b,#311165,#311165,#341069,#3b0f70,#451077,#51127c,#5d177f,#6a1c81,#782281,#862781)"></i><i style="background:linear-gradient(90deg,#912b81,#9e2f7f,#ab337c,#b73779,#c23b75,#cc3f71,#d5446d,#dc4869,#e34e65,#e85362,#eb5760,#ee5b5e,#f1605d,#f2645c,#f3655c,#f4675c,#f4695c,#f4675c,#f4675c,#f2645c,#f1605d,#ee5b5e,#eb5760,#e55064,#df4a68,#d8456c,#cf4070,#c43c75,#b83779,#ad347c,#a02f7f,#942c80,#882781,#7b2382,#6e1e81,#641a80,#57157e,#4c117a,#420f75,#38106c,#311165,#2d1161,#2d1161,#311165,#38106c,#440f76,#4f127b,#5c167f,#6a1c81,#762181,#842681)"></i><i style="background:linear-gradient(90deg,#902a81,#9c2e7f,#aa337d,#b5367a,#c03a76,#ca3e72,#d2426f,#d9466b,#e04c67,#e55064,#e95462,#ec5860,#ee5b5e,#f05f5e,#f2625d,#f2645c,#f2645c,#f2645c,#f2625d,#f05f5e,#ee5b5e,#eb5760,#e85362,#e24d66,#db476a,#d3436e,#c83e73,#bf3a77,#b3367a,#a6317d,#9b2e7f,#8e2a81,#832681,#762181,#6a1c81,#5f187f,#54137d,#491078,#3d0f71,#341069,#2d1161,#2a115c,#2a115c,#2d1161,#36106b,#420f75,#4e117b,#5a167e,#681c81,#762181,#832681)"></i><i style="background:linear-gradient(90deg,#8e2a81,#9b2e7f,#a8327d,#b3367a,#bf3a77,#c73d73,#d0416f,#d8456c,#de4968,#e34e65,#e75263,#ea5661,#ec5860,#ee5b5e,#ef5d5e,#f05f5e,#f05f5e,#f05f5e,#ef5d5e,#ed5a5f,#eb5760,#e85362,#e34e65,#de4968,#d6456c,#cd4071,#c43c75,#b83779,#ad347c,#a1307e,#962c80,#892881,#7c2382,#721f81,#651a80,#5a167e,#4f127b,#440f76,#390f6e,#2f1163,#29115a,#251255,#271258,#2c115f,#341069,#400f74,#4c117a,#5a167e,#671b80,#752181,#832681)"></i><i style="background:linear-gradient(90deg,#8c2981,#992d80,#a6317d,#b2357b,#bc3978,#c53c74,#cd4071,#d5446d,#db476a,#e04c67,#e44f64,#e85362,#ea5661,#eb5760,#ed5a5f,#ed5a5f,#ee5b5e,#ed5a5f,#ec5860,#ea5661,#e85362,#e44f64,#df4a68,#d9466b,#d2426f,#c83e73,#bf3a77,#b3367a,#a8327d,#9c2e7f,#902a81,#842681,#782281,#6d1d81,#601880,#56147d,#4a1079,#3f0f72,#341069,#2c115f,#251255,#221150,#241253,#29115a,#331067,#3f0f72,#4c117a,#59157e,#671b80,#732081,#812581)"></i><i style="background:linear-gradient(90deg,#8c2981,#982d80,#a5317e,#ae347b,#ba3878,#c23b75,#cc3f71,#d2426f,#d8456c,#de4968,#e24d66,#e44f64,#e75263,#e95462,#ea5661,#eb5760,#eb5760,#ea5661,#e95462,#e75263,#e44f64,#e04c67,#db476a,#d3436e,#cc3f71,#c43c75,#b83779,#ae347b,#a3307e,#982d80,#8b2981,#802582,#732081,#681c81,#5c167f,#51127c,#451077,#390f6e,#2f1163,#271258,#21114e,#20114b,#21114e,#271258,#311165,#3d0f71,#4a1079,#57157e,#651a80,#732081,#802582)"></i><i style="background:linear-gradient(90deg,#8b2981,#962c80,#a3307e,#ad347c,#b73779,#c03a76,#c83e73,#cf4070,#d5446d,#db476a,#de4968,#e24d66,#e44f64,#e55064,#e75263,#e85362,#e85362,#e75263,#e55064,#e34e65,#e04c67,#dc4869,#d6456c,#cf4070,#c73d73,#bd3977,#b3367a,#a8327d,#9c2e7f,#912b81,#862781,#792282,#6e1e81,#641a80,#57157e,#4c117a,#400f74,#341069,#2a115c,#221150,#1e1149,#1d1147,#20114b,#251255,#2f1163,#3b0f70,#491078,#57157e,#641a80,#721f81,#7e2482)"></i><i style="background:linear-gradient(90deg,#892881,#942c80,#a02f7f,#ab337c,#b5367a,#bd3977,#c53c74,#cc3f71,#d2426f,#d6456c,#db476a,#df4a68,#e04c67,#e34e65,#e44f64,#e44f64,#e44f64,#e44f64,#e24d66,#df4a68,#dc4869,#d6456c,#d0416f,#ca3e72,#c23b75,#b83779,#ae347b,#a3307e,#982d80,#8c2981,#812581,#752181,#6a1c81,#5f187f,#52137c,#471078,#3b0f70,#311165,#271258,#20114b,#1c1044,#1a1042,#1d1147,#241253,#2d1161,#390f6e,#491078,#56147d,#641a80,#701f81,#7c2382)"></i><i style="background:linear-gradient(90deg,#882781,#932b80,#9e2f7f,#a8327d,#b2357b,#ba3878,#c23b75,#c83e73,#cf4070,#d3436e,#d8456c,#db476a,#de4968,#df4a68,#e04c67,#e04c67,#e04c67,#e04c67,#de4968,#db476a,#d6456c,#d2426f,#cc3f71,#c43c75,#bc3978,#b2357b,#a8327d,#9e2f7f,#932b80,#882781,#7b2382,#701f81,#651a80,#5a167e,#4e117b,#420f75,#36106b,#2c115f,#221150,#1c1044,#180f3d,#180f3d,#1c1044,#221150,#2c115f,#390f6e,#471078,#56147d,#621980,#6e1e81,#7c2382)"></i><i style="background:linear-gradient(90deg,#862781,#912b81,#9c2e7f,#a6317d,#b0357b,#b83779,#bf3a77,#c53c74,#cc3f71,#d0416f,#d3436e,#d8456c,#d9466b,#dc4869,#dc4869,#de4968,#dc4869,#db476a,#d9466b,#d6456c,#d2426f,#cd4071,#c73d73,#bf3a77,#b73779,#ad347c,#a3307e,#982d80,#8e2a81,#812581,#762181,#6b1d81,#601880,#56147d,#491078,#3d0f71,#331067,#271258,#1e1149,#19103f,#150e38,#150e38,#19103f,#21114e,#2c115f,#38106c,#471078,#54137d,#601880,#6e1e81,#7b2382)"></i><i style="background:linear-gradient(90deg,#842681,#902a81,#992d80,#a3307e,#ad347c,#b5367a,#bc3978,#c23b75,#c83e73,#cd4071,#d0416f,#d3436e,#d6456c,#d8456c,#d9466b,#d9466b,#d8456c,#d6456c,#d5446d,#d2426f,#cd4071,#c73d73,#c03a76,#ba3878,#b0357b,#a8327d,#9e2f7f,#932b80,#882781,#7c2382,#721f81,#671b80,#5c167f,#51127c,#451077,#390f6e,#2d1161,#221150,#1c1044,#150e38,#130d34,#140e36,#180f3d,#20114b,#2a115c,#38106c,#451077,#54137d,#601880,#6d1d81,#792282)"></i><i style="background:linear-gradient(90deg,#832681,#8c2981,#982d80,#a1307e,#aa337d,#b2357b,#b83779,#bf3a77,#c43c75,#c83e73,#cd4071,#d0416f,#d2426f,#d3436e,#d5446d,#d5446d,#d3436e,#d2426f,#d0416f,#cc3f71,#c83e73,#c23b75,#bc3978,#b3367a,#ab337c,#a1307e,#982d80,#8e2a81,#832681,#782281,#6d1d81,#621980,#57157e,#4c117a,#400f74,#341069,#29115a,#20114b,#180f3d,#130d34,#110c2f,#120d31,#160f3b,#1e1149,#2a115c,#38106c,#451077,#52137c,#5f187f,#6b1d81,#782281)"></i><i style="background:linear-gradient(90deg,#812581,#8b2981,#942c80,#9e2f7f,#a6317d,#ae347b,#b5367a,#bc3978,#c03a76,#c53c74,#c83e73,#cc3f71,#cd4071,#cf4070,#d0416f,#d0416f,#cf4070,#cd4071,#cc3f71,#c73d73,#c23b75,#bd3977,#b73779,#ae347b,#a6317d,#9c2e7f,#932b80,#892881,#7e2482,#732081,#681c81,#5d177f,#52137c,#471078,#3b0f70,#2f1163,#241253,#1c1044,#140e36,#100b2d,#0e0b2b,#110c2f,#160f3b,#1e1149,#2a115c,#36106b,#451077,#52137c,#5f187f,#6b1d81,#762181)"></i><i style="background:linear-gradient(90deg,#7e2482,#892881,#932b80,#9b2e7f,#a5317e,#ab337c,#b2357b,#b83779,#bd3977,#c03a76,#c53c74,#c73d73,#ca3e72,#cc3f71,#cc3f71,#cc3f71,#ca3e72,#c83e73,#c53c74,#c23b75,#bd3977,#b73779,#b0357b,#aa337d,#a02f7f,#982d80,#8e2a81,#832681,#792282,#6e1e81,#641a80,#59157e,#4e117b,#420f75,#36106b,#2a115c,#21114e,#180f3d,#120d31,#0d0a29,#0c0926,#100b2d,#150e38,#1e1149,#2a115c,#36106b,#440f76,#51127c,#5d177f,#6a1c81,#752181)"></i><i style="background:linear-gradient(90deg,#7c2382,#882781,#902a81,#992d80,#a1307e,#a8327d,#ae347b,#b3367a,#b83779,#bd3977,#c03a76,#c43c75,#c53c74,#c73d73,#c73d73,#c73d73,#c53c74,#c43c75,#c03a76,#bd3977,#b83779,#b2357b,#ab337c,#a3307e,#9b2e7f,#932b80,#892881,#7e2482,#752181,#6a1c81,#5f187f,#54137d,#491078,#3f0f72,#331067,#271258,#1d1147,#150e38,#100b2d,#0b0924,#0b0924,#100b2d,#150e38,#1e1149,#2a115c,#36106b,#440f76,#51127c,#5d177f,#681c81,#732081)"></i><i style="background:linear-gradient(90deg,#7b2382,#842681,#8e2a81,#962c80,#9e2f7f,#a5317e,#ab337c,#b0357b,#b5367a,#b83779,#bc3978,#bf3a77,#c03a76,#c23b75,#c23b75,#c23b75,#c03a76,#bf3a77,#bc3978,#b73779,#b2357b,#ad347c,#a6317d,#9e2f7f,#962c80,#8c2981,#832681,#792282,#701f81,#651a80,#5a167e,#51127c,#451077,#390f6e,#2d1161,#221150,#1a1042,#130d34,#0d0a29,#0a0822,#0a0822,#0e0b2b,#150e38,#1e1149,#2a115c,#38106c,#440f76,#51127c,#5c167f,#671b80,#721f81)"></i><i style="background:linear-gradient(90deg,#792282,#832681,#8b2981,#932b80,#9b2e7f,#a1307e,#a6317d,#ad347c,#b0357b,#b5367a,#b83779,#ba3878,#bc3978,#bd3977,#bd3977,#bd3977,#bc3978,#b83779,#b5367a,#b2357b,#ad347c,#a6317d,#a02f7f,#992d80,#912b81,#882781,#7e2482,#752181,#6b1d81,#601880,#57157e,#4c117a,#400f74,#341069,#2a115c,#20114b,#160f3b,#110c2f,#0b0924,#090720,#0a0822,#100b2d,#160f3b,#20114b,#2a115c,#38106c,#440f76,#51127c,#5c167f,#671b80,#701f81)"></i><i style="background:linear-gradient(90deg,#782281,#802582,#892881,#902a81,#982d80,#9e2f7f,#a3307e,#a8327d,#ad347c,#b0357b,#b3367a,#b5367a,#b73779,#b83779,#b83779,#b83779,#b73779,#b3367a,#b0357b,#ad347c,#a8327d,#a1307e,#9b2e7f,#932b80,#8b2981,#832681,#792282,#701f81,#671b80,#5d177f,#52137c,#491078,#3d0f71,#311165,#251255,#1d1147,#140e36,#0e0b2b,#090720,#08071e,#0a0822,#100b2d,#180f3d,#21114e,#2c115f,#38106c,#440f76,#4f127b,#5a167e,#651a80,#6e1e81)"></i><i style="background:linear-gradient(90deg,#762181,#7e2482,#862781,#8e2a81,#942c80,#9b2e7f,#a02f7f,#a5317e,#a8327d,#ad347c,#ae347b,#b2357b,#b2357b,#b3367a,#b3367a,#b2357b,#b0357b,#ae347b,#ab337c,#a6317d,#a1307e,#9c2e7f,#962c80,#8e2a81,#862781,#7e2482,#752181,#6d1d81,#641a80,#59157e,#4f127b,#440f76,#390f6e,#2d1161,#221150,#1a1042,#130d34,#0c0926,#090720,#08071e,#0b0924,#110c2f,#19103f,#221150,#2d1161,#390f6e,#451077,#4f127b,#5a167e,#641a80,#6d1d81)"></i><i style="background:linear-gradient(90deg,#732081,#7c2382,#832681,#8b2981,#912b81,#962c80,#9c2e7f,#a02f7f,#a5317e,#a8327d,#ab337c,#ad347c,#ae347b,#ae347b,#ae347b,#ad347c,#ab337c,#aa337d,#a6317d,#a1307e,#9c2e7f,#962c80,#902a81,#892881,#812581,#792282,#721f81,#681c81,#5f187f,#56147d,#4c117a,#400f74,#36106b,#2a115c,#21114e,#180f3d,#110c2f,#0c0926,#090720,#090720,#0c0926,#130d34,#1a1042,#241253,#2d1161,#390f6e,#451077,#4f127b,#5a167e,#641a80,#6b1d81)"></i><i style="background:linear-gradient(90deg,#721f81,#792282,#812581,#882781,#8e2a81,#932b80,#982d80,#9c2e7f,#a02f7f,#a3307e,#a6317d,#a8327d,#aa337d,#aa337d,#aa337d,#a8327d,#a6317d,#a3307e,#a02f7f,#9c2e7f,#982d80,#912b81,#8b2981,#842681,#7c2382,#752181,#6d1d81,#641a80,#5c167f,#52137c,#471078,#3d0f71,#331067,#271258,#1e1149,#160f3b,#110c2f,#0b0924,#090720,#0a0822,#0e0b2b,#140e36,#1c1044,#251255,#2f1163,#3b0f70,#451077,#4f127b,#59157e,#621980,#6b1d81)"></i><i style="background:linear-gradient(90deg,#701f81,#782281,#7e2482,#842681,#8b2981,#902a81,#942c80,#982d80,#9c2e7f,#9e2f7f,#a1307e,#a3307e,#a5317e,#a5317e,#a3307e,#a3307e,#a1307e,#9e2f7f,#9b2e7f,#962c80,#912b81,#8c2981,#862781,#802582,#782281,#721f81,#681c81,#601880,#57157e,#4f127b,#451077,#390f6e,#2f1163,#251255,#1d1147,#150e38,#100b2d,#0c0926,#0b0924,#0c0926,#110c2f,#160f3b,#1e1149,#271258,#311165,#3b0f70,#451077,#4f127b,#59157e,#601880,#6a1c81)"></i><i style="background:linear-gradient(90deg,#6e1e81,#752181,#7b2382,#812581,#862781,#8c2981,#902a81,#942c80,#982d80,#9b2e7f,#9c2e7f,#9e2f7f,#a02f7f,#a02f7f,#9e2f7f,#9e2f7f,#9b2e7f,#992d80,#962c80,#912b81,#8c2981,#882781,#812581,#7b2382,#752181,#6d1d81,#651a80,#5d177f,#54137d,#4c117a,#420f75,#38106c,#2d1161,#241253,#1c1044,#150e38,#110c2f,#0d0a29,#0c0926,#0e0b2b,#130d34,#19103f,#21114e,#2a115c,#331067,#3d0f71,#471078,#4f127b,#59157e,#601880,#681c81)"></i><i style="background:linear-gradient(90deg,#6b1d81,#732081,#782281,#7e2482,#832681,#882781,#8c2981,#902a81,#932b80,#962c80,#982d80,#992d80,#992d80,#992d80,#992d80,#982d80,#962c80,#932b80,#902a81,#8c2981,#882781,#832681,#7c2382,#762181,#701f81,#6a1c81,#621980,#5a167e,#52137c,#491078,#3f0f72,#36106b,#2c115f,#221150,#1c1044,#150e38,#120d31,#100b2d,#100b2d,#120d31,#160f3b,#1d1147,#241253,#2c115f,#36106b,#3f0f72,#471078,#4f127b,#57157e,#5f187f,#671b80)"></i><i style="background:linear-gradient(90deg,#6a1c81,#701f81,#762181,#7b2382,#802582,#842681,#882781,#8c2981,#902a81,#912b81,#932b80,#942c80,#942c80,#942c80,#942c80,#932b80,#912b81,#8e2a81,#8b2981,#882781,#832681,#7e2482,#782281,#732081,#6d1d81,#651a80,#5f187f,#57157e,#4f127b,#471078,#3d0f71,#341069,#2a115c,#221150,#1c1044,#160f3b,#130d34,#120d31,#120d31,#150e38,#19103f,#20114b,#271258,#2f1163,#38106c,#400f74,#491078,#4f127b,#57157e,#5d177f,#651a80)"></i><i style="background:linear-gradient(90deg,#681c81,#6d1d81,#732081,#782281,#7c2382,#812581,#842681,#882781,#8b2981,#8c2981,#8e2a81,#902a81,#902a81,#902a81,#902a81,#8e2a81,#8b2981,#892881,#862781,#832681,#7e2482,#792282,#752181,#6e1e81,#681c81,#621980,#5c167f,#54137d,#4e117b,#451077,#3b0f70,#331067,#2a115c,#221150,#1d1147,#180f3d,#150e38,#140e36,#150e38,#19103f,#1d1147,#221150,#2a115c,#311165,#390f6e,#420f75,#491078,#51127c,#57157e,#5d177f,#641a80)"></i><i style="background:linear-gradient(90deg,#671b80,#6b1d81,#701f81,#752181,#792282,#7c2382,#802582,#832681,#862781,#882781,#892881,#8b2981,#8b2981,#8b2981,#892881,#882781,#862781,#842681,#812581,#7e2482,#792282,#752181,#701f81,#6b1d81,#651a80,#601880,#59157e,#52137c,#4c117a,#440f76,#3b0f70,#331067,#2a115c,#241253,#1e1149,#1a1042,#180f3d,#180f3d,#19103f,#1d1147,#21114e,#271258,#2d1161,#341069,#3d0f71,#440f76,#4a1079,#51127c,#56147d,#5c167f,#621980)"></i><i style="background:linear-gradient(90deg,#641a80,#681c81,#6d1d81,#721f81,#752181,#792282,#7c2382,#802582,#812581,#832681,#842681,#862781,#862781,#862781,#842681,#832681,#812581,#7e2482,#7c2382,#792282,#752181,#721f81,#6d1d81,#681c81,#641a80,#5d177f,#57157e,#51127c,#4a1079,#420f75,#3b0f70,#331067,#2c115f,#251255,#21114e,#1d1147,#1c1044,#1c1044,#1d1147,#21114e,#251255,#2a115c,#311165,#38106c,#3f0f72,#451077,#4a1079,#51127c,#56147d,#5c167f,#601880)"></i><i style="background:linear-gradient(90deg,#621980,#671b80,#6a1c81,#6e1e81,#721f81,#752181,#782281,#7b2382,#7c2382,#7e2482,#802582,#812581,#812581,#802582,#802582,#7e2482,#7c2382,#792282,#782281,#752181,#721f81,#6d1d81,#6a1c81,#651a80,#601880,#5c167f,#56147d,#4f127b,#491078,#420f75,#3b0f70,#341069,#2d1161,#271258,#221150,#20114b,#20114b,#20114b,#21114e,#251255,#2a115c,#2f1163,#341069,#3b0f70,#400f74,#471078,#4c117a,#51127c,#56147d,#5a167e,#5f187f)"></i><i style="background:linear-gradient(90deg,#601880,#641a80,#681c81,#6b1d81,#6e1e81,#721f81,#752181,#762181,#792282,#7b2382,#7b2382,#7b2382,#7b2382,#7b2382,#7b2382,#792282,#762181,#752181,#732081,#701f81,#6d1d81,#6a1c81,#671b80,#621980,#5d177f,#5a167e,#54137d,#4f127b,#491078,#420f75,#3b0f70,#36106b,#2f1163,#2a115c,#271258,#241253,#241253,#241253,#271258,#2a115c,#2f1163,#341069,#390f6e,#3f0f72,#440f76,#491078,#4e117b,#51127c,#56147d,#59157e,#5d177f)"></i><i style="background:linear-gradient(90deg,#5f187f,#621980,#651a80,#681c81,#6b1d81,#6e1e81,#701f81,#732081,#752181,#762181,#762181,#762181,#762181,#762181,#752181,#732081,#721f81,#701f81,#6e1e81,#6b1d81,#6a1c81,#671b80,#641a80,#601880,#5c167f,#59157e,#54137d,#4f127b,#491078,#440f76,#3d0f71,#38106c,#331067,#2d1161,#2a115c,#29115a,#29115a,#2a115c,#2c115f,#2f1163,#341069,#38106c,#3d0f71,#420f75,#471078,#4a1079,#4e117b,#52137c,#56147d,#59157e,#5c167f)"></i><i style="background:linear-gradient(90deg,#5c167f,#5f187f,#621980,#651a80,#671b80,#6a1c81,#6d1d81,#6e1e81,#701f81,#721f81,#721f81,#721f81,#721f81,#721f81,#701f81,#6e1e81,#6d1d81,#6b1d81,#6a1c81,#681c81,#651a80,#641a80,#601880,#5f187f,#5a167e,#57157e,#54137d,#4f127b,#4a1079,#451077,#3f0f72,#390f6e,#36106b,#311165,#2f1163,#2d1161,#2d1161,#2f1163,#311165,#341069,#390f6e,#3d0f71,#420f75,#451077,#491078,#4c117a,#4f127b,#52137c,#56147d,#57157e,#5a167e)"></i><i style="background:linear-gradient(90deg,#5a167e,#5d177f,#5f187f,#621980,#641a80,#671b80,#681c81,#6a1c81,#6b1d81,#6d1d81,#6d1d81,#6d1d81,#6d1d81,#6b1d81,#6b1d81,#6a1c81,#681c81,#671b80,#651a80,#651a80,#621980,#601880,#5f187f,#5d177f,#5a167e,#57157e,#54137d,#4f127b,#4c117a,#471078,#420f75,#3d0f71,#390f6e,#36106b,#341069,#331067,#341069,#341069,#38106c,#3b0f70,#3f0f72,#420f75,#451077,#491078,#4c117a,#4e117b,#51127c,#52137c,#54137d,#57157e,#59157e)"></i><i style="background:linear-gradient(90deg,#59157e,#5a167e,#5c167f,#5f187f,#601880,#621980,#641a80,#651a80,#671b80,#671b80,#681c81,#681c81,#671b80,#671b80,#671b80,#651a80,#641a80,#641a80,#621980,#601880,#601880,#5f187f,#5d177f,#5c167f,#5a167e,#57157e,#54137d,#51127c,#4e117b,#491078,#451077,#400f74,#3d0f71,#3b0f70,#390f6e,#390f6e,#390f6e,#3b0f70,#3d0f71,#400f74,#440f76,#471078,#491078,#4c117a,#4e117b,#4f127b,#51127c,#52137c,#54137d,#56147d,#57157e)"></i><i style="background:linear-gradient(90deg,#57157e,#59157e,#5a167e,#5c167f,#5d177f,#5f187f,#601880,#601880,#621980,#621980,#641a80,#621980,#621980,#621980,#601880,#601880,#601880,#5f187f,#5f187f,#5f187f,#5d177f,#5d177f,#5c167f,#5c167f,#5a167e,#57157e,#56147d,#52137c,#4f127b,#4c117a,#491078,#451077,#420f75,#400f74,#3f0f72,#3f0f72,#400f74,#400f74,#440f76,#451077,#491078,#4a1079,#4e117b,#4f127b,#51127c,#52137c,#52137c,#54137d,#54137d,#56147d,#56147d)"></i><i style="background:linear-gradient(90deg,#56147d,#56147d,#57157e,#59157e,#59157e,#5a167e,#5c167f,#5d177f,#5d177f,#5d177f,#5d177f,#5d177f,#5d177f,#5d177f,#5c167f,#5c167f,#5c167f,#5c167f,#5c167f,#5c167f,#5c167f,#5c167f,#5c167f,#5c167f,#5a167e,#59157e,#57157e,#54137d,#52137c,#4f127b,#4c117a,#491078,#471078,#451077,#440f76,#451077,#451077,#471078,#491078,#4c117a,#4e117b,#4f127b,#51127c,#52137c,#54137d,#54137d,#54137d,#54137d,#54137d,#54137d,#54137d)"></i><i style="background:linear-gradient(90deg,#52137c,#54137d,#54137d,#54137d,#56147d,#57157e,#57157e,#59157e,#59157e,#59157e,#59157e,#59157e,#59157e,#57157e,#57157e,#57157e,#57157e,#59157e,#59157e,#59157e,#5a167e,#5a167e,#5c167f,#5c167f,#5c167f,#5a167e,#59157e,#57157e,#54137d,#52137c,#4f127b,#4e117b,#4c117a,#4a1079,#4a1079,#4a1079,#4c117a,#4e117b,#4f127b,#51127c,#52137c,#54137d,#56147d,#56147d,#56147d,#56147d,#56147d,#54137d,#54137d,#54137d,#52137c)"></i><i style="background:linear-gradient(90deg,#51127c,#51127c,#51127c,#51127c,#52137c,#52137c,#54137d,#54137d,#54137d,#54137d,#54137d,#54137d,#52137c,#52137c,#52137c,#52137c,#54137d,#56147d,#56147d,#57157e,#59157e,#5a167e,#5c167f,#5c167f,#5c167f,#5c167f,#5c167f,#5a167e,#59157e,#56147d,#54137d,#52137c,#51127c,#51127c,#4f127b,#51127c,#51127c,#52137c,#54137d,#56147d,#57157e,#59157e,#59157e,#59157e,#59157e,#57157e,#57157e,#56147d,#54137d,#52137c,#52137c)"></i></div>
<div class="cb" style="left:494.4px;top:19.1px;width:15.4px;height:307.5px;background:linear-gradient(180deg,#fcfdbf,#fcf6b8,#fceeb0,#fde7a9,#fddea0,#fed799,#fecf92,#fec88c,#febf84,#feb77e,#feb078,#fea973,#fe9f6d,#fd9869,#fc9065,#fc8961,#fa7f5e,#f9785d,#f7705c,#f4675c,#f1605d,#ed5a5f,#e95462,#e34e65,#de4968,#d8456c,#d2426f,#ca3e72,#c43c75,#bd3977,#b73779,#ae347b,#a8327d,#a1307e,#992d80,#932b80,#8c2981,#862781,#7e2482,#782281,#721f81,#6b1d81,#641a80,#5d177f,#57157e,#51127c,#491078,#420f75,#3b0f70,#331067,#2c115f,#251255,#20114b,#19103f,#140e36,#100b2d,#0b0924,#06051a,#030312,#020109,#000004)"></div>
<svg class="ov" width="560" height="514" viewBox="0 0 560 514"><clipPath id="c2"><rect x="66.90" y="19.15" width="402.45" height="307.45"/></clipPath><g clip-path="url(#c2)" fill="none" stroke="#fff" stroke-width="2.20" stroke-linecap="butt" stroke-linejoin="round"><path d="M66.9 306.0L68.2 306.6L69.5 307.2L70.7 307.9L72.0 308.5L73.3 309.1L74.6 309.7L76.0 310.2L77.4 310.6L78.8 311.1L80.1 311.5L81.5 311.9L82.8 312.3L84.2 312.7L85.5 313.0L86.9 313.4L88.3 313.7L89.8 314.0L91.3 314.3L92.7 314.6L94.2 314.9L95.6 315.2L97.1 315.4L98.6 315.7L100.0 315.9L101.3 316.1L102.5 316.3L104.0 316.5L105.4 316.7L106.9 317.0L108.3 317.1L109.8 317.3L111.2 317.5L112.7 317.7L114.2 317.8L115.6 318.0L117.1 318.1L118.5 318.2L120.0 318.4L121.5 318.5L122.9 318.6L124.4 318.7L125.9 318.8L127.3 318.9L128.8 319.0L130.2 319.1L131.7 319.1L133.2 319.2L134.6 319.3L136.1 319.3L137.5 319.3L139.0 319.4L140.5 319.4L141.9 319.4L143.4 319.5L144.9 319.5L146.3 319.5L147.8 319.5L149.2 319.5L150.7 319.5L152.2 319.5L153.6 319.5L155.1 319.5L156.5 319.5L158.0 319.4L159.5 319.4L160.9 319.4L162.4 319.4L163.9 319.3L165.3 319.3L166.8 319.2L168.2 319.2L169.7 319.2L171.2 319.1L172.6 319.1L174.1 319.0L175.6 319.0L177.0 318.9L178.5 318.8L179.9 318.8L181.4 318.7L182.9 318.7L184.3 318.6L185.8 318.5L187.2 318.5L188.7 318.4L190.2 318.3L191.6 318.3L193.1 318.2L194.6 318.1L196.0 318.0L197.5 318.0L198.9 317.9L200.4 317.8L201.9 317.7L203.3 317.6L204.8 317.5L206.2 317.4L207.7 317.3L209.2 317.2L210.6 317.0L212.1 316.9L213.6 316.8L215.0 316.6L216.5 316.5L217.8 316.3L219.0 316.2L220.5 316.0L221.9 315.9L223.3 315.7L224.8 315.6L226.2 315.4L227.7 315.2L229.1 315.0L230.6 314.8L232.1 314.5L233.5 314.2L235.0 313.9L236.5 313.6L237.9 313.3L239.2 312.9L240.6 312.5L242.0 312.1L243.3 311.6L244.6 311.2L245.7 310.8L247.0 310.4L248.4 310.0L249.7 309.6L251.1 309.1L252.4 308.5L253.8 307.9L255.2 307.3L256.5 306.7L257.9 306.0L258.9 305.6L260.2 304.9L261.6 304.3L262.9 303.7L264.3 303.1L265.5 302.4L266.8 301.7L268.0 301.0L269.2 300.4L270.4 299.8L271.5 299.2L272.8 298.5L274.1 297.8L275.3 297.0L276.6 296.3L277.9 295.6L278.8 295.1L280.1 294.3L281.3 293.6L282.6 292.9L283.9 292.2L285.2 291.5L286.3 290.8L287.3 290.1L288.6 289.4L289.9 288.7L291.2 288.0L292.4 287.3L293.7 286.5L295.0 285.7L295.8 285.2"/><path d="M317.2 272.6L318.5 271.8L319.7 271.1L321.0 270.3L322.3 269.5L323.5 268.8L324.8 268.0L326.1 267.3L327.3 266.5L328.5 265.8L329.8 265.1L331.0 264.3L332.1 263.6L333.3 262.9L334.5 262.1L335.7 261.4L336.9 260.7L338.1 259.9L339.3 259.2L340.3 258.6L341.5 257.8L342.8 257.0L344.1 256.3L345.3 255.5L346.6 254.7L347.8 253.9L349.0 253.1L350.2 252.4L351.4 251.6L352.6 250.9L353.8 250.1L354.9 249.4L356.1 248.7L357.3 247.9L358.5 247.1L359.8 246.3L361.0 245.5L362.2 244.7L363.4 244.0L364.6 243.2L365.8 242.4L367.0 241.6L368.3 240.9L369.5 240.1L370.7 239.3L372.0 238.5L373.1 237.8L374.3 237.1L375.6 236.3L376.8 235.5L378.1 234.8L379.4 234.0L380.7 233.2L381.9 232.6L383.2 231.9L384.5 231.1L385.8 230.4L387.1 229.7L388.4 229.1L389.6 228.4L390.9 227.8L392.2 227.2L393.5 226.5L394.8 225.9L396.1 225.3L397.5 224.8L398.9 224.2L400.2 223.6L401.6 223.1L403.0 222.7L404.3 222.2L405.7 221.8L407.1 221.3L408.4 221.0L409.9 220.7L411.4 220.4L412.8 220.1L414.3 219.9L415.8 219.8L417.2 219.8L418.7 219.8L420.1 219.8L421.6 219.8L423.0 220.2L424.3 220.6L425.7 221.0L427.1 221.4L428.4 221.8L429.4 222.4L430.6 223.2L431.8 224.1L432.9 224.9L434.1 225.8L435.2 226.7L436.0 227.6L436.9 228.7L437.7 229.8L438.6 230.9L439.4 232.1L440.3 233.2L441.0 234.4L441.8 235.5L442.5 236.8L443.1 238.0L443.7 239.3L444.3 240.6L445.0 241.9L445.6 243.2L446.1 244.5L446.7 245.8L447.2 247.1L447.8 248.4L448.2 249.7L448.7 250.9L449.2 252.3L449.7 253.6L450.1 255.1L450.6 256.5L451.0 257.9L451.5 259.3L451.9 260.8L452.4 262.2L452.8 263.6L453.2 265.0L453.7 266.4L454.1 267.9L454.5 269.3L455.0 270.7L455.4 272.1L455.8 273.4L456.1 274.5L456.6 275.9L457.0 277.3L457.5 278.8L458.0 280.1L458.4 281.4L458.9 282.7L459.4 284.0L459.9 285.3L460.5 286.6L461.0 288.0L461.6 289.3L462.2 290.5L462.8 291.6L463.5 292.9L464.2 294.1L464.9 295.3L465.8 296.5L466.8 297.6L467.7 298.7L468.6 299.8L469.4 300.7"/><path d="M469.4 103.8L468.7 102.8L468.0 101.7L467.3 100.5L466.6 99.3L465.9 98.1L465.2 96.9L464.5 95.6L463.8 94.3L463.1 93.0L462.5 91.8L462.0 90.5L461.4 89.1L460.8 87.8L460.3 86.5L459.7 85.2L459.2 83.9L458.6 82.6L458.1 81.2L457.6 79.9L457.0 78.6L456.9 78.2"/><path d="M447.9 55.2L447.4 53.9L446.9 52.6L446.3 51.3L445.8 50.0L445.2 48.7L444.6 47.4L444.0 46.1L443.4 44.8L442.7 43.4L442.1 42.1L441.4 40.8L440.7 39.6L439.9 38.4L439.1 37.2L438.3 36.0L437.6 34.8L436.7 33.7L435.8 32.6L434.9 31.6L433.9 30.6L432.9 29.6L431.8 28.7L430.7 27.9L429.5 27.0L428.4 26.2L427.1 25.5L425.9 24.8L424.6 24.2L423.3 23.6L422.0 23.1L420.7 22.6L419.3 22.3L418.0 21.9L416.6 21.5L415.2 21.1L413.8 20.8L412.3 20.6L410.9 20.3L409.4 20.1L408.0 19.9L406.5 19.7L405.0 19.6L403.6 19.5L402.1 19.4L400.7 19.2L399.3 19.2L398.4 19.1"/><path d="M377.9 19.1L376.5 19.2L375.2 19.2L373.9 19.3L372.4 19.3L370.9 19.4L369.5 19.4L368.0 19.5L366.5 19.6L365.1 19.6L363.6 19.7L362.2 19.7L360.7 19.8L359.2 19.9L357.8 19.9L356.3 20.0L354.9 20.0L353.4 20.1L351.9 20.1L350.5 20.2L349.0 20.2L347.5 20.3L346.1 20.3L344.6 20.4L343.2 20.4L341.7 20.4L340.2 20.5L338.8 20.5L337.3 20.5L335.8 20.6L334.4 20.6L332.9 20.6L331.5 20.6L330.0 20.6L328.5 20.6L327.1 20.6L325.6 20.6L324.2 20.6L322.7 20.6L321.2 20.5L319.8 20.5L318.3 20.5L316.8 20.5L315.4 20.4L313.9 20.4L312.5 20.3L311.0 20.3L309.5 20.2L308.1 20.2L306.6 20.1L305.2 20.1L303.7 20.0L302.2 20.0L300.8 19.9L299.3 19.8L297.8 19.8L296.4 19.7L294.9 19.7L293.5 19.6L292.0 19.5L290.5 19.5L289.1 19.4L287.6 19.4L286.2 19.4L284.7 19.3L283.2 19.3L281.8 19.3L280.3 19.2L278.8 19.2L277.4 19.2L275.9 19.2L274.5 19.2L273.0 19.2L271.5 19.3L270.1 19.3L268.6 19.4L267.2 19.5L265.7 19.5L264.2 19.6L262.8 19.8L261.3 19.9L259.8 20.1L258.4 20.2L256.9 20.5L255.5 20.7L254.0 21.0L252.5 21.3L251.1 21.6L249.7 22.0L248.3 22.4L247.0 22.9L245.6 23.3L244.3 23.8L242.9 24.4L241.6 24.9L240.2 25.4L238.8 25.9L237.4 26.4L236.2 27.1L234.9 27.7L233.6 28.4L232.3 29.1L231.0 29.8L229.8 30.4L228.5 31.2L227.2 31.9L225.9 32.6L224.6 33.3L223.4 34.1L222.4 34.8L221.2 35.5L219.9 36.3L218.6 37.0L217.4 37.8L216.2 38.6L215.0 39.4L213.8 40.2L212.6 41.0L211.4 41.7L210.1 42.5L209.0 43.3L207.8 44.1L206.7 44.9L205.4 45.7L204.2 46.5L202.9 47.3L201.7 48.2L200.5 49.0L199.3 49.9L198.1 50.7L196.9 51.4L195.7 52.2L194.5 53.0L193.3 53.8L192.1 54.6L190.9 55.4L189.7 56.1L188.5 56.9L187.3 57.7L186.1 58.5L184.9 59.2L183.7 60.0L182.6 60.7L181.5 61.4L180.3 62.1L179.0 62.9L177.7 63.7L176.5 64.5L175.2 65.3L174.1 66.0L172.8 66.8L171.6 67.5L170.4 68.3L169.2 69.0L168.0 69.8L166.8 70.5L165.7 71.3L164.8 71.8"/><path d="M144.3 84.6L143.1 85.4L141.9 86.2L140.8 86.9L139.5 87.7L138.3 88.4L137.1 89.2L135.9 89.9L134.7 90.7L133.6 91.4L132.4 92.1L131.2 92.9L129.9 93.6L128.7 94.4L127.5 95.1L126.3 95.9L125.1 96.6L123.8 97.3L122.7 98.0L121.5 98.7L120.2 99.5L119.0 100.2L117.7 100.9L116.4 101.6L115.2 102.3L114.2 102.8L112.9 103.5L111.7 104.1L110.4 104.7L109.1 105.4L107.8 106.0L106.5 106.6L105.2 107.2L103.9 107.7L102.7 108.3L101.4 108.9L100.1 109.4L98.7 109.9L97.4 110.4L96.0 110.9L94.6 111.4L93.3 111.8L92.0 112.1L90.6 112.5L89.3 112.8L88.1 113.2L86.9 113.4L85.4 113.6L84.0 113.8L82.5 113.9L81.0 114.1L79.6 114.1L78.1 113.9L76.6 113.8L75.2 113.7L73.7 113.5L72.6 113.1L71.3 112.5L70.0 111.9L68.7 111.3L67.3 110.7L66.9 110.5"/><path d="M177.4 269.3L178.9 269.4L180.4 269.4L181.9 269.5L183.3 269.6L184.8 269.6L186.3 269.6L187.7 269.6L189.2 269.6L190.7 269.6L192.1 269.5L193.6 269.5L195.0 269.5L196.5 269.4L197.9 269.3L199.4 269.2L200.9 269.1L202.3 269.0L203.8 268.9L205.3 268.7L206.7 268.6L208.2 268.4L209.7 268.3L211.1 268.1L212.6 267.9L214.0 267.6L215.5 267.4L217.0 267.2L218.4 266.9L219.9 266.7L221.4 266.4L222.8 266.1L224.3 265.8L225.7 265.5L227.2 265.2L228.7 264.8L230.1 264.5L231.4 264.2L232.8 263.8L234.2 263.5L235.6 263.1L237.0 262.7L238.3 262.3L239.7 261.9L241.1 261.5L242.4 261.1L243.8 260.7L245.1 260.2L246.5 259.8L247.8 259.3L249.1 258.9L250.3 258.5L251.5 258.0L252.9 257.5L254.3 257.0L255.6 256.5L257.0 256.0L258.3 255.5L259.6 254.9L261.0 254.4L262.3 253.8L263.5 253.3L264.7 252.8L266.1 252.2L267.4 251.6L268.8 251.0L270.2 250.4L271.5 249.8L272.8 249.2L274.0 248.6L275.3 248.0L276.6 247.4L277.9 246.8L279.2 246.1L280.5 245.4L281.8 244.8L283.1 244.1L284.4 243.4L285.6 242.8L286.9 242.2L288.2 241.5L289.4 240.8L290.7 240.1L291.1 239.9"/><path d="M312.1 227.3L313.3 226.5L314.5 225.7L315.7 224.9L316.9 224.1L318.1 223.3L319.3 222.5L320.2 221.8L321.4 221.0L322.6 220.1L323.7 219.3L324.9 218.5L326.1 217.6L327.1 216.9L328.3 216.0L329.4 215.1L330.6 214.3L331.8 213.4L332.9 212.5L334.0 211.7L335.2 210.7L336.3 209.8L337.5 208.9L338.6 208.0L339.7 207.1L340.5 206.4L341.6 205.5L342.7 204.6L343.8 203.7L344.9 202.8L346.0 201.8L346.9 201.1L348.0 200.1L349.1 199.2L350.2 198.2L351.2 197.3L352.3 196.3L353.4 195.3L354.4 194.3L355.5 193.4L356.5 192.4L357.6 191.4L358.6 190.5L359.6 189.5L360.5 188.5L361.5 187.5L362.5 186.5L363.5 185.6L364.4 184.5L365.4 183.4L366.4 182.4L367.3 181.4L368.3 180.3L369.2 179.2L370.2 178.1L371.1 177.0L372.1 175.9L373.0 174.7L373.9 173.5L374.7 172.5L375.5 171.4L376.4 170.3L377.2 169.1L378.0 167.9L378.8 166.7L379.6 165.5L380.3 164.4L380.9 163.3L381.7 162.0L382.5 160.7L383.2 159.4L383.8 158.1L384.5 156.8L385.1 155.5L385.8 154.2L386.3 152.8L386.9 151.4L387.5 150.0L387.9 149.0L388.4 147.7L388.8 146.4L389.3 145.1L389.7 143.7L390.0 142.3L390.4 140.9L390.8 139.5L391.1 138.1L391.3 136.6L391.6 135.2L391.9 133.8L392.0 132.4L392.2 130.9L392.3 129.5L392.4 128.1L392.5 126.7L392.5 125.3L392.5 123.8L392.5 122.4L392.4 121.0L392.3 119.6L392.3 118.2L392.1 116.7L391.9 115.3L391.7 113.9L391.4 112.5L391.1 111.1L390.8 109.6L390.5 108.2L390.1 106.8L389.6 105.4L389.1 103.9L388.7 102.5L388.2 101.3L387.7 100.1L387.1 98.9L386.6 97.7L385.9 96.4L385.2 95.1L384.5 93.8L383.7 92.5L382.9 91.3L382.1 90.1L381.2 88.9L380.4 87.8L379.7 86.9L378.7 85.9L377.7 84.8L376.7 83.8L375.7 82.7L374.7 81.7L373.9 80.9L372.7 80.1L371.6 79.3L370.4 78.4L369.3 77.6L368.1 76.8L367.0 76.0L365.8 75.4L364.5 74.8L363.2 74.1L361.9 73.5L360.6 72.8L359.4 72.3L358.1 71.8L356.8 71.3L355.5 70.8L354.2 70.4L352.9 70.0L351.6 69.6L350.2 69.3L348.8 68.9L347.5 68.5L346.1 68.2L344.6 67.9L343.2 67.7L341.7 67.4L340.2 67.1L338.8 66.9L337.3 66.7L335.8 66.5L334.4 66.3L332.9 66.1L331.5 66.0L330.0 65.8L328.6 65.7L327.1 65.6L325.6 65.5L324.2 65.4L322.7 65.3L321.2 65.2L319.8 65.1L318.3 65.1L316.8 65.1L315.4 65.0L313.9 65.0L312.5 65.0L311.0 65.0L309.5 65.0L308.1 65.0L306.6 65.0L305.2 65.0L303.7 65.1L302.2 65.1L300.8 65.2L299.3 65.2L297.8 65.3L296.4 65.4L294.9 65.5L293.5 65.6L292.0 65.6L290.6 65.8L289.1 65.9L287.7 66.0L286.2 66.2L284.7 66.3L283.2 66.5L281.8 66.7L280.3 66.9L278.8 67.1L277.4 67.3L275.9 67.5L274.5 67.7L273.0 68.0L271.5 68.2L270.1 68.5L268.6 68.8L267.2 69.1L265.7 69.4L264.2 69.7L262.8 70.1L261.3 70.4L259.9 70.8L258.4 71.1L257.4 71.4L256.1 71.8L254.7 72.2L253.3 72.6L252.0 73.0L250.6 73.4L249.3 73.8L247.9 74.3L246.5 74.7L245.2 75.2L243.8 75.6L242.5 76.1L241.2 76.6L239.8 77.2L238.4 77.7L237.0 78.2L235.6 78.8L234.2 79.4L232.9 79.9L231.5 80.5L230.2 81.1L228.8 81.7L227.6 82.2L226.3 82.8L225.0 83.4L223.8 84.0L222.5 84.6L221.2 85.2L219.9 85.8L218.6 86.5L217.4 87.1L216.1 87.7L214.8 88.4L213.6 89.1L212.3 89.7L211.0 90.4L209.8 91.0L208.6 91.7L207.4 92.3L206.2 93.0L205.0 93.7L203.7 94.4L202.5 95.1L201.2 95.8L200.0 96.6L198.7 97.3L197.6 98.0L196.5 98.6L195.2 99.4L194.0 100.2L192.7 101.0L191.5 101.7L190.2 102.5L189.3 103.1L188.1 103.9L186.9 104.7L185.7 105.5L184.5 106.3L183.3 107.1L182.3 107.7L181.1 108.6L180.0 109.4L178.8 110.2L177.6 111.0L176.4 111.9L175.3 112.7L174.2 113.5L173.0 114.4L171.9 115.2L170.7 116.1L169.6 116.9L168.6 117.7L167.6 118.5L166.5 119.3L165.4 120.2L164.2 121.1L163.1 121.9L162.0 122.8L160.9 123.7L159.8 124.6L158.6 125.6L157.5 126.5L156.3 127.5L155.3 128.3L154.3 129.2L153.1 130.2L152.0 131.2L150.9 132.2L149.7 133.1L148.8 134.0L147.7 134.9L146.7 135.9L145.6 136.8L144.6 137.7L143.5 138.7L142.6 139.6L141.6 140.5L140.5 141.5L139.5 142.5L138.4 143.5L137.4 144.5L136.4 145.5L135.4 146.5L134.5 147.5L133.5 148.5L132.6 149.4L131.6 150.5L130.6 151.6L129.6 152.7L128.6 153.8L127.9 154.6L127.0 155.8L126.1 156.9L125.2 158.0L124.3 159.1L123.4 160.2L122.6 161.4L121.7 162.5L120.9 163.6L120.2 164.7L119.4 165.9L118.6 167.1L117.9 168.3L117.1 169.5L116.4 170.7L115.8 171.9L115.1 173.2L114.5 174.4L113.9 175.5L113.3 176.8L112.7 178.1L112.1 179.4L111.5 180.7L111.0 182.0L110.5 183.3L110.1 184.6L109.6 185.9L109.2 187.3L108.7 188.7L108.3 190.2L108.0 191.4L107.7 192.6L107.4 194.0L107.1 195.4L106.8 196.8L106.5 198.2L106.3 199.6L106.1 201.1L105.9 202.5L105.7 203.9L105.6 205.3L105.5 206.7L105.4 208.2L105.4 209.6L105.3 211.0L105.3 212.4L105.4 213.9L105.4 215.3L105.5 216.7L105.6 218.1L105.8 219.5L105.9 221.0L106.1 222.4L106.4 223.8L106.7 225.2L107.0 226.6L107.3 228.0L107.7 229.4L108.1 230.7L108.5 232.0L109.0 233.2L109.5 234.5L110.1 235.8L110.7 237.1L111.3 238.4L112.1 239.6L112.8 240.8L113.5 242.0L114.3 243.2L115.0 244.1L115.9 245.2L116.8 246.3L117.7 247.3L118.7 248.4L119.7 249.4L120.8 250.4L121.8 251.3L122.9 252.2L124.0 253.1L125.1 253.9L126.3 254.7L127.5 255.5L128.7 256.2L130.0 257.0L131.3 257.7L132.6 258.4L133.8 259.1L135.1 259.7L136.5 260.2L137.8 260.8L139.2 261.3L140.6 261.9L141.9 262.5L143.3 262.9L144.6 263.3L146.0 263.8L147.3 264.2L148.8 264.6L150.1 265.0L151.5 265.3L152.8 265.7L154.2 266.0L155.6 266.3L157.0 266.6L158.5 266.9L160.0 267.2L161.4 267.4L162.9 267.7L164.3 267.9L165.8 268.1L167.3 268.3L168.7 268.5L170.2 268.7L171.7 268.8L173.1 268.9L174.6 269.1L176.0 269.2L177.4 269.3"/></g><g clip-path="url(#c2)"><text x="156.3" y="81.0" transform="rotate(-32.2 156.3 77.1)" class="cl">1</text><text x="453.2" y="72.6" transform="rotate(69.2 453.2 68.7)" class="cl">1</text><text x="308.2" y="281.8" transform="rotate(-30.6 308.2 277.9)" class="cl">1</text><text x="303.4" y="236.7" transform="rotate(-31.4 303.4 232.8)" class="cl">3</text></g><path d="M66.90 326.60v-4.3M66.90 19.15v4.3M66.90 326.60h4.3M469.35 326.60h-4.3M157.85 326.60v-4.3M157.85 19.15v4.3M66.90 257.12h4.3M469.35 257.12h-4.3M248.80 326.60v-4.3M248.80 19.15v4.3M66.90 187.64h4.3M469.35 187.64h-4.3M339.75 326.60v-4.3M339.75 19.15v4.3M66.90 118.16h4.3M469.35 118.16h-4.3M430.70 326.60v-4.3M430.70 19.15v4.3M66.90 48.68h4.3M469.35 48.68h-4.3M509.80 326.60h-4.3M509.80 292.78h-4.3M509.80 258.96h-4.3M509.80 225.14h-4.3M509.80 191.32h-4.3M509.80 157.50h-4.3M509.80 123.68h-4.3M509.80 89.86h-4.3M509.80 56.04h-4.3M509.80 22.22h-4.3" stroke="#000" stroke-width="1.10" fill="none"/><rect x="66.90" y="19.15" width="402.45" height="307.45" fill="none" stroke="#000" stroke-width="1.25"/><rect x="494.45" y="19.15" width="15.35" height="307.45" fill="none" stroke="#000" stroke-width="1.25"/><g class="tk"><text x="66.50" y="346.95" text-anchor="middle">0</text><text x="58.70" y="331.25" text-anchor="end">0</text><text x="157.45" y="346.95" text-anchor="middle">80</text><text x="58.70" y="261.77" text-anchor="end">80</text><text x="248.40" y="346.95" text-anchor="middle">160</text><text x="58.70" y="192.29" text-anchor="end">160</text><text x="339.35" y="346.95" text-anchor="middle">240</text><text x="58.70" y="122.81" text-anchor="end">240</text><text x="430.30" y="346.95" text-anchor="middle">320</text><text x="58.70" y="53.33" text-anchor="end">320</text><text x="517.00" y="331.35">0.00</text><text x="517.00" y="297.53">0.55</text><text x="517.00" y="263.71">1.10</text><text x="517.00" y="229.89">1.65</text><text x="517.00" y="196.07">2.20</text><text x="517.00" y="162.25">2.75</text><text x="517.00" y="128.43">3.30</text><text x="517.00" y="94.61">3.85</text><text x="517.00" y="60.79">4.40</text><text x="517.00" y="26.97">4.95</text></g><text class="tt"><tspan x="159.30" y="12.80">|</tspan><tspan x="165.20" y="12.80">ξ</tspan><tspan class="sn" x="173.90" y="15.80">n</tspan><tspan x="182.60" y="12.80">|</tspan><tspan class="sb" x="188.40" y="15.80">X</tspan><tspan x="197.10" y="12.80"> [mm] - Ic = 20.0 kAt</tspan></text><text class="lb" transform="translate(219.70 371.10)"><tspan x="0.00" y="0">Δ</tspan><tspan x="14.40" y="0">Φ</tspan><tspan class="sb" x="31.25" y="3.50">E</tspan><tspan class="sb" x="43.70" y="3.50">-</tspan><tspan class="sb" x="51.90" y="3.50">U</tspan><tspan x="63.60" y="0">[</tspan><tspan class="dg" x="75.50" y="-3.10">°</tspan><tspan x="87.50" y="0">]</tspan></text><text class="lb" transform="translate(15.90 219.30) rotate(-90)"><tspan x="0.00" y="0">Δ</tspan><tspan x="14.40" y="0">Φ</tspan><tspan class="sb" x="31.25" y="3.50">E</tspan><tspan class="sb" x="43.70" y="3.50">-</tspan><tspan class="sb" x="51.90" y="3.50">L</tspan><tspan x="61.00" y="0">[</tspan><tspan class="dg" x="72.90" y="-3.10">°</tspan><tspan x="84.90" y="0">]</tspan></text></svg>
</div>
<svg class="caps" width="1850" height="514" viewBox="0 0 1850 514"><text class="cq"><tspan class="cp" x="255.45" y="503.70" textLength="14.56" lengthAdjust="spacingAndGlyphs">(</tspan><tspan x="270.85" y="501.85">a</tspan><tspan class="cp" x="296.50" y="503.70" textLength="14.56" lengthAdjust="spacingAndGlyphs">)</tspan></text><text class="cq"><tspan class="cp" x="902.35" y="503.70" textLength="14.56" lengthAdjust="spacingAndGlyphs">(</tspan><tspan x="917.98" y="501.85">b</tspan><tspan class="cp" x="945.90" y="503.70" textLength="14.56" lengthAdjust="spacingAndGlyphs">)</tspan></text><text class="cq"><tspan class="cp" x="1553.55" y="503.70" textLength="14.56" lengthAdjust="spacingAndGlyphs">(</tspan><tspan x="1568.35" y="501.85">c</tspan><tspan class="cp" x="1590.90" y="503.70" textLength="14.56" lengthAdjust="spacingAndGlyphs">)</tspan></text></svg>
</body></html>
